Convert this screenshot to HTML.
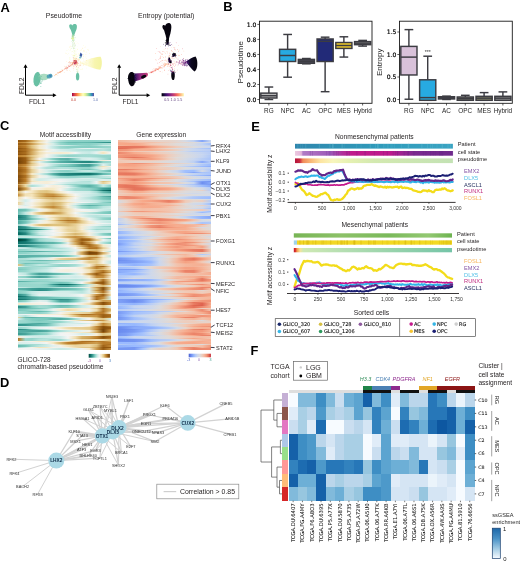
<!DOCTYPE html>
<html lang="en"><head><meta charset="utf-8"><title>Figure</title>
<style>html,body{margin:0;padding:0;background:#fff}svg{display:block}text{font-family:'Liberation Sans', Arial, Helvetica, sans-serif}text.dv{font-family:'DejaVu Sans','Liberation Sans',sans-serif}</style></head>
<body>
<svg width="520" height="563" viewBox="0 0 520 563">
<defs>
<linearGradient id="gFan" x1="0" y1="0" x2="1" y2="0"><stop offset="0" stop-color="#fdf3b0" stop-opacity="0.05"/><stop offset="0.4" stop-color="#fbf4a6" stop-opacity="0.35"/><stop offset="0.7" stop-color="#f6f3a0" stop-opacity="0.85"/><stop offset="1" stop-color="#f3f39c" stop-opacity="0.95"/></linearGradient>
<linearGradient id="gSpec" x1="0" y1="0" x2="1" y2="0"><stop offset="0" stop-color="#9e0142"/><stop offset="0.1" stop-color="#d53e4f"/><stop offset="0.2" stop-color="#f46d43"/><stop offset="0.3" stop-color="#fdae61"/><stop offset="0.4" stop-color="#fee08b"/><stop offset="0.5" stop-color="#ffffbf"/><stop offset="0.6" stop-color="#e6f598"/><stop offset="0.7" stop-color="#abdda4"/><stop offset="0.8" stop-color="#66c2a5"/><stop offset="0.9" stop-color="#3288bd"/><stop offset="1" stop-color="#5e4fa2"/></linearGradient>
<linearGradient id="gRightE"><stop offset="0" stop-color="#2a1760"/><stop offset="0.45" stop-color="#0c0820"/><stop offset="1" stop-color="#05030c"/></linearGradient>
<linearGradient id="gLeftE" x1="0" y1="0" x2="1" y2="0"><stop offset="0" stop-color="#2a115c"/><stop offset="0.4" stop-color="#8c2981"/><stop offset="1" stop-color="#c43c75"/></linearGradient>
<linearGradient id="gMag" x1="0" y1="0" x2="1" y2="0"><stop offset="0" stop-color="#000004"/><stop offset="0.1" stop-color="#160e37"/><stop offset="0.2" stop-color="#3b0f6b"/><stop offset="0.3" stop-color="#641a7e"/><stop offset="0.4" stop-color="#8c2980"/><stop offset="0.5" stop-color="#b63878"/><stop offset="0.6" stop-color="#db4d69"/><stop offset="0.7" stop-color="#f57060"/><stop offset="0.8" stop-color="#fda06f"/><stop offset="0.9" stop-color="#fecf92"/><stop offset="1" stop-color="#fcfdbf"/></linearGradient>
<linearGradient id="m0"><stop offset="0" stop-color="#92560e"/><stop offset="0.08" stop-color="#a5691b"/><stop offset="0.15" stop-color="#ce9f52"/><stop offset="0.23" stop-color="#eedbaa"/><stop offset="0.31" stop-color="#f5f2e9"/><stop offset="0.38" stop-color="#d4edea"/><stop offset="0.46" stop-color="#aaded6"/><stop offset="0.54" stop-color="#92d4ca"/><stop offset="0.62" stop-color="#8bd2c7"/><stop offset="0.69" stop-color="#8bd1c7"/><stop offset="0.77" stop-color="#88d0c5"/><stop offset="0.85" stop-color="#89d1c6"/><stop offset="0.92" stop-color="#8fd3c9"/><stop offset="1" stop-color="#91d4ca"/></linearGradient>
<linearGradient id="m1"><stop offset="0" stop-color="#c0822f"/><stop offset="0.08" stop-color="#ca9748"/><stop offset="0.15" stop-color="#e2c786"/><stop offset="0.23" stop-color="#f6eaca"/><stop offset="0.31" stop-color="#edf3f2"/><stop offset="0.38" stop-color="#bde6e0"/><stop offset="0.46" stop-color="#87d0c5"/><stop offset="0.54" stop-color="#6bbeb3"/><stop offset="0.62" stop-color="#65b9af"/><stop offset="0.69" stop-color="#66baaf"/><stop offset="0.77" stop-color="#61b7ad"/><stop offset="0.85" stop-color="#4ea9a0"/><stop offset="0.92" stop-color="#35978f"/><stop offset="1" stop-color="#2c8e86"/></linearGradient>
<linearGradient id="m2"><stop offset="0" stop-color="#985c12"/><stop offset="0.08" stop-color="#a86c1d"/><stop offset="0.15" stop-color="#cc9b4e"/><stop offset="0.23" stop-color="#e9d39b"/><stop offset="0.31" stop-color="#f5efde"/><stop offset="0.38" stop-color="#d4ede9"/><stop offset="0.46" stop-color="#99d7cd"/><stop offset="0.54" stop-color="#7fcdc1"/><stop offset="0.62" stop-color="#80cdc1"/><stop offset="0.69" stop-color="#88d0c5"/><stop offset="0.77" stop-color="#88d0c5"/><stop offset="0.85" stop-color="#93d5cb"/><stop offset="0.92" stop-color="#a6dcd4"/><stop offset="1" stop-color="#aee0d8"/></linearGradient>
<linearGradient id="m3"><stop offset="0" stop-color="#b27524"/><stop offset="0.08" stop-color="#c48b39"/><stop offset="0.15" stop-color="#e2c887"/><stop offset="0.23" stop-color="#f6ecd2"/><stop offset="0.31" stop-color="#ebf3f1"/><stop offset="0.38" stop-color="#d7eeeb"/><stop offset="0.46" stop-color="#d0ece8"/><stop offset="0.54" stop-color="#c7eae5"/><stop offset="0.62" stop-color="#b0e0d9"/><stop offset="0.69" stop-color="#98d7cd"/><stop offset="0.77" stop-color="#90d3c9"/><stop offset="0.85" stop-color="#a7ddd5"/><stop offset="0.92" stop-color="#caebe6"/><stop offset="1" stop-color="#d5edea"/></linearGradient>
<linearGradient id="m4"><stop offset="0" stop-color="#a26619"/><stop offset="0.08" stop-color="#ba7c29"/><stop offset="0.15" stop-color="#dec07b"/><stop offset="0.23" stop-color="#f6eaca"/><stop offset="0.31" stop-color="#ebf3f2"/><stop offset="0.38" stop-color="#c3e8e3"/><stop offset="0.46" stop-color="#9cd8cf"/><stop offset="0.54" stop-color="#8cd2c7"/><stop offset="0.62" stop-color="#88d0c5"/><stop offset="0.69" stop-color="#87d0c5"/><stop offset="0.77" stop-color="#85cfc4"/><stop offset="0.85" stop-color="#8ad1c6"/><stop offset="0.92" stop-color="#94d5cb"/><stop offset="1" stop-color="#98d7cd"/></linearGradient>
<linearGradient id="m5"><stop offset="0" stop-color="#8b500a"/><stop offset="0.08" stop-color="#a4681b"/><stop offset="0.15" stop-color="#d7b168"/><stop offset="0.23" stop-color="#f6eacb"/><stop offset="0.31" stop-color="#edf3f2"/><stop offset="0.38" stop-color="#c9ebe6"/><stop offset="0.46" stop-color="#a7ddd5"/><stop offset="0.54" stop-color="#9ed9d0"/><stop offset="0.62" stop-color="#c2e8e3"/><stop offset="0.69" stop-color="#e1f0ee"/><stop offset="0.77" stop-color="#e8f2f1"/><stop offset="0.85" stop-color="#d9eeeb"/><stop offset="0.92" stop-color="#bfe7e1"/><stop offset="1" stop-color="#afe0d9"/></linearGradient>
<linearGradient id="m6"><stop offset="0" stop-color="#9a5e13"/><stop offset="0.08" stop-color="#ab6e1f"/><stop offset="0.15" stop-color="#ce9f52"/><stop offset="0.23" stop-color="#ebd6a2"/><stop offset="0.31" stop-color="#f5efdc"/><stop offset="0.38" stop-color="#ebf3f1"/><stop offset="0.46" stop-color="#d5edea"/><stop offset="0.54" stop-color="#c9eae6"/><stop offset="0.62" stop-color="#bde6e0"/><stop offset="0.69" stop-color="#b4e2dc"/><stop offset="0.77" stop-color="#afe0d9"/><stop offset="0.85" stop-color="#b0e0d9"/><stop offset="0.92" stop-color="#b9e4de"/><stop offset="1" stop-color="#a5dcd4"/></linearGradient>
<linearGradient id="m7"><stop offset="0" stop-color="#8a500a"/><stop offset="0.08" stop-color="#a16519"/><stop offset="0.15" stop-color="#d2a85d"/><stop offset="0.23" stop-color="#f6e8c2"/><stop offset="0.31" stop-color="#f5f4f3"/><stop offset="0.38" stop-color="#e5f1ef"/><stop offset="0.46" stop-color="#e0f0ee"/><stop offset="0.54" stop-color="#d6eeea"/><stop offset="0.62" stop-color="#cdebe7"/><stop offset="0.69" stop-color="#c6e9e4"/><stop offset="0.77" stop-color="#c2e8e3"/><stop offset="0.85" stop-color="#daeeeb"/><stop offset="0.92" stop-color="#f6eeda"/><stop offset="1" stop-color="#d5edea"/></linearGradient>
<linearGradient id="m8"><stop offset="0" stop-color="#975b12"/><stop offset="0.08" stop-color="#aa6e1f"/><stop offset="0.15" stop-color="#d2a85d"/><stop offset="0.23" stop-color="#f0deb0"/><stop offset="0.31" stop-color="#f6eeda"/><stop offset="0.38" stop-color="#f6eeda"/><stop offset="0.46" stop-color="#f6ebce"/><stop offset="0.54" stop-color="#f6edd6"/><stop offset="0.62" stop-color="#f2f4f4"/><stop offset="0.69" stop-color="#d1ece8"/><stop offset="0.77" stop-color="#c7eae5"/><stop offset="0.85" stop-color="#e6f1f0"/><stop offset="0.92" stop-color="#f5e6bf"/><stop offset="1" stop-color="#f3f5f4"/></linearGradient>
<linearGradient id="m9"><stop offset="0" stop-color="#8c510a"/><stop offset="0.08" stop-color="#9d6116"/><stop offset="0.15" stop-color="#d0a458"/><stop offset="0.23" stop-color="#f2e2b8"/><stop offset="0.31" stop-color="#f5f3ee"/><stop offset="0.38" stop-color="#d9eeeb"/><stop offset="0.46" stop-color="#c3e8e3"/><stop offset="0.54" stop-color="#b3e2db"/><stop offset="0.62" stop-color="#acdfd7"/><stop offset="0.69" stop-color="#a8ded5"/><stop offset="0.77" stop-color="#a6ddd4"/><stop offset="0.85" stop-color="#b1e1da"/><stop offset="0.92" stop-color="#c8eae5"/><stop offset="1" stop-color="#bce6e0"/></linearGradient>
<linearGradient id="m10"><stop offset="0" stop-color="#bd7f2b"/><stop offset="0.08" stop-color="#c79241"/><stop offset="0.15" stop-color="#e2c685"/><stop offset="0.23" stop-color="#f6e8c4"/><stop offset="0.31" stop-color="#f5f3ee"/><stop offset="0.38" stop-color="#d1ece9"/><stop offset="0.46" stop-color="#a4dcd3"/><stop offset="0.54" stop-color="#92d4ca"/><stop offset="0.62" stop-color="#98d7cd"/><stop offset="0.69" stop-color="#a3dbd3"/><stop offset="0.77" stop-color="#a4dcd4"/><stop offset="0.85" stop-color="#9ed9d0"/><stop offset="0.92" stop-color="#97d6cc"/><stop offset="1" stop-color="#93d5cb"/></linearGradient>
<linearGradient id="m11"><stop offset="0" stop-color="#8a500a"/><stop offset="0.08" stop-color="#a26619"/><stop offset="0.15" stop-color="#d7b269"/><stop offset="0.23" stop-color="#f6ecd1"/><stop offset="0.31" stop-color="#e7f2f0"/><stop offset="0.38" stop-color="#dcefec"/><stop offset="0.46" stop-color="#def0ed"/><stop offset="0.54" stop-color="#d8eeeb"/><stop offset="0.62" stop-color="#d0ece8"/><stop offset="0.69" stop-color="#caebe6"/><stop offset="0.77" stop-color="#c6eae5"/><stop offset="0.85" stop-color="#b5e3dc"/><stop offset="0.92" stop-color="#9ed9d0"/><stop offset="1" stop-color="#93d5ca"/></linearGradient>
<linearGradient id="m12"><stop offset="0" stop-color="#774408"/><stop offset="0.08" stop-color="#995d13"/><stop offset="0.15" stop-color="#dec07a"/><stop offset="0.23" stop-color="#f5f3ef"/><stop offset="0.31" stop-color="#bee7e1"/><stop offset="0.38" stop-color="#83cec2"/><stop offset="0.46" stop-color="#5db4a9"/><stop offset="0.54" stop-color="#56aea5"/><stop offset="0.62" stop-color="#91d4c9"/><stop offset="0.69" stop-color="#d1ece9"/><stop offset="0.77" stop-color="#ddefed"/><stop offset="0.85" stop-color="#ccebe7"/><stop offset="0.92" stop-color="#afe0d9"/><stop offset="1" stop-color="#88d0c5"/></linearGradient>
<linearGradient id="m13"><stop offset="0" stop-color="#7b4709"/><stop offset="0.08" stop-color="#965a11"/><stop offset="0.15" stop-color="#cea054"/><stop offset="0.23" stop-color="#efddaf"/><stop offset="0.31" stop-color="#f5f2e9"/><stop offset="0.38" stop-color="#c3e8e3"/><stop offset="0.46" stop-color="#78c7bc"/><stop offset="0.54" stop-color="#66bbb0"/><stop offset="0.62" stop-color="#83cec3"/><stop offset="0.69" stop-color="#a7ddd5"/><stop offset="0.77" stop-color="#b3e2db"/><stop offset="0.85" stop-color="#d8eeeb"/><stop offset="0.92" stop-color="#f6ecd2"/><stop offset="1" stop-color="#f0f4f3"/></linearGradient>
<linearGradient id="m14"><stop offset="0" stop-color="#734208"/><stop offset="0.08" stop-color="#975b11"/><stop offset="0.15" stop-color="#e7cf95"/><stop offset="0.23" stop-color="#e5f1ef"/><stop offset="0.31" stop-color="#a8ddd5"/><stop offset="0.38" stop-color="#77c6bb"/><stop offset="0.46" stop-color="#56afa5"/><stop offset="0.54" stop-color="#47a49b"/><stop offset="0.62" stop-color="#34968e"/><stop offset="0.69" stop-color="#288a82"/><stop offset="0.77" stop-color="#258880"/><stop offset="0.85" stop-color="#4ba79d"/><stop offset="0.92" stop-color="#93d5cb"/><stop offset="1" stop-color="#9cd8cf"/></linearGradient>
<linearGradient id="m15"><stop offset="0" stop-color="#7b4708"/><stop offset="0.08" stop-color="#9a5e13"/><stop offset="0.15" stop-color="#dec07a"/><stop offset="0.23" stop-color="#f5f0e0"/><stop offset="0.31" stop-color="#e1f0ee"/><stop offset="0.38" stop-color="#d3ede9"/><stop offset="0.46" stop-color="#cfece8"/><stop offset="0.54" stop-color="#caebe6"/><stop offset="0.62" stop-color="#c5e9e4"/><stop offset="0.69" stop-color="#c0e7e1"/><stop offset="0.77" stop-color="#bee6e0"/><stop offset="0.85" stop-color="#c0e7e1"/><stop offset="0.92" stop-color="#c9eae6"/><stop offset="1" stop-color="#b6e3dc"/></linearGradient>
<linearGradient id="m16"><stop offset="0" stop-color="#a86b1d"/><stop offset="0.08" stop-color="#c38836"/><stop offset="0.15" stop-color="#e7cf95"/><stop offset="0.23" stop-color="#f6edd8"/><stop offset="0.31" stop-color="#e4f1ef"/><stop offset="0.38" stop-color="#b9e4de"/><stop offset="0.46" stop-color="#91d4c9"/><stop offset="0.54" stop-color="#80cdc1"/><stop offset="0.62" stop-color="#62b8ad"/><stop offset="0.69" stop-color="#44a299"/><stop offset="0.77" stop-color="#3d9c94"/><stop offset="0.85" stop-color="#7ac9bd"/><stop offset="0.92" stop-color="#e1f0ee"/><stop offset="1" stop-color="#a9ded6"/></linearGradient>
<linearGradient id="m17"><stop offset="0" stop-color="#b07323"/><stop offset="0.08" stop-color="#cfa154"/><stop offset="0.15" stop-color="#f6e7c2"/><stop offset="0.23" stop-color="#f4f5f5"/><stop offset="0.31" stop-color="#d0ece8"/><stop offset="0.38" stop-color="#a2dbd2"/><stop offset="0.46" stop-color="#7bc9be"/><stop offset="0.54" stop-color="#6ec0b5"/><stop offset="0.62" stop-color="#5cb3a9"/><stop offset="0.69" stop-color="#4aa69d"/><stop offset="0.77" stop-color="#4aa69d"/><stop offset="0.85" stop-color="#aee0d8"/><stop offset="0.92" stop-color="#f2e1b6"/><stop offset="1" stop-color="#f5f1e7"/></linearGradient>
<linearGradient id="m18"><stop offset="0" stop-color="#975b11"/><stop offset="0.08" stop-color="#bf812d"/><stop offset="0.15" stop-color="#f2e2b7"/><stop offset="0.23" stop-color="#dff0ed"/><stop offset="0.31" stop-color="#b2e1da"/><stop offset="0.38" stop-color="#addfd8"/><stop offset="0.46" stop-color="#b5e3dc"/><stop offset="0.54" stop-color="#afe0d9"/><stop offset="0.62" stop-color="#a0dad1"/><stop offset="0.69" stop-color="#92d4ca"/><stop offset="0.77" stop-color="#90d3c9"/><stop offset="0.85" stop-color="#c5e9e4"/><stop offset="0.92" stop-color="#f6edd8"/><stop offset="1" stop-color="#d2ede9"/></linearGradient>
<linearGradient id="m19"><stop offset="0" stop-color="#8f530c"/><stop offset="0.08" stop-color="#b17323"/><stop offset="0.15" stop-color="#e7cf94"/><stop offset="0.23" stop-color="#f5f2ea"/><stop offset="0.31" stop-color="#d9eeeb"/><stop offset="0.38" stop-color="#d8eeeb"/><stop offset="0.46" stop-color="#e0f0ee"/><stop offset="0.54" stop-color="#daefec"/><stop offset="0.62" stop-color="#b5e3dc"/><stop offset="0.69" stop-color="#81cdc1"/><stop offset="0.77" stop-color="#72c3b8"/><stop offset="0.85" stop-color="#a1dbd2"/><stop offset="0.92" stop-color="#eef3f3"/><stop offset="1" stop-color="#b4e2dc"/></linearGradient>
<linearGradient id="m20"><stop offset="0" stop-color="#8e530b"/><stop offset="0.08" stop-color="#b47726"/><stop offset="0.15" stop-color="#e7cf94"/><stop offset="0.23" stop-color="#f5f0e2"/><stop offset="0.31" stop-color="#d8eeeb"/><stop offset="0.38" stop-color="#aee0d9"/><stop offset="0.46" stop-color="#8fd3c8"/><stop offset="0.54" stop-color="#87d0c5"/><stop offset="0.62" stop-color="#a0dad1"/><stop offset="0.69" stop-color="#bfe7e1"/><stop offset="0.77" stop-color="#c6eae5"/><stop offset="0.85" stop-color="#aee0d8"/><stop offset="0.92" stop-color="#8fd3c9"/><stop offset="1" stop-color="#67bbb1"/></linearGradient>
<linearGradient id="m21"><stop offset="0" stop-color="#975c12"/><stop offset="0.08" stop-color="#bb7d2a"/><stop offset="0.15" stop-color="#e7cf95"/><stop offset="0.23" stop-color="#f5efde"/><stop offset="0.31" stop-color="#e3f1ef"/><stop offset="0.38" stop-color="#c1e7e2"/><stop offset="0.46" stop-color="#9ed9d0"/><stop offset="0.54" stop-color="#92d5ca"/><stop offset="0.62" stop-color="#8ad1c6"/><stop offset="0.69" stop-color="#84cfc3"/><stop offset="0.77" stop-color="#82cec2"/><stop offset="0.85" stop-color="#90d4c9"/><stop offset="0.92" stop-color="#a6ddd4"/><stop offset="1" stop-color="#b1e1da"/></linearGradient>
<linearGradient id="m22"><stop offset="0" stop-color="#975b12"/><stop offset="0.08" stop-color="#c48b39"/><stop offset="0.15" stop-color="#f6e9c7"/><stop offset="0.23" stop-color="#dcefec"/><stop offset="0.31" stop-color="#a1dad2"/><stop offset="0.38" stop-color="#5cb3a9"/><stop offset="0.46" stop-color="#2c8e86"/><stop offset="0.54" stop-color="#21847c"/><stop offset="0.62" stop-color="#197d75"/><stop offset="0.69" stop-color="#12766e"/><stop offset="0.77" stop-color="#11756d"/><stop offset="0.85" stop-color="#2d8f87"/><stop offset="0.92" stop-color="#64b9af"/><stop offset="1" stop-color="#80cdc1"/></linearGradient>
<linearGradient id="m23"><stop offset="0" stop-color="#844d09"/><stop offset="0.08" stop-color="#ad7021"/><stop offset="0.15" stop-color="#e5cc90"/><stop offset="0.23" stop-color="#f5f0e0"/><stop offset="0.31" stop-color="#d9eeeb"/><stop offset="0.38" stop-color="#8bd2c7"/><stop offset="0.46" stop-color="#43a198"/><stop offset="0.54" stop-color="#34968e"/><stop offset="0.62" stop-color="#46a39a"/><stop offset="0.69" stop-color="#5db4aa"/><stop offset="0.77" stop-color="#65baaf"/><stop offset="0.85" stop-color="#95d6cc"/><stop offset="0.92" stop-color="#d4edea"/><stop offset="1" stop-color="#e9f2f1"/></linearGradient>
<linearGradient id="m24"><stop offset="0" stop-color="#814a09"/><stop offset="0.08" stop-color="#ae7122"/><stop offset="0.15" stop-color="#e8d199"/><stop offset="0.23" stop-color="#f5f1e6"/><stop offset="0.31" stop-color="#e6f1f0"/><stop offset="0.38" stop-color="#c5e9e4"/><stop offset="0.46" stop-color="#9ed9d0"/><stop offset="0.54" stop-color="#93d5cb"/><stop offset="0.62" stop-color="#97d6cd"/><stop offset="0.69" stop-color="#9ed9d0"/><stop offset="0.77" stop-color="#a1dad1"/><stop offset="0.85" stop-color="#abdfd7"/><stop offset="0.92" stop-color="#bce5df"/><stop offset="1" stop-color="#c4e9e3"/></linearGradient>
<linearGradient id="m25"><stop offset="0" stop-color="#8b500a"/><stop offset="0.08" stop-color="#c18532"/><stop offset="0.15" stop-color="#f6eacc"/><stop offset="0.23" stop-color="#d7eeea"/><stop offset="0.31" stop-color="#d5edea"/><stop offset="0.38" stop-color="#d5edea"/><stop offset="0.46" stop-color="#cdece7"/><stop offset="0.54" stop-color="#c4e9e4"/><stop offset="0.62" stop-color="#ccebe7"/><stop offset="0.69" stop-color="#d8eeeb"/><stop offset="0.77" stop-color="#daefec"/><stop offset="0.85" stop-color="#c8eae5"/><stop offset="0.92" stop-color="#a1dbd2"/><stop offset="1" stop-color="#8fd3c8"/></linearGradient>
<linearGradient id="m26"><stop offset="0" stop-color="#804a09"/><stop offset="0.08" stop-color="#ba7c29"/><stop offset="0.15" stop-color="#f6ebcd"/><stop offset="0.23" stop-color="#cfece8"/><stop offset="0.31" stop-color="#dbefec"/><stop offset="0.38" stop-color="#ebf3f2"/><stop offset="0.46" stop-color="#eff3f3"/><stop offset="0.54" stop-color="#e2f0ee"/><stop offset="0.62" stop-color="#d6edea"/><stop offset="0.69" stop-color="#ceece7"/><stop offset="0.77" stop-color="#cbebe6"/><stop offset="0.85" stop-color="#d2ede9"/><stop offset="0.92" stop-color="#e2f0ee"/><stop offset="1" stop-color="#daeeeb"/></linearGradient>
<linearGradient id="m27"><stop offset="0" stop-color="#7c4809"/><stop offset="0.08" stop-color="#b87a28"/><stop offset="0.15" stop-color="#f3e3ba"/><stop offset="0.23" stop-color="#f6eed9"/><stop offset="0.31" stop-color="#f6edd5"/><stop offset="0.38" stop-color="#f5efdf"/><stop offset="0.46" stop-color="#f5f4f2"/><stop offset="0.54" stop-color="#e4f1ef"/><stop offset="0.62" stop-color="#ceece8"/><stop offset="0.69" stop-color="#b7e3dd"/><stop offset="0.77" stop-color="#b0e1d9"/><stop offset="0.85" stop-color="#eef3f3"/><stop offset="0.92" stop-color="#debf7a"/><stop offset="1" stop-color="#efdcae"/></linearGradient>
<linearGradient id="m28"><stop offset="0" stop-color="#93580f"/><stop offset="0.08" stop-color="#cb9a4c"/><stop offset="0.15" stop-color="#f5f0e3"/><stop offset="0.23" stop-color="#f5efdf"/><stop offset="0.31" stop-color="#f6edd7"/><stop offset="0.38" stop-color="#f5f2ea"/><stop offset="0.46" stop-color="#e1f0ee"/><stop offset="0.54" stop-color="#c9eae6"/><stop offset="0.62" stop-color="#bbe5df"/><stop offset="0.69" stop-color="#b9e4de"/><stop offset="0.77" stop-color="#b9e4de"/><stop offset="0.85" stop-color="#eaf2f1"/><stop offset="0.92" stop-color="#e7d097"/><stop offset="1" stop-color="#f6ebcf"/></linearGradient>
<linearGradient id="m29"><stop offset="0" stop-color="#cfa154"/><stop offset="0.08" stop-color="#edd9a8"/><stop offset="0.15" stop-color="#d7eeeb"/><stop offset="0.23" stop-color="#dff0ed"/><stop offset="0.31" stop-color="#e9f2f1"/><stop offset="0.38" stop-color="#e0f0ee"/><stop offset="0.46" stop-color="#c8eae5"/><stop offset="0.54" stop-color="#a2dbd2"/><stop offset="0.62" stop-color="#8ed3c8"/><stop offset="0.69" stop-color="#89d0c5"/><stop offset="0.77" stop-color="#85cfc4"/><stop offset="0.85" stop-color="#9ed9d0"/><stop offset="0.92" stop-color="#ceece7"/><stop offset="1" stop-color="#b9e4de"/></linearGradient>
<linearGradient id="m30"><stop offset="0" stop-color="#a76b1d"/><stop offset="0.08" stop-color="#ead59f"/><stop offset="0.15" stop-color="#addfd8"/><stop offset="0.23" stop-color="#ceece7"/><stop offset="0.31" stop-color="#f5f4f1"/><stop offset="0.38" stop-color="#f6edd8"/><stop offset="0.46" stop-color="#f5f2e8"/><stop offset="0.54" stop-color="#d3ede9"/><stop offset="0.62" stop-color="#96d6cc"/><stop offset="0.69" stop-color="#6bbeb3"/><stop offset="0.77" stop-color="#59b1a7"/><stop offset="0.85" stop-color="#7ac9bd"/><stop offset="0.92" stop-color="#c8eae5"/><stop offset="1" stop-color="#86cfc4"/></linearGradient>
<linearGradient id="m31"><stop offset="0" stop-color="#965a11"/><stop offset="0.08" stop-color="#d5ae64"/><stop offset="0.15" stop-color="#f5f4f1"/><stop offset="0.23" stop-color="#f5f2e9"/><stop offset="0.31" stop-color="#f6eeda"/><stop offset="0.38" stop-color="#f6edd6"/><stop offset="0.46" stop-color="#f5f0e0"/><stop offset="0.54" stop-color="#e8f2f1"/><stop offset="0.62" stop-color="#b9e4de"/><stop offset="0.69" stop-color="#84cfc3"/><stop offset="0.77" stop-color="#6fc1b6"/><stop offset="0.85" stop-color="#6dc0b5"/><stop offset="0.92" stop-color="#76c6ba"/><stop offset="1" stop-color="#60b6ab"/></linearGradient>
<linearGradient id="m32"><stop offset="0" stop-color="#7c4809"/><stop offset="0.08" stop-color="#ca9849"/><stop offset="0.15" stop-color="#f5f0e3"/><stop offset="0.23" stop-color="#f5efdd"/><stop offset="0.31" stop-color="#f6e8c2"/><stop offset="0.38" stop-color="#f6e9c6"/><stop offset="0.46" stop-color="#f5f3ed"/><stop offset="0.54" stop-color="#cbebe6"/><stop offset="0.62" stop-color="#a4dcd3"/><stop offset="0.69" stop-color="#9cd8cf"/><stop offset="0.77" stop-color="#93d5cb"/><stop offset="0.85" stop-color="#71c2b7"/><stop offset="0.92" stop-color="#42a198"/><stop offset="1" stop-color="#2e9088"/></linearGradient>
<linearGradient id="m33"><stop offset="0" stop-color="#92570e"/><stop offset="0.08" stop-color="#e7d097"/><stop offset="0.15" stop-color="#f6e9c9"/><stop offset="0.23" stop-color="#e8d198"/><stop offset="0.31" stop-color="#e3c889"/><stop offset="0.38" stop-color="#f0dfb2"/><stop offset="0.46" stop-color="#f5f5f5"/><stop offset="0.54" stop-color="#c4e9e3"/><stop offset="0.62" stop-color="#a2dbd2"/><stop offset="0.69" stop-color="#9cd8cf"/><stop offset="0.77" stop-color="#93d5cb"/><stop offset="0.85" stop-color="#58b0a6"/><stop offset="0.92" stop-color="#12766e"/><stop offset="1" stop-color="#015c53"/></linearGradient>
<linearGradient id="m34"><stop offset="0" stop-color="#ddbd77"/><stop offset="0.08" stop-color="#f5f2e9"/><stop offset="0.15" stop-color="#f6e8c4"/><stop offset="0.23" stop-color="#e4cb8d"/><stop offset="0.31" stop-color="#e0c480"/><stop offset="0.38" stop-color="#e9d29b"/><stop offset="0.46" stop-color="#f6ecd1"/><stop offset="0.54" stop-color="#f1f4f3"/><stop offset="0.62" stop-color="#ddefed"/><stop offset="0.69" stop-color="#d7eeea"/><stop offset="0.77" stop-color="#d0ece8"/><stop offset="0.85" stop-color="#a7ddd5"/><stop offset="0.92" stop-color="#66baaf"/><stop offset="1" stop-color="#43a199"/></linearGradient>
<linearGradient id="m35"><stop offset="0" stop-color="#d4ac62"/><stop offset="0.08" stop-color="#f4e5be"/><stop offset="0.15" stop-color="#eddaa9"/><stop offset="0.23" stop-color="#dab870"/><stop offset="0.31" stop-color="#cfa154"/><stop offset="0.38" stop-color="#d6b067"/><stop offset="0.46" stop-color="#ecd8a6"/><stop offset="0.54" stop-color="#f5efdf"/><stop offset="0.62" stop-color="#ecf3f2"/><stop offset="0.69" stop-color="#dff0ed"/><stop offset="0.77" stop-color="#d6eeea"/><stop offset="0.85" stop-color="#bfe7e1"/><stop offset="0.92" stop-color="#95d6cc"/><stop offset="1" stop-color="#80cdc1"/></linearGradient>
<linearGradient id="m36"><stop offset="0" stop-color="#c6903f"/><stop offset="0.08" stop-color="#f1e0b5"/><stop offset="0.15" stop-color="#f4e4bc"/><stop offset="0.23" stop-color="#ddbf79"/><stop offset="0.31" stop-color="#c99646"/><stop offset="0.38" stop-color="#c68f3e"/><stop offset="0.46" stop-color="#dab871"/><stop offset="0.54" stop-color="#f4e5bd"/><stop offset="0.62" stop-color="#f5f4f0"/><stop offset="0.69" stop-color="#dbefec"/><stop offset="0.77" stop-color="#ccebe7"/><stop offset="0.85" stop-color="#bbe5df"/><stop offset="0.92" stop-color="#a7ddd5"/><stop offset="1" stop-color="#9dd9cf"/></linearGradient>
<linearGradient id="m37"><stop offset="0" stop-color="#d9b76f"/><stop offset="0.08" stop-color="#f6ebcd"/><stop offset="0.15" stop-color="#f4e5be"/><stop offset="0.23" stop-color="#d9b76f"/><stop offset="0.31" stop-color="#c38937"/><stop offset="0.38" stop-color="#b77a28"/><stop offset="0.46" stop-color="#c99445"/><stop offset="0.54" stop-color="#e6ce94"/><stop offset="0.62" stop-color="#f5efdd"/><stop offset="0.69" stop-color="#dff0ed"/><stop offset="0.77" stop-color="#c9eae6"/><stop offset="0.85" stop-color="#9dd9d0"/><stop offset="0.92" stop-color="#62b8ad"/><stop offset="1" stop-color="#43a198"/></linearGradient>
<linearGradient id="m38"><stop offset="0" stop-color="#f2e1b7"/><stop offset="0.08" stop-color="#f5f5f3"/><stop offset="0.15" stop-color="#f6eacc"/><stop offset="0.23" stop-color="#e7cf95"/><stop offset="0.31" stop-color="#dab871"/><stop offset="0.38" stop-color="#d5ae65"/><stop offset="0.46" stop-color="#e1c583"/><stop offset="0.54" stop-color="#f4e4bc"/><stop offset="0.62" stop-color="#f5f4f1"/><stop offset="0.69" stop-color="#d1ece8"/><stop offset="0.77" stop-color="#b7e3dd"/><stop offset="0.85" stop-color="#99d7ce"/><stop offset="0.92" stop-color="#77c7bb"/><stop offset="1" stop-color="#64b9ae"/></linearGradient>
<linearGradient id="m39"><stop offset="0" stop-color="#f6e9c6"/><stop offset="0.08" stop-color="#dbefec"/><stop offset="0.15" stop-color="#e9f2f1"/><stop offset="0.23" stop-color="#f6eeda"/><stop offset="0.31" stop-color="#ecd7a4"/><stop offset="0.38" stop-color="#e0c481"/><stop offset="0.46" stop-color="#e6cd91"/><stop offset="0.54" stop-color="#f6ecd2"/><stop offset="0.62" stop-color="#eaf2f1"/><stop offset="0.69" stop-color="#d3ede9"/><stop offset="0.77" stop-color="#c4e9e4"/><stop offset="0.85" stop-color="#a5dcd4"/><stop offset="0.92" stop-color="#81cec2"/><stop offset="1" stop-color="#6dc0b5"/></linearGradient>
<linearGradient id="m40"><stop offset="0" stop-color="#f6ecd4"/><stop offset="0.08" stop-color="#d4edea"/><stop offset="0.15" stop-color="#f3f4f4"/><stop offset="0.23" stop-color="#f6ecd1"/><stop offset="0.31" stop-color="#eedaa9"/><stop offset="0.38" stop-color="#e7d097"/><stop offset="0.46" stop-color="#efddaf"/><stop offset="0.54" stop-color="#f5efdd"/><stop offset="0.62" stop-color="#ecf3f2"/><stop offset="0.69" stop-color="#deefed"/><stop offset="0.77" stop-color="#d4edea"/><stop offset="0.85" stop-color="#c3e8e3"/><stop offset="0.92" stop-color="#a5dcd4"/><stop offset="1" stop-color="#96d6cc"/></linearGradient>
<linearGradient id="m41"><stop offset="0" stop-color="#e9d29a"/><stop offset="0.08" stop-color="#e3f1ef"/><stop offset="0.15" stop-color="#f5f1e5"/><stop offset="0.23" stop-color="#f3e4bb"/><stop offset="0.31" stop-color="#e3c989"/><stop offset="0.38" stop-color="#d8b36b"/><stop offset="0.46" stop-color="#debf7a"/><stop offset="0.54" stop-color="#f0deb1"/><stop offset="0.62" stop-color="#f5efde"/><stop offset="0.69" stop-color="#f2f4f4"/><stop offset="0.77" stop-color="#e4f1ef"/><stop offset="0.85" stop-color="#c8eae5"/><stop offset="0.92" stop-color="#8fd3c9"/><stop offset="1" stop-color="#71c2b7"/></linearGradient>
<linearGradient id="m42"><stop offset="0" stop-color="#ebd6a3"/><stop offset="0.08" stop-color="#e3f1ef"/><stop offset="0.15" stop-color="#f5f0e3"/><stop offset="0.23" stop-color="#f0dfb2"/><stop offset="0.31" stop-color="#dec17c"/><stop offset="0.38" stop-color="#d4ac62"/><stop offset="0.46" stop-color="#e0c481"/><stop offset="0.54" stop-color="#f6ecd1"/><stop offset="0.62" stop-color="#deefed"/><stop offset="0.69" stop-color="#b5e3dc"/><stop offset="0.77" stop-color="#9cd9cf"/><stop offset="0.85" stop-color="#96d6cc"/><stop offset="0.92" stop-color="#97d6cd"/><stop offset="1" stop-color="#97d6cc"/></linearGradient>
<linearGradient id="m43"><stop offset="0" stop-color="#f5f0e4"/><stop offset="0.08" stop-color="#d8eeeb"/><stop offset="0.15" stop-color="#f5f3ef"/><stop offset="0.23" stop-color="#f4e5bd"/><stop offset="0.31" stop-color="#e0c480"/><stop offset="0.38" stop-color="#d5ae64"/><stop offset="0.46" stop-color="#e4cb8d"/><stop offset="0.54" stop-color="#f5f1e4"/><stop offset="0.62" stop-color="#bde6e0"/><stop offset="0.69" stop-color="#76c5ba"/><stop offset="0.77" stop-color="#57b0a6"/><stop offset="0.85" stop-color="#67bbb0"/><stop offset="0.92" stop-color="#8ad1c6"/><stop offset="1" stop-color="#99d7ce"/></linearGradient>
<linearGradient id="m44"><stop offset="0" stop-color="#f5f1e6"/><stop offset="0.08" stop-color="#ebf3f2"/><stop offset="0.15" stop-color="#f6eedb"/><stop offset="0.23" stop-color="#e9d39c"/><stop offset="0.31" stop-color="#cea053"/><stop offset="0.38" stop-color="#c28835"/><stop offset="0.46" stop-color="#d7b26a"/><stop offset="0.54" stop-color="#f6ecd2"/><stop offset="0.62" stop-color="#d3ede9"/><stop offset="0.69" stop-color="#9ed9d0"/><stop offset="0.77" stop-color="#84cfc3"/><stop offset="0.85" stop-color="#95d6cc"/><stop offset="0.92" stop-color="#bbe5df"/><stop offset="1" stop-color="#caebe6"/></linearGradient>
<linearGradient id="m45"><stop offset="0" stop-color="#caebe6"/><stop offset="0.08" stop-color="#bde6e0"/><stop offset="0.15" stop-color="#deefed"/><stop offset="0.23" stop-color="#f6eedb"/><stop offset="0.31" stop-color="#e7d096"/><stop offset="0.38" stop-color="#d3a95f"/><stop offset="0.46" stop-color="#d7b168"/><stop offset="0.54" stop-color="#f2e2b8"/><stop offset="0.62" stop-color="#e9f2f1"/><stop offset="0.69" stop-color="#b0e1d9"/><stop offset="0.77" stop-color="#92d4ca"/><stop offset="0.85" stop-color="#a2dbd2"/><stop offset="0.92" stop-color="#c7eae5"/><stop offset="1" stop-color="#d2ede9"/></linearGradient>
<linearGradient id="m46"><stop offset="0" stop-color="#64b9ae"/><stop offset="0.08" stop-color="#76c6ba"/><stop offset="0.15" stop-color="#b5e3dc"/><stop offset="0.23" stop-color="#ecf3f2"/><stop offset="0.31" stop-color="#f6eacb"/><stop offset="0.38" stop-color="#e8d097"/><stop offset="0.46" stop-color="#e1c684"/><stop offset="0.54" stop-color="#f1dfb2"/><stop offset="0.62" stop-color="#f5f1e7"/><stop offset="0.69" stop-color="#f3f5f4"/><stop offset="0.77" stop-color="#ebf3f1"/><stop offset="0.85" stop-color="#dcefec"/><stop offset="0.92" stop-color="#ccebe7"/><stop offset="1" stop-color="#c2e8e3"/></linearGradient>
<linearGradient id="m47"><stop offset="0" stop-color="#6cbeb4"/><stop offset="0.08" stop-color="#94d5cb"/><stop offset="0.15" stop-color="#d0ece8"/><stop offset="0.23" stop-color="#f5f2e9"/><stop offset="0.31" stop-color="#f1e0b4"/><stop offset="0.38" stop-color="#e3c989"/><stop offset="0.46" stop-color="#e0c481"/><stop offset="0.54" stop-color="#f2e1b7"/><stop offset="0.62" stop-color="#f5f0e0"/><stop offset="0.69" stop-color="#f5f0e1"/><stop offset="0.77" stop-color="#f5f2e9"/><stop offset="0.85" stop-color="#ddefed"/><stop offset="0.92" stop-color="#a0dad1"/><stop offset="1" stop-color="#7bcabe"/></linearGradient>
<linearGradient id="m48"><stop offset="0" stop-color="#71c2b7"/><stop offset="0.08" stop-color="#c1e7e2"/><stop offset="0.15" stop-color="#f6edd6"/><stop offset="0.23" stop-color="#e0c37f"/><stop offset="0.31" stop-color="#cc9b4d"/><stop offset="0.38" stop-color="#c89445"/><stop offset="0.46" stop-color="#d4ab61"/><stop offset="0.54" stop-color="#f1e0b4"/><stop offset="0.62" stop-color="#f3f5f4"/><stop offset="0.69" stop-color="#d2ede9"/><stop offset="0.77" stop-color="#b8e4dd"/><stop offset="0.85" stop-color="#9cd9cf"/><stop offset="0.92" stop-color="#84cec3"/><stop offset="1" stop-color="#75c5ba"/></linearGradient>
<linearGradient id="m49"><stop offset="0" stop-color="#70c2b7"/><stop offset="0.08" stop-color="#b8e4dd"/><stop offset="0.15" stop-color="#f5efdf"/><stop offset="0.23" stop-color="#e8d29a"/><stop offset="0.31" stop-color="#e0c37f"/><stop offset="0.38" stop-color="#debf7a"/><stop offset="0.46" stop-color="#e1c582"/><stop offset="0.54" stop-color="#eedaa9"/><stop offset="0.62" stop-color="#f5efdf"/><stop offset="0.69" stop-color="#e8f2f0"/><stop offset="0.77" stop-color="#d7eeea"/><stop offset="0.85" stop-color="#d6eeea"/><stop offset="0.92" stop-color="#def0ed"/><stop offset="1" stop-color="#e1f0ee"/></linearGradient>
<linearGradient id="m50"><stop offset="0" stop-color="#197d75"/><stop offset="0.08" stop-color="#3d9d94"/><stop offset="0.15" stop-color="#94d5cb"/><stop offset="0.23" stop-color="#d8eeeb"/><stop offset="0.31" stop-color="#f5f3ec"/><stop offset="0.38" stop-color="#f6eacb"/><stop offset="0.46" stop-color="#eddaa9"/><stop offset="0.54" stop-color="#eddaa9"/><stop offset="0.62" stop-color="#f5efdd"/><stop offset="0.69" stop-color="#e0f0ee"/><stop offset="0.77" stop-color="#c3e8e3"/><stop offset="0.85" stop-color="#b7e3dd"/><stop offset="0.92" stop-color="#bce6e0"/><stop offset="1" stop-color="#bee6e1"/></linearGradient>
<linearGradient id="m51"><stop offset="0" stop-color="#12766e"/><stop offset="0.08" stop-color="#389991"/><stop offset="0.15" stop-color="#99d7ce"/><stop offset="0.23" stop-color="#e0f0ee"/><stop offset="0.31" stop-color="#f5efdf"/><stop offset="0.38" stop-color="#eedbab"/><stop offset="0.46" stop-color="#debf7a"/><stop offset="0.54" stop-color="#d6b067"/><stop offset="0.62" stop-color="#e6cd92"/><stop offset="0.69" stop-color="#f5efde"/><stop offset="0.77" stop-color="#d6eeea"/><stop offset="0.85" stop-color="#b2e1da"/><stop offset="0.92" stop-color="#9fd9d0"/><stop offset="1" stop-color="#95d5cc"/></linearGradient>
<linearGradient id="m52"><stop offset="0" stop-color="#24877f"/><stop offset="0.08" stop-color="#3b9b93"/><stop offset="0.15" stop-color="#71c2b7"/><stop offset="0.23" stop-color="#acdfd7"/><stop offset="0.31" stop-color="#e4f1ef"/><stop offset="0.38" stop-color="#f6e8c4"/><stop offset="0.46" stop-color="#dec07b"/><stop offset="0.54" stop-color="#d1a559"/><stop offset="0.62" stop-color="#d8b36b"/><stop offset="0.69" stop-color="#f4e4bd"/><stop offset="0.77" stop-color="#ecf3f2"/><stop offset="0.85" stop-color="#bfe7e1"/><stop offset="0.92" stop-color="#94d5cb"/><stop offset="1" stop-color="#7fccc1"/></linearGradient>
<linearGradient id="m53"><stop offset="0" stop-color="#5db4aa"/><stop offset="0.08" stop-color="#80cdc1"/><stop offset="0.15" stop-color="#bde6e0"/><stop offset="0.23" stop-color="#ebf3f2"/><stop offset="0.31" stop-color="#f6ebd0"/><stop offset="0.38" stop-color="#e3c889"/><stop offset="0.46" stop-color="#c58d3c"/><stop offset="0.54" stop-color="#ae7121"/><stop offset="0.62" stop-color="#bc7e2b"/><stop offset="0.69" stop-color="#e7d097"/><stop offset="0.77" stop-color="#f5f3ee"/><stop offset="0.85" stop-color="#d9eeeb"/><stop offset="0.92" stop-color="#d0ece8"/><stop offset="1" stop-color="#ccebe7"/></linearGradient>
<linearGradient id="m54"><stop offset="0" stop-color="#4da99f"/><stop offset="0.08" stop-color="#72c3b8"/><stop offset="0.15" stop-color="#b4e2db"/><stop offset="0.23" stop-color="#e7f2f0"/><stop offset="0.31" stop-color="#f5efdc"/><stop offset="0.38" stop-color="#f2e1b6"/><stop offset="0.46" stop-color="#e0c480"/><stop offset="0.54" stop-color="#cd9d4f"/><stop offset="0.62" stop-color="#cb9a4c"/><stop offset="0.69" stop-color="#e4ca8b"/><stop offset="0.77" stop-color="#f6ecd3"/><stop offset="0.85" stop-color="#ebf3f2"/><stop offset="0.92" stop-color="#d2ede9"/><stop offset="1" stop-color="#c4e9e3"/></linearGradient>
<linearGradient id="m55"><stop offset="0" stop-color="#4da89f"/><stop offset="0.08" stop-color="#81cdc2"/><stop offset="0.15" stop-color="#d6eeea"/><stop offset="0.23" stop-color="#f5efe0"/><stop offset="0.31" stop-color="#f6e8c4"/><stop offset="0.38" stop-color="#eedbab"/><stop offset="0.46" stop-color="#e3c98a"/><stop offset="0.54" stop-color="#dab770"/><stop offset="0.62" stop-color="#dec07b"/><stop offset="0.69" stop-color="#ead49f"/><stop offset="0.77" stop-color="#f6e9c8"/><stop offset="0.85" stop-color="#f5f1e5"/><stop offset="0.92" stop-color="#f0f4f3"/><stop offset="1" stop-color="#e5f1ef"/></linearGradient>
<linearGradient id="m56"><stop offset="0" stop-color="#99d7ce"/><stop offset="0.08" stop-color="#d1ece8"/><stop offset="0.15" stop-color="#f6ebcd"/><stop offset="0.23" stop-color="#e1c582"/><stop offset="0.31" stop-color="#dab971"/><stop offset="0.38" stop-color="#dfc37e"/><stop offset="0.46" stop-color="#dec07b"/><stop offset="0.54" stop-color="#dcbc76"/><stop offset="0.62" stop-color="#e7cf96"/><stop offset="0.69" stop-color="#f6e9c8"/><stop offset="0.77" stop-color="#f5f1e7"/><stop offset="0.85" stop-color="#e8f2f0"/><stop offset="0.92" stop-color="#d1ece9"/><stop offset="1" stop-color="#c5e9e4"/></linearGradient>
<linearGradient id="m57"><stop offset="0" stop-color="#187c74"/><stop offset="0.08" stop-color="#53aca3"/><stop offset="0.15" stop-color="#d2ede9"/><stop offset="0.23" stop-color="#f6edd5"/><stop offset="0.31" stop-color="#f6e8c4"/><stop offset="0.38" stop-color="#f6eacb"/><stop offset="0.46" stop-color="#f3e2b8"/><stop offset="0.54" stop-color="#e6ce93"/><stop offset="0.62" stop-color="#e9d29b"/><stop offset="0.69" stop-color="#f6edd6"/><stop offset="0.77" stop-color="#dff0ed"/><stop offset="0.85" stop-color="#b9e4de"/><stop offset="0.92" stop-color="#9cd8cf"/><stop offset="1" stop-color="#8dd2c8"/></linearGradient>
<linearGradient id="m58"><stop offset="0" stop-color="#1c7f77"/><stop offset="0.08" stop-color="#32948c"/><stop offset="0.15" stop-color="#70c2b6"/><stop offset="0.23" stop-color="#abdfd7"/><stop offset="0.31" stop-color="#d3ede9"/><stop offset="0.38" stop-color="#f3f5f4"/><stop offset="0.46" stop-color="#f6ebcf"/><stop offset="0.54" stop-color="#ecd7a4"/><stop offset="0.62" stop-color="#e9d39b"/><stop offset="0.69" stop-color="#f6ecd1"/><stop offset="0.77" stop-color="#ddefed"/><stop offset="0.85" stop-color="#bbe5df"/><stop offset="0.92" stop-color="#b2e2db"/><stop offset="1" stop-color="#b0e0d9"/></linearGradient>
<linearGradient id="m59"><stop offset="0" stop-color="#01645c"/><stop offset="0.08" stop-color="#086c64"/><stop offset="0.15" stop-color="#177b73"/><stop offset="0.23" stop-color="#34968e"/><stop offset="0.31" stop-color="#84cfc3"/><stop offset="0.38" stop-color="#e2f0ee"/><stop offset="0.46" stop-color="#f6e9c8"/><stop offset="0.54" stop-color="#e8d097"/><stop offset="0.62" stop-color="#e8d097"/><stop offset="0.69" stop-color="#f6eeda"/><stop offset="0.77" stop-color="#caebe6"/><stop offset="0.85" stop-color="#9cd8cf"/><stop offset="0.92" stop-color="#a0dad1"/><stop offset="1" stop-color="#a4dcd3"/></linearGradient>
<linearGradient id="m60"><stop offset="0" stop-color="#2d8f87"/><stop offset="0.08" stop-color="#48a59c"/><stop offset="0.15" stop-color="#84cfc3"/><stop offset="0.23" stop-color="#bfe7e1"/><stop offset="0.31" stop-color="#dff0ed"/><stop offset="0.38" stop-color="#f5f5f5"/><stop offset="0.46" stop-color="#f6ecd1"/><stop offset="0.54" stop-color="#ead59f"/><stop offset="0.62" stop-color="#e4cb8e"/><stop offset="0.69" stop-color="#f5e6bf"/><stop offset="0.77" stop-color="#ecf3f2"/><stop offset="0.85" stop-color="#cdebe7"/><stop offset="0.92" stop-color="#d1ece8"/><stop offset="1" stop-color="#d4edea"/></linearGradient>
<linearGradient id="m61"><stop offset="0" stop-color="#10746c"/><stop offset="0.08" stop-color="#31938b"/><stop offset="0.15" stop-color="#8cd2c7"/><stop offset="0.23" stop-color="#d2ede9"/><stop offset="0.31" stop-color="#e6f1f0"/><stop offset="0.38" stop-color="#eaf2f1"/><stop offset="0.46" stop-color="#f5f3ed"/><stop offset="0.54" stop-color="#f6e9c5"/><stop offset="0.62" stop-color="#ecd7a4"/><stop offset="0.69" stop-color="#f0deb0"/><stop offset="0.77" stop-color="#f5f0e3"/><stop offset="0.85" stop-color="#deefed"/><stop offset="0.92" stop-color="#d0ece8"/><stop offset="1" stop-color="#caebe6"/></linearGradient>
<linearGradient id="m62"><stop offset="0" stop-color="#046961"/><stop offset="0.08" stop-color="#24877f"/><stop offset="0.15" stop-color="#77c6bb"/><stop offset="0.23" stop-color="#c4e9e4"/><stop offset="0.31" stop-color="#e1f0ee"/><stop offset="0.38" stop-color="#f1f4f4"/><stop offset="0.46" stop-color="#f6edd5"/><stop offset="0.54" stop-color="#e7cf94"/><stop offset="0.62" stop-color="#d9b66e"/><stop offset="0.69" stop-color="#e5cc8f"/><stop offset="0.77" stop-color="#f5f0e1"/><stop offset="0.85" stop-color="#c8eae5"/><stop offset="0.92" stop-color="#8cd2c7"/><stop offset="1" stop-color="#6cbfb4"/></linearGradient>
<linearGradient id="m63"><stop offset="0" stop-color="#8cd2c7"/><stop offset="0.08" stop-color="#8ed3c8"/><stop offset="0.15" stop-color="#90d3c9"/><stop offset="0.23" stop-color="#a5dcd4"/><stop offset="0.31" stop-color="#cdebe7"/><stop offset="0.38" stop-color="#e9f2f1"/><stop offset="0.46" stop-color="#f6eed9"/><stop offset="0.54" stop-color="#ecd8a5"/><stop offset="0.62" stop-color="#e3c889"/><stop offset="0.69" stop-color="#ecd8a6"/><stop offset="0.77" stop-color="#f5f1e7"/><stop offset="0.85" stop-color="#cfece8"/><stop offset="0.92" stop-color="#a5dcd4"/><stop offset="1" stop-color="#8dd2c8"/></linearGradient>
<linearGradient id="m64"><stop offset="0" stop-color="#b7e4dd"/><stop offset="0.08" stop-color="#c0e7e1"/><stop offset="0.15" stop-color="#ccebe7"/><stop offset="0.23" stop-color="#dbefec"/><stop offset="0.31" stop-color="#f4f5f5"/><stop offset="0.38" stop-color="#f6ecd1"/><stop offset="0.46" stop-color="#e9d29a"/><stop offset="0.54" stop-color="#d4ab61"/><stop offset="0.62" stop-color="#c68e3d"/><stop offset="0.69" stop-color="#cb9a4c"/><stop offset="0.77" stop-color="#e7d097"/><stop offset="0.85" stop-color="#f6eed9"/><stop offset="0.92" stop-color="#f5f5f4"/><stop offset="1" stop-color="#ebf3f1"/></linearGradient>
<linearGradient id="m65"><stop offset="0" stop-color="#2d9088"/><stop offset="0.08" stop-color="#3f9e96"/><stop offset="0.15" stop-color="#6dbfb4"/><stop offset="0.23" stop-color="#96d6cc"/><stop offset="0.31" stop-color="#b7e3dd"/><stop offset="0.38" stop-color="#daefec"/><stop offset="0.46" stop-color="#f5f3ec"/><stop offset="0.54" stop-color="#f2e2b8"/><stop offset="0.62" stop-color="#d2a85d"/><stop offset="0.69" stop-color="#ac6f20"/><stop offset="0.77" stop-color="#c48b39"/><stop offset="0.85" stop-color="#f6ebcf"/><stop offset="0.92" stop-color="#b5e3dc"/><stop offset="1" stop-color="#6ec0b5"/></linearGradient>
<linearGradient id="m66"><stop offset="0" stop-color="#004338"/><stop offset="0.08" stop-color="#015f56"/><stop offset="0.15" stop-color="#45a299"/><stop offset="0.23" stop-color="#97d6cd"/><stop offset="0.31" stop-color="#b2e1da"/><stop offset="0.38" stop-color="#bbe5df"/><stop offset="0.46" stop-color="#d4edea"/><stop offset="0.54" stop-color="#f6edd8"/><stop offset="0.62" stop-color="#cfa255"/><stop offset="0.69" stop-color="#975c12"/><stop offset="0.77" stop-color="#aa6d1e"/><stop offset="0.85" stop-color="#e7cf95"/><stop offset="0.92" stop-color="#eef3f3"/><stop offset="1" stop-color="#bde6e0"/></linearGradient>
<linearGradient id="m67"><stop offset="0" stop-color="#01635a"/><stop offset="0.08" stop-color="#147870"/><stop offset="0.15" stop-color="#49a69d"/><stop offset="0.23" stop-color="#86cfc4"/><stop offset="0.31" stop-color="#a3dbd3"/><stop offset="0.38" stop-color="#b3e2db"/><stop offset="0.46" stop-color="#d9eeeb"/><stop offset="0.54" stop-color="#f6e9c7"/><stop offset="0.62" stop-color="#c99545"/><stop offset="0.69" stop-color="#ac6f20"/><stop offset="0.77" stop-color="#d8b46b"/><stop offset="0.85" stop-color="#f5f0e1"/><stop offset="0.92" stop-color="#d3ede9"/><stop offset="1" stop-color="#b3e2db"/></linearGradient>
<linearGradient id="m68"><stop offset="0" stop-color="#0f736b"/><stop offset="0.08" stop-color="#177b73"/><stop offset="0.15" stop-color="#288b83"/><stop offset="0.23" stop-color="#42a098"/><stop offset="0.31" stop-color="#5ab2a8"/><stop offset="0.38" stop-color="#5eb5aa"/><stop offset="0.46" stop-color="#80cdc1"/><stop offset="0.54" stop-color="#e6f1f0"/><stop offset="0.62" stop-color="#d4ac61"/><stop offset="0.69" stop-color="#955910"/><stop offset="0.77" stop-color="#c89343"/><stop offset="0.85" stop-color="#f5f0e1"/><stop offset="0.92" stop-color="#b5e3dc"/><stop offset="1" stop-color="#81cdc1"/></linearGradient>
<linearGradient id="m69"><stop offset="0" stop-color="#75c5ba"/><stop offset="0.08" stop-color="#76c6ba"/><stop offset="0.15" stop-color="#79c8bd"/><stop offset="0.23" stop-color="#86d0c4"/><stop offset="0.31" stop-color="#9ed9d0"/><stop offset="0.38" stop-color="#b6e3dc"/><stop offset="0.46" stop-color="#d5edea"/><stop offset="0.54" stop-color="#f5efde"/><stop offset="0.62" stop-color="#d4ac62"/><stop offset="0.69" stop-color="#9a5e14"/><stop offset="0.77" stop-color="#a16518"/><stop offset="0.85" stop-color="#d9b76f"/><stop offset="0.92" stop-color="#f6ecd4"/><stop offset="1" stop-color="#ebf3f1"/></linearGradient>
<linearGradient id="m70"><stop offset="0" stop-color="#187c74"/><stop offset="0.08" stop-color="#24877f"/><stop offset="0.15" stop-color="#419f97"/><stop offset="0.23" stop-color="#64b9ae"/><stop offset="0.31" stop-color="#85cfc4"/><stop offset="0.38" stop-color="#b5e3dc"/><stop offset="0.46" stop-color="#dbefec"/><stop offset="0.54" stop-color="#f5f4f2"/><stop offset="0.62" stop-color="#f6e9c5"/><stop offset="0.69" stop-color="#d1a559"/><stop offset="0.77" stop-color="#a86b1d"/><stop offset="0.85" stop-color="#c99546"/><stop offset="0.92" stop-color="#f6e8c3"/><stop offset="1" stop-color="#e6f1f0"/></linearGradient>
<linearGradient id="m71"><stop offset="0" stop-color="#c8eae5"/><stop offset="0.08" stop-color="#b3e2db"/><stop offset="0.15" stop-color="#88d0c5"/><stop offset="0.23" stop-color="#71c3b7"/><stop offset="0.31" stop-color="#87d0c4"/><stop offset="0.38" stop-color="#aaded7"/><stop offset="0.46" stop-color="#cbebe6"/><stop offset="0.54" stop-color="#dbefec"/><stop offset="0.62" stop-color="#f5f4f0"/><stop offset="0.69" stop-color="#ead49e"/><stop offset="0.77" stop-color="#ba7c2a"/><stop offset="0.85" stop-color="#b87a28"/><stop offset="0.92" stop-color="#e9d29b"/><stop offset="1" stop-color="#f3f4f4"/></linearGradient>
<linearGradient id="m72"><stop offset="0" stop-color="#ceece8"/><stop offset="0.08" stop-color="#c6eae5"/><stop offset="0.15" stop-color="#aee0d8"/><stop offset="0.23" stop-color="#a3dbd3"/><stop offset="0.31" stop-color="#acdfd7"/><stop offset="0.38" stop-color="#abdfd7"/><stop offset="0.46" stop-color="#afe0d9"/><stop offset="0.54" stop-color="#c9ebe6"/><stop offset="0.62" stop-color="#f5f3ee"/><stop offset="0.69" stop-color="#e1c583"/><stop offset="0.77" stop-color="#ac6f20"/><stop offset="0.85" stop-color="#b47725"/><stop offset="0.92" stop-color="#e6ce93"/><stop offset="1" stop-color="#f5f1e6"/></linearGradient>
<linearGradient id="m73"><stop offset="0" stop-color="#92d5ca"/><stop offset="0.08" stop-color="#9bd8cf"/><stop offset="0.15" stop-color="#afe0d9"/><stop offset="0.23" stop-color="#c1e7e2"/><stop offset="0.31" stop-color="#c8eae5"/><stop offset="0.38" stop-color="#c4e9e4"/><stop offset="0.46" stop-color="#c3e8e3"/><stop offset="0.54" stop-color="#ceece7"/><stop offset="0.62" stop-color="#e4f1ef"/><stop offset="0.69" stop-color="#f6ebcf"/><stop offset="0.77" stop-color="#dcbd77"/><stop offset="0.85" stop-color="#d8b36b"/><stop offset="0.92" stop-color="#f4e5bd"/><stop offset="1" stop-color="#ecf3f2"/></linearGradient>
<linearGradient id="m74"><stop offset="0" stop-color="#70c1b6"/><stop offset="0.08" stop-color="#68bcb1"/><stop offset="0.15" stop-color="#5ab2a8"/><stop offset="0.23" stop-color="#58b0a6"/><stop offset="0.31" stop-color="#69bdb2"/><stop offset="0.38" stop-color="#7dcbbf"/><stop offset="0.46" stop-color="#93d5ca"/><stop offset="0.54" stop-color="#b2e1da"/><stop offset="0.62" stop-color="#e7f2f0"/><stop offset="0.69" stop-color="#e2c685"/><stop offset="0.77" stop-color="#9f6317"/><stop offset="0.85" stop-color="#ca9849"/><stop offset="0.92" stop-color="#f5efdf"/><stop offset="1" stop-color="#bce6e0"/></linearGradient>
<linearGradient id="m75"><stop offset="0" stop-color="#8ad1c6"/><stop offset="0.08" stop-color="#91d4ca"/><stop offset="0.15" stop-color="#a0dad1"/><stop offset="0.23" stop-color="#b1e1da"/><stop offset="0.31" stop-color="#bbe5df"/><stop offset="0.38" stop-color="#b5e3dc"/><stop offset="0.46" stop-color="#b5e3dc"/><stop offset="0.54" stop-color="#ceece7"/><stop offset="0.62" stop-color="#f5f1e6"/><stop offset="0.69" stop-color="#d2a75c"/><stop offset="0.77" stop-color="#774408"/><stop offset="0.85" stop-color="#874e0a"/><stop offset="0.92" stop-color="#d6af66"/><stop offset="1" stop-color="#f5f2ea"/></linearGradient>
<linearGradient id="m76"><stop offset="0" stop-color="#b2e1da"/><stop offset="0.08" stop-color="#afe0d9"/><stop offset="0.15" stop-color="#aaded6"/><stop offset="0.23" stop-color="#acdfd7"/><stop offset="0.31" stop-color="#b6e3dc"/><stop offset="0.38" stop-color="#bce5df"/><stop offset="0.46" stop-color="#c5e9e4"/><stop offset="0.54" stop-color="#d6eeea"/><stop offset="0.62" stop-color="#f5f0e3"/><stop offset="0.69" stop-color="#d7b169"/><stop offset="0.77" stop-color="#8f540c"/><stop offset="0.85" stop-color="#9d6115"/><stop offset="0.92" stop-color="#e7cf94"/><stop offset="1" stop-color="#f1f4f4"/></linearGradient>
<linearGradient id="m77"><stop offset="0" stop-color="#59b1a7"/><stop offset="0.08" stop-color="#59b1a7"/><stop offset="0.15" stop-color="#5ab2a8"/><stop offset="0.23" stop-color="#5fb5ab"/><stop offset="0.31" stop-color="#67bbb0"/><stop offset="0.38" stop-color="#65b9af"/><stop offset="0.46" stop-color="#68bcb1"/><stop offset="0.54" stop-color="#80cdc1"/><stop offset="0.62" stop-color="#b8e4dd"/><stop offset="0.69" stop-color="#f5f1e4"/><stop offset="0.77" stop-color="#dfc37e"/><stop offset="0.85" stop-color="#ddbe79"/><stop offset="0.92" stop-color="#f5efdd"/><stop offset="1" stop-color="#c2e8e2"/></linearGradient>
<linearGradient id="m78"><stop offset="0" stop-color="#52aca3"/><stop offset="0.08" stop-color="#63b8ad"/><stop offset="0.15" stop-color="#86cfc4"/><stop offset="0.23" stop-color="#a0dad1"/><stop offset="0.31" stop-color="#b7e3dd"/><stop offset="0.38" stop-color="#e3f1ef"/><stop offset="0.46" stop-color="#f5f0e3"/><stop offset="0.54" stop-color="#f6edd7"/><stop offset="0.62" stop-color="#f6ecd1"/><stop offset="0.69" stop-color="#e9d29a"/><stop offset="0.77" stop-color="#c18532"/><stop offset="0.85" stop-color="#c48c3b"/><stop offset="0.92" stop-color="#f4e5be"/><stop offset="1" stop-color="#def0ed"/></linearGradient>
<linearGradient id="m79"><stop offset="0" stop-color="#abdfd7"/><stop offset="0.08" stop-color="#b2e1da"/><stop offset="0.15" stop-color="#c1e8e2"/><stop offset="0.23" stop-color="#cbebe7"/><stop offset="0.31" stop-color="#ddefed"/><stop offset="0.38" stop-color="#f6edd7"/><stop offset="0.46" stop-color="#e8d29a"/><stop offset="0.54" stop-color="#e2c786"/><stop offset="0.62" stop-color="#e0c37f"/><stop offset="0.69" stop-color="#cd9d50"/><stop offset="0.77" stop-color="#c38937"/><stop offset="0.85" stop-color="#ddbe78"/><stop offset="0.92" stop-color="#f6ebd0"/><stop offset="1" stop-color="#f0f4f3"/></linearGradient>
<linearGradient id="m80"><stop offset="0" stop-color="#a0dad1"/><stop offset="0.08" stop-color="#94d5cb"/><stop offset="0.15" stop-color="#79c8bc"/><stop offset="0.23" stop-color="#68bcb1"/><stop offset="0.31" stop-color="#6ec0b5"/><stop offset="0.38" stop-color="#7fccc0"/><stop offset="0.46" stop-color="#91d4c9"/><stop offset="0.54" stop-color="#9ed9d0"/><stop offset="0.62" stop-color="#b4e2db"/><stop offset="0.69" stop-color="#e9f2f1"/><stop offset="0.77" stop-color="#eedbac"/><stop offset="0.85" stop-color="#e6ce93"/><stop offset="0.92" stop-color="#f5efdf"/><stop offset="1" stop-color="#d9eeeb"/></linearGradient>
<linearGradient id="m81"><stop offset="0" stop-color="#a2dbd2"/><stop offset="0.08" stop-color="#a1dbd2"/><stop offset="0.15" stop-color="#9fdad1"/><stop offset="0.23" stop-color="#9fdad1"/><stop offset="0.31" stop-color="#a3dbd3"/><stop offset="0.38" stop-color="#afe0d9"/><stop offset="0.46" stop-color="#bce6e0"/><stop offset="0.54" stop-color="#c9eae6"/><stop offset="0.62" stop-color="#def0ed"/><stop offset="0.69" stop-color="#f6eedb"/><stop offset="0.77" stop-color="#e5cc8f"/><stop offset="0.85" stop-color="#e5cc8f"/><stop offset="0.92" stop-color="#f5f2e8"/><stop offset="1" stop-color="#c7eae5"/></linearGradient>
<linearGradient id="m82"><stop offset="0" stop-color="#aee0d8"/><stop offset="0.08" stop-color="#71c2b7"/><stop offset="0.15" stop-color="#78c7bc"/><stop offset="0.23" stop-color="#82cec2"/><stop offset="0.31" stop-color="#94d5cb"/><stop offset="0.38" stop-color="#cbebe6"/><stop offset="0.46" stop-color="#edf3f2"/><stop offset="0.54" stop-color="#f3f5f4"/><stop offset="0.62" stop-color="#eef3f3"/><stop offset="0.69" stop-color="#f5f3ed"/><stop offset="0.77" stop-color="#f1e0b4"/><stop offset="0.85" stop-color="#e9d39c"/><stop offset="0.92" stop-color="#f5f0e2"/><stop offset="1" stop-color="#cdebe7"/></linearGradient>
<linearGradient id="m83"><stop offset="0" stop-color="#e0c37f"/><stop offset="0.08" stop-color="#93d5ca"/><stop offset="0.15" stop-color="#a2dbd2"/><stop offset="0.23" stop-color="#bfe7e1"/><stop offset="0.31" stop-color="#bae5df"/><stop offset="0.38" stop-color="#a3dbd3"/><stop offset="0.46" stop-color="#92d4ca"/><stop offset="0.54" stop-color="#96d6cc"/><stop offset="0.62" stop-color="#a7ddd5"/><stop offset="0.69" stop-color="#cdebe7"/><stop offset="0.77" stop-color="#f6eeda"/><stop offset="0.85" stop-color="#d9b56e"/><stop offset="0.92" stop-color="#e3c888"/><stop offset="1" stop-color="#eef3f2"/></linearGradient>
<linearGradient id="m84"><stop offset="0" stop-color="#ecf3f2"/><stop offset="0.08" stop-color="#b7e4dd"/><stop offset="0.15" stop-color="#a3dbd3"/><stop offset="0.23" stop-color="#9ad8ce"/><stop offset="0.31" stop-color="#98d7cd"/><stop offset="0.38" stop-color="#94d5cb"/><stop offset="0.46" stop-color="#92d4ca"/><stop offset="0.54" stop-color="#9ad8ce"/><stop offset="0.62" stop-color="#b4e2db"/><stop offset="0.69" stop-color="#daefec"/><stop offset="0.77" stop-color="#f6eacb"/><stop offset="0.85" stop-color="#b47725"/><stop offset="0.92" stop-color="#a4671a"/><stop offset="1" stop-color="#f1e0b5"/></linearGradient>
<linearGradient id="m85"><stop offset="0" stop-color="#86d0c4"/><stop offset="0.08" stop-color="#8fd3c8"/><stop offset="0.15" stop-color="#a1dad2"/><stop offset="0.23" stop-color="#ade0d8"/><stop offset="0.31" stop-color="#bbe5df"/><stop offset="0.38" stop-color="#daefec"/><stop offset="0.46" stop-color="#f4f5f5"/><stop offset="0.54" stop-color="#f5f3ef"/><stop offset="0.62" stop-color="#f5f3ee"/><stop offset="0.69" stop-color="#f6edd6"/><stop offset="0.77" stop-color="#e1c582"/><stop offset="0.85" stop-color="#bd802c"/><stop offset="0.92" stop-color="#d3a95e"/><stop offset="1" stop-color="#f6edd5"/></linearGradient>
<linearGradient id="m86"><stop offset="0" stop-color="#79c8bc"/><stop offset="0.08" stop-color="#87d0c4"/><stop offset="0.15" stop-color="#a3dbd3"/><stop offset="0.23" stop-color="#b7e3dd"/><stop offset="0.31" stop-color="#c7eae5"/><stop offset="0.38" stop-color="#e7f2f0"/><stop offset="0.46" stop-color="#f5f1e4"/><stop offset="0.54" stop-color="#f5efdf"/><stop offset="0.62" stop-color="#f5f2e9"/><stop offset="0.69" stop-color="#f5f1e4"/><stop offset="0.77" stop-color="#f0dfb2"/><stop offset="0.85" stop-color="#dab971"/><stop offset="0.92" stop-color="#e0c37f"/><stop offset="1" stop-color="#f6e8c4"/></linearGradient>
<linearGradient id="m87"><stop offset="0" stop-color="#8bd2c7"/><stop offset="0.08" stop-color="#96d6cc"/><stop offset="0.15" stop-color="#addfd8"/><stop offset="0.23" stop-color="#bce6e0"/><stop offset="0.31" stop-color="#caebe6"/><stop offset="0.38" stop-color="#e9f2f1"/><stop offset="0.46" stop-color="#f5f0e3"/><stop offset="0.54" stop-color="#f5efde"/><stop offset="0.62" stop-color="#f5f2e8"/><stop offset="0.69" stop-color="#f5f2e9"/><stop offset="0.77" stop-color="#f4e5bd"/><stop offset="0.85" stop-color="#cc9b4d"/><stop offset="0.92" stop-color="#b27524"/><stop offset="1" stop-color="#debf79"/></linearGradient>
<linearGradient id="m88"><stop offset="0" stop-color="#bce5df"/><stop offset="0.08" stop-color="#b2e1da"/><stop offset="0.15" stop-color="#9dd9d0"/><stop offset="0.23" stop-color="#90d3c9"/><stop offset="0.31" stop-color="#9bd8cf"/><stop offset="0.38" stop-color="#c7eae5"/><stop offset="0.46" stop-color="#e1f0ee"/><stop offset="0.54" stop-color="#e8f2f0"/><stop offset="0.62" stop-color="#eaf2f1"/><stop offset="0.69" stop-color="#f5f4f2"/><stop offset="0.77" stop-color="#f4e5bd"/><stop offset="0.85" stop-color="#c38937"/><stop offset="0.92" stop-color="#9b5f14"/><stop offset="1" stop-color="#d1a65a"/></linearGradient>
<linearGradient id="m89"><stop offset="0" stop-color="#d7eeeb"/><stop offset="0.08" stop-color="#bee6e1"/><stop offset="0.15" stop-color="#75c5ba"/><stop offset="0.23" stop-color="#43a198"/><stop offset="0.31" stop-color="#47a49b"/><stop offset="0.38" stop-color="#5cb3a9"/><stop offset="0.46" stop-color="#73c4b9"/><stop offset="0.54" stop-color="#8ad1c6"/><stop offset="0.62" stop-color="#cbebe7"/><stop offset="0.69" stop-color="#f6edd6"/><stop offset="0.77" stop-color="#ce9f52"/><stop offset="0.85" stop-color="#975b12"/><stop offset="0.92" stop-color="#c68f3e"/><stop offset="1" stop-color="#f6e9c7"/></linearGradient>
<linearGradient id="m90"><stop offset="0" stop-color="#ebf3f1"/><stop offset="0.08" stop-color="#daefec"/><stop offset="0.15" stop-color="#afe0d9"/><stop offset="0.23" stop-color="#8bd1c6"/><stop offset="0.31" stop-color="#94d5cb"/><stop offset="0.38" stop-color="#bbe5df"/><stop offset="0.46" stop-color="#d7eeea"/><stop offset="0.54" stop-color="#ddefed"/><stop offset="0.62" stop-color="#daefec"/><stop offset="0.69" stop-color="#ebf3f1"/><stop offset="0.77" stop-color="#edd9a8"/><stop offset="0.85" stop-color="#b17424"/><stop offset="0.92" stop-color="#b97c29"/><stop offset="1" stop-color="#ecd7a4"/></linearGradient>
<linearGradient id="m91"><stop offset="0" stop-color="#9bd8cf"/><stop offset="0.08" stop-color="#89d1c5"/><stop offset="0.15" stop-color="#60b6ab"/><stop offset="0.23" stop-color="#44a299"/><stop offset="0.31" stop-color="#56afa5"/><stop offset="0.38" stop-color="#96d6cc"/><stop offset="0.46" stop-color="#ccebe7"/><stop offset="0.54" stop-color="#d4ede9"/><stop offset="0.62" stop-color="#cfece8"/><stop offset="0.69" stop-color="#daeeec"/><stop offset="0.77" stop-color="#f6eaca"/><stop offset="0.85" stop-color="#c58c3b"/><stop offset="0.92" stop-color="#c58d3c"/><stop offset="1" stop-color="#f6eacc"/></linearGradient>
<linearGradient id="m92"><stop offset="0" stop-color="#ddefed"/><stop offset="0.08" stop-color="#d9eeeb"/><stop offset="0.15" stop-color="#d0ece8"/><stop offset="0.23" stop-color="#c9ebe6"/><stop offset="0.31" stop-color="#cbebe7"/><stop offset="0.38" stop-color="#d3ede9"/><stop offset="0.46" stop-color="#daefec"/><stop offset="0.54" stop-color="#ddefed"/><stop offset="0.62" stop-color="#daefec"/><stop offset="0.69" stop-color="#dff0ed"/><stop offset="0.77" stop-color="#f5f2e8"/><stop offset="0.85" stop-color="#ead59f"/><stop offset="0.92" stop-color="#e3c98a"/><stop offset="1" stop-color="#f5efdf"/></linearGradient>
<linearGradient id="m93"><stop offset="0" stop-color="#a8ddd5"/><stop offset="0.08" stop-color="#a5dcd4"/><stop offset="0.15" stop-color="#9dd9d0"/><stop offset="0.23" stop-color="#98d7cd"/><stop offset="0.31" stop-color="#9cd8cf"/><stop offset="0.38" stop-color="#a9ded6"/><stop offset="0.46" stop-color="#b6e3dc"/><stop offset="0.54" stop-color="#b9e4de"/><stop offset="0.62" stop-color="#b5e3dc"/><stop offset="0.69" stop-color="#bae5df"/><stop offset="0.77" stop-color="#ddefed"/><stop offset="0.85" stop-color="#ead49e"/><stop offset="0.92" stop-color="#ae7122"/><stop offset="1" stop-color="#eedbaa"/></linearGradient>
<linearGradient id="m94"><stop offset="0" stop-color="#55aea4"/><stop offset="0.08" stop-color="#61b7ac"/><stop offset="0.15" stop-color="#7ac9bd"/><stop offset="0.23" stop-color="#8bd1c6"/><stop offset="0.31" stop-color="#8fd3c9"/><stop offset="0.38" stop-color="#9bd8cf"/><stop offset="0.46" stop-color="#a7ddd5"/><stop offset="0.54" stop-color="#b0e0d9"/><stop offset="0.62" stop-color="#caebe6"/><stop offset="0.69" stop-color="#e4f1ef"/><stop offset="0.77" stop-color="#f6eedb"/><stop offset="0.85" stop-color="#d5ae64"/><stop offset="0.92" stop-color="#9b5f14"/><stop offset="1" stop-color="#e6ce93"/></linearGradient>
<linearGradient id="m95"><stop offset="0" stop-color="#95d6cc"/><stop offset="0.08" stop-color="#98d7cd"/><stop offset="0.15" stop-color="#9ed9d0"/><stop offset="0.23" stop-color="#a2dbd2"/><stop offset="0.31" stop-color="#9cd8cf"/><stop offset="0.38" stop-color="#85cfc4"/><stop offset="0.46" stop-color="#72c3b8"/><stop offset="0.54" stop-color="#7fccc0"/><stop offset="0.62" stop-color="#bbe5df"/><stop offset="0.69" stop-color="#f5f5f3"/><stop offset="0.77" stop-color="#e8d199"/><stop offset="0.85" stop-color="#a96c1e"/><stop offset="0.92" stop-color="#8e530b"/><stop offset="1" stop-color="#e6ce94"/></linearGradient>
<linearGradient id="m96"><stop offset="0" stop-color="#94d5cb"/><stop offset="0.08" stop-color="#95d6cc"/><stop offset="0.15" stop-color="#97d7cd"/><stop offset="0.23" stop-color="#99d7ce"/><stop offset="0.31" stop-color="#84cfc3"/><stop offset="0.38" stop-color="#379991"/><stop offset="0.46" stop-color="#096d65"/><stop offset="0.54" stop-color="#0a6e66"/><stop offset="0.62" stop-color="#30928a"/><stop offset="0.69" stop-color="#75c5ba"/><stop offset="0.77" stop-color="#bfe7e1"/><stop offset="0.85" stop-color="#f2e1b6"/><stop offset="0.92" stop-color="#af7222"/><stop offset="1" stop-color="#ddbe78"/></linearGradient>
<linearGradient id="m97"><stop offset="0" stop-color="#98d7cd"/><stop offset="0.08" stop-color="#98d7cd"/><stop offset="0.15" stop-color="#98d7cd"/><stop offset="0.23" stop-color="#97d7cd"/><stop offset="0.31" stop-color="#8dd2c8"/><stop offset="0.38" stop-color="#69bdb2"/><stop offset="0.46" stop-color="#4aa69d"/><stop offset="0.54" stop-color="#4ca89f"/><stop offset="0.62" stop-color="#6ec0b5"/><stop offset="0.69" stop-color="#9bd8cf"/><stop offset="0.77" stop-color="#d5edea"/><stop offset="0.85" stop-color="#ecd7a4"/><stop offset="0.92" stop-color="#dab972"/><stop offset="1" stop-color="#e5f1ef"/></linearGradient>
<linearGradient id="m98"><stop offset="0" stop-color="#c5e9e4"/><stop offset="0.08" stop-color="#bae5df"/><stop offset="0.15" stop-color="#a3dbd3"/><stop offset="0.23" stop-color="#93d5cb"/><stop offset="0.31" stop-color="#97d7cd"/><stop offset="0.38" stop-color="#aaded6"/><stop offset="0.46" stop-color="#bce5df"/><stop offset="0.54" stop-color="#c4e9e4"/><stop offset="0.62" stop-color="#d2ede9"/><stop offset="0.69" stop-color="#e6f2f0"/><stop offset="0.77" stop-color="#f6edd5"/><stop offset="0.85" stop-color="#c79242"/><stop offset="0.92" stop-color="#90540c"/><stop offset="1" stop-color="#e3c888"/></linearGradient>
<linearGradient id="m99"><stop offset="0" stop-color="#5ab2a8"/><stop offset="0.08" stop-color="#51aba2"/><stop offset="0.15" stop-color="#3f9e96"/><stop offset="0.23" stop-color="#34968e"/><stop offset="0.31" stop-color="#389991"/><stop offset="0.38" stop-color="#4da89f"/><stop offset="0.46" stop-color="#60b6ac"/><stop offset="0.54" stop-color="#68bcb1"/><stop offset="0.62" stop-color="#78c7bc"/><stop offset="0.69" stop-color="#95d5cb"/><stop offset="0.77" stop-color="#d6eeea"/><stop offset="0.85" stop-color="#d9b66e"/><stop offset="0.92" stop-color="#854d09"/><stop offset="1" stop-color="#e9d39d"/></linearGradient>
<linearGradient id="m100"><stop offset="0" stop-color="#8bd1c6"/><stop offset="0.08" stop-color="#75c5ba"/><stop offset="0.15" stop-color="#44a299"/><stop offset="0.23" stop-color="#298c84"/><stop offset="0.31" stop-color="#33958d"/><stop offset="0.38" stop-color="#66bab0"/><stop offset="0.46" stop-color="#94d5cb"/><stop offset="0.54" stop-color="#9cd8cf"/><stop offset="0.62" stop-color="#9bd8cf"/><stop offset="0.69" stop-color="#a8ddd5"/><stop offset="0.77" stop-color="#e0f0ee"/><stop offset="0.85" stop-color="#c99647"/><stop offset="0.92" stop-color="#9d6116"/><stop offset="1" stop-color="#dff0ee"/></linearGradient>
<linearGradient id="m101"><stop offset="0" stop-color="#8ad1c6"/><stop offset="0.08" stop-color="#9cd9cf"/><stop offset="0.15" stop-color="#c2e8e3"/><stop offset="0.23" stop-color="#d5edea"/><stop offset="0.31" stop-color="#d5edea"/><stop offset="0.38" stop-color="#d4ede9"/><stop offset="0.46" stop-color="#d3ede9"/><stop offset="0.54" stop-color="#d2ede9"/><stop offset="0.62" stop-color="#c4e9e4"/><stop offset="0.69" stop-color="#b9e4de"/><stop offset="0.77" stop-color="#dff0ed"/><stop offset="0.85" stop-color="#ddbd77"/><stop offset="0.92" stop-color="#ab6e1f"/><stop offset="1" stop-color="#f6ebd0"/></linearGradient>
<linearGradient id="m102"><stop offset="0" stop-color="#77c7bb"/><stop offset="0.08" stop-color="#91d4c9"/><stop offset="0.15" stop-color="#c5e9e4"/><stop offset="0.23" stop-color="#ddefec"/><stop offset="0.31" stop-color="#ddefed"/><stop offset="0.38" stop-color="#daeeeb"/><stop offset="0.46" stop-color="#d7eeeb"/><stop offset="0.54" stop-color="#d6eeea"/><stop offset="0.62" stop-color="#cdece7"/><stop offset="0.69" stop-color="#c7eae5"/><stop offset="0.77" stop-color="#d8eeeb"/><stop offset="0.85" stop-color="#f6ebcf"/><stop offset="0.92" stop-color="#d8b36a"/><stop offset="1" stop-color="#f6eaca"/></linearGradient>
<linearGradient id="m103"><stop offset="0" stop-color="#2b8e86"/><stop offset="0.08" stop-color="#55aea5"/><stop offset="0.15" stop-color="#b6e3dd"/><stop offset="0.23" stop-color="#e5f1f0"/><stop offset="0.31" stop-color="#e5f1ef"/><stop offset="0.38" stop-color="#ddefec"/><stop offset="0.46" stop-color="#d6eeea"/><stop offset="0.54" stop-color="#d8eeeb"/><stop offset="0.62" stop-color="#e5f1ef"/><stop offset="0.69" stop-color="#f5f4f1"/><stop offset="0.77" stop-color="#f6e9c7"/><stop offset="0.85" stop-color="#c68f3e"/><stop offset="0.92" stop-color="#9c6015"/><stop offset="1" stop-color="#efdcae"/></linearGradient>
<linearGradient id="m104"><stop offset="0" stop-color="#076c64"/><stop offset="0.08" stop-color="#21847c"/><stop offset="0.15" stop-color="#67bbb1"/><stop offset="0.23" stop-color="#9bd8cf"/><stop offset="0.31" stop-color="#a3dbd3"/><stop offset="0.38" stop-color="#b7e3dd"/><stop offset="0.46" stop-color="#c8eae5"/><stop offset="0.54" stop-color="#ceece7"/><stop offset="0.62" stop-color="#d9eeeb"/><stop offset="0.69" stop-color="#eff4f3"/><stop offset="0.77" stop-color="#f3e3ba"/><stop offset="0.85" stop-color="#9f6317"/><stop offset="0.92" stop-color="#b57726"/><stop offset="1" stop-color="#def0ed"/></linearGradient>
<linearGradient id="m105"><stop offset="0" stop-color="#288b83"/><stop offset="0.08" stop-color="#32948c"/><stop offset="0.15" stop-color="#4ea9a0"/><stop offset="0.23" stop-color="#62b7ad"/><stop offset="0.31" stop-color="#67bbb0"/><stop offset="0.38" stop-color="#74c4b9"/><stop offset="0.46" stop-color="#80cdc1"/><stop offset="0.54" stop-color="#87d0c5"/><stop offset="0.62" stop-color="#9ed9d0"/><stop offset="0.69" stop-color="#c5e9e4"/><stop offset="0.77" stop-color="#f5f0e2"/><stop offset="0.85" stop-color="#b07222"/><stop offset="0.92" stop-color="#c58d3b"/><stop offset="1" stop-color="#d1ede9"/></linearGradient>
<linearGradient id="m106"><stop offset="0" stop-color="#0b7068"/><stop offset="0.08" stop-color="#1c7f77"/><stop offset="0.15" stop-color="#43a198"/><stop offset="0.23" stop-color="#65b9af"/><stop offset="0.31" stop-color="#5eb4aa"/><stop offset="0.38" stop-color="#419f97"/><stop offset="0.46" stop-color="#2d8f87"/><stop offset="0.54" stop-color="#32948c"/><stop offset="0.62" stop-color="#67bbb0"/><stop offset="0.69" stop-color="#b4e2dc"/><stop offset="0.77" stop-color="#f6ebcd"/><stop offset="0.85" stop-color="#a26619"/><stop offset="0.92" stop-color="#dfc17c"/><stop offset="1" stop-color="#d0ece8"/></linearGradient>
<linearGradient id="m107"><stop offset="0" stop-color="#74c4b9"/><stop offset="0.08" stop-color="#90d4c9"/><stop offset="0.15" stop-color="#c9ebe6"/><stop offset="0.23" stop-color="#e3f1ef"/><stop offset="0.31" stop-color="#d5edea"/><stop offset="0.38" stop-color="#8ed3c8"/><stop offset="0.46" stop-color="#47a49b"/><stop offset="0.54" stop-color="#47a49b"/><stop offset="0.62" stop-color="#7dcbbf"/><stop offset="0.69" stop-color="#bee6e0"/><stop offset="0.77" stop-color="#edf3f2"/><stop offset="0.85" stop-color="#ecd8a6"/><stop offset="0.92" stop-color="#cb994b"/><stop offset="1" stop-color="#cfa154"/></linearGradient>
<linearGradient id="m108"><stop offset="0" stop-color="#c1e8e2"/><stop offset="0.08" stop-color="#d0ece8"/><stop offset="0.15" stop-color="#ebf3f2"/><stop offset="0.23" stop-color="#f5f3ec"/><stop offset="0.31" stop-color="#f1f4f4"/><stop offset="0.38" stop-color="#c1e7e2"/><stop offset="0.46" stop-color="#83cec3"/><stop offset="0.54" stop-color="#84cfc3"/><stop offset="0.62" stop-color="#b5e3dc"/><stop offset="0.69" stop-color="#e4f1ef"/><stop offset="0.77" stop-color="#f6eed9"/><stop offset="0.85" stop-color="#ca9748"/><stop offset="0.92" stop-color="#834c09"/><stop offset="1" stop-color="#be802c"/></linearGradient>
<linearGradient id="m109"><stop offset="0" stop-color="#f6eacb"/><stop offset="0.08" stop-color="#f6ecd1"/><stop offset="0.15" stop-color="#f5efde"/><stop offset="0.23" stop-color="#f5f1e7"/><stop offset="0.31" stop-color="#f5f3ee"/><stop offset="0.38" stop-color="#e5f1ef"/><stop offset="0.46" stop-color="#d2ede9"/><stop offset="0.54" stop-color="#d5edea"/><stop offset="0.62" stop-color="#edf3f2"/><stop offset="0.69" stop-color="#f6eedb"/><stop offset="0.77" stop-color="#f0deb1"/><stop offset="0.85" stop-color="#c28835"/><stop offset="0.92" stop-color="#8b500a"/><stop offset="1" stop-color="#b97c29"/></linearGradient>
<linearGradient id="m110"><stop offset="0" stop-color="#7ccabe"/><stop offset="0.08" stop-color="#85cfc3"/><stop offset="0.15" stop-color="#96d6cc"/><stop offset="0.23" stop-color="#a2dbd2"/><stop offset="0.31" stop-color="#9bd8cf"/><stop offset="0.38" stop-color="#80cdc1"/><stop offset="0.46" stop-color="#67bbb0"/><stop offset="0.54" stop-color="#6bbeb3"/><stop offset="0.62" stop-color="#95d5cc"/><stop offset="0.69" stop-color="#c7eae5"/><stop offset="0.77" stop-color="#e1f0ee"/><stop offset="0.85" stop-color="#f6eac9"/><stop offset="0.92" stop-color="#e0c37f"/><stop offset="1" stop-color="#f5f0e4"/></linearGradient>
<linearGradient id="m111"><stop offset="0" stop-color="#2b8d85"/><stop offset="0.08" stop-color="#42a098"/><stop offset="0.15" stop-color="#7dcbbf"/><stop offset="0.23" stop-color="#a3dbd3"/><stop offset="0.31" stop-color="#9fdad1"/><stop offset="0.38" stop-color="#87d0c4"/><stop offset="0.46" stop-color="#74c4b9"/><stop offset="0.54" stop-color="#7ecbc0"/><stop offset="0.62" stop-color="#a3dbd3"/><stop offset="0.69" stop-color="#caebe6"/><stop offset="0.77" stop-color="#e0f0ee"/><stop offset="0.85" stop-color="#f6ecd1"/><stop offset="0.92" stop-color="#e1c684"/><stop offset="1" stop-color="#dbefec"/></linearGradient>
<linearGradient id="m112"><stop offset="0" stop-color="#62b7ad"/><stop offset="0.08" stop-color="#66bab0"/><stop offset="0.15" stop-color="#70c2b6"/><stop offset="0.23" stop-color="#7bcabe"/><stop offset="0.31" stop-color="#96d6cc"/><stop offset="0.38" stop-color="#d3ede9"/><stop offset="0.46" stop-color="#f5f1e5"/><stop offset="0.54" stop-color="#f6e9c5"/><stop offset="0.62" stop-color="#f6e9c7"/><stop offset="0.69" stop-color="#f6eed8"/><stop offset="0.77" stop-color="#f6edd6"/><stop offset="0.85" stop-color="#e3c98a"/><stop offset="0.92" stop-color="#a76a1c"/><stop offset="1" stop-color="#e5cc8f"/></linearGradient>
<linearGradient id="m113"><stop offset="0" stop-color="#7ac9bd"/><stop offset="0.08" stop-color="#83cec3"/><stop offset="0.15" stop-color="#97d6cd"/><stop offset="0.23" stop-color="#a9ded6"/><stop offset="0.31" stop-color="#c2e8e2"/><stop offset="0.38" stop-color="#e9f2f1"/><stop offset="0.46" stop-color="#f6ecd1"/><stop offset="0.54" stop-color="#eedaa9"/><stop offset="0.62" stop-color="#f4e4bc"/><stop offset="0.69" stop-color="#f5f0e1"/><stop offset="0.77" stop-color="#f5f2e9"/><stop offset="0.85" stop-color="#f0deb1"/><stop offset="0.92" stop-color="#b77927"/><stop offset="1" stop-color="#d7b269"/></linearGradient>
<linearGradient id="m114"><stop offset="0" stop-color="#9bd8cf"/><stop offset="0.08" stop-color="#8fd3c9"/><stop offset="0.15" stop-color="#74c5b9"/><stop offset="0.23" stop-color="#64b9ae"/><stop offset="0.31" stop-color="#76c6bb"/><stop offset="0.38" stop-color="#acdfd7"/><stop offset="0.46" stop-color="#d9eeeb"/><stop offset="0.54" stop-color="#e7f2f0"/><stop offset="0.62" stop-color="#dcefec"/><stop offset="0.69" stop-color="#cdebe7"/><stop offset="0.77" stop-color="#e7f2f0"/><stop offset="0.85" stop-color="#e2c786"/><stop offset="0.92" stop-color="#ad7021"/><stop offset="1" stop-color="#e3c888"/></linearGradient>
<linearGradient id="m115"><stop offset="0" stop-color="#97d6cd"/><stop offset="0.08" stop-color="#94d5cb"/><stop offset="0.15" stop-color="#8ed3c8"/><stop offset="0.23" stop-color="#8fd3c9"/><stop offset="0.31" stop-color="#a5dcd4"/><stop offset="0.38" stop-color="#d4edea"/><stop offset="0.46" stop-color="#f5f2eb"/><stop offset="0.54" stop-color="#f6e9c6"/><stop offset="0.62" stop-color="#eedaa9"/><stop offset="0.69" stop-color="#ebd6a1"/><stop offset="0.77" stop-color="#e5cb8e"/><stop offset="0.85" stop-color="#c48b39"/><stop offset="0.92" stop-color="#ba7c29"/><stop offset="1" stop-color="#f3e4bb"/></linearGradient>
<linearGradient id="m116"><stop offset="0" stop-color="#e4f1ef"/><stop offset="0.08" stop-color="#ecf3f2"/><stop offset="0.15" stop-color="#f5f2ea"/><stop offset="0.23" stop-color="#f6eed9"/><stop offset="0.31" stop-color="#f6edd5"/><stop offset="0.38" stop-color="#f6eeda"/><stop offset="0.46" stop-color="#f6ecd1"/><stop offset="0.54" stop-color="#ebd6a1"/><stop offset="0.62" stop-color="#cc9c4e"/><stop offset="0.69" stop-color="#ad7021"/><stop offset="0.77" stop-color="#ac6f20"/><stop offset="0.85" stop-color="#bb7d2a"/><stop offset="0.92" stop-color="#9e6217"/><stop offset="1" stop-color="#b67827"/></linearGradient>
<linearGradient id="m117"><stop offset="0" stop-color="#d6eeea"/><stop offset="0.08" stop-color="#b5e3dc"/><stop offset="0.15" stop-color="#dbefec"/><stop offset="0.23" stop-color="#f5f5f3"/><stop offset="0.31" stop-color="#f5f4ef"/><stop offset="0.38" stop-color="#f3f5f4"/><stop offset="0.46" stop-color="#f5f4f1"/><stop offset="0.54" stop-color="#f6eacb"/><stop offset="0.62" stop-color="#e2c685"/><stop offset="0.69" stop-color="#cc9b4d"/><stop offset="0.77" stop-color="#cb9a4c"/><stop offset="0.85" stop-color="#c89343"/><stop offset="0.92" stop-color="#995e13"/><stop offset="1" stop-color="#aa6d1f"/></linearGradient>
<linearGradient id="m118"><stop offset="0" stop-color="#e9d39c"/><stop offset="0.08" stop-color="#66bbb0"/><stop offset="0.15" stop-color="#5ab2a8"/><stop offset="0.23" stop-color="#6bbeb3"/><stop offset="0.31" stop-color="#76c6ba"/><stop offset="0.38" stop-color="#83cec2"/><stop offset="0.46" stop-color="#9ed9d0"/><stop offset="0.54" stop-color="#ccebe7"/><stop offset="0.62" stop-color="#f5f4f1"/><stop offset="0.69" stop-color="#f6eacc"/><stop offset="0.77" stop-color="#f3e3ba"/><stop offset="0.85" stop-color="#dcbb75"/><stop offset="0.92" stop-color="#9e6216"/><stop offset="1" stop-color="#c38936"/></linearGradient>
<linearGradient id="m119"><stop offset="0" stop-color="#d3ede9"/><stop offset="0.08" stop-color="#92d4ca"/><stop offset="0.15" stop-color="#82cec2"/><stop offset="0.23" stop-color="#7ecbc0"/><stop offset="0.31" stop-color="#79c8bc"/><stop offset="0.38" stop-color="#5fb5ab"/><stop offset="0.46" stop-color="#4faaa0"/><stop offset="0.54" stop-color="#64b9ae"/><stop offset="0.62" stop-color="#9fdad1"/><stop offset="0.69" stop-color="#d5edea"/><stop offset="0.77" stop-color="#f5f5f5"/><stop offset="0.85" stop-color="#ead49e"/><stop offset="0.92" stop-color="#e2c685"/><stop offset="1" stop-color="#d1ece8"/></linearGradient>
<linearGradient id="m120"><stop offset="0" stop-color="#a6dcd4"/><stop offset="0.08" stop-color="#9bd8cf"/><stop offset="0.15" stop-color="#85cfc3"/><stop offset="0.23" stop-color="#7ac9bd"/><stop offset="0.31" stop-color="#89d1c6"/><stop offset="0.38" stop-color="#abdfd7"/><stop offset="0.46" stop-color="#d2ede9"/><stop offset="0.54" stop-color="#f1f4f4"/><stop offset="0.62" stop-color="#f6e9c8"/><stop offset="0.69" stop-color="#e6ce92"/><stop offset="0.77" stop-color="#dcbc75"/><stop offset="0.85" stop-color="#c28836"/><stop offset="0.92" stop-color="#c89343"/><stop offset="1" stop-color="#f6edd8"/></linearGradient>
<linearGradient id="m121"><stop offset="0" stop-color="#a0dad1"/><stop offset="0.08" stop-color="#99d7ce"/><stop offset="0.15" stop-color="#8cd2c7"/><stop offset="0.23" stop-color="#87d0c4"/><stop offset="0.31" stop-color="#8bd2c7"/><stop offset="0.38" stop-color="#8ad1c6"/><stop offset="0.46" stop-color="#97d7cd"/><stop offset="0.54" stop-color="#bde6e0"/><stop offset="0.62" stop-color="#deefed"/><stop offset="0.69" stop-color="#f1f4f3"/><stop offset="0.77" stop-color="#f5f5f4"/><stop offset="0.85" stop-color="#f6edd7"/><stop offset="0.92" stop-color="#e4ca8c"/><stop offset="1" stop-color="#eedbab"/></linearGradient>
<linearGradient id="m122"><stop offset="0" stop-color="#7bc9bd"/><stop offset="0.08" stop-color="#70c1b6"/><stop offset="0.15" stop-color="#59b1a7"/><stop offset="0.23" stop-color="#4ba79e"/><stop offset="0.31" stop-color="#5db4aa"/><stop offset="0.38" stop-color="#98d7cd"/><stop offset="0.46" stop-color="#ccebe7"/><stop offset="0.54" stop-color="#d7eeeb"/><stop offset="0.62" stop-color="#d1ece8"/><stop offset="0.69" stop-color="#c9ebe6"/><stop offset="0.77" stop-color="#dbefec"/><stop offset="0.85" stop-color="#f1dfb3"/><stop offset="0.92" stop-color="#bc7e2b"/><stop offset="1" stop-color="#dcbc76"/></linearGradient>
<linearGradient id="m123"><stop offset="0" stop-color="#30938b"/><stop offset="0.08" stop-color="#389991"/><stop offset="0.15" stop-color="#4da89f"/><stop offset="0.23" stop-color="#5eb4aa"/><stop offset="0.31" stop-color="#6fc1b6"/><stop offset="0.38" stop-color="#9cd8cf"/><stop offset="0.46" stop-color="#caebe6"/><stop offset="0.54" stop-color="#ddefed"/><stop offset="0.62" stop-color="#e5f1f0"/><stop offset="0.69" stop-color="#e9f2f1"/><stop offset="0.77" stop-color="#f5f4f2"/><stop offset="0.85" stop-color="#ebd5a0"/><stop offset="0.92" stop-color="#c28735"/><stop offset="1" stop-color="#d9b56d"/></linearGradient>
<linearGradient id="m124"><stop offset="0" stop-color="#c8eae5"/><stop offset="0.08" stop-color="#c4e9e4"/><stop offset="0.15" stop-color="#bbe5df"/><stop offset="0.23" stop-color="#b6e3dc"/><stop offset="0.31" stop-color="#bee6e1"/><stop offset="0.38" stop-color="#d1ece8"/><stop offset="0.46" stop-color="#e3f1ef"/><stop offset="0.54" stop-color="#eef3f3"/><stop offset="0.62" stop-color="#f0f4f3"/><stop offset="0.69" stop-color="#f4f5f5"/><stop offset="0.77" stop-color="#f6eaca"/><stop offset="0.85" stop-color="#c18633"/><stop offset="0.92" stop-color="#884f0a"/><stop offset="1" stop-color="#b17423"/></linearGradient>
<linearGradient id="m125"><stop offset="0" stop-color="#95d6cc"/><stop offset="0.08" stop-color="#aaded6"/><stop offset="0.15" stop-color="#d2ede9"/><stop offset="0.23" stop-color="#e8f2f1"/><stop offset="0.31" stop-color="#f2f4f4"/><stop offset="0.38" stop-color="#f5f2e8"/><stop offset="0.46" stop-color="#f6ebce"/><stop offset="0.54" stop-color="#eedbaa"/><stop offset="0.62" stop-color="#e8d097"/><stop offset="0.69" stop-color="#e8d097"/><stop offset="0.77" stop-color="#e4cb8d"/><stop offset="0.85" stop-color="#c58d3c"/><stop offset="0.92" stop-color="#844c09"/><stop offset="1" stop-color="#975c12"/></linearGradient>
<linearGradient id="m126"><stop offset="0" stop-color="#24877f"/><stop offset="0.08" stop-color="#399a91"/><stop offset="0.15" stop-color="#75c5b9"/><stop offset="0.23" stop-color="#9fdad1"/><stop offset="0.31" stop-color="#b4e2db"/><stop offset="0.38" stop-color="#d7eeeb"/><stop offset="0.46" stop-color="#f5f3ef"/><stop offset="0.54" stop-color="#f6ebcd"/><stop offset="0.62" stop-color="#f1dfb3"/><stop offset="0.69" stop-color="#edd9a7"/><stop offset="0.77" stop-color="#e7cf95"/><stop offset="0.85" stop-color="#bf812d"/><stop offset="0.92" stop-color="#754408"/><stop offset="1" stop-color="#bc7e2b"/></linearGradient>
<linearGradient id="m127"><stop offset="0" stop-color="#53ada3"/><stop offset="0.08" stop-color="#50aaa1"/><stop offset="0.15" stop-color="#48a59c"/><stop offset="0.23" stop-color="#45a39a"/><stop offset="0.31" stop-color="#54ada4"/><stop offset="0.38" stop-color="#7eccc0"/><stop offset="0.46" stop-color="#a9ded6"/><stop offset="0.54" stop-color="#c4e9e3"/><stop offset="0.62" stop-color="#d7eeea"/><stop offset="0.69" stop-color="#e8f2f0"/><stop offset="0.77" stop-color="#f5f1e4"/><stop offset="0.85" stop-color="#d5af65"/><stop offset="0.92" stop-color="#774408"/><stop offset="1" stop-color="#c58e3d"/></linearGradient>
<linearGradient id="m128"><stop offset="0" stop-color="#53aca3"/><stop offset="0.08" stop-color="#5eb4aa"/><stop offset="0.15" stop-color="#76c6ba"/><stop offset="0.23" stop-color="#8bd1c6"/><stop offset="0.31" stop-color="#9dd9cf"/><stop offset="0.38" stop-color="#c2e8e2"/><stop offset="0.46" stop-color="#e4f1ef"/><stop offset="0.54" stop-color="#f5f1e6"/><stop offset="0.62" stop-color="#f6ebd0"/><stop offset="0.69" stop-color="#f6e9c7"/><stop offset="0.77" stop-color="#f0deb0"/><stop offset="0.85" stop-color="#d0a458"/><stop offset="0.92" stop-color="#985c12"/><stop offset="1" stop-color="#d2a75c"/></linearGradient>
<linearGradient id="m129"><stop offset="0" stop-color="#3a9b92"/><stop offset="0.08" stop-color="#49a59c"/><stop offset="0.15" stop-color="#68bcb1"/><stop offset="0.23" stop-color="#7eccc0"/><stop offset="0.31" stop-color="#92d4ca"/><stop offset="0.38" stop-color="#ccebe7"/><stop offset="0.46" stop-color="#f1f4f4"/><stop offset="0.54" stop-color="#f5f4f0"/><stop offset="0.62" stop-color="#e7f2f0"/><stop offset="0.69" stop-color="#d2ede9"/><stop offset="0.77" stop-color="#ddefed"/><stop offset="0.85" stop-color="#f6edd7"/><stop offset="0.92" stop-color="#dfc27d"/><stop offset="1" stop-color="#ead49d"/></linearGradient>
<linearGradient id="m130"><stop offset="0" stop-color="#92d5ca"/><stop offset="0.08" stop-color="#9dd9d0"/><stop offset="0.15" stop-color="#b4e2db"/><stop offset="0.23" stop-color="#c4e9e3"/><stop offset="0.31" stop-color="#cbebe6"/><stop offset="0.38" stop-color="#ddefed"/><stop offset="0.46" stop-color="#eff4f3"/><stop offset="0.54" stop-color="#f5f5f4"/><stop offset="0.62" stop-color="#f2f4f4"/><stop offset="0.69" stop-color="#ebf3f2"/><stop offset="0.77" stop-color="#f1f4f3"/><stop offset="0.85" stop-color="#f6ecd3"/><stop offset="0.92" stop-color="#dfc27c"/><stop offset="1" stop-color="#d5ae65"/></linearGradient>
<linearGradient id="m131"><stop offset="0" stop-color="#f6edd5"/><stop offset="0.08" stop-color="#e2f0ee"/><stop offset="0.15" stop-color="#d2ede9"/><stop offset="0.23" stop-color="#cdebe7"/><stop offset="0.31" stop-color="#d0ece8"/><stop offset="0.38" stop-color="#caebe6"/><stop offset="0.46" stop-color="#d1ede9"/><stop offset="0.54" stop-color="#f4f5f5"/><stop offset="0.62" stop-color="#f0dfb2"/><stop offset="0.69" stop-color="#d7b269"/><stop offset="0.77" stop-color="#cfa256"/><stop offset="0.85" stop-color="#bf812d"/><stop offset="0.92" stop-color="#8b500a"/><stop offset="1" stop-color="#a66a1c"/></linearGradient>
<linearGradient id="m132"><stop offset="0" stop-color="#b37525"/><stop offset="0.08" stop-color="#9fdad1"/><stop offset="0.15" stop-color="#91d4ca"/><stop offset="0.23" stop-color="#a6ddd4"/><stop offset="0.31" stop-color="#b1e1da"/><stop offset="0.38" stop-color="#bae5de"/><stop offset="0.46" stop-color="#d1ece9"/><stop offset="0.54" stop-color="#f5f4f0"/><stop offset="0.62" stop-color="#edd9a8"/><stop offset="0.69" stop-color="#d3aa60"/><stop offset="0.77" stop-color="#cb9a4c"/><stop offset="0.85" stop-color="#b47725"/><stop offset="0.92" stop-color="#975b12"/><stop offset="1" stop-color="#bd7f2c"/></linearGradient>
<linearGradient id="m133"><stop offset="0" stop-color="#b97c29"/><stop offset="0.08" stop-color="#9bd8ce"/><stop offset="0.15" stop-color="#97d7cd"/><stop offset="0.23" stop-color="#b3e2db"/><stop offset="0.31" stop-color="#b5e3dc"/><stop offset="0.38" stop-color="#9ed9d0"/><stop offset="0.46" stop-color="#9dd9d0"/><stop offset="0.54" stop-color="#ceece8"/><stop offset="0.62" stop-color="#f5f0e1"/><stop offset="0.69" stop-color="#eedbab"/><stop offset="0.77" stop-color="#edd9a8"/><stop offset="0.85" stop-color="#f3e2b9"/><stop offset="0.92" stop-color="#eddaa9"/><stop offset="1" stop-color="#dcbb75"/></linearGradient>
<linearGradient id="m134"><stop offset="0" stop-color="#f5f1e7"/><stop offset="0.08" stop-color="#e6f1f0"/><stop offset="0.15" stop-color="#f5f1e7"/><stop offset="0.23" stop-color="#f6eacb"/><stop offset="0.31" stop-color="#f6eac9"/><stop offset="0.38" stop-color="#f6eedc"/><stop offset="0.46" stop-color="#f5efdd"/><stop offset="0.54" stop-color="#efddaf"/><stop offset="0.62" stop-color="#cfa255"/><stop offset="0.69" stop-color="#ae7121"/><stop offset="0.77" stop-color="#ad7021"/><stop offset="0.85" stop-color="#bc7e2b"/><stop offset="0.92" stop-color="#b47726"/><stop offset="1" stop-color="#d0a357"/></linearGradient>
<linearGradient id="m135"><stop offset="0" stop-color="#d9eeeb"/><stop offset="0.08" stop-color="#dbefec"/><stop offset="0.15" stop-color="#e0f0ee"/><stop offset="0.23" stop-color="#e7f2f0"/><stop offset="0.31" stop-color="#f5f4f0"/><stop offset="0.38" stop-color="#f5e6bf"/><stop offset="0.46" stop-color="#d9b56d"/><stop offset="0.54" stop-color="#bd7f2b"/><stop offset="0.62" stop-color="#af7222"/><stop offset="0.69" stop-color="#b97c29"/><stop offset="0.77" stop-color="#c68f3e"/><stop offset="0.85" stop-color="#cc9c4e"/><stop offset="0.92" stop-color="#b77a28"/><stop offset="1" stop-color="#bc7e2b"/></linearGradient>
<linearGradient id="m136"><stop offset="0" stop-color="#9ed9d0"/><stop offset="0.08" stop-color="#9fdad1"/><stop offset="0.15" stop-color="#a2dbd2"/><stop offset="0.23" stop-color="#aaded6"/><stop offset="0.31" stop-color="#c8eae6"/><stop offset="0.38" stop-color="#f5f3ee"/><stop offset="0.46" stop-color="#ecd8a5"/><stop offset="0.54" stop-color="#d6b067"/><stop offset="0.62" stop-color="#d6b067"/><stop offset="0.69" stop-color="#e5cb8e"/><stop offset="0.77" stop-color="#ebd6a2"/><stop offset="0.85" stop-color="#e1c684"/><stop offset="0.92" stop-color="#b57826"/><stop offset="1" stop-color="#ac6f20"/></linearGradient>
<linearGradient id="m137"><stop offset="0" stop-color="#66bab0"/><stop offset="0.08" stop-color="#78c7bb"/><stop offset="0.15" stop-color="#9dd9d0"/><stop offset="0.23" stop-color="#bbe5df"/><stop offset="0.31" stop-color="#ccebe7"/><stop offset="0.38" stop-color="#e1f0ee"/><stop offset="0.46" stop-color="#f5f1e7"/><stop offset="0.54" stop-color="#f4e5bd"/><stop offset="0.62" stop-color="#ebd5a0"/><stop offset="0.69" stop-color="#ebd7a3"/><stop offset="0.77" stop-color="#eedaa9"/><stop offset="0.85" stop-color="#dbba74"/><stop offset="0.92" stop-color="#a06317"/><stop offset="1" stop-color="#c18633"/></linearGradient>
<linearGradient id="m138"><stop offset="0" stop-color="#a6dcd4"/><stop offset="0.08" stop-color="#cbebe6"/><stop offset="0.15" stop-color="#f5f2e8"/><stop offset="0.23" stop-color="#f3e3ba"/><stop offset="0.31" stop-color="#f5e7c1"/><stop offset="0.38" stop-color="#f5f2ea"/><stop offset="0.46" stop-color="#eaf2f1"/><stop offset="0.54" stop-color="#f5f0e3"/><stop offset="0.62" stop-color="#f1dfb3"/><stop offset="0.69" stop-color="#e4ca8b"/><stop offset="0.77" stop-color="#e1c583"/><stop offset="0.85" stop-color="#ce9f52"/><stop offset="0.92" stop-color="#8f540c"/><stop offset="1" stop-color="#955910"/></linearGradient>
<linearGradient id="m139"><stop offset="0" stop-color="#f5f4f2"/><stop offset="0.08" stop-color="#f4f5f5"/><stop offset="0.15" stop-color="#edf3f2"/><stop offset="0.23" stop-color="#e9f2f1"/><stop offset="0.31" stop-color="#e4f1ef"/><stop offset="0.38" stop-color="#d3ede9"/><stop offset="0.46" stop-color="#c7eae5"/><stop offset="0.54" stop-color="#ceece8"/><stop offset="0.62" stop-color="#def0ed"/><stop offset="0.69" stop-color="#f1f4f4"/><stop offset="0.77" stop-color="#f6ecd1"/><stop offset="0.85" stop-color="#cb994b"/><stop offset="0.92" stop-color="#965b11"/><stop offset="1" stop-color="#c69040"/></linearGradient>
<linearGradient id="g0"><stop offset="0" stop-color="#f4b99f"/><stop offset="0.09" stop-color="#f3bea6"/><stop offset="0.18" stop-color="#f2c6b1"/><stop offset="0.27" stop-color="#efcbb9"/><stop offset="0.36" stop-color="#e9d1c5"/><stop offset="0.45" stop-color="#e6d4cb"/><stop offset="0.55" stop-color="#e7d3c9"/><stop offset="0.64" stop-color="#e2d7d2"/><stop offset="0.73" stop-color="#d5dae4"/><stop offset="0.82" stop-color="#bed1f3"/><stop offset="0.91" stop-color="#84a5f8"/><stop offset="1" stop-color="#c9d7f0"/></linearGradient>
<linearGradient id="g1"><stop offset="0" stop-color="#f7ab8d"/><stop offset="0.09" stop-color="#f5b297"/><stop offset="0.18" stop-color="#f3bfa8"/><stop offset="0.27" stop-color="#f3c0a9"/><stop offset="0.36" stop-color="#f3bfa7"/><stop offset="0.45" stop-color="#f2c7b2"/><stop offset="0.55" stop-color="#ebcfc1"/><stop offset="0.64" stop-color="#e6d4cb"/><stop offset="0.73" stop-color="#e5d5ce"/><stop offset="0.82" stop-color="#dfdad7"/><stop offset="0.91" stop-color="#d3d9e6"/><stop offset="1" stop-color="#d1d9e8"/></linearGradient>
<linearGradient id="g2"><stop offset="0" stop-color="#f7aa8b"/><stop offset="0.09" stop-color="#f7a788"/><stop offset="0.18" stop-color="#f7a889"/><stop offset="0.27" stop-color="#f5b499"/><stop offset="0.36" stop-color="#f1c9b5"/><stop offset="0.45" stop-color="#ead0c3"/><stop offset="0.55" stop-color="#e5d5cc"/><stop offset="0.64" stop-color="#dedbda"/><stop offset="0.73" stop-color="#dbdcde"/><stop offset="0.82" stop-color="#d6dae3"/><stop offset="0.91" stop-color="#c3d3f2"/><stop offset="1" stop-color="#a5c2fb"/></linearGradient>
<linearGradient id="g3"><stop offset="0" stop-color="#f4b69c"/><stop offset="0.09" stop-color="#f6ae90"/><stop offset="0.18" stop-color="#f6a586"/><stop offset="0.27" stop-color="#f6ab8d"/><stop offset="0.36" stop-color="#f4b69c"/><stop offset="0.45" stop-color="#f2c3ad"/><stop offset="0.55" stop-color="#ead0c3"/><stop offset="0.64" stop-color="#e2d8d3"/><stop offset="0.73" stop-color="#dadbdf"/><stop offset="0.82" stop-color="#d2d9e7"/><stop offset="0.91" stop-color="#cad7ef"/><stop offset="1" stop-color="#bbcff4"/></linearGradient>
<linearGradient id="g4"><stop offset="0" stop-color="#e6765d"/><stop offset="0.09" stop-color="#e5735b"/><stop offset="0.18" stop-color="#e6765e"/><stop offset="0.27" stop-color="#e87b62"/><stop offset="0.36" stop-color="#f39b7d"/><stop offset="0.45" stop-color="#f6af92"/><stop offset="0.55" stop-color="#f3bea6"/><stop offset="0.64" stop-color="#efccba"/><stop offset="0.73" stop-color="#e5d5cd"/><stop offset="0.82" stop-color="#dcdcdd"/><stop offset="0.91" stop-color="#d2d9e7"/><stop offset="1" stop-color="#cad7ef"/></linearGradient>
<linearGradient id="g5"><stop offset="0" stop-color="#e26952"/><stop offset="0.09" stop-color="#e5725a"/><stop offset="0.18" stop-color="#ef9175"/><stop offset="0.27" stop-color="#f6a485"/><stop offset="0.36" stop-color="#f5b398"/><stop offset="0.45" stop-color="#f2c6b1"/><stop offset="0.55" stop-color="#e4d6ce"/><stop offset="0.64" stop-color="#d9dbe0"/><stop offset="0.73" stop-color="#cfd9ea"/><stop offset="0.82" stop-color="#c5d4f1"/><stop offset="0.91" stop-color="#b2c9f7"/><stop offset="1" stop-color="#a2c0fc"/></linearGradient>
<linearGradient id="g6"><stop offset="0" stop-color="#ef9175"/><stop offset="0.09" stop-color="#f1977a"/><stop offset="0.18" stop-color="#f7aa8b"/><stop offset="0.27" stop-color="#f6ad90"/><stop offset="0.36" stop-color="#f6af92"/><stop offset="0.45" stop-color="#f4baa1"/><stop offset="0.55" stop-color="#f2c5b0"/><stop offset="0.64" stop-color="#e9d1c5"/><stop offset="0.73" stop-color="#d6dae3"/><stop offset="0.82" stop-color="#c8d7f0"/><stop offset="0.91" stop-color="#c1d2f3"/><stop offset="1" stop-color="#b9cdf5"/></linearGradient>
<linearGradient id="g7"><stop offset="0" stop-color="#f7ab8c"/><stop offset="0.09" stop-color="#f5b69b"/><stop offset="0.18" stop-color="#f2c6b1"/><stop offset="0.27" stop-color="#efccba"/><stop offset="0.36" stop-color="#ebcfc1"/><stop offset="0.45" stop-color="#e5d5cd"/><stop offset="0.55" stop-color="#dfdad9"/><stop offset="0.64" stop-color="#d7dbe2"/><stop offset="0.73" stop-color="#cad7ef"/><stop offset="0.82" stop-color="#b6ccf6"/><stop offset="0.91" stop-color="#b4cbf7"/><stop offset="1" stop-color="#b3caf7"/></linearGradient>
<linearGradient id="g8"><stop offset="0" stop-color="#ec876c"/><stop offset="0.09" stop-color="#f19579"/><stop offset="0.18" stop-color="#f7ab8d"/><stop offset="0.27" stop-color="#f5b59a"/><stop offset="0.36" stop-color="#f3c1aa"/><stop offset="0.45" stop-color="#efccbb"/><stop offset="0.55" stop-color="#e7d3c8"/><stop offset="0.64" stop-color="#dfdad8"/><stop offset="0.73" stop-color="#d6dae3"/><stop offset="0.82" stop-color="#ced8eb"/><stop offset="0.91" stop-color="#c4d4f2"/><stop offset="1" stop-color="#b7ccf6"/></linearGradient>
<linearGradient id="g9"><stop offset="0" stop-color="#f5a284"/><stop offset="0.09" stop-color="#f29a7c"/><stop offset="0.18" stop-color="#f29a7c"/><stop offset="0.27" stop-color="#f6a485"/><stop offset="0.36" stop-color="#f6af92"/><stop offset="0.45" stop-color="#f3bda4"/><stop offset="0.55" stop-color="#efccbb"/><stop offset="0.64" stop-color="#e4d5ce"/><stop offset="0.73" stop-color="#dadbdf"/><stop offset="0.82" stop-color="#d1d9e8"/><stop offset="0.91" stop-color="#c9d7f0"/><stop offset="1" stop-color="#b9cef5"/></linearGradient>
<linearGradient id="g10"><stop offset="0" stop-color="#f1977a"/><stop offset="0.09" stop-color="#ef9175"/><stop offset="0.18" stop-color="#f09276"/><stop offset="0.27" stop-color="#f39b7e"/><stop offset="0.36" stop-color="#f5a385"/><stop offset="0.45" stop-color="#f5b69b"/><stop offset="0.55" stop-color="#efccba"/><stop offset="0.64" stop-color="#e4d6cf"/><stop offset="0.73" stop-color="#dbdbde"/><stop offset="0.82" stop-color="#d2d9e7"/><stop offset="0.91" stop-color="#c6d5f1"/><stop offset="1" stop-color="#b1c9f8"/></linearGradient>
<linearGradient id="g11"><stop offset="0" stop-color="#f2987b"/><stop offset="0.09" stop-color="#ea8066"/><stop offset="0.18" stop-color="#e5735b"/><stop offset="0.27" stop-color="#eb8368"/><stop offset="0.36" stop-color="#f6a688"/><stop offset="0.45" stop-color="#f4bba2"/><stop offset="0.55" stop-color="#ead0c4"/><stop offset="0.64" stop-color="#dedbda"/><stop offset="0.73" stop-color="#d9dbe0"/><stop offset="0.82" stop-color="#d1d9e8"/><stop offset="0.91" stop-color="#c3d4f2"/><stop offset="1" stop-color="#afc8f8"/></linearGradient>
<linearGradient id="g12"><stop offset="0" stop-color="#f1c9b4"/><stop offset="0.09" stop-color="#f5b499"/><stop offset="0.18" stop-color="#f4a082"/><stop offset="0.27" stop-color="#f39c7f"/><stop offset="0.36" stop-color="#f49e80"/><stop offset="0.45" stop-color="#f5b297"/><stop offset="0.55" stop-color="#efccba"/><stop offset="0.64" stop-color="#e2d8d3"/><stop offset="0.73" stop-color="#d4dae5"/><stop offset="0.82" stop-color="#c9d7f0"/><stop offset="0.91" stop-color="#b8cdf5"/><stop offset="1" stop-color="#abc5fa"/></linearGradient>
<linearGradient id="g13"><stop offset="0" stop-color="#eecdbc"/><stop offset="0.09" stop-color="#f0cbb8"/><stop offset="0.18" stop-color="#f1cab6"/><stop offset="0.27" stop-color="#f0cbb8"/><stop offset="0.36" stop-color="#f1cab6"/><stop offset="0.45" stop-color="#ebd0c2"/><stop offset="0.55" stop-color="#e1d8d5"/><stop offset="0.64" stop-color="#d9dbe0"/><stop offset="0.73" stop-color="#cfd9ea"/><stop offset="0.82" stop-color="#c4d4f2"/><stop offset="0.91" stop-color="#b4caf7"/><stop offset="1" stop-color="#bacef5"/></linearGradient>
<linearGradient id="g14"><stop offset="0" stop-color="#f2c7b2"/><stop offset="0.09" stop-color="#efccba"/><stop offset="0.18" stop-color="#e9d1c5"/><stop offset="0.27" stop-color="#e7d3c9"/><stop offset="0.36" stop-color="#e7d3c9"/><stop offset="0.45" stop-color="#e1d8d4"/><stop offset="0.55" stop-color="#dadbdf"/><stop offset="0.64" stop-color="#d4dae5"/><stop offset="0.73" stop-color="#cfd9ea"/><stop offset="0.82" stop-color="#bed1f3"/><stop offset="0.91" stop-color="#87a8f9"/><stop offset="1" stop-color="#b7ccf6"/></linearGradient>
<linearGradient id="g15"><stop offset="0" stop-color="#f5b296"/><stop offset="0.09" stop-color="#f5a182"/><stop offset="0.18" stop-color="#ef8f73"/><stop offset="0.27" stop-color="#f09478"/><stop offset="0.36" stop-color="#f7a889"/><stop offset="0.45" stop-color="#f5b59a"/><stop offset="0.55" stop-color="#f2c4ae"/><stop offset="0.64" stop-color="#ead0c3"/><stop offset="0.73" stop-color="#e3d6d0"/><stop offset="0.82" stop-color="#d8dbe1"/><stop offset="0.91" stop-color="#c0d2f3"/><stop offset="1" stop-color="#afc8f8"/></linearGradient>
<linearGradient id="g16"><stop offset="0" stop-color="#f7a788"/><stop offset="0.09" stop-color="#f5a284"/><stop offset="0.18" stop-color="#f6a486"/><stop offset="0.27" stop-color="#f6ae91"/><stop offset="0.36" stop-color="#f4b79d"/><stop offset="0.45" stop-color="#f1c8b3"/><stop offset="0.55" stop-color="#e6d4cb"/><stop offset="0.64" stop-color="#dbdcde"/><stop offset="0.73" stop-color="#d2d9e7"/><stop offset="0.82" stop-color="#c9d7f0"/><stop offset="0.91" stop-color="#b0c8f8"/><stop offset="1" stop-color="#9cbcfe"/></linearGradient>
<linearGradient id="g17"><stop offset="0" stop-color="#f6ae91"/><stop offset="0.09" stop-color="#f7a98b"/><stop offset="0.18" stop-color="#f7a889"/><stop offset="0.27" stop-color="#f5b499"/><stop offset="0.36" stop-color="#f2c3ac"/><stop offset="0.45" stop-color="#ead0c3"/><stop offset="0.55" stop-color="#dbdcde"/><stop offset="0.64" stop-color="#d0d9e9"/><stop offset="0.73" stop-color="#bed0f4"/><stop offset="0.82" stop-color="#a9c4fa"/><stop offset="0.91" stop-color="#99baff"/><stop offset="1" stop-color="#8cadfa"/></linearGradient>
<linearGradient id="g18"><stop offset="0" stop-color="#f5b499"/><stop offset="0.09" stop-color="#f6af92"/><stop offset="0.18" stop-color="#f6ae91"/><stop offset="0.27" stop-color="#f5b69b"/><stop offset="0.36" stop-color="#f2c2ab"/><stop offset="0.45" stop-color="#f0cbb8"/><stop offset="0.55" stop-color="#eccebf"/><stop offset="0.64" stop-color="#e5d5cc"/><stop offset="0.73" stop-color="#dcdcdd"/><stop offset="0.82" stop-color="#d5dae4"/><stop offset="0.91" stop-color="#ccd8ed"/><stop offset="1" stop-color="#bfd1f3"/></linearGradient>
<linearGradient id="g19"><stop offset="0" stop-color="#e97d64"/><stop offset="0.09" stop-color="#e87c63"/><stop offset="0.18" stop-color="#ee8d71"/><stop offset="0.27" stop-color="#f5a384"/><stop offset="0.36" stop-color="#f5b499"/><stop offset="0.45" stop-color="#f2c4ae"/><stop offset="0.55" stop-color="#eeccbb"/><stop offset="0.64" stop-color="#e4d6cf"/><stop offset="0.73" stop-color="#d1d9e8"/><stop offset="0.82" stop-color="#c2d3f2"/><stop offset="0.91" stop-color="#c7d6f1"/><stop offset="1" stop-color="#b3caf7"/></linearGradient>
<linearGradient id="g20"><stop offset="0" stop-color="#f1977a"/><stop offset="0.09" stop-color="#f29a7d"/><stop offset="0.18" stop-color="#f6ab8d"/><stop offset="0.27" stop-color="#f4b69c"/><stop offset="0.36" stop-color="#f3bfa8"/><stop offset="0.45" stop-color="#e9d1c5"/><stop offset="0.55" stop-color="#d7dae2"/><stop offset="0.64" stop-color="#c8d6f0"/><stop offset="0.73" stop-color="#a1bffd"/><stop offset="0.82" stop-color="#9dbdfe"/><stop offset="0.91" stop-color="#d5dae4"/><stop offset="1" stop-color="#aec7f9"/></linearGradient>
<linearGradient id="g21"><stop offset="0" stop-color="#eb846a"/><stop offset="0.09" stop-color="#ec866b"/><stop offset="0.18" stop-color="#f09377"/><stop offset="0.27" stop-color="#f6ab8d"/><stop offset="0.36" stop-color="#f4bba2"/><stop offset="0.45" stop-color="#eccfc0"/><stop offset="0.55" stop-color="#dbdcde"/><stop offset="0.64" stop-color="#cdd8ec"/><stop offset="0.73" stop-color="#a0bffd"/><stop offset="0.82" stop-color="#84a5f8"/><stop offset="0.91" stop-color="#a7c3fb"/><stop offset="1" stop-color="#aac4fa"/></linearGradient>
<linearGradient id="g22"><stop offset="0" stop-color="#e87c63"/><stop offset="0.09" stop-color="#e7775e"/><stop offset="0.18" stop-color="#e87b62"/><stop offset="0.27" stop-color="#f09276"/><stop offset="0.36" stop-color="#f6b094"/><stop offset="0.45" stop-color="#f2c2ab"/><stop offset="0.55" stop-color="#eccfc0"/><stop offset="0.64" stop-color="#e0d9d5"/><stop offset="0.73" stop-color="#d2d9e7"/><stop offset="0.82" stop-color="#c4d4f1"/><stop offset="0.91" stop-color="#b6ccf6"/><stop offset="1" stop-color="#aac5fa"/></linearGradient>
<linearGradient id="g23"><stop offset="0" stop-color="#f5a384"/><stop offset="0.09" stop-color="#f09478"/><stop offset="0.18" stop-color="#ef9175"/><stop offset="0.27" stop-color="#f6a486"/><stop offset="0.36" stop-color="#f4b89f"/><stop offset="0.45" stop-color="#efccba"/><stop offset="0.55" stop-color="#dfdad8"/><stop offset="0.64" stop-color="#d2d9e7"/><stop offset="0.73" stop-color="#c1d2f3"/><stop offset="0.82" stop-color="#aac4fa"/><stop offset="0.91" stop-color="#98b9fe"/><stop offset="1" stop-color="#89aaf9"/></linearGradient>
<linearGradient id="g24"><stop offset="0" stop-color="#f3bda5"/><stop offset="0.09" stop-color="#f5b499"/><stop offset="0.18" stop-color="#f6ae91"/><stop offset="0.27" stop-color="#f6b094"/><stop offset="0.36" stop-color="#f5b69b"/><stop offset="0.45" stop-color="#f3bea6"/><stop offset="0.55" stop-color="#f2c3ac"/><stop offset="0.64" stop-color="#edcdbd"/><stop offset="0.73" stop-color="#e0d9d6"/><stop offset="0.82" stop-color="#d5dae4"/><stop offset="0.91" stop-color="#ced8eb"/><stop offset="1" stop-color="#c4d4f1"/></linearGradient>
<linearGradient id="g25"><stop offset="0" stop-color="#f5a183"/><stop offset="0.09" stop-color="#f19679"/><stop offset="0.18" stop-color="#f09477"/><stop offset="0.27" stop-color="#f09276"/><stop offset="0.36" stop-color="#f09276"/><stop offset="0.45" stop-color="#f6a586"/><stop offset="0.55" stop-color="#f5b499"/><stop offset="0.64" stop-color="#f2c5af"/><stop offset="0.73" stop-color="#e8d2c8"/><stop offset="0.82" stop-color="#dddcdc"/><stop offset="0.91" stop-color="#d4dae5"/><stop offset="1" stop-color="#ccd8ed"/></linearGradient>
<linearGradient id="g26"><stop offset="0" stop-color="#f5b499"/><stop offset="0.09" stop-color="#f39d80"/><stop offset="0.18" stop-color="#e97f65"/><stop offset="0.27" stop-color="#f09477"/><stop offset="0.36" stop-color="#f5b296"/><stop offset="0.45" stop-color="#f2c4ae"/><stop offset="0.55" stop-color="#e8d2c8"/><stop offset="0.64" stop-color="#dcdcdd"/><stop offset="0.73" stop-color="#cfd8ea"/><stop offset="0.82" stop-color="#bed1f3"/><stop offset="0.91" stop-color="#acc6f9"/><stop offset="1" stop-color="#9ebdfe"/></linearGradient>
<linearGradient id="g27"><stop offset="0" stop-color="#f4b9a0"/><stop offset="0.09" stop-color="#f6ad8f"/><stop offset="0.18" stop-color="#f5a384"/><stop offset="0.27" stop-color="#f5b59b"/><stop offset="0.36" stop-color="#edcebe"/><stop offset="0.45" stop-color="#e3d7d1"/><stop offset="0.55" stop-color="#e1d9d5"/><stop offset="0.64" stop-color="#d7dae2"/><stop offset="0.73" stop-color="#c3d4f2"/><stop offset="0.82" stop-color="#a5c1fc"/><stop offset="0.91" stop-color="#7b9cf5"/><stop offset="1" stop-color="#7697f3"/></linearGradient>
<linearGradient id="g28"><stop offset="0" stop-color="#f5b69c"/><stop offset="0.09" stop-color="#f7a88a"/><stop offset="0.18" stop-color="#f39b7d"/><stop offset="0.27" stop-color="#f6a586"/><stop offset="0.36" stop-color="#f5b59a"/><stop offset="0.45" stop-color="#f3c1aa"/><stop offset="0.55" stop-color="#f2c6b0"/><stop offset="0.64" stop-color="#ead1c4"/><stop offset="0.73" stop-color="#dbdbde"/><stop offset="0.82" stop-color="#c4d4f2"/><stop offset="0.91" stop-color="#6e8ff0"/><stop offset="1" stop-color="#88a9f9"/></linearGradient>
<linearGradient id="g29"><stop offset="0" stop-color="#eb856b"/><stop offset="0.09" stop-color="#ec876c"/><stop offset="0.18" stop-color="#f39c7e"/><stop offset="0.27" stop-color="#f5b59a"/><stop offset="0.36" stop-color="#eccebf"/><stop offset="0.45" stop-color="#dfdad8"/><stop offset="0.55" stop-color="#d6dae3"/><stop offset="0.64" stop-color="#cbd8ee"/><stop offset="0.73" stop-color="#bccff4"/><stop offset="0.82" stop-color="#a8c4fa"/><stop offset="0.91" stop-color="#83a4f7"/><stop offset="1" stop-color="#7a9bf4"/></linearGradient>
<linearGradient id="g30"><stop offset="0" stop-color="#ea8167"/><stop offset="0.09" stop-color="#e6745b"/><stop offset="0.18" stop-color="#e6765d"/><stop offset="0.27" stop-color="#ee8e72"/><stop offset="0.36" stop-color="#f6ae91"/><stop offset="0.45" stop-color="#f2c3ad"/><stop offset="0.55" stop-color="#eccfc0"/><stop offset="0.64" stop-color="#dedbd9"/><stop offset="0.73" stop-color="#d0d9e9"/><stop offset="0.82" stop-color="#bdd0f4"/><stop offset="0.91" stop-color="#9fbefd"/><stop offset="1" stop-color="#88a9f9"/></linearGradient>
<linearGradient id="g31"><stop offset="0" stop-color="#ec866b"/><stop offset="0.09" stop-color="#e6765e"/><stop offset="0.18" stop-color="#e5725a"/><stop offset="0.27" stop-color="#e97e64"/><stop offset="0.36" stop-color="#f2987b"/><stop offset="0.45" stop-color="#f6ac8e"/><stop offset="0.55" stop-color="#f5b397"/><stop offset="0.64" stop-color="#f2c5af"/><stop offset="0.73" stop-color="#e4d6d0"/><stop offset="0.82" stop-color="#d6dae3"/><stop offset="0.91" stop-color="#cad7ef"/><stop offset="1" stop-color="#b3caf7"/></linearGradient>
<linearGradient id="g32"><stop offset="0" stop-color="#f6ac8e"/><stop offset="0.09" stop-color="#ee8d71"/><stop offset="0.18" stop-color="#e5735a"/><stop offset="0.27" stop-color="#e6755c"/><stop offset="0.36" stop-color="#ec886d"/><stop offset="0.45" stop-color="#f39b7e"/><stop offset="0.55" stop-color="#f6a687"/><stop offset="0.64" stop-color="#f4baa0"/><stop offset="0.73" stop-color="#ead1c4"/><stop offset="0.82" stop-color="#dddcdc"/><stop offset="0.91" stop-color="#d4dae5"/><stop offset="1" stop-color="#b8cdf5"/></linearGradient>
<linearGradient id="g33"><stop offset="0" stop-color="#eccfc0"/><stop offset="0.09" stop-color="#f5b498"/><stop offset="0.18" stop-color="#ec876c"/><stop offset="0.27" stop-color="#ec886d"/><stop offset="0.36" stop-color="#f6ab8d"/><stop offset="0.45" stop-color="#f5b59a"/><stop offset="0.55" stop-color="#f4bba2"/><stop offset="0.64" stop-color="#efccba"/><stop offset="0.73" stop-color="#e3d6d0"/><stop offset="0.82" stop-color="#dfdad8"/><stop offset="0.91" stop-color="#ead1c4"/><stop offset="1" stop-color="#b7ccf6"/></linearGradient>
<linearGradient id="g34"><stop offset="0" stop-color="#edcdbd"/><stop offset="0.09" stop-color="#f3bda4"/><stop offset="0.18" stop-color="#f6ab8d"/><stop offset="0.27" stop-color="#f6b093"/><stop offset="0.36" stop-color="#f3c1aa"/><stop offset="0.45" stop-color="#f1cab6"/><stop offset="0.55" stop-color="#eccebf"/><stop offset="0.64" stop-color="#e4d5ce"/><stop offset="0.73" stop-color="#dedbdb"/><stop offset="0.82" stop-color="#d8dbe1"/><stop offset="0.91" stop-color="#d7dbe2"/><stop offset="1" stop-color="#ccd8ed"/></linearGradient>
<linearGradient id="g35"><stop offset="0" stop-color="#e9d1c6"/><stop offset="0.09" stop-color="#f0cbb7"/><stop offset="0.18" stop-color="#f2c2ab"/><stop offset="0.27" stop-color="#f1c9b4"/><stop offset="0.36" stop-color="#e9d1c6"/><stop offset="0.45" stop-color="#e3d7d0"/><stop offset="0.55" stop-color="#e1d8d4"/><stop offset="0.64" stop-color="#dbdcde"/><stop offset="0.73" stop-color="#d4dae5"/><stop offset="0.82" stop-color="#cfd8ea"/><stop offset="0.91" stop-color="#d2d9e7"/><stop offset="1" stop-color="#d5dae4"/></linearGradient>
<linearGradient id="g36"><stop offset="0" stop-color="#eecdbc"/><stop offset="0.09" stop-color="#f2c3ad"/><stop offset="0.18" stop-color="#f4baa0"/><stop offset="0.27" stop-color="#f4baa1"/><stop offset="0.36" stop-color="#f3c0a8"/><stop offset="0.45" stop-color="#f1c8b3"/><stop offset="0.55" stop-color="#edcebe"/><stop offset="0.64" stop-color="#e6d4ca"/><stop offset="0.73" stop-color="#e0d9d6"/><stop offset="0.82" stop-color="#dadbdf"/><stop offset="0.91" stop-color="#d8dbe1"/><stop offset="1" stop-color="#d6dae3"/></linearGradient>
<linearGradient id="g37"><stop offset="0" stop-color="#ee8d72"/><stop offset="0.09" stop-color="#ec876d"/><stop offset="0.18" stop-color="#f1977b"/><stop offset="0.27" stop-color="#f6a687"/><stop offset="0.36" stop-color="#f5b296"/><stop offset="0.45" stop-color="#f2c7b2"/><stop offset="0.55" stop-color="#e9d1c6"/><stop offset="0.64" stop-color="#dcdcdd"/><stop offset="0.73" stop-color="#ccd8ed"/><stop offset="0.82" stop-color="#b6ccf6"/><stop offset="0.91" stop-color="#acc6f9"/><stop offset="1" stop-color="#a6c2fb"/></linearGradient>
<linearGradient id="g38"><stop offset="0" stop-color="#f39c7e"/><stop offset="0.09" stop-color="#ec866b"/><stop offset="0.18" stop-color="#ec866b"/><stop offset="0.27" stop-color="#f39d7f"/><stop offset="0.36" stop-color="#f3bca3"/><stop offset="0.45" stop-color="#ead0c3"/><stop offset="0.55" stop-color="#dadbdf"/><stop offset="0.64" stop-color="#ccd8ed"/><stop offset="0.73" stop-color="#bed1f3"/><stop offset="0.82" stop-color="#afc7f8"/><stop offset="0.91" stop-color="#a4c1fc"/><stop offset="1" stop-color="#9dbdfe"/></linearGradient>
<linearGradient id="g39"><stop offset="0" stop-color="#f2c2ab"/><stop offset="0.09" stop-color="#f3bca4"/><stop offset="0.18" stop-color="#f3bda4"/><stop offset="0.27" stop-color="#f4b89e"/><stop offset="0.36" stop-color="#f4b89e"/><stop offset="0.45" stop-color="#f3bfa8"/><stop offset="0.55" stop-color="#efccba"/><stop offset="0.64" stop-color="#e7d3c9"/><stop offset="0.73" stop-color="#e3d7d1"/><stop offset="0.82" stop-color="#dedbda"/><stop offset="0.91" stop-color="#dcdcdd"/><stop offset="1" stop-color="#d0d9e9"/></linearGradient>
<linearGradient id="g40"><stop offset="0" stop-color="#d7dbe2"/><stop offset="0.09" stop-color="#e8d2c7"/><stop offset="0.18" stop-color="#f3bca4"/><stop offset="0.27" stop-color="#f7a98a"/><stop offset="0.36" stop-color="#f5a183"/><stop offset="0.45" stop-color="#f09377"/><stop offset="0.55" stop-color="#e97d63"/><stop offset="0.64" stop-color="#f2997c"/><stop offset="0.73" stop-color="#f1cab6"/><stop offset="0.82" stop-color="#e4d5ce"/><stop offset="0.91" stop-color="#eccfc0"/><stop offset="1" stop-color="#b6ccf6"/></linearGradient>
<linearGradient id="g41"><stop offset="0" stop-color="#d4dae5"/><stop offset="0.09" stop-color="#e7d3c9"/><stop offset="0.18" stop-color="#f4baa1"/><stop offset="0.27" stop-color="#f6ae91"/><stop offset="0.36" stop-color="#f4b89e"/><stop offset="0.45" stop-color="#f6ae92"/><stop offset="0.55" stop-color="#ed8b70"/><stop offset="0.64" stop-color="#f5a284"/><stop offset="0.73" stop-color="#f0cbb9"/><stop offset="0.82" stop-color="#dddcdc"/><stop offset="0.91" stop-color="#d7dae2"/><stop offset="1" stop-color="#c3d4f2"/></linearGradient>
<linearGradient id="g42"><stop offset="0" stop-color="#e5d5cd"/><stop offset="0.09" stop-color="#f2c2ab"/><stop offset="0.18" stop-color="#f7a98a"/><stop offset="0.27" stop-color="#f49f81"/><stop offset="0.36" stop-color="#f6ae90"/><stop offset="0.45" stop-color="#f5b69b"/><stop offset="0.55" stop-color="#f4baa1"/><stop offset="0.64" stop-color="#eeccbb"/><stop offset="0.73" stop-color="#dfdad8"/><stop offset="0.82" stop-color="#d2d9e7"/><stop offset="0.91" stop-color="#c9d7f0"/><stop offset="1" stop-color="#a0bffd"/></linearGradient>
<linearGradient id="g43"><stop offset="0" stop-color="#e9d2c6"/><stop offset="0.09" stop-color="#f2c2ac"/><stop offset="0.18" stop-color="#f5b195"/><stop offset="0.27" stop-color="#f7aa8b"/><stop offset="0.36" stop-color="#f6ad90"/><stop offset="0.45" stop-color="#f6b094"/><stop offset="0.55" stop-color="#f6ae91"/><stop offset="0.64" stop-color="#f3bfa7"/><stop offset="0.73" stop-color="#e3d7d1"/><stop offset="0.82" stop-color="#dadbdf"/><stop offset="0.91" stop-color="#ebd0c2"/><stop offset="1" stop-color="#c3d4f2"/></linearGradient>
<linearGradient id="g44"><stop offset="0" stop-color="#e1d9d5"/><stop offset="0.09" stop-color="#efccba"/><stop offset="0.18" stop-color="#f4b99f"/><stop offset="0.27" stop-color="#f6ac8e"/><stop offset="0.36" stop-color="#f7aa8c"/><stop offset="0.45" stop-color="#f6af92"/><stop offset="0.55" stop-color="#f3c1aa"/><stop offset="0.64" stop-color="#ebcfc1"/><stop offset="0.73" stop-color="#e4d6cf"/><stop offset="0.82" stop-color="#dadbdf"/><stop offset="0.91" stop-color="#d3d9e6"/><stop offset="1" stop-color="#b8cdf5"/></linearGradient>
<linearGradient id="g45"><stop offset="0" stop-color="#dadbdf"/><stop offset="0.09" stop-color="#e7d3c9"/><stop offset="0.18" stop-color="#f2c6b0"/><stop offset="0.27" stop-color="#f4baa1"/><stop offset="0.36" stop-color="#f3bfa8"/><stop offset="0.45" stop-color="#f3c1ab"/><stop offset="0.55" stop-color="#f2c5b0"/><stop offset="0.64" stop-color="#e9d1c5"/><stop offset="0.73" stop-color="#dcdcdd"/><stop offset="0.82" stop-color="#d0d9e9"/><stop offset="0.91" stop-color="#c7d6f1"/><stop offset="1" stop-color="#a1bffd"/></linearGradient>
<linearGradient id="g46"><stop offset="0" stop-color="#dfdad9"/><stop offset="0.09" stop-color="#e9d1c5"/><stop offset="0.18" stop-color="#f2c5af"/><stop offset="0.27" stop-color="#f3bea6"/><stop offset="0.36" stop-color="#f3c0a9"/><stop offset="0.45" stop-color="#f3c0a9"/><stop offset="0.55" stop-color="#f2c4ae"/><stop offset="0.64" stop-color="#efccba"/><stop offset="0.73" stop-color="#e9d1c6"/><stop offset="0.82" stop-color="#e9d1c5"/><stop offset="0.91" stop-color="#f1cab7"/><stop offset="1" stop-color="#c2d3f2"/></linearGradient>
<linearGradient id="g47"><stop offset="0" stop-color="#edcdbd"/><stop offset="0.09" stop-color="#f4b89e"/><stop offset="0.18" stop-color="#f39b7e"/><stop offset="0.27" stop-color="#f2987b"/><stop offset="0.36" stop-color="#f7a88a"/><stop offset="0.45" stop-color="#f5b397"/><stop offset="0.55" stop-color="#f3c1aa"/><stop offset="0.64" stop-color="#eccfc0"/><stop offset="0.73" stop-color="#dfdad9"/><stop offset="0.82" stop-color="#d4dae5"/><stop offset="0.91" stop-color="#bdd0f4"/><stop offset="1" stop-color="#9cbcfe"/></linearGradient>
<linearGradient id="g48"><stop offset="0" stop-color="#d6dae3"/><stop offset="0.09" stop-color="#e3d6d0"/><stop offset="0.18" stop-color="#f1c9b4"/><stop offset="0.27" stop-color="#f2c2ac"/><stop offset="0.36" stop-color="#f3c1ab"/><stop offset="0.45" stop-color="#f2c3ac"/><stop offset="0.55" stop-color="#f3c1aa"/><stop offset="0.64" stop-color="#f1cab7"/><stop offset="0.73" stop-color="#e3d6d0"/><stop offset="0.82" stop-color="#d2d9e7"/><stop offset="0.91" stop-color="#99baff"/><stop offset="1" stop-color="#bfd1f3"/></linearGradient>
<linearGradient id="g49"><stop offset="0" stop-color="#d6dae3"/><stop offset="0.09" stop-color="#e3d7d1"/><stop offset="0.18" stop-color="#efccba"/><stop offset="0.27" stop-color="#f1c8b4"/><stop offset="0.36" stop-color="#f1cab6"/><stop offset="0.45" stop-color="#eccebf"/><stop offset="0.55" stop-color="#e5d5ce"/><stop offset="0.64" stop-color="#dddcdc"/><stop offset="0.73" stop-color="#d5dae4"/><stop offset="0.82" stop-color="#ced8eb"/><stop offset="0.91" stop-color="#c9d7f0"/><stop offset="1" stop-color="#ced8eb"/></linearGradient>
<linearGradient id="g50"><stop offset="0" stop-color="#dddcdb"/><stop offset="0.09" stop-color="#e3d6d0"/><stop offset="0.18" stop-color="#e8d2c8"/><stop offset="0.27" stop-color="#edcebe"/><stop offset="0.36" stop-color="#eecdbc"/><stop offset="0.45" stop-color="#eecdbc"/><stop offset="0.55" stop-color="#edcebe"/><stop offset="0.64" stop-color="#e8d2c7"/><stop offset="0.73" stop-color="#e1d8d4"/><stop offset="0.82" stop-color="#dadbdf"/><stop offset="0.91" stop-color="#d7dae2"/><stop offset="1" stop-color="#d3dae6"/></linearGradient>
<linearGradient id="g51"><stop offset="0" stop-color="#e1d8d4"/><stop offset="0.09" stop-color="#f2c7b2"/><stop offset="0.18" stop-color="#f6b094"/><stop offset="0.27" stop-color="#f6af92"/><stop offset="0.36" stop-color="#f3c0a9"/><stop offset="0.45" stop-color="#edcebe"/><stop offset="0.55" stop-color="#e7d3ca"/><stop offset="0.64" stop-color="#d8dbe1"/><stop offset="0.73" stop-color="#c4d4f2"/><stop offset="0.82" stop-color="#a7c3fb"/><stop offset="0.91" stop-color="#93b4fd"/><stop offset="1" stop-color="#85a6f8"/></linearGradient>
<linearGradient id="g52"><stop offset="0" stop-color="#bbcff4"/><stop offset="0.09" stop-color="#e1d9d5"/><stop offset="0.18" stop-color="#f6af92"/><stop offset="0.27" stop-color="#ed8b70"/><stop offset="0.36" stop-color="#e97f65"/><stop offset="0.45" stop-color="#ed8b6f"/><stop offset="0.55" stop-color="#f5b397"/><stop offset="0.64" stop-color="#edcebe"/><stop offset="0.73" stop-color="#d6dae3"/><stop offset="0.82" stop-color="#b7ccf6"/><stop offset="0.91" stop-color="#95b6fd"/><stop offset="1" stop-color="#8fb0fb"/></linearGradient>
<linearGradient id="g53"><stop offset="0" stop-color="#c2d3f2"/><stop offset="0.09" stop-color="#dadbdf"/><stop offset="0.18" stop-color="#f0cbb7"/><stop offset="0.27" stop-color="#f5b195"/><stop offset="0.36" stop-color="#f1977b"/><stop offset="0.45" stop-color="#ea8167"/><stop offset="0.55" stop-color="#ed8b70"/><stop offset="0.64" stop-color="#f2997c"/><stop offset="0.73" stop-color="#f6a485"/><stop offset="0.82" stop-color="#f2c3ad"/><stop offset="0.91" stop-color="#d3dae6"/><stop offset="1" stop-color="#dddcdc"/></linearGradient>
<linearGradient id="g54"><stop offset="0" stop-color="#ccd8ed"/><stop offset="0.09" stop-color="#d7dbe2"/><stop offset="0.18" stop-color="#e3d6d0"/><stop offset="0.27" stop-color="#f2c6b0"/><stop offset="0.36" stop-color="#f6af92"/><stop offset="0.45" stop-color="#f49e80"/><stop offset="0.55" stop-color="#f7a98a"/><stop offset="0.64" stop-color="#f5b498"/><stop offset="0.73" stop-color="#f3bfa7"/><stop offset="0.82" stop-color="#e8d2c8"/><stop offset="0.91" stop-color="#d0d9e9"/><stop offset="1" stop-color="#c7d6f1"/></linearGradient>
<linearGradient id="g55"><stop offset="0" stop-color="#bdd0f4"/><stop offset="0.09" stop-color="#d6dae3"/><stop offset="0.18" stop-color="#e9d1c6"/><stop offset="0.27" stop-color="#f4b89f"/><stop offset="0.36" stop-color="#f39b7e"/><stop offset="0.45" stop-color="#f19579"/><stop offset="0.55" stop-color="#f7a889"/><stop offset="0.64" stop-color="#f3c0a9"/><stop offset="0.73" stop-color="#e3d6d0"/><stop offset="0.82" stop-color="#cdd8ec"/><stop offset="0.91" stop-color="#a9c4fa"/><stop offset="1" stop-color="#b2c9f7"/></linearGradient>
<linearGradient id="g56"><stop offset="0" stop-color="#95b6fd"/><stop offset="0.09" stop-color="#b9cdf5"/><stop offset="0.18" stop-color="#d5dae4"/><stop offset="0.27" stop-color="#e4d6cf"/><stop offset="0.36" stop-color="#f1cab7"/><stop offset="0.45" stop-color="#f4b79e"/><stop offset="0.55" stop-color="#f7ab8c"/><stop offset="0.64" stop-color="#f7aa8c"/><stop offset="0.73" stop-color="#f5b498"/><stop offset="0.82" stop-color="#f4baa1"/><stop offset="0.91" stop-color="#f6ad90"/><stop offset="1" stop-color="#e0d9d5"/></linearGradient>
<linearGradient id="g57"><stop offset="0" stop-color="#cfd9ea"/><stop offset="0.09" stop-color="#dcdcdd"/><stop offset="0.18" stop-color="#ead0c3"/><stop offset="0.27" stop-color="#f4baa1"/><stop offset="0.36" stop-color="#f09376"/><stop offset="0.45" stop-color="#eb856a"/><stop offset="0.55" stop-color="#f5a284"/><stop offset="0.64" stop-color="#f6ae91"/><stop offset="0.73" stop-color="#f7aa8b"/><stop offset="0.82" stop-color="#f5b59b"/><stop offset="0.91" stop-color="#eeccbb"/><stop offset="1" stop-color="#e0dad7"/></linearGradient>
<linearGradient id="g58"><stop offset="0" stop-color="#d9dbe0"/><stop offset="0.09" stop-color="#e3d6d0"/><stop offset="0.18" stop-color="#eecdbc"/><stop offset="0.27" stop-color="#f5b59a"/><stop offset="0.36" stop-color="#ee8e73"/><stop offset="0.45" stop-color="#e87c63"/><stop offset="0.55" stop-color="#f09276"/><stop offset="0.64" stop-color="#f5a384"/><stop offset="0.73" stop-color="#f6ab8d"/><stop offset="0.82" stop-color="#f1c8b4"/><stop offset="0.91" stop-color="#d3d9e6"/><stop offset="1" stop-color="#dfdad9"/></linearGradient>
<linearGradient id="g59"><stop offset="0" stop-color="#bcd0f4"/><stop offset="0.09" stop-color="#ced8eb"/><stop offset="0.18" stop-color="#dadbdf"/><stop offset="0.27" stop-color="#ead1c4"/><stop offset="0.36" stop-color="#f4bba2"/><stop offset="0.45" stop-color="#f7aa8c"/><stop offset="0.55" stop-color="#f7ab8d"/><stop offset="0.64" stop-color="#f6ab8d"/><stop offset="0.73" stop-color="#f6ad8f"/><stop offset="0.82" stop-color="#f3bda5"/><stop offset="0.91" stop-color="#e7d3c9"/><stop offset="1" stop-color="#dedbda"/></linearGradient>
<linearGradient id="g60"><stop offset="0" stop-color="#ccd8ed"/><stop offset="0.09" stop-color="#d2d9e7"/><stop offset="0.18" stop-color="#d8dbe1"/><stop offset="0.27" stop-color="#e4d6cf"/><stop offset="0.36" stop-color="#f1c9b5"/><stop offset="0.45" stop-color="#f3bca4"/><stop offset="0.55" stop-color="#f3bea7"/><stop offset="0.64" stop-color="#f3bea6"/><stop offset="0.73" stop-color="#f4bba2"/><stop offset="0.82" stop-color="#f2c3ad"/><stop offset="0.91" stop-color="#f0cbb8"/><stop offset="1" stop-color="#e9d2c6"/></linearGradient>
<linearGradient id="g61"><stop offset="0" stop-color="#95b6fd"/><stop offset="0.09" stop-color="#a9c4fa"/><stop offset="0.18" stop-color="#c5d5f1"/><stop offset="0.27" stop-color="#d2d9e7"/><stop offset="0.36" stop-color="#dcdcdd"/><stop offset="0.45" stop-color="#eccebf"/><stop offset="0.55" stop-color="#f4b89e"/><stop offset="0.64" stop-color="#f7a889"/><stop offset="0.73" stop-color="#f6a485"/><stop offset="0.82" stop-color="#f6b093"/><stop offset="0.91" stop-color="#f4bba3"/><stop offset="1" stop-color="#eecdbc"/></linearGradient>
<linearGradient id="g62"><stop offset="0" stop-color="#93b4fd"/><stop offset="0.09" stop-color="#a5c2fb"/><stop offset="0.18" stop-color="#c0d2f3"/><stop offset="0.27" stop-color="#cfd8ea"/><stop offset="0.36" stop-color="#dbdcde"/><stop offset="0.45" stop-color="#e9d1c5"/><stop offset="0.55" stop-color="#f2c7b2"/><stop offset="0.64" stop-color="#f5b498"/><stop offset="0.73" stop-color="#f1977b"/><stop offset="0.82" stop-color="#ed8a6f"/><stop offset="0.91" stop-color="#ef9074"/><stop offset="1" stop-color="#f6ab8d"/></linearGradient>
<linearGradient id="g63"><stop offset="0" stop-color="#b4cbf7"/><stop offset="0.09" stop-color="#c0d2f3"/><stop offset="0.18" stop-color="#cdd8ec"/><stop offset="0.27" stop-color="#d7dbe2"/><stop offset="0.36" stop-color="#e1d8d4"/><stop offset="0.45" stop-color="#eccebf"/><stop offset="0.55" stop-color="#f1cab6"/><stop offset="0.64" stop-color="#f2c7b2"/><stop offset="0.73" stop-color="#f2c3ad"/><stop offset="0.82" stop-color="#efccb9"/><stop offset="0.91" stop-color="#e9d1c5"/><stop offset="1" stop-color="#e2d8d3"/></linearGradient>
<linearGradient id="g64"><stop offset="0" stop-color="#97b8fe"/><stop offset="0.09" stop-color="#a0befd"/><stop offset="0.18" stop-color="#afc8f8"/><stop offset="0.27" stop-color="#c0d1f3"/><stop offset="0.36" stop-color="#ccd8ed"/><stop offset="0.45" stop-color="#dedbdb"/><stop offset="0.55" stop-color="#f1c8b3"/><stop offset="0.64" stop-color="#f5b499"/><stop offset="0.73" stop-color="#f5b195"/><stop offset="0.82" stop-color="#f3c1aa"/><stop offset="0.91" stop-color="#e5d5ce"/><stop offset="1" stop-color="#d1d9e8"/></linearGradient>
<linearGradient id="g65"><stop offset="0" stop-color="#89aaf9"/><stop offset="0.09" stop-color="#99baff"/><stop offset="0.18" stop-color="#afc7f8"/><stop offset="0.27" stop-color="#cbd8ee"/><stop offset="0.36" stop-color="#dbdcde"/><stop offset="0.45" stop-color="#eccebf"/><stop offset="0.55" stop-color="#f4b79d"/><stop offset="0.64" stop-color="#f7aa8c"/><stop offset="0.73" stop-color="#f4b69c"/><stop offset="0.82" stop-color="#f1cab5"/><stop offset="0.91" stop-color="#ead1c4"/><stop offset="1" stop-color="#dedbdb"/></linearGradient>
<linearGradient id="g66"><stop offset="0" stop-color="#adc6f9"/><stop offset="0.09" stop-color="#b9cdf5"/><stop offset="0.18" stop-color="#c9d7f0"/><stop offset="0.27" stop-color="#dadbdf"/><stop offset="0.36" stop-color="#eeccbb"/><stop offset="0.45" stop-color="#f5b398"/><stop offset="0.55" stop-color="#f39c7e"/><stop offset="0.64" stop-color="#ed896e"/><stop offset="0.73" stop-color="#f39d7f"/><stop offset="0.82" stop-color="#f5b397"/><stop offset="0.91" stop-color="#f3bfa7"/><stop offset="1" stop-color="#eccebf"/></linearGradient>
<linearGradient id="g67"><stop offset="0" stop-color="#8bacfa"/><stop offset="0.09" stop-color="#95b6fd"/><stop offset="0.18" stop-color="#a7c3fb"/><stop offset="0.27" stop-color="#c9d7f0"/><stop offset="0.36" stop-color="#dedbda"/><stop offset="0.45" stop-color="#f1cab6"/><stop offset="0.55" stop-color="#f5b49a"/><stop offset="0.64" stop-color="#f7a98b"/><stop offset="0.73" stop-color="#f7a889"/><stop offset="0.82" stop-color="#f4baa0"/><stop offset="0.91" stop-color="#ebcfc2"/><stop offset="1" stop-color="#dbdcde"/></linearGradient>
<linearGradient id="g68"><stop offset="0" stop-color="#89aaf9"/><stop offset="0.09" stop-color="#9cbcfe"/><stop offset="0.18" stop-color="#b9cdf5"/><stop offset="0.27" stop-color="#cad7ef"/><stop offset="0.36" stop-color="#cfd8ea"/><stop offset="0.45" stop-color="#e2d8d3"/><stop offset="0.55" stop-color="#f3c1aa"/><stop offset="0.64" stop-color="#f7aa8c"/><stop offset="0.73" stop-color="#ed8a6e"/><stop offset="0.82" stop-color="#f09477"/><stop offset="0.91" stop-color="#f3bca4"/><stop offset="1" stop-color="#e4d6cf"/></linearGradient>
<linearGradient id="g69"><stop offset="0" stop-color="#7a9bf4"/><stop offset="0.09" stop-color="#96b7fe"/><stop offset="0.18" stop-color="#bfd1f3"/><stop offset="0.27" stop-color="#d3d9e6"/><stop offset="0.36" stop-color="#e0dad7"/><stop offset="0.45" stop-color="#f2c4ae"/><stop offset="0.55" stop-color="#f6a485"/><stop offset="0.64" stop-color="#ee8d72"/><stop offset="0.73" stop-color="#f1967a"/><stop offset="0.82" stop-color="#f5b69c"/><stop offset="0.91" stop-color="#e8d2c7"/><stop offset="1" stop-color="#d3d9e6"/></linearGradient>
<linearGradient id="g70"><stop offset="0" stop-color="#88a9f9"/><stop offset="0.09" stop-color="#9abbff"/><stop offset="0.18" stop-color="#b4caf7"/><stop offset="0.27" stop-color="#cad7ef"/><stop offset="0.36" stop-color="#d5dae4"/><stop offset="0.45" stop-color="#e7d3c9"/><stop offset="0.55" stop-color="#f3bda5"/><stop offset="0.64" stop-color="#f7a98a"/><stop offset="0.73" stop-color="#ef9175"/><stop offset="0.82" stop-color="#f39b7e"/><stop offset="0.91" stop-color="#f4b79c"/><stop offset="1" stop-color="#e2d7d2"/></linearGradient>
<linearGradient id="g71"><stop offset="0" stop-color="#95b6fd"/><stop offset="0.09" stop-color="#a9c4fa"/><stop offset="0.18" stop-color="#c7d6f1"/><stop offset="0.27" stop-color="#d5dae4"/><stop offset="0.36" stop-color="#e3d6d0"/><stop offset="0.45" stop-color="#f2c2ac"/><stop offset="0.55" stop-color="#f7aa8b"/><stop offset="0.64" stop-color="#f2987b"/><stop offset="0.73" stop-color="#f7aa8c"/><stop offset="0.82" stop-color="#f5b498"/><stop offset="0.91" stop-color="#f5a183"/><stop offset="1" stop-color="#dadbdf"/></linearGradient>
<linearGradient id="g72"><stop offset="0" stop-color="#9bbcff"/><stop offset="0.09" stop-color="#a3c0fc"/><stop offset="0.18" stop-color="#b2caf7"/><stop offset="0.27" stop-color="#ced8eb"/><stop offset="0.36" stop-color="#e1d9d5"/><stop offset="0.45" stop-color="#f1c8b4"/><stop offset="0.55" stop-color="#f4b99f"/><stop offset="0.64" stop-color="#f6ab8d"/><stop offset="0.73" stop-color="#f7aa8b"/><stop offset="0.82" stop-color="#f5b296"/><stop offset="0.91" stop-color="#f4b99f"/><stop offset="1" stop-color="#e2d7d2"/></linearGradient>
<linearGradient id="g73"><stop offset="0" stop-color="#93b4fd"/><stop offset="0.09" stop-color="#a2c0fc"/><stop offset="0.18" stop-color="#bacef5"/><stop offset="0.27" stop-color="#d1d9e8"/><stop offset="0.36" stop-color="#e5d5cd"/><stop offset="0.45" stop-color="#f2c3ad"/><stop offset="0.55" stop-color="#f5b296"/><stop offset="0.64" stop-color="#f49e80"/><stop offset="0.73" stop-color="#ee8c70"/><stop offset="0.82" stop-color="#e87c63"/><stop offset="0.91" stop-color="#e6765d"/><stop offset="1" stop-color="#f0cbb7"/></linearGradient>
<linearGradient id="g74"><stop offset="0" stop-color="#7798f3"/><stop offset="0.09" stop-color="#83a4f7"/><stop offset="0.18" stop-color="#98b9fe"/><stop offset="0.27" stop-color="#a8c4fa"/><stop offset="0.36" stop-color="#bfd1f3"/><stop offset="0.45" stop-color="#d5dae4"/><stop offset="0.55" stop-color="#e7d3c8"/><stop offset="0.64" stop-color="#f3bea6"/><stop offset="0.73" stop-color="#f7a98a"/><stop offset="0.82" stop-color="#ed8b70"/><stop offset="0.91" stop-color="#e7775e"/><stop offset="1" stop-color="#efccbb"/></linearGradient>
<linearGradient id="g75"><stop offset="0" stop-color="#99baff"/><stop offset="0.09" stop-color="#a1bffd"/><stop offset="0.18" stop-color="#aec7f9"/><stop offset="0.27" stop-color="#bdd0f4"/><stop offset="0.36" stop-color="#cdd8ec"/><stop offset="0.45" stop-color="#d7dbe2"/><stop offset="0.55" stop-color="#e2d7d2"/><stop offset="0.64" stop-color="#ebcfc1"/><stop offset="0.73" stop-color="#f1c9b4"/><stop offset="0.82" stop-color="#f2c7b2"/><stop offset="0.91" stop-color="#eccfc0"/><stop offset="1" stop-color="#e5d5ce"/></linearGradient>
<linearGradient id="g76"><stop offset="0" stop-color="#a5c1fc"/><stop offset="0.09" stop-color="#abc5f9"/><stop offset="0.18" stop-color="#bacef5"/><stop offset="0.27" stop-color="#ced8eb"/><stop offset="0.36" stop-color="#dcdcdd"/><stop offset="0.45" stop-color="#eccebf"/><stop offset="0.55" stop-color="#f3bea6"/><stop offset="0.64" stop-color="#f4b79c"/><stop offset="0.73" stop-color="#f5b499"/><stop offset="0.82" stop-color="#ebcfc0"/><stop offset="0.91" stop-color="#b0c8f8"/><stop offset="1" stop-color="#c9d7f0"/></linearGradient>
<linearGradient id="g77"><stop offset="0" stop-color="#b2caf7"/><stop offset="0.09" stop-color="#bed1f3"/><stop offset="0.18" stop-color="#ccd8ed"/><stop offset="0.27" stop-color="#cdd8ec"/><stop offset="0.36" stop-color="#cdd8ec"/><stop offset="0.45" stop-color="#d7dae2"/><stop offset="0.55" stop-color="#e3d7d1"/><stop offset="0.64" stop-color="#efccba"/><stop offset="0.73" stop-color="#f4bba2"/><stop offset="0.82" stop-color="#f2c6b1"/><stop offset="0.91" stop-color="#d5dae4"/><stop offset="1" stop-color="#e7d3ca"/></linearGradient>
<linearGradient id="g78"><stop offset="0" stop-color="#8bacfa"/><stop offset="0.09" stop-color="#97b8fe"/><stop offset="0.18" stop-color="#a8c3fa"/><stop offset="0.27" stop-color="#aac5fa"/><stop offset="0.36" stop-color="#aac5fa"/><stop offset="0.45" stop-color="#c8d7f0"/><stop offset="0.55" stop-color="#dfdad9"/><stop offset="0.64" stop-color="#f2c7b2"/><stop offset="0.73" stop-color="#f7aa8b"/><stop offset="0.82" stop-color="#f2997c"/><stop offset="0.91" stop-color="#f5b397"/><stop offset="1" stop-color="#f2c5b0"/></linearGradient>
<linearGradient id="g79"><stop offset="0" stop-color="#7495f2"/><stop offset="0.09" stop-color="#7e9ff6"/><stop offset="0.18" stop-color="#90b1fc"/><stop offset="0.27" stop-color="#9ebefe"/><stop offset="0.36" stop-color="#b0c8f8"/><stop offset="0.45" stop-color="#d0d9e9"/><stop offset="0.55" stop-color="#e7d3c9"/><stop offset="0.64" stop-color="#f4b89f"/><stop offset="0.73" stop-color="#ed896e"/><stop offset="0.82" stop-color="#e7775e"/><stop offset="0.91" stop-color="#f39c7e"/><stop offset="1" stop-color="#f2c2ab"/></linearGradient>
<linearGradient id="g80"><stop offset="0" stop-color="#6d8ef0"/><stop offset="0.09" stop-color="#7495f2"/><stop offset="0.18" stop-color="#82a3f7"/><stop offset="0.27" stop-color="#90b1fc"/><stop offset="0.36" stop-color="#a6c2fb"/><stop offset="0.45" stop-color="#cdd8ec"/><stop offset="0.55" stop-color="#e5d5cd"/><stop offset="0.64" stop-color="#f4b89e"/><stop offset="0.73" stop-color="#ee8c71"/><stop offset="0.82" stop-color="#ed8a6e"/><stop offset="0.91" stop-color="#f5b397"/><stop offset="1" stop-color="#e7d3c8"/></linearGradient>
<linearGradient id="g81"><stop offset="0" stop-color="#7899f4"/><stop offset="0.09" stop-color="#799af4"/><stop offset="0.18" stop-color="#7e9ff6"/><stop offset="0.27" stop-color="#89aaf9"/><stop offset="0.36" stop-color="#98b9fe"/><stop offset="0.45" stop-color="#c9d7f0"/><stop offset="0.55" stop-color="#e7d3c8"/><stop offset="0.64" stop-color="#f5b69b"/><stop offset="0.73" stop-color="#f5a283"/><stop offset="0.82" stop-color="#f6ab8d"/><stop offset="0.91" stop-color="#f1c9b5"/><stop offset="1" stop-color="#dadbdf"/></linearGradient>
<linearGradient id="g82"><stop offset="0" stop-color="#89aaf9"/><stop offset="0.09" stop-color="#8bacfa"/><stop offset="0.18" stop-color="#92b3fc"/><stop offset="0.27" stop-color="#9bbcff"/><stop offset="0.36" stop-color="#a1bffd"/><stop offset="0.45" stop-color="#cad7ef"/><stop offset="0.55" stop-color="#e3d6d0"/><stop offset="0.64" stop-color="#f3c0a9"/><stop offset="0.73" stop-color="#f6af92"/><stop offset="0.82" stop-color="#f6b093"/><stop offset="0.91" stop-color="#f4b9a0"/><stop offset="1" stop-color="#edcebe"/></linearGradient>
<linearGradient id="g83"><stop offset="0" stop-color="#a5c2fb"/><stop offset="0.09" stop-color="#9cbcfe"/><stop offset="0.18" stop-color="#91b2fc"/><stop offset="0.27" stop-color="#9abbff"/><stop offset="0.36" stop-color="#a9c4fa"/><stop offset="0.45" stop-color="#cad7ef"/><stop offset="0.55" stop-color="#e1d8d4"/><stop offset="0.64" stop-color="#f2c3ad"/><stop offset="0.73" stop-color="#f4b79d"/><stop offset="0.82" stop-color="#f5b195"/><stop offset="0.91" stop-color="#f5b195"/><stop offset="1" stop-color="#f2c3ac"/></linearGradient>
<linearGradient id="g84"><stop offset="0" stop-color="#c4d4f2"/><stop offset="0.09" stop-color="#c4d4f2"/><stop offset="0.18" stop-color="#c5d5f1"/><stop offset="0.27" stop-color="#d1d9e8"/><stop offset="0.36" stop-color="#e1d9d5"/><stop offset="0.45" stop-color="#ead1c4"/><stop offset="0.55" stop-color="#edcebd"/><stop offset="0.64" stop-color="#f2c4ae"/><stop offset="0.73" stop-color="#f4b69c"/><stop offset="0.82" stop-color="#f5b398"/><stop offset="0.91" stop-color="#f4baa1"/><stop offset="1" stop-color="#f1c9b5"/></linearGradient>
<linearGradient id="g85"><stop offset="0" stop-color="#a0befd"/><stop offset="0.09" stop-color="#a6c2fb"/><stop offset="0.18" stop-color="#b2c9f7"/><stop offset="0.27" stop-color="#cdd8ec"/><stop offset="0.36" stop-color="#e2d7d2"/><stop offset="0.45" stop-color="#f0cbb8"/><stop offset="0.55" stop-color="#f3c1ab"/><stop offset="0.64" stop-color="#f5b397"/><stop offset="0.73" stop-color="#f5a183"/><stop offset="0.82" stop-color="#f5a284"/><stop offset="0.91" stop-color="#f5b397"/><stop offset="1" stop-color="#f1c8b3"/></linearGradient>
<linearGradient id="g86"><stop offset="0" stop-color="#7c9df5"/><stop offset="0.09" stop-color="#7b9cf5"/><stop offset="0.18" stop-color="#7c9df5"/><stop offset="0.27" stop-color="#9abbff"/><stop offset="0.36" stop-color="#c7d6f1"/><stop offset="0.45" stop-color="#d9dbe0"/><stop offset="0.55" stop-color="#ead1c4"/><stop offset="0.64" stop-color="#f4bca3"/><stop offset="0.73" stop-color="#f7a98a"/><stop offset="0.82" stop-color="#f4a082"/><stop offset="0.91" stop-color="#f6ae91"/><stop offset="1" stop-color="#f2c5af"/></linearGradient>
<linearGradient id="g87"><stop offset="0" stop-color="#8cadfa"/><stop offset="0.09" stop-color="#90b1fc"/><stop offset="0.18" stop-color="#9abbff"/><stop offset="0.27" stop-color="#b4caf7"/><stop offset="0.36" stop-color="#cdd8ec"/><stop offset="0.45" stop-color="#e0d9d6"/><stop offset="0.55" stop-color="#f1c7b3"/><stop offset="0.64" stop-color="#f6ac8f"/><stop offset="0.73" stop-color="#ea8167"/><stop offset="0.82" stop-color="#ea8167"/><stop offset="0.91" stop-color="#f5b59a"/><stop offset="1" stop-color="#eecdbb"/></linearGradient>
<linearGradient id="g88"><stop offset="0" stop-color="#86a7f8"/><stop offset="0.09" stop-color="#94b5fd"/><stop offset="0.18" stop-color="#a9c4fa"/><stop offset="0.27" stop-color="#bfd1f3"/><stop offset="0.36" stop-color="#d0d9e9"/><stop offset="0.45" stop-color="#dedbda"/><stop offset="0.55" stop-color="#e8d3c8"/><stop offset="0.64" stop-color="#f3c0a9"/><stop offset="0.73" stop-color="#ef8f73"/><stop offset="0.82" stop-color="#eb856b"/><stop offset="0.91" stop-color="#f3c1ab"/><stop offset="1" stop-color="#f6ac8f"/></linearGradient>
<linearGradient id="g89"><stop offset="0" stop-color="#9cbcfe"/><stop offset="0.09" stop-color="#99baff"/><stop offset="0.18" stop-color="#96b7fe"/><stop offset="0.27" stop-color="#aec7f9"/><stop offset="0.36" stop-color="#cfd8ea"/><stop offset="0.45" stop-color="#dbdbde"/><stop offset="0.55" stop-color="#e4d6cf"/><stop offset="0.64" stop-color="#f0cbb8"/><stop offset="0.73" stop-color="#f2c2ab"/><stop offset="0.82" stop-color="#f3bca4"/><stop offset="0.91" stop-color="#f4b89f"/><stop offset="1" stop-color="#f6b094"/></linearGradient>
<linearGradient id="g90"><stop offset="0" stop-color="#aec7f9"/><stop offset="0.09" stop-color="#afc8f8"/><stop offset="0.18" stop-color="#b4cbf7"/><stop offset="0.27" stop-color="#c3d3f2"/><stop offset="0.36" stop-color="#d1d9e8"/><stop offset="0.45" stop-color="#dbdbde"/><stop offset="0.55" stop-color="#e2d8d3"/><stop offset="0.64" stop-color="#ebcfc1"/><stop offset="0.73" stop-color="#f2c3ad"/><stop offset="0.82" stop-color="#f3c0a9"/><stop offset="0.91" stop-color="#f2c5af"/><stop offset="1" stop-color="#eecdbc"/></linearGradient>
<linearGradient id="g91"><stop offset="0" stop-color="#acc6f9"/><stop offset="0.09" stop-color="#b8cdf6"/><stop offset="0.18" stop-color="#c9d7f0"/><stop offset="0.27" stop-color="#ccd8ed"/><stop offset="0.36" stop-color="#cdd8ec"/><stop offset="0.45" stop-color="#d9dbe0"/><stop offset="0.55" stop-color="#ebcfc1"/><stop offset="0.64" stop-color="#f3bca4"/><stop offset="0.73" stop-color="#f5b69b"/><stop offset="0.82" stop-color="#f6ae92"/><stop offset="0.91" stop-color="#f39d80"/><stop offset="1" stop-color="#f5b59a"/></linearGradient>
<linearGradient id="g92"><stop offset="0" stop-color="#b4cbf7"/><stop offset="0.09" stop-color="#cad7ef"/><stop offset="0.18" stop-color="#d7dae2"/><stop offset="0.27" stop-color="#d6dae3"/><stop offset="0.36" stop-color="#cfd9ea"/><stop offset="0.45" stop-color="#dadbdf"/><stop offset="0.55" stop-color="#f1c9b4"/><stop offset="0.64" stop-color="#f5b69c"/><stop offset="0.73" stop-color="#f3c1a9"/><stop offset="0.82" stop-color="#f4b89e"/><stop offset="0.91" stop-color="#e7785f"/><stop offset="1" stop-color="#f1c8b4"/></linearGradient>
<linearGradient id="g93"><stop offset="0" stop-color="#80a1f6"/><stop offset="0.09" stop-color="#87a8f9"/><stop offset="0.18" stop-color="#90b1fc"/><stop offset="0.27" stop-color="#90b1fc"/><stop offset="0.36" stop-color="#9abbff"/><stop offset="0.45" stop-color="#b9cdf5"/><stop offset="0.55" stop-color="#d7dbe2"/><stop offset="0.64" stop-color="#edcebe"/><stop offset="0.73" stop-color="#f4bca3"/><stop offset="0.82" stop-color="#f5a284"/><stop offset="0.91" stop-color="#e6755c"/><stop offset="1" stop-color="#f2997c"/></linearGradient>
<linearGradient id="g94"><stop offset="0" stop-color="#a4c1fc"/><stop offset="0.09" stop-color="#acc6f9"/><stop offset="0.18" stop-color="#b9cdf5"/><stop offset="0.27" stop-color="#b9cef5"/><stop offset="0.36" stop-color="#b8cdf5"/><stop offset="0.45" stop-color="#d3d9e6"/><stop offset="0.55" stop-color="#f1c9b5"/><stop offset="0.64" stop-color="#f5a183"/><stop offset="0.73" stop-color="#f2987b"/><stop offset="0.82" stop-color="#f19679"/><stop offset="0.91" stop-color="#ef8f73"/><stop offset="1" stop-color="#f7aa8b"/></linearGradient>
<linearGradient id="g95"><stop offset="0" stop-color="#bfd1f3"/><stop offset="0.09" stop-color="#bfd1f3"/><stop offset="0.18" stop-color="#c2d3f2"/><stop offset="0.27" stop-color="#c5d5f1"/><stop offset="0.36" stop-color="#c4d4f2"/><stop offset="0.45" stop-color="#d3d9e6"/><stop offset="0.55" stop-color="#edcdbd"/><stop offset="0.64" stop-color="#f4baa1"/><stop offset="0.73" stop-color="#f2c6b1"/><stop offset="0.82" stop-color="#f2c6b0"/><stop offset="0.91" stop-color="#f3bda5"/><stop offset="1" stop-color="#f2c5af"/></linearGradient>
<linearGradient id="g96"><stop offset="0" stop-color="#7899f4"/><stop offset="0.09" stop-color="#80a1f6"/><stop offset="0.18" stop-color="#94b5fd"/><stop offset="0.27" stop-color="#a0befd"/><stop offset="0.36" stop-color="#abc5fa"/><stop offset="0.45" stop-color="#cad7ef"/><stop offset="0.55" stop-color="#e1d8d5"/><stop offset="0.64" stop-color="#f1cab6"/><stop offset="0.73" stop-color="#f4baa1"/><stop offset="0.82" stop-color="#f39c7e"/><stop offset="0.91" stop-color="#ed8b70"/><stop offset="1" stop-color="#f4baa0"/></linearGradient>
<linearGradient id="g97"><stop offset="0" stop-color="#6889ee"/><stop offset="0.09" stop-color="#6a8bef"/><stop offset="0.18" stop-color="#7091f1"/><stop offset="0.27" stop-color="#7a9bf4"/><stop offset="0.36" stop-color="#8cadfa"/><stop offset="0.45" stop-color="#a7c3fb"/><stop offset="0.55" stop-color="#cad7ef"/><stop offset="0.64" stop-color="#d9dbe0"/><stop offset="0.73" stop-color="#e3d7d1"/><stop offset="0.82" stop-color="#efcbb9"/><stop offset="0.91" stop-color="#f5b397"/><stop offset="1" stop-color="#f7aa8c"/></linearGradient>
<linearGradient id="g98"><stop offset="0" stop-color="#7899f4"/><stop offset="0.09" stop-color="#7b9cf5"/><stop offset="0.18" stop-color="#81a2f7"/><stop offset="0.27" stop-color="#96b7fe"/><stop offset="0.36" stop-color="#b4caf7"/><stop offset="0.45" stop-color="#cdd8ec"/><stop offset="0.55" stop-color="#d9dbe0"/><stop offset="0.64" stop-color="#e8d2c6"/><stop offset="0.73" stop-color="#f3bca3"/><stop offset="0.82" stop-color="#f6a687"/><stop offset="0.91" stop-color="#ea8167"/><stop offset="1" stop-color="#ee8c70"/></linearGradient>
<linearGradient id="g99"><stop offset="0" stop-color="#9dbdfe"/><stop offset="0.09" stop-color="#a9c4fa"/><stop offset="0.18" stop-color="#bacef5"/><stop offset="0.27" stop-color="#cfd8ea"/><stop offset="0.36" stop-color="#dfdad8"/><stop offset="0.45" stop-color="#edcdbd"/><stop offset="0.55" stop-color="#f3bfa8"/><stop offset="0.64" stop-color="#f6af92"/><stop offset="0.73" stop-color="#f6a485"/><stop offset="0.82" stop-color="#ef9074"/><stop offset="0.91" stop-color="#ec876c"/><stop offset="1" stop-color="#f3c1aa"/></linearGradient>
<linearGradient id="g100"><stop offset="0" stop-color="#8eaffb"/><stop offset="0.09" stop-color="#a2c0fd"/><stop offset="0.18" stop-color="#bbcff5"/><stop offset="0.27" stop-color="#cad7ef"/><stop offset="0.36" stop-color="#d5dae4"/><stop offset="0.45" stop-color="#dddcdc"/><stop offset="0.55" stop-color="#e7d3c9"/><stop offset="0.64" stop-color="#f0cbb7"/><stop offset="0.73" stop-color="#f2c3ad"/><stop offset="0.82" stop-color="#f2c6b0"/><stop offset="0.91" stop-color="#e2d7d2"/><stop offset="1" stop-color="#f1cab6"/></linearGradient>
<linearGradient id="g101"><stop offset="0" stop-color="#95b6fd"/><stop offset="0.09" stop-color="#9dbdfe"/><stop offset="0.18" stop-color="#a9c4fa"/><stop offset="0.27" stop-color="#b4caf7"/><stop offset="0.36" stop-color="#c8d6f0"/><stop offset="0.45" stop-color="#d1d9e8"/><stop offset="0.55" stop-color="#dcdcdd"/><stop offset="0.64" stop-color="#e7d3c8"/><stop offset="0.73" stop-color="#f1cab7"/><stop offset="0.82" stop-color="#f2c5b0"/><stop offset="0.91" stop-color="#edcebf"/><stop offset="1" stop-color="#f1c8b3"/></linearGradient>
<linearGradient id="g102"><stop offset="0" stop-color="#799af4"/><stop offset="0.09" stop-color="#7e9ff6"/><stop offset="0.18" stop-color="#87a8f9"/><stop offset="0.27" stop-color="#a7c3fb"/><stop offset="0.36" stop-color="#d0d9e9"/><stop offset="0.45" stop-color="#dfdad8"/><stop offset="0.55" stop-color="#f0cbb7"/><stop offset="0.64" stop-color="#f5b296"/><stop offset="0.73" stop-color="#f7a889"/><stop offset="0.82" stop-color="#f6ad8f"/><stop offset="0.91" stop-color="#f2c7b2"/><stop offset="1" stop-color="#f5a183"/></linearGradient>
<linearGradient id="g103"><stop offset="0" stop-color="#7394f2"/><stop offset="0.09" stop-color="#7899f4"/><stop offset="0.18" stop-color="#83a4f7"/><stop offset="0.27" stop-color="#93b4fd"/><stop offset="0.36" stop-color="#abc5fa"/><stop offset="0.45" stop-color="#c9d7f0"/><stop offset="0.55" stop-color="#d8dbe1"/><stop offset="0.64" stop-color="#eccebf"/><stop offset="0.73" stop-color="#f6af92"/><stop offset="0.82" stop-color="#ef8f73"/><stop offset="0.91" stop-color="#f19679"/><stop offset="1" stop-color="#f5a384"/></linearGradient>
<linearGradient id="g104"><stop offset="0" stop-color="#a3c0fc"/><stop offset="0.09" stop-color="#adc7f9"/><stop offset="0.18" stop-color="#bdd0f4"/><stop offset="0.27" stop-color="#cdd8ec"/><stop offset="0.36" stop-color="#d9dbe0"/><stop offset="0.45" stop-color="#e4d6ce"/><stop offset="0.55" stop-color="#edcdbd"/><stop offset="0.64" stop-color="#f3bca4"/><stop offset="0.73" stop-color="#f49e80"/><stop offset="0.82" stop-color="#ec866b"/><stop offset="0.91" stop-color="#f39b7d"/><stop offset="1" stop-color="#f5b397"/></linearGradient>
<linearGradient id="g105"><stop offset="0" stop-color="#a7c3fb"/><stop offset="0.09" stop-color="#a9c4fa"/><stop offset="0.18" stop-color="#adc6f9"/><stop offset="0.27" stop-color="#b5cbf6"/><stop offset="0.36" stop-color="#c2d3f2"/><stop offset="0.45" stop-color="#ced8eb"/><stop offset="0.55" stop-color="#dbdcde"/><stop offset="0.64" stop-color="#e5d4cc"/><stop offset="0.73" stop-color="#eecdbc"/><stop offset="0.82" stop-color="#f3c1aa"/><stop offset="0.91" stop-color="#f4baa1"/><stop offset="1" stop-color="#f4b79d"/></linearGradient>
<linearGradient id="g106"><stop offset="0" stop-color="#7a9bf4"/><stop offset="0.09" stop-color="#7798f3"/><stop offset="0.18" stop-color="#7394f2"/><stop offset="0.27" stop-color="#799af4"/><stop offset="0.36" stop-color="#86a7f8"/><stop offset="0.45" stop-color="#93b4fd"/><stop offset="0.55" stop-color="#a8c3fb"/><stop offset="0.64" stop-color="#c6d5f1"/><stop offset="0.73" stop-color="#d9dbe0"/><stop offset="0.82" stop-color="#edcebe"/><stop offset="0.91" stop-color="#f4baa0"/><stop offset="1" stop-color="#f6ab8d"/></linearGradient>
<linearGradient id="g107"><stop offset="0" stop-color="#81a2f7"/><stop offset="0.09" stop-color="#7697f3"/><stop offset="0.18" stop-color="#6a8bef"/><stop offset="0.27" stop-color="#7b9cf5"/><stop offset="0.36" stop-color="#9cbcfe"/><stop offset="0.45" stop-color="#b5cbf7"/><stop offset="0.55" stop-color="#ccd8ed"/><stop offset="0.64" stop-color="#dcdcdd"/><stop offset="0.73" stop-color="#f1c9b5"/><stop offset="0.82" stop-color="#f6ac8e"/><stop offset="0.91" stop-color="#f19679"/><stop offset="1" stop-color="#f09376"/></linearGradient>
<linearGradient id="g108"><stop offset="0" stop-color="#81a2f7"/><stop offset="0.09" stop-color="#7a9bf4"/><stop offset="0.18" stop-color="#7293f2"/><stop offset="0.27" stop-color="#80a1f6"/><stop offset="0.36" stop-color="#9cbcfe"/><stop offset="0.45" stop-color="#bed1f3"/><stop offset="0.55" stop-color="#d9dbe0"/><stop offset="0.64" stop-color="#f1cab6"/><stop offset="0.73" stop-color="#f5a283"/><stop offset="0.82" stop-color="#e5735a"/><stop offset="0.91" stop-color="#e87a61"/><stop offset="1" stop-color="#f6ad8f"/></linearGradient>
<linearGradient id="g109"><stop offset="0" stop-color="#9fbefd"/><stop offset="0.09" stop-color="#98b9fe"/><stop offset="0.18" stop-color="#92b3fc"/><stop offset="0.27" stop-color="#a0bffd"/><stop offset="0.36" stop-color="#bacef5"/><stop offset="0.45" stop-color="#d0d9e9"/><stop offset="0.55" stop-color="#e3d6d0"/><stop offset="0.64" stop-color="#f2c3ad"/><stop offset="0.73" stop-color="#f6ae92"/><stop offset="0.82" stop-color="#e87c62"/><stop offset="0.91" stop-color="#df634f"/><stop offset="1" stop-color="#f7a788"/></linearGradient>
<linearGradient id="g110"><stop offset="0" stop-color="#a9c4fa"/><stop offset="0.09" stop-color="#b0c8f8"/><stop offset="0.18" stop-color="#bdd0f4"/><stop offset="0.27" stop-color="#c6d5f1"/><stop offset="0.36" stop-color="#cad7ef"/><stop offset="0.45" stop-color="#d8dbe1"/><stop offset="0.55" stop-color="#edcdbd"/><stop offset="0.64" stop-color="#f5b59a"/><stop offset="0.73" stop-color="#f2997c"/><stop offset="0.82" stop-color="#e16751"/><stop offset="0.91" stop-color="#de604e"/><stop offset="1" stop-color="#f5b498"/></linearGradient>
<linearGradient id="g111"><stop offset="0" stop-color="#96b7fe"/><stop offset="0.09" stop-color="#a9c4fa"/><stop offset="0.18" stop-color="#c4d4f2"/><stop offset="0.27" stop-color="#cbd7ee"/><stop offset="0.36" stop-color="#ced8eb"/><stop offset="0.45" stop-color="#dcdcdd"/><stop offset="0.55" stop-color="#edcebe"/><stop offset="0.64" stop-color="#f5b397"/><stop offset="0.73" stop-color="#ed8a6f"/><stop offset="0.82" stop-color="#e57159"/><stop offset="0.91" stop-color="#ed8a6f"/><stop offset="1" stop-color="#f7aa8c"/></linearGradient>
<linearGradient id="g112"><stop offset="0" stop-color="#91b2fc"/><stop offset="0.09" stop-color="#9fbefd"/><stop offset="0.18" stop-color="#b4cbf7"/><stop offset="0.27" stop-color="#c0d2f3"/><stop offset="0.36" stop-color="#ccd8ed"/><stop offset="0.45" stop-color="#dbdbde"/><stop offset="0.55" stop-color="#efccba"/><stop offset="0.64" stop-color="#f5b195"/><stop offset="0.73" stop-color="#f49e80"/><stop offset="0.82" stop-color="#f7a98a"/><stop offset="0.91" stop-color="#ebcfc1"/><stop offset="1" stop-color="#eecdbc"/></linearGradient>
<linearGradient id="g113"><stop offset="0" stop-color="#b6ccf6"/><stop offset="0.09" stop-color="#bed0f4"/><stop offset="0.18" stop-color="#c8d6f0"/><stop offset="0.27" stop-color="#d0d9e9"/><stop offset="0.36" stop-color="#d9dbe0"/><stop offset="0.45" stop-color="#e1d9d5"/><stop offset="0.55" stop-color="#e6d4cb"/><stop offset="0.64" stop-color="#eecdbc"/><stop offset="0.73" stop-color="#f2c2ac"/><stop offset="0.82" stop-color="#f5b194"/><stop offset="0.91" stop-color="#ed8b70"/><stop offset="1" stop-color="#f2c2ab"/></linearGradient>
<linearGradient id="g114"><stop offset="0" stop-color="#7e9ff6"/><stop offset="0.09" stop-color="#87a8f9"/><stop offset="0.18" stop-color="#95b6fd"/><stop offset="0.27" stop-color="#9dbdfe"/><stop offset="0.36" stop-color="#a7c3fb"/><stop offset="0.45" stop-color="#b5cbf6"/><stop offset="0.55" stop-color="#bacef5"/><stop offset="0.64" stop-color="#cfd9ea"/><stop offset="0.73" stop-color="#e3d7d1"/><stop offset="0.82" stop-color="#f2c2ac"/><stop offset="0.91" stop-color="#f19679"/><stop offset="1" stop-color="#ed896e"/></linearGradient>
<linearGradient id="g115"><stop offset="0" stop-color="#7899f4"/><stop offset="0.09" stop-color="#8bacfa"/><stop offset="0.18" stop-color="#a3c1fc"/><stop offset="0.27" stop-color="#abc5fa"/><stop offset="0.36" stop-color="#b4caf7"/><stop offset="0.45" stop-color="#ccd8ed"/><stop offset="0.55" stop-color="#e1d8d3"/><stop offset="0.64" stop-color="#f1c9b5"/><stop offset="0.73" stop-color="#f1cab6"/><stop offset="0.82" stop-color="#f3c0a9"/><stop offset="0.91" stop-color="#f6ae90"/><stop offset="1" stop-color="#ed8b70"/></linearGradient>
<linearGradient id="g116"><stop offset="0" stop-color="#84a5f8"/><stop offset="0.09" stop-color="#95b6fd"/><stop offset="0.18" stop-color="#acc6f9"/><stop offset="0.27" stop-color="#bdd0f4"/><stop offset="0.36" stop-color="#cbd7ee"/><stop offset="0.45" stop-color="#d8dbe1"/><stop offset="0.55" stop-color="#e7d3c9"/><stop offset="0.64" stop-color="#f2c4ae"/><stop offset="0.73" stop-color="#f5b498"/><stop offset="0.82" stop-color="#f5b499"/><stop offset="0.91" stop-color="#eecdbd"/><stop offset="1" stop-color="#f5b398"/></linearGradient>
<linearGradient id="g117"><stop offset="0" stop-color="#7c9df5"/><stop offset="0.09" stop-color="#9abbff"/><stop offset="0.18" stop-color="#bfd1f3"/><stop offset="0.27" stop-color="#cbd8ee"/><stop offset="0.36" stop-color="#d0d9e9"/><stop offset="0.45" stop-color="#dedbda"/><stop offset="0.55" stop-color="#f1c8b3"/><stop offset="0.64" stop-color="#f5b195"/><stop offset="0.73" stop-color="#f6ae91"/><stop offset="0.82" stop-color="#f39d7f"/><stop offset="0.91" stop-color="#f09276"/><stop offset="1" stop-color="#f39d7f"/></linearGradient>
<linearGradient id="g118"><stop offset="0" stop-color="#7192f1"/><stop offset="0.09" stop-color="#85a6f8"/><stop offset="0.18" stop-color="#a2c0fc"/><stop offset="0.27" stop-color="#bbcff4"/><stop offset="0.36" stop-color="#d1d9e8"/><stop offset="0.45" stop-color="#e2d8d3"/><stop offset="0.55" stop-color="#f1c9b5"/><stop offset="0.64" stop-color="#f6ae90"/><stop offset="0.73" stop-color="#eb8369"/><stop offset="0.82" stop-color="#ea8167"/><stop offset="0.91" stop-color="#f4bba2"/><stop offset="1" stop-color="#f7aa8c"/></linearGradient>
<linearGradient id="g119"><stop offset="0" stop-color="#7495f2"/><stop offset="0.09" stop-color="#86a7f8"/><stop offset="0.18" stop-color="#a0befd"/><stop offset="0.27" stop-color="#b0c8f8"/><stop offset="0.36" stop-color="#c6d5f1"/><stop offset="0.45" stop-color="#d3dae6"/><stop offset="0.55" stop-color="#dfdad8"/><stop offset="0.64" stop-color="#eccebf"/><stop offset="0.73" stop-color="#f3bda4"/><stop offset="0.82" stop-color="#f5b397"/><stop offset="0.91" stop-color="#f2c2ab"/><stop offset="1" stop-color="#f4b89e"/></linearGradient>
<linearGradient id="g120"><stop offset="0" stop-color="#aec7f8"/><stop offset="0.09" stop-color="#b6ccf6"/><stop offset="0.18" stop-color="#c2d3f2"/><stop offset="0.27" stop-color="#cad7ef"/><stop offset="0.36" stop-color="#d0d9e9"/><stop offset="0.45" stop-color="#d7dae2"/><stop offset="0.55" stop-color="#dedbd9"/><stop offset="0.64" stop-color="#e6d4cb"/><stop offset="0.73" stop-color="#ebcfc1"/><stop offset="0.82" stop-color="#e9d1c6"/><stop offset="0.91" stop-color="#d9dbe0"/><stop offset="1" stop-color="#f2c7b1"/></linearGradient>
<linearGradient id="g121"><stop offset="0" stop-color="#cad7ef"/><stop offset="0.09" stop-color="#cbd7ee"/><stop offset="0.18" stop-color="#cdd8ec"/><stop offset="0.27" stop-color="#ced8eb"/><stop offset="0.36" stop-color="#cdd8ec"/><stop offset="0.45" stop-color="#d5dae4"/><stop offset="0.55" stop-color="#e2d8d3"/><stop offset="0.64" stop-color="#ead1c4"/><stop offset="0.73" stop-color="#eecdbd"/><stop offset="0.82" stop-color="#edcdbd"/><stop offset="0.91" stop-color="#e6d3ca"/><stop offset="1" stop-color="#e7d3c9"/></linearGradient>
<linearGradient id="g122"><stop offset="0" stop-color="#90b1fc"/><stop offset="0.09" stop-color="#94b5fd"/><stop offset="0.18" stop-color="#9bbbff"/><stop offset="0.27" stop-color="#a7c3fb"/><stop offset="0.36" stop-color="#c0d2f3"/><stop offset="0.45" stop-color="#cbd7ee"/><stop offset="0.55" stop-color="#ccd8ed"/><stop offset="0.64" stop-color="#d6dae3"/><stop offset="0.73" stop-color="#e0d9d6"/><stop offset="0.82" stop-color="#eccebf"/><stop offset="0.91" stop-color="#f3bda5"/><stop offset="1" stop-color="#f5b397"/></linearGradient>
<linearGradient id="g123"><stop offset="0" stop-color="#9fbefd"/><stop offset="0.09" stop-color="#9bbcff"/><stop offset="0.18" stop-color="#97b8fe"/><stop offset="0.27" stop-color="#a5c1fc"/><stop offset="0.36" stop-color="#bccff4"/><stop offset="0.45" stop-color="#cdd8ec"/><stop offset="0.55" stop-color="#d7dae2"/><stop offset="0.64" stop-color="#e4d5ce"/><stop offset="0.73" stop-color="#f1cab5"/><stop offset="0.82" stop-color="#f4b79c"/><stop offset="0.91" stop-color="#f7a98a"/><stop offset="1" stop-color="#f7a788"/></linearGradient>
<linearGradient id="g124"><stop offset="0" stop-color="#7798f3"/><stop offset="0.09" stop-color="#7b9cf5"/><stop offset="0.18" stop-color="#82a3f7"/><stop offset="0.27" stop-color="#8daefb"/><stop offset="0.36" stop-color="#9dbdfe"/><stop offset="0.45" stop-color="#b4cbf7"/><stop offset="0.55" stop-color="#ced8eb"/><stop offset="0.64" stop-color="#dedbda"/><stop offset="0.73" stop-color="#f2c7b2"/><stop offset="0.82" stop-color="#f7aa8c"/><stop offset="0.91" stop-color="#f2987b"/><stop offset="1" stop-color="#ef9175"/></linearGradient>
<linearGradient id="g125"><stop offset="0" stop-color="#6a8bef"/><stop offset="0.09" stop-color="#7798f3"/><stop offset="0.18" stop-color="#8aabfa"/><stop offset="0.27" stop-color="#8cadfa"/><stop offset="0.36" stop-color="#8eaffb"/><stop offset="0.45" stop-color="#9fbefd"/><stop offset="0.55" stop-color="#b5cbf6"/><stop offset="0.64" stop-color="#cfd9ea"/><stop offset="0.73" stop-color="#e6d4cb"/><stop offset="0.82" stop-color="#f3bca3"/><stop offset="0.91" stop-color="#f5b195"/><stop offset="1" stop-color="#f5b296"/></linearGradient>
<linearGradient id="g126"><stop offset="0" stop-color="#6889ee"/><stop offset="0.09" stop-color="#6c8df0"/><stop offset="0.18" stop-color="#7697f3"/><stop offset="0.27" stop-color="#8aabfa"/><stop offset="0.36" stop-color="#acc6f9"/><stop offset="0.45" stop-color="#c9d7f0"/><stop offset="0.55" stop-color="#d4dae5"/><stop offset="0.64" stop-color="#e7d3ca"/><stop offset="0.73" stop-color="#f4b99f"/><stop offset="0.82" stop-color="#ec876c"/><stop offset="0.91" stop-color="#e87c63"/><stop offset="1" stop-color="#f5a384"/></linearGradient>
<linearGradient id="g127"><stop offset="0" stop-color="#6a8bef"/><stop offset="0.09" stop-color="#6f90f1"/><stop offset="0.18" stop-color="#7a9bf4"/><stop offset="0.27" stop-color="#8eaffb"/><stop offset="0.36" stop-color="#b1c8f8"/><stop offset="0.45" stop-color="#ced8eb"/><stop offset="0.55" stop-color="#e3d6d0"/><stop offset="0.64" stop-color="#f3bfa8"/><stop offset="0.73" stop-color="#f6ad90"/><stop offset="0.82" stop-color="#f29a7d"/><stop offset="0.91" stop-color="#f2987b"/><stop offset="1" stop-color="#f5b397"/></linearGradient>
<linearGradient id="g128"><stop offset="0" stop-color="#6b8cef"/><stop offset="0.09" stop-color="#7495f2"/><stop offset="0.18" stop-color="#83a4f7"/><stop offset="0.27" stop-color="#a1bffd"/><stop offset="0.36" stop-color="#ccd8ed"/><stop offset="0.45" stop-color="#dcdcdd"/><stop offset="0.55" stop-color="#ead0c4"/><stop offset="0.64" stop-color="#f4baa1"/><stop offset="0.73" stop-color="#f4a082"/><stop offset="0.82" stop-color="#ef9175"/><stop offset="0.91" stop-color="#f7a788"/><stop offset="1" stop-color="#f3c0a9"/></linearGradient>
<linearGradient id="g129"><stop offset="0" stop-color="#7394f2"/><stop offset="0.09" stop-color="#7d9ef5"/><stop offset="0.18" stop-color="#93b4fd"/><stop offset="0.27" stop-color="#a7c3fb"/><stop offset="0.36" stop-color="#c6d5f1"/><stop offset="0.45" stop-color="#d7dbe2"/><stop offset="0.55" stop-color="#e9d1c5"/><stop offset="0.64" stop-color="#f4b89e"/><stop offset="0.73" stop-color="#f2997c"/><stop offset="0.82" stop-color="#eb8368"/><stop offset="0.91" stop-color="#ee8c70"/><stop offset="1" stop-color="#f6ad90"/></linearGradient>
<linearGradient id="g130"><stop offset="0" stop-color="#7697f3"/><stop offset="0.09" stop-color="#7a9bf4"/><stop offset="0.18" stop-color="#9cbcfe"/><stop offset="0.27" stop-color="#a7c3fb"/><stop offset="0.36" stop-color="#b3caf7"/><stop offset="0.45" stop-color="#cdd8ec"/><stop offset="0.55" stop-color="#e2d8d3"/><stop offset="0.64" stop-color="#f2c7b2"/><stop offset="0.73" stop-color="#f4b79d"/><stop offset="0.82" stop-color="#f7a788"/><stop offset="0.91" stop-color="#eb8369"/><stop offset="1" stop-color="#eb8369"/></linearGradient>
<linearGradient id="g131"><stop offset="0" stop-color="#a5c2fb"/><stop offset="0.09" stop-color="#b1c9f8"/><stop offset="0.18" stop-color="#c8d6f0"/><stop offset="0.27" stop-color="#cbd8ee"/><stop offset="0.36" stop-color="#cdd8ec"/><stop offset="0.45" stop-color="#d5dae4"/><stop offset="0.55" stop-color="#dfdad8"/><stop offset="0.64" stop-color="#e8d2c6"/><stop offset="0.73" stop-color="#f1c8b4"/><stop offset="0.82" stop-color="#f3bea6"/><stop offset="0.91" stop-color="#f3bca4"/><stop offset="1" stop-color="#f3c1aa"/></linearGradient>
<linearGradient id="g132"><stop offset="0" stop-color="#89aaf9"/><stop offset="0.09" stop-color="#9abbff"/><stop offset="0.18" stop-color="#b0c8f8"/><stop offset="0.27" stop-color="#bed0f4"/><stop offset="0.36" stop-color="#cad7ef"/><stop offset="0.45" stop-color="#d4dae5"/><stop offset="0.55" stop-color="#dfdad9"/><stop offset="0.64" stop-color="#ebd0c2"/><stop offset="0.73" stop-color="#f4b79d"/><stop offset="0.82" stop-color="#f6a586"/><stop offset="0.91" stop-color="#f5b59a"/><stop offset="1" stop-color="#f2c7b2"/></linearGradient>
<linearGradient id="g133"><stop offset="0" stop-color="#6d8ef0"/><stop offset="0.09" stop-color="#7091f1"/><stop offset="0.18" stop-color="#7495f2"/><stop offset="0.27" stop-color="#7e9ff6"/><stop offset="0.36" stop-color="#9dbdfe"/><stop offset="0.45" stop-color="#b0c8f8"/><stop offset="0.55" stop-color="#b9cef5"/><stop offset="0.64" stop-color="#cfd9ea"/><stop offset="0.73" stop-color="#e2d7d2"/><stop offset="0.82" stop-color="#f1c8b4"/><stop offset="0.91" stop-color="#f4b69c"/><stop offset="1" stop-color="#f6ae92"/></linearGradient>
<linearGradient id="g134"><stop offset="0" stop-color="#7596f3"/><stop offset="0.09" stop-color="#7293f2"/><stop offset="0.18" stop-color="#7293f2"/><stop offset="0.27" stop-color="#83a4f7"/><stop offset="0.36" stop-color="#a0befd"/><stop offset="0.45" stop-color="#c4d4f2"/><stop offset="0.55" stop-color="#dddcdc"/><stop offset="0.64" stop-color="#efcbb9"/><stop offset="0.73" stop-color="#f4b89e"/><stop offset="0.82" stop-color="#f7aa8b"/><stop offset="0.91" stop-color="#f7a98a"/><stop offset="1" stop-color="#f5b59b"/></linearGradient>
<linearGradient id="g135"><stop offset="0" stop-color="#9abbff"/><stop offset="0.09" stop-color="#9bbbff"/><stop offset="0.18" stop-color="#9cbcfe"/><stop offset="0.27" stop-color="#b4caf7"/><stop offset="0.36" stop-color="#cdd8ec"/><stop offset="0.45" stop-color="#dddcdc"/><stop offset="0.55" stop-color="#f2c5af"/><stop offset="0.64" stop-color="#f6ad8f"/><stop offset="0.73" stop-color="#f7a788"/><stop offset="0.82" stop-color="#f6a586"/><stop offset="0.91" stop-color="#f6af92"/><stop offset="1" stop-color="#f6b093"/></linearGradient>
<linearGradient id="g136"><stop offset="0" stop-color="#b5cbf6"/><stop offset="0.09" stop-color="#acc6f9"/><stop offset="0.18" stop-color="#a1bffd"/><stop offset="0.27" stop-color="#afc7f8"/><stop offset="0.36" stop-color="#c7d6f1"/><stop offset="0.45" stop-color="#d3dae6"/><stop offset="0.55" stop-color="#e8d2c7"/><stop offset="0.64" stop-color="#f2c6b1"/><stop offset="0.73" stop-color="#edcdbd"/><stop offset="0.82" stop-color="#e6d4cb"/><stop offset="0.91" stop-color="#dbdcde"/><stop offset="1" stop-color="#f2c2ab"/></linearGradient>
<linearGradient id="g137"><stop offset="0" stop-color="#92b3fc"/><stop offset="0.09" stop-color="#95b6fd"/><stop offset="0.18" stop-color="#9abbff"/><stop offset="0.27" stop-color="#9cbcfe"/><stop offset="0.36" stop-color="#9fbefd"/><stop offset="0.45" stop-color="#b3caf7"/><stop offset="0.55" stop-color="#d1d9e8"/><stop offset="0.64" stop-color="#e0dad7"/><stop offset="0.73" stop-color="#e8d2c8"/><stop offset="0.82" stop-color="#f0cbb9"/><stop offset="0.91" stop-color="#f3bea6"/><stop offset="1" stop-color="#f29a7d"/></linearGradient>
<linearGradient id="g138"><stop offset="0" stop-color="#8aabfa"/><stop offset="0.09" stop-color="#7fa0f6"/><stop offset="0.18" stop-color="#7596f3"/><stop offset="0.27" stop-color="#8fb0fb"/><stop offset="0.36" stop-color="#bccff4"/><stop offset="0.45" stop-color="#d2d9e7"/><stop offset="0.55" stop-color="#e1d9d5"/><stop offset="0.64" stop-color="#f2c5af"/><stop offset="0.73" stop-color="#f1977a"/><stop offset="0.82" stop-color="#eb8369"/><stop offset="0.91" stop-color="#f5b59a"/><stop offset="1" stop-color="#ee8e73"/></linearGradient>
<linearGradient id="g139"><stop offset="0" stop-color="#7697f3"/><stop offset="0.09" stop-color="#7697f3"/><stop offset="0.18" stop-color="#7899f4"/><stop offset="0.27" stop-color="#a7c3fb"/><stop offset="0.36" stop-color="#dcdcdd"/><stop offset="0.45" stop-color="#e8d2c7"/><stop offset="0.55" stop-color="#e6d4cb"/><stop offset="0.64" stop-color="#f1c8b3"/><stop offset="0.73" stop-color="#f5a183"/><stop offset="0.82" stop-color="#e97f65"/><stop offset="0.91" stop-color="#ec886d"/><stop offset="1" stop-color="#ec876c"/></linearGradient>
<linearGradient id="gBrBG" x1="0" y1="0" x2="1" y2="0"><stop offset="0" stop-color="#004d42"/><stop offset="0.1" stop-color="#12766e"/><stop offset="0.2" stop-color="#47a49b"/><stop offset="0.3" stop-color="#8bd2c7"/><stop offset="0.4" stop-color="#cbebe6"/><stop offset="0.5" stop-color="#f5f5f5"/><stop offset="0.6" stop-color="#f6e9c7"/><stop offset="0.7" stop-color="#e3c888"/><stop offset="0.8" stop-color="#c79140"/><stop offset="0.9" stop-color="#9c6015"/><stop offset="1" stop-color="#6a3d07"/></linearGradient>
<linearGradient id="gCW" x1="0" y1="0" x2="1" y2="0"><stop offset="0" stop-color="#495fcf"/><stop offset="0.1" stop-color="#6a8bef"/><stop offset="0.2" stop-color="#8fb0fb"/><stop offset="0.3" stop-color="#b3caf7"/><stop offset="0.4" stop-color="#ced8eb"/><stop offset="0.5" stop-color="#dddcdc"/><stop offset="0.6" stop-color="#eccfc0"/><stop offset="0.7" stop-color="#f4baa1"/><stop offset="0.8" stop-color="#f39b7e"/><stop offset="0.9" stop-color="#e36d55"/><stop offset="1" stop-color="#c32434"/></linearGradient>
<linearGradient id="eP1"><stop offset="0" stop-color="#2f86ad"/><stop offset="0.3" stop-color="#2e92b4"/><stop offset="0.6" stop-color="#2f9cbc"/><stop offset="1" stop-color="#3aa3c2"/></linearGradient>
<linearGradient id="eC1"><stop offset="0" stop-color="#ecc9e0"/><stop offset="0.04" stop-color="#e3b6da"/><stop offset="0.05" stop-color="#b07cc6"/><stop offset="0.14" stop-color="#a868bd"/><stop offset="0.22" stop-color="#9a5cb8"/><stop offset="0.3" stop-color="#b0309a"/><stop offset="0.36" stop-color="#c01b8c"/><stop offset="0.6" stop-color="#bd1a8c"/><stop offset="0.68" stop-color="#9a2590"/><stop offset="0.76" stop-color="#7b2a8f"/><stop offset="1" stop-color="#6f2a8c"/></linearGradient>
<linearGradient id="eT1"><stop offset="0" stop-color="#b3123c"/><stop offset="0.03" stop-color="#c8283f"/><stop offset="0.05" stop-color="#f08a5a"/><stop offset="0.1" stop-color="#f9b877"/><stop offset="0.16" stop-color="#fde4a0"/><stop offset="0.24" stop-color="#f8f6bd"/><stop offset="0.34" stop-color="#e6f1b2"/><stop offset="0.5" stop-color="#d3e9b0"/><stop offset="1" stop-color="#c3e2b4"/></linearGradient>
<linearGradient id="eP2"><stop offset="0" stop-color="#78b555"/><stop offset="0.3" stop-color="#8cc168"/><stop offset="0.6" stop-color="#7ab95a"/><stop offset="0.85" stop-color="#93c872"/><stop offset="1" stop-color="#6db350"/></linearGradient>
<linearGradient id="eC2"><stop offset="0" stop-color="#9fd3ea"/><stop offset="0.02" stop-color="#9fd3ea"/><stop offset="0.02" stop-color="#f2d624"/><stop offset="1" stop-color="#f3da22"/></linearGradient>
<linearGradient id="eT2"><stop offset="0" stop-color="#c4182f"/><stop offset="0.01" stop-color="#d7302b"/><stop offset="0.02" stop-color="#f39a50"/><stop offset="0.04" stop-color="#f5e39a"/><stop offset="0.06" stop-color="#cfe9b4"/><stop offset="0.3" stop-color="#b6dfb2"/><stop offset="0.6" stop-color="#9ad4ac"/><stop offset="1" stop-color="#74c4a8"/></linearGradient>
<linearGradient id="gBl" x1="0" y1="0" x2="0" y2="1"><stop offset="0" stop-color="#1c67a8"/><stop offset="0.35" stop-color="#4b93c7"/><stop offset="0.7" stop-color="#a9cfe6"/><stop offset="1" stop-color="#f7fbff"/></linearGradient>
</defs>
<rect width="520" height="563" fill="#fff"/>
<g id="panelA">
<text x="0.6" y="11.7" font-size="12.9" font-weight="bold" fill="#000">A</text>
<text x="64" y="17.5" font-size="6.9" text-anchor="middle" fill="#231f20">Pseudotime</text>
<text x="166.2" y="17.5" font-size="6.9" text-anchor="middle" fill="#231f20">Entropy (potential)</text>
<circle cx="75.05" cy="54.64" r="0.4" fill="#e7f599" opacity="0.55"/>
<circle cx="74" cy="59.92" r="0.4" fill="#fafdb7" opacity="0.55"/>
<circle cx="74.62" cy="60.48" r="0.4" fill="#fbfdb8" opacity="0.55"/>
<circle cx="74.4" cy="50.89" r="0.4" fill="#d4ee9c" opacity="0.55"/>
<circle cx="74.28" cy="50.55" r="0.4" fill="#d6ee9b" opacity="0.55"/>
<circle cx="72.99" cy="54.63" r="0.4" fill="#eef8a5" opacity="0.55"/>
<circle cx="71.77" cy="48.48" r="0.4" fill="#bbe3a1" opacity="0.55"/>
<circle cx="75.37" cy="60.21" r="0.4" fill="#fcfeba" opacity="0.55"/>
<circle cx="75.25" cy="58.77" r="0.4" fill="#f4fbae" opacity="0.55"/>
<circle cx="73.71" cy="41.86" r="0.4" fill="#8cd1a4" opacity="0.55"/>
<circle cx="72.81" cy="46.2" r="0.4" fill="#b0dfa3" opacity="0.55"/>
<circle cx="75.43" cy="60.59" r="0.4" fill="#fafdb8" opacity="0.55"/>
<circle cx="72.8" cy="44.65" r="0.4" fill="#a8dca4" opacity="0.55"/>
<circle cx="72.98" cy="47" r="0.4" fill="#b9e3a1" opacity="0.55"/>
<circle cx="73.04" cy="40.71" r="0.4" fill="#91d3a4" opacity="0.55"/>
<circle cx="71.92" cy="46.78" r="0.4" fill="#bbe4a1" opacity="0.55"/>
<circle cx="72.8" cy="45.48" r="0.4" fill="#9ed8a4" opacity="0.55"/>
<circle cx="73.42" cy="59.68" r="0.4" fill="#f6fbb1" opacity="0.55"/>
<circle cx="74.41" cy="58.07" r="0.4" fill="#f4faad" opacity="0.55"/>
<circle cx="73.64" cy="43.46" r="0.4" fill="#abdda4" opacity="0.55"/>
<circle cx="72.53" cy="40.52" r="0.4" fill="#80cca5" opacity="0.55"/>
<circle cx="72.82" cy="46.07" r="0.4" fill="#b8e2a1" opacity="0.55"/>
<circle cx="74.11" cy="39.81" r="0.4" fill="#87cfa5" opacity="0.55"/>
<circle cx="74.84" cy="45.25" r="0.4" fill="#abdda4" opacity="0.55"/>
<circle cx="75.25" cy="45.1" r="0.4" fill="#aedea3" opacity="0.55"/>
<circle cx="73.37" cy="55.48" r="0.4" fill="#eaf69e" opacity="0.55"/>
<circle cx="74.42" cy="61.54" r="0.4" fill="#fdfebc" opacity="0.55"/>
<circle cx="76.18" cy="59.51" r="0.4" fill="#f6fbb1" opacity="0.55"/>
<circle cx="74.73" cy="59.53" r="0.4" fill="#f5fbb0" opacity="0.55"/>
<circle cx="73.94" cy="39.82" r="0.4" fill="#81cca5" opacity="0.55"/>
<circle cx="75.03" cy="46.6" r="0.4" fill="#c0e5a0" opacity="0.55"/>
<circle cx="72.93" cy="40.45" r="0.4" fill="#82cda5" opacity="0.55"/>
<circle cx="75.9" cy="51.17" r="0.4" fill="#e1f399" opacity="0.55"/>
<circle cx="74.96" cy="58.66" r="0.4" fill="#f4faad" opacity="0.55"/>
<circle cx="73.29" cy="56.05" r="0.4" fill="#edf8a4" opacity="0.55"/>
<circle cx="75.36" cy="55.19" r="0.4" fill="#ebf7a0" opacity="0.55"/>
<circle cx="72.15" cy="51.5" r="0.4" fill="#e0f299" opacity="0.55"/>
<circle cx="72.24" cy="43.93" r="0.4" fill="#a6dba4" opacity="0.55"/>
<circle cx="75.33" cy="45.06" r="0.4" fill="#a9dca4" opacity="0.55"/>
<circle cx="74.42" cy="40.58" r="0.4" fill="#94d4a4" opacity="0.55"/>
<circle cx="73.8" cy="52.05" r="0.4" fill="#dcf19a" opacity="0.55"/>
<circle cx="73.92" cy="45.64" r="0.4" fill="#b1dfa3" opacity="0.55"/>
<circle cx="74.97" cy="57.27" r="0.4" fill="#eff9a7" opacity="0.55"/>
<circle cx="75.4" cy="60.63" r="0.4" fill="#fbfdb9" opacity="0.55"/>
<circle cx="74.64" cy="59.52" r="0.4" fill="#f7fcb3" opacity="0.55"/>
<circle cx="72.69" cy="38.93" r="0.4" fill="#80cca5" opacity="0.55"/>
<circle cx="73.95" cy="56.14" r="0.4" fill="#ecf7a1" opacity="0.55"/>
<circle cx="76.38" cy="56.5" r="0.4" fill="#f6fbb1" opacity="0.55"/>
<circle cx="73.6" cy="49.92" r="0.4" fill="#cfeb9d" opacity="0.55"/>
<circle cx="74.39" cy="59.93" r="0.4" fill="#f7fcb3" opacity="0.55"/>
<circle cx="73.28" cy="40.61" r="0.4" fill="#89d0a4" opacity="0.55"/>
<circle cx="72.41" cy="37.18" r="0.4" fill="#70c6a5" opacity="0.55"/>
<circle cx="74.89" cy="48.06" r="0.4" fill="#c1e6a0" opacity="0.55"/>
<circle cx="73.76" cy="35.51" r="0.4" fill="#6ac4a5" opacity="0.55"/>
<circle cx="74.06" cy="55.62" r="0.4" fill="#ebf7a0" opacity="0.55"/>
<circle cx="71.77" cy="41.61" r="0.4" fill="#95d4a4" opacity="0.55"/>
<circle cx="74.55" cy="55.05" r="0.4" fill="#e6f598" opacity="0.55"/>
<circle cx="73.81" cy="35.09" r="0.4" fill="#69c3a5" opacity="0.55"/>
<circle cx="73.16" cy="40.08" r="0.4" fill="#8cd1a4" opacity="0.55"/>
<circle cx="73.73" cy="48.71" r="0.4" fill="#c5e89f" opacity="0.55"/>
<circle cx="74.81" cy="61.96" r="0.4" fill="#fdfebc" opacity="0.55"/>
<circle cx="74.42" cy="43.73" r="0.4" fill="#a6dba4" opacity="0.55"/>
<circle cx="75.17" cy="37.47" r="0.4" fill="#73c7a5" opacity="0.55"/>
<circle cx="74.32" cy="53.15" r="0.4" fill="#e0f399" opacity="0.55"/>
<circle cx="74.92" cy="58.09" r="0.4" fill="#f0f9a8" opacity="0.55"/>
<circle cx="73.57" cy="37.73" r="0.4" fill="#7bcaa5" opacity="0.55"/>
<circle cx="73.68" cy="44.66" r="0.4" fill="#addea4" opacity="0.55"/>
<circle cx="74.87" cy="43.98" r="0.4" fill="#acdda4" opacity="0.55"/>
<circle cx="72.79" cy="42.57" r="0.4" fill="#9ad6a4" opacity="0.55"/>
<circle cx="72.46" cy="42.89" r="0.4" fill="#92d3a4" opacity="0.55"/>
<circle cx="72.14" cy="37.29" r="0.4" fill="#6cc4a5" opacity="0.55"/>
<circle cx="72.83" cy="36.84" r="0.4" fill="#71c6a5" opacity="0.55"/>
<circle cx="75.86" cy="60.28" r="0.4" fill="#f5fbb0" opacity="0.55"/>
<circle cx="74.25" cy="42.37" r="0.4" fill="#8ed2a4" opacity="0.55"/>
<circle cx="72.38" cy="35.81" r="0.4" fill="#6ac4a5" opacity="0.55"/>
<circle cx="73.9" cy="47.85" r="0.4" fill="#c0e5a0" opacity="0.55"/>
<circle cx="72.22" cy="35.87" r="0.4" fill="#6cc4a5" opacity="0.55"/>
<circle cx="71.28" cy="38.46" r="0.4" fill="#74c7a5" opacity="0.55"/>
<circle cx="73.35" cy="41.19" r="0.4" fill="#8ad0a4" opacity="0.55"/>
<circle cx="74.43" cy="55.58" r="0.4" fill="#e9f69d" opacity="0.55"/>
<circle cx="74.01" cy="55.49" r="0.4" fill="#ecf7a1" opacity="0.55"/>
<circle cx="72.39" cy="39.13" r="0.4" fill="#79c9a5" opacity="0.55"/>
<circle cx="74.49" cy="46.3" r="0.4" fill="#bae3a1" opacity="0.55"/>
<circle cx="71.87" cy="38.13" r="0.4" fill="#77c9a5" opacity="0.55"/>
<circle cx="74.81" cy="48.5" r="0.4" fill="#c4e79f" opacity="0.55"/>
<circle cx="76.21" cy="57.28" r="0.4" fill="#f1faaa" opacity="0.55"/>
<circle cx="73.19" cy="57.76" r="0.4" fill="#f2faab" opacity="0.55"/>
<circle cx="73.28" cy="48.5" r="0.4" fill="#bfe5a0" opacity="0.55"/>
<circle cx="73.87" cy="47.14" r="0.4" fill="#bfe5a0" opacity="0.55"/>
<circle cx="73.77" cy="48.16" r="0.4" fill="#bee5a0" opacity="0.55"/>
<circle cx="72.56" cy="41.82" r="0.35" fill="#f8fcb4" opacity="0.4"/>
<circle cx="76.1" cy="41.34" r="0.35" fill="#f9fcb5" opacity="0.4"/>
<circle cx="72.78" cy="46.01" r="0.35" fill="#fcfebb" opacity="0.4"/>
<circle cx="72.77" cy="44.57" r="0.35" fill="#fafdb7" opacity="0.4"/>
<circle cx="77.08" cy="48.68" r="0.35" fill="#fffebe" opacity="0.4"/>
<circle cx="75.72" cy="38.77" r="0.35" fill="#f6fbb0" opacity="0.4"/>
<circle cx="77.59" cy="46.38" r="0.35" fill="#fefebd" opacity="0.4"/>
<circle cx="76.18" cy="59.63" r="0.35" fill="#fff4ac" opacity="0.4"/>
<circle cx="75" cy="60.74" r="0.35" fill="#fff2a9" opacity="0.4"/>
<circle cx="75.39" cy="41.26" r="0.35" fill="#fbfdb8" opacity="0.4"/>
<circle cx="74.43" cy="55.69" r="0.35" fill="#fff4ad" opacity="0.4"/>
<circle cx="78.03" cy="55.47" r="0.35" fill="#fff4ac" opacity="0.4"/>
<circle cx="76.43" cy="55.82" r="0.35" fill="#fff6b0" opacity="0.4"/>
<circle cx="77.77" cy="49.14" r="0.35" fill="#ffffbe" opacity="0.4"/>
<circle cx="73.17" cy="58.61" r="0.35" fill="#fff5ad" opacity="0.4"/>
<circle cx="75.3" cy="54.5" r="0.35" fill="#fffab7" opacity="0.4"/>
<circle cx="76.66" cy="43.47" r="0.35" fill="#f9fdb6" opacity="0.4"/>
<circle cx="76.21" cy="50.71" r="0.35" fill="#fffdbc" opacity="0.4"/>
<circle cx="74.11" cy="45.73" r="0.35" fill="#fcfeba" opacity="0.4"/>
<circle cx="75.53" cy="32.24" r="0.35" fill="#f3faac" opacity="0.4"/>
<circle cx="74.9" cy="59.73" r="0.35" fill="#fff3aa" opacity="0.4"/>
<circle cx="74.5" cy="42.58" r="0.35" fill="#f8fcb4" opacity="0.4"/>
<circle cx="77.3" cy="49.46" r="0.35" fill="#fffdbb" opacity="0.4"/>
<circle cx="76.99" cy="58.17" r="0.35" fill="#fff8b2" opacity="0.4"/>
<circle cx="74.5" cy="46.51" r="0.35" fill="#fdfebc" opacity="0.4"/>
<circle cx="74.33" cy="58.95" r="0.35" fill="#fff1a8" opacity="0.4"/>
<circle cx="77.07" cy="59.26" r="0.35" fill="#fff2a9" opacity="0.4"/>
<circle cx="77.32" cy="42.74" r="0.35" fill="#f7fcb3" opacity="0.4"/>
<circle cx="76.11" cy="58.93" r="0.35" fill="#fff2a8" opacity="0.4"/>
<circle cx="71.37" cy="51.99" r="0.35" fill="#fffab7" opacity="0.4"/>
<circle cx="76.21" cy="56.46" r="0.35" fill="#fff8b3" opacity="0.4"/>
<circle cx="75.61" cy="56.4" r="0.35" fill="#fff7b1" opacity="0.4"/>
<circle cx="75.39" cy="62.01" r="0.35" fill="#fff1a8" opacity="0.4"/>
<circle cx="74.93" cy="52.75" r="0.35" fill="#fff9b5" opacity="0.4"/>
<circle cx="75.4" cy="50.33" r="0.35" fill="#ffffbf" opacity="0.4"/>
<circle cx="74.99" cy="61.81" r="0.35" fill="#fff0a6" opacity="0.4"/>
<circle cx="73.65" cy="42.61" r="0.35" fill="#f9fdb6" opacity="0.4"/>
<circle cx="75.46" cy="49.35" r="0.35" fill="#fffebe" opacity="0.4"/>
<circle cx="72.89" cy="41.48" r="0.35" fill="#f7fcb3" opacity="0.4"/>
<circle cx="73.09" cy="41.48" r="0.35" fill="#f7fcb2" opacity="0.4"/>
<path d="M69.2 26.2 C69.0 24.2 71.2 23.6 72.4 25.4 C73.4 23.6 76.6 23.4 76.9 26.0 C77.2 29.0 75.6 31.0 75.0 33.0 C74.6 34.6 73.6 36.0 72.6 35.0 C71.6 33.6 71.6 31.4 70.6 29.6 C69.8 28.4 69.3 27.4 69.2 26.2Z" fill="#69c0a4"/>
<circle cx="73.35" cy="38.07" r="0.5" fill="#d5ee9b" opacity="0.8"/>
<circle cx="72.57" cy="38.17" r="0.5" fill="#e7f599" opacity="0.8"/>
<circle cx="72.68" cy="36.59" r="0.5" fill="#b0dfa3" opacity="0.8"/>
<circle cx="73.69" cy="35.2" r="0.5" fill="#88cfa5" opacity="0.8"/>
<circle cx="72.93" cy="35.75" r="0.5" fill="#9bd7a4" opacity="0.8"/>
<circle cx="73.41" cy="38.4" r="0.5" fill="#e7f69a" opacity="0.8"/>
<circle cx="72.82" cy="36.19" r="0.5" fill="#9fd8a4" opacity="0.8"/>
<circle cx="73.16" cy="37.3" r="0.5" fill="#b7e2a1" opacity="0.8"/>
<circle cx="74.36" cy="35.2" r="0.5" fill="#9cd7a4" opacity="0.8"/>
<circle cx="72.85" cy="38.84" r="0.5" fill="#c3e79f" opacity="0.8"/>
<circle cx="72.78" cy="35.88" r="0.5" fill="#a3daa4" opacity="0.8"/>
<circle cx="72.1" cy="36.4" r="0.5" fill="#addea4" opacity="0.8"/>
<circle cx="72.74" cy="35.2" r="0.5" fill="#92d3a4" opacity="0.8"/>
<circle cx="73.31" cy="35.91" r="0.5" fill="#9cd7a4" opacity="0.8"/>
<circle cx="73.31" cy="34.32" r="0.5" fill="#7acaa5" opacity="0.8"/>
<circle cx="72.17" cy="35.02" r="0.5" fill="#97d5a4" opacity="0.8"/>
<circle cx="72.28" cy="37.71" r="0.5" fill="#ddf19a" opacity="0.8"/>
<circle cx="72.39" cy="39.62" r="0.5" fill="#e9f69d" opacity="0.8"/>
<circle cx="73.37" cy="40.69" r="0.5" fill="#eff9a6" opacity="0.8"/>
<circle cx="73.9" cy="38.17" r="0.5" fill="#cfec9d" opacity="0.8"/>
<circle cx="72.12" cy="38.65" r="0.5" fill="#eaf79e" opacity="0.8"/>
<circle cx="73.27" cy="39.43" r="0.5" fill="#e5f598" opacity="0.8"/>
<circle cx="73.35" cy="36.09" r="0.5" fill="#bde4a0" opacity="0.8"/>
<circle cx="71.7" cy="38.32" r="0.5" fill="#e6f599" opacity="0.8"/>
<circle cx="72.65" cy="37.69" r="0.5" fill="#d4ee9c" opacity="0.8"/>
<circle cx="73.18" cy="34.61" r="0.5" fill="#79c9a5" opacity="0.8"/>
<circle cx="73.19" cy="33.97" r="0.5" fill="#84cea5" opacity="0.8"/>
<circle cx="72.16" cy="37.12" r="0.5" fill="#cdeb9d" opacity="0.8"/>
<circle cx="73.87" cy="36.96" r="0.5" fill="#bbe4a1" opacity="0.8"/>
<circle cx="72.06" cy="38.48" r="0.5" fill="#ddf19a" opacity="0.8"/>
<path d="M78 63 L88 59.6 C92 58 98 56.4 100.6 56.8 C102.4 60 102.2 66.4 100.4 69.8 C96 69.4 91 67.4 88 66.2 Z" fill="url(#gFan)"/>
<circle cx="89.92" cy="64.19" r="0.4" fill="#fffbb8" opacity="0.6"/>
<circle cx="82.79" cy="63.64" r="0.4" fill="#feeea3" opacity="0.6"/>
<circle cx="89.03" cy="65.84" r="0.4" fill="#fffdbb" opacity="0.6"/>
<circle cx="89.89" cy="63.07" r="0.4" fill="#fbfdb8" opacity="0.6"/>
<circle cx="83.46" cy="60.19" r="0.4" fill="#fff5ae" opacity="0.6"/>
<circle cx="86.19" cy="62.44" r="0.4" fill="#fff9b5" opacity="0.6"/>
<circle cx="79.99" cy="65.97" r="0.4" fill="#feeb9d" opacity="0.6"/>
<circle cx="82" cy="62.88" r="0.4" fill="#fff0a5" opacity="0.6"/>
<circle cx="78.53" cy="65.67" r="0.4" fill="#fee899" opacity="0.6"/>
<circle cx="87.02" cy="61.67" r="0.4" fill="#fffcb9" opacity="0.6"/>
<circle cx="83.26" cy="63.44" r="0.4" fill="#fff6b0" opacity="0.6"/>
<circle cx="80.6" cy="62.26" r="0.4" fill="#feea9c" opacity="0.6"/>
<circle cx="92.01" cy="62.87" r="0.4" fill="#fbfdb8" opacity="0.6"/>
<circle cx="86.43" cy="58.72" r="0.4" fill="#fff4ad" opacity="0.6"/>
<circle cx="84.15" cy="64.23" r="0.4" fill="#fff4ad" opacity="0.6"/>
<circle cx="91.82" cy="65.3" r="0.4" fill="#fbfeb9" opacity="0.6"/>
<circle cx="75.59" cy="62.33" r="0.4" fill="#feeb9d" opacity="0.6"/>
<circle cx="80.77" cy="61.06" r="0.4" fill="#feea9c" opacity="0.6"/>
<circle cx="90.04" cy="61.75" r="0.4" fill="#fdfebc" opacity="0.6"/>
<circle cx="90.17" cy="63.04" r="0.4" fill="#fdfebb" opacity="0.6"/>
<circle cx="76.08" cy="63.1" r="0.4" fill="#fee696" opacity="0.6"/>
<circle cx="83.28" cy="64.28" r="0.4" fill="#fff0a5" opacity="0.6"/>
<circle cx="82.48" cy="62.91" r="0.4" fill="#fff0a6" opacity="0.6"/>
<circle cx="88.99" cy="62.23" r="0.4" fill="#fffdbc" opacity="0.6"/>
<circle cx="90.08" cy="59.23" r="0.4" fill="#fcfeba" opacity="0.6"/>
<circle cx="80.81" cy="64.29" r="0.4" fill="#feefa4" opacity="0.6"/>
<circle cx="90.54" cy="62.1" r="0.4" fill="#fafdb7" opacity="0.6"/>
<circle cx="83.9" cy="63.56" r="0.4" fill="#fff3ac" opacity="0.6"/>
<circle cx="80.17" cy="61.73" r="0.4" fill="#fee99b" opacity="0.6"/>
<circle cx="91.1" cy="64.41" r="0.4" fill="#fcfeba" opacity="0.6"/>
<circle cx="85.8" cy="64.62" r="0.4" fill="#fff6b0" opacity="0.6"/>
<circle cx="93.84" cy="60.81" r="0.4" fill="#fbfdb9" opacity="0.6"/>
<circle cx="90.49" cy="60.79" r="0.4" fill="#fffab6" opacity="0.6"/>
<circle cx="85.58" cy="62.44" r="0.4" fill="#fff7b2" opacity="0.6"/>
<circle cx="85.39" cy="63.91" r="0.4" fill="#fffdbb" opacity="0.6"/>
<circle cx="86.89" cy="63.56" r="0.4" fill="#fffab7" opacity="0.6"/>
<circle cx="92.39" cy="64.46" r="0.4" fill="#fcfeba" opacity="0.6"/>
<circle cx="81.94" cy="65.82" r="0.4" fill="#fff1a7" opacity="0.6"/>
<circle cx="91.5" cy="65.62" r="0.4" fill="#fbfdb8" opacity="0.6"/>
<circle cx="80.52" cy="62.36" r="0.4" fill="#fff0a5" opacity="0.6"/>
<circle cx="80.99" cy="64.04" r="0.4" fill="#feeb9e" opacity="0.6"/>
<circle cx="89.41" cy="63.02" r="0.4" fill="#fcfebb" opacity="0.6"/>
<circle cx="92.66" cy="62.96" r="0.4" fill="#fcfebb" opacity="0.6"/>
<circle cx="80.23" cy="63.73" r="0.4" fill="#feeb9d" opacity="0.6"/>
<circle cx="83.91" cy="63.72" r="0.4" fill="#fff1a7" opacity="0.6"/>
<circle cx="78.21" cy="61.41" r="0.4" fill="#feeea3" opacity="0.6"/>
<circle cx="86.91" cy="63.97" r="0.4" fill="#fffdbc" opacity="0.6"/>
<circle cx="84.17" cy="64.14" r="0.4" fill="#fff6b1" opacity="0.6"/>
<circle cx="78.06" cy="67.65" r="0.4" fill="#fee899" opacity="0.6"/>
<circle cx="77.23" cy="62.95" r="0.4" fill="#feea9c" opacity="0.6"/>
<circle cx="90.38" cy="64.4" r="0.4" fill="#fdfebd" opacity="0.6"/>
<circle cx="79.9" cy="64.15" r="0.4" fill="#feeea2" opacity="0.6"/>
<circle cx="93.48" cy="60.02" r="0.4" fill="#fbfdb9" opacity="0.6"/>
<circle cx="81.08" cy="63.57" r="0.4" fill="#fee797" opacity="0.6"/>
<circle cx="88.18" cy="63.4" r="0.4" fill="#fdfebb" opacity="0.6"/>
<circle cx="74.81" cy="65.59" r="0.4" fill="#fee695" opacity="0.6"/>
<circle cx="92.52" cy="59.2" r="0.4" fill="#feffbe" opacity="0.6"/>
<circle cx="82.29" cy="63.66" r="0.4" fill="#feeea2" opacity="0.6"/>
<circle cx="83.54" cy="59.1" r="0.4" fill="#fff6b1" opacity="0.6"/>
<circle cx="86.26" cy="60.55" r="0.4" fill="#fffdbb" opacity="0.6"/>
<circle cx="64.75" cy="68.79" r="0.36" fill="#ee6445" opacity="0.7"/>
<circle cx="58.45" cy="73.72" r="0.36" fill="#f98f53" opacity="0.7"/>
<circle cx="61.02" cy="71.34" r="0.36" fill="#f67b4a" opacity="0.7"/>
<circle cx="68.56" cy="65.83" r="0.36" fill="#e04f4b" opacity="0.7"/>
<circle cx="72.2" cy="64.79" r="0.36" fill="#d6404e" opacity="0.7"/>
<circle cx="62.13" cy="70.55" r="0.36" fill="#f57245" opacity="0.7"/>
<circle cx="62.32" cy="70.62" r="0.36" fill="#f57547" opacity="0.7"/>
<circle cx="65.34" cy="68.72" r="0.36" fill="#ee6445" opacity="0.7"/>
<circle cx="56.04" cy="74.12" r="0.36" fill="#fb9d59" opacity="0.7"/>
<circle cx="69.66" cy="66.09" r="0.36" fill="#e04e4b" opacity="0.7"/>
<circle cx="68.32" cy="67.05" r="0.36" fill="#e45449" opacity="0.7"/>
<circle cx="60.24" cy="71.64" r="0.36" fill="#f77f4c" opacity="0.7"/>
<circle cx="60.91" cy="71.28" r="0.36" fill="#f67e4b" opacity="0.7"/>
<circle cx="73.1" cy="63.97" r="0.36" fill="#ce364d" opacity="0.7"/>
<circle cx="60.58" cy="72.27" r="0.36" fill="#f7814c" opacity="0.7"/>
<circle cx="58.95" cy="72.28" r="0.36" fill="#f88950" opacity="0.7"/>
<circle cx="54.32" cy="75.82" r="0.36" fill="#fcaa5f" opacity="0.7"/>
<circle cx="69.5" cy="66.7" r="0.36" fill="#df4c4b" opacity="0.7"/>
<circle cx="68.55" cy="66.69" r="0.36" fill="#e3534a" opacity="0.7"/>
<circle cx="70.32" cy="65.91" r="0.36" fill="#dc484c" opacity="0.7"/>
<circle cx="60.91" cy="71.31" r="0.36" fill="#f67e4b" opacity="0.7"/>
<circle cx="66.38" cy="69.09" r="0.36" fill="#ea5d47" opacity="0.7"/>
<circle cx="71.3" cy="64.99" r="0.36" fill="#d8434e" opacity="0.7"/>
<circle cx="66.8" cy="67.54" r="0.36" fill="#ea5d47" opacity="0.7"/>
<circle cx="60.27" cy="72.2" r="0.36" fill="#f8884f" opacity="0.7"/>
<circle cx="67.78" cy="68.11" r="0.36" fill="#e55749" opacity="0.7"/>
<circle cx="59.65" cy="72.5" r="0.36" fill="#f88a50" opacity="0.7"/>
<circle cx="66.18" cy="68.11" r="0.36" fill="#e95c47" opacity="0.7"/>
<circle cx="70.94" cy="65.29" r="0.36" fill="#da464d" opacity="0.7"/>
<circle cx="67.17" cy="67.47" r="0.36" fill="#e75948" opacity="0.7"/>
<circle cx="54.81" cy="75.42" r="0.36" fill="#fca95f" opacity="0.7"/>
<circle cx="57.75" cy="72.92" r="0.36" fill="#f99455" opacity="0.7"/>
<circle cx="72.63" cy="63.87" r="0.36" fill="#d0384e" opacity="0.7"/>
<circle cx="55.74" cy="74.87" r="0.36" fill="#fba25c" opacity="0.7"/>
<circle cx="56.46" cy="74.31" r="0.36" fill="#fb9f5a" opacity="0.7"/>
<circle cx="57.78" cy="73.07" r="0.36" fill="#f99355" opacity="0.7"/>
<circle cx="74.13" cy="63.97" r="0.36" fill="#ce364d" opacity="0.7"/>
<circle cx="68.85" cy="65.51" r="0.36" fill="#e04f4b" opacity="0.7"/>
<circle cx="67.08" cy="68.37" r="0.36" fill="#e65848" opacity="0.7"/>
<circle cx="61.61" cy="71.42" r="0.36" fill="#f57748" opacity="0.7"/>
<circle cx="67.66" cy="67.13" r="0.36" fill="#e45549" opacity="0.7"/>
<circle cx="59.38" cy="72.21" r="0.36" fill="#f88b51" opacity="0.7"/>
<circle cx="55.42" cy="74.85" r="0.36" fill="#fca65d" opacity="0.7"/>
<circle cx="65.45" cy="68.78" r="0.36" fill="#ef6645" opacity="0.7"/>
<circle cx="66.27" cy="68.38" r="0.36" fill="#e95d47" opacity="0.7"/>
<circle cx="64.36" cy="69.16" r="0.36" fill="#f06844" opacity="0.7"/>
<circle cx="57.89" cy="72.33" r="0.36" fill="#f99254" opacity="0.7"/>
<circle cx="58.27" cy="72.48" r="0.36" fill="#f98e52" opacity="0.7"/>
<circle cx="67.16" cy="67.66" r="0.36" fill="#e55649" opacity="0.7"/>
<circle cx="72.64" cy="64.8" r="0.36" fill="#d43c4f" opacity="0.7"/>
<circle cx="69.15" cy="66.28" r="0.36" fill="#e04e4b" opacity="0.7"/>
<circle cx="62.43" cy="70.99" r="0.36" fill="#f46e43" opacity="0.7"/>
<circle cx="56.64" cy="74.04" r="0.36" fill="#fb9d59" opacity="0.7"/>
<circle cx="72.7" cy="64.5" r="0.36" fill="#d43d4f" opacity="0.7"/>
<circle cx="59.53" cy="72.03" r="0.36" fill="#f7844e" opacity="0.7"/>
<circle cx="65.23" cy="67.92" r="0.36" fill="#eb6046" opacity="0.7"/>
<circle cx="59.38" cy="71.92" r="0.36" fill="#f88a50" opacity="0.7"/>
<circle cx="71.76" cy="64.41" r="0.36" fill="#d7414e" opacity="0.7"/>
<circle cx="62.21" cy="70.64" r="0.36" fill="#f47044" opacity="0.7"/>
<circle cx="70.02" cy="65.95" r="0.36" fill="#dc494c" opacity="0.7"/>
<circle cx="72.5" cy="63.69" r="0.35" fill="#f7814c" opacity="0.5"/>
<circle cx="63.5" cy="70.25" r="0.35" fill="#fa9757" opacity="0.5"/>
<circle cx="64.19" cy="72.33" r="0.35" fill="#fdaf62" opacity="0.5"/>
<circle cx="61.68" cy="71.19" r="0.35" fill="#fdbd6e" opacity="0.5"/>
<circle cx="65.79" cy="66.26" r="0.35" fill="#fdab5f" opacity="0.5"/>
<circle cx="57" cy="74.78" r="0.35" fill="#fed784" opacity="0.5"/>
<circle cx="73.21" cy="68.66" r="0.35" fill="#f67c4a" opacity="0.5"/>
<circle cx="63.73" cy="69.72" r="0.35" fill="#fdb668" opacity="0.5"/>
<circle cx="55.5" cy="74.24" r="0.35" fill="#fed380" opacity="0.5"/>
<circle cx="59.16" cy="72.51" r="0.35" fill="#feca78" opacity="0.5"/>
<circle cx="61.26" cy="69.77" r="0.35" fill="#fdb869" opacity="0.5"/>
<circle cx="67.31" cy="68.57" r="0.35" fill="#fb9d59" opacity="0.5"/>
<circle cx="67.02" cy="64.98" r="0.35" fill="#f98e52" opacity="0.5"/>
<circle cx="71.35" cy="65.8" r="0.35" fill="#f8874f" opacity="0.5"/>
<circle cx="60.98" cy="72.81" r="0.35" fill="#fdc070" opacity="0.5"/>
<circle cx="70.5" cy="63.77" r="0.35" fill="#f8874f" opacity="0.5"/>
<circle cx="74.02" cy="64.93" r="0.35" fill="#f57547" opacity="0.5"/>
<circle cx="62.55" cy="69.43" r="0.35" fill="#fdb365" opacity="0.5"/>
<circle cx="70.17" cy="63.67" r="0.35" fill="#f7824d" opacity="0.5"/>
<circle cx="66.93" cy="70.39" r="0.35" fill="#f99254" opacity="0.5"/>
<circle cx="66.38" cy="66.43" r="0.35" fill="#fa9656" opacity="0.5"/>
<circle cx="69.22" cy="64.26" r="0.35" fill="#fba35c" opacity="0.5"/>
<circle cx="67.57" cy="70.12" r="0.35" fill="#fb9c59" opacity="0.5"/>
<circle cx="73.37" cy="65.83" r="0.35" fill="#f8874f" opacity="0.5"/>
<circle cx="66.22" cy="66.94" r="0.35" fill="#fca45c" opacity="0.5"/>
<circle cx="55.42" cy="74.29" r="0.35" fill="#fed481" opacity="0.5"/>
<circle cx="71.53" cy="62.65" r="0.35" fill="#f46f44" opacity="0.5"/>
<circle cx="57.7" cy="75.58" r="0.35" fill="#fed783" opacity="0.5"/>
<circle cx="65.68" cy="67.74" r="0.35" fill="#fb9d59" opacity="0.5"/>
<circle cx="64.72" cy="66.2" r="0.35" fill="#f99254" opacity="0.5"/>
<ellipse cx="37.0" cy="79.2" rx="3.5" ry="7.3" fill="#69c0a4" transform="rotate(6 37 79.2)"/>
<ellipse cx="43.6" cy="77.0" rx="5.4" ry="3.3" fill="#8fd0ae" opacity="0.75" transform="rotate(-6 43.6 77)"/>
<ellipse cx="49.6" cy="76.2" rx="3.0" ry="2.2" fill="#3f9bb0" opacity="0.85" transform="rotate(-20 49.6 76.2)"/>
<ellipse cx="50.4" cy="75.8" rx="1.4" ry="1.1" fill="#3b79b3" opacity="0.8"/>
<circle cx="40.98" cy="83.12" r="0.45" fill="#69c0a4"/>
<circle cx="38.96" cy="82.09" r="0.45" fill="#69c0a4"/>
<circle cx="37.59" cy="80.15" r="0.45" fill="#69c0a4"/>
<circle cx="40.94" cy="78.12" r="0.45" fill="#69c0a4"/>
<circle cx="41.65" cy="76.65" r="0.45" fill="#69c0a4"/>
<circle cx="39.23" cy="77.76" r="0.45" fill="#69c0a4"/>
<circle cx="38.94" cy="77.06" r="0.45" fill="#69c0a4"/>
<circle cx="34.11" cy="84.65" r="0.45" fill="#69c0a4"/>
<circle cx="39.33" cy="77.63" r="0.45" fill="#69c0a4"/>
<circle cx="39.05" cy="84.21" r="0.45" fill="#69c0a4"/>
<circle cx="35.81" cy="79.53" r="0.45" fill="#69c0a4"/>
<circle cx="39.98" cy="82.24" r="0.45" fill="#69c0a4"/>
<circle cx="41.92" cy="81.4" r="0.45" fill="#69c0a4"/>
<circle cx="38.54" cy="78.82" r="0.45" fill="#69c0a4"/>
<circle cx="39.22" cy="78.19" r="0.45" fill="#69c0a4"/>
<circle cx="35.68" cy="76.86" r="0.45" fill="#69c0a4"/>
<circle cx="36.86" cy="77.4" r="0.45" fill="#69c0a4"/>
<circle cx="35.31" cy="82.7" r="0.45" fill="#69c0a4"/>
<circle cx="34.9" cy="82.8" r="0.45" fill="#69c0a4"/>
<circle cx="35.71" cy="81.5" r="0.45" fill="#69c0a4"/>
<circle cx="42.28" cy="80.86" r="0.45" fill="#69c0a4"/>
<circle cx="36.49" cy="80.21" r="0.45" fill="#69c0a4"/>
<circle cx="38.91" cy="72.63" r="0.45" fill="#69c0a4"/>
<circle cx="36.83" cy="80.69" r="0.45" fill="#69c0a4"/>
<circle cx="37.21" cy="80.34" r="0.45" fill="#69c0a4"/>
<circle cx="40.52" cy="83.26" r="0.45" fill="#69c0a4"/>
<circle cx="40.99" cy="82.5" r="0.45" fill="#69c0a4"/>
<circle cx="37.71" cy="79.92" r="0.45" fill="#69c0a4"/>
<circle cx="37.75" cy="78.67" r="0.45" fill="#69c0a4"/>
<circle cx="38.01" cy="72.67" r="0.45" fill="#69c0a4"/>
<circle cx="37.58" cy="79.9" r="0.45" fill="#69c0a4"/>
<circle cx="35.82" cy="79.9" r="0.45" fill="#69c0a4"/>
<circle cx="39.92" cy="79.3" r="0.45" fill="#69c0a4"/>
<circle cx="37.93" cy="72.24" r="0.45" fill="#69c0a4"/>
<circle cx="39.93" cy="78.71" r="0.45" fill="#69c0a4"/>
<circle cx="40.84" cy="81.58" r="0.45" fill="#69c0a4"/>
<circle cx="38.56" cy="77.5" r="0.45" fill="#69c0a4"/>
<circle cx="40.26" cy="77.94" r="0.45" fill="#69c0a4"/>
<circle cx="39.11" cy="77.83" r="0.45" fill="#69c0a4"/>
<circle cx="39.06" cy="83.21" r="0.45" fill="#69c0a4"/>
<circle cx="36.09" cy="79.86" r="0.45" fill="#69c0a4"/>
<circle cx="40.2" cy="80.62" r="0.45" fill="#69c0a4"/>
<circle cx="40.86" cy="86.5" r="0.45" fill="#69c0a4"/>
<circle cx="41.04" cy="83.46" r="0.45" fill="#69c0a4"/>
<circle cx="36.8" cy="76.97" r="0.45" fill="#69c0a4"/>
<circle cx="40.94" cy="76.13" r="0.45" fill="#69c0a4"/>
<circle cx="36.61" cy="76.9" r="0.45" fill="#69c0a4"/>
<circle cx="39.14" cy="76.82" r="0.45" fill="#69c0a4"/>
<circle cx="42.1" cy="79.67" r="0.45" fill="#69c0a4"/>
<circle cx="35.51" cy="85.56" r="0.45" fill="#69c0a4"/>
<ellipse cx="77.6" cy="76.6" rx="1.7" ry="3.9" fill="#69c0a4"/>
<circle cx="77.34" cy="68.87" r="0.4" fill="#eaf79f" opacity="0.6"/>
<circle cx="76.74" cy="64.02" r="0.4" fill="#fff4ad" opacity="0.6"/>
<circle cx="77.87" cy="69.67" r="0.4" fill="#cdeb9d" opacity="0.6"/>
<circle cx="77.08" cy="70.01" r="0.4" fill="#c9e99e" opacity="0.6"/>
<circle cx="77.02" cy="64.97" r="0.4" fill="#fff3aa" opacity="0.6"/>
<circle cx="75.62" cy="67.79" r="0.4" fill="#ebf7a0" opacity="0.6"/>
<circle cx="76.74" cy="66.05" r="0.4" fill="#fffcba" opacity="0.6"/>
<circle cx="77.08" cy="64.21" r="0.4" fill="#fff2a8" opacity="0.6"/>
<circle cx="76.33" cy="65.29" r="0.4" fill="#fff9b6" opacity="0.6"/>
<circle cx="76.68" cy="69.04" r="0.4" fill="#d7ef9b" opacity="0.6"/>
<circle cx="76.74" cy="69.67" r="0.4" fill="#d0ec9c" opacity="0.6"/>
<circle cx="77.36" cy="72.77" r="0.4" fill="#96d5a4" opacity="0.6"/>
<circle cx="75.8" cy="63.93" r="0.4" fill="#fff8b4" opacity="0.6"/>
<circle cx="76.82" cy="71.31" r="0.4" fill="#b4e1a2" opacity="0.6"/>
<circle cx="76.04" cy="63.49" r="0.4" fill="#fff1a7" opacity="0.6"/>
<circle cx="76.42" cy="66.64" r="0.4" fill="#f1f9aa" opacity="0.6"/>
<circle cx="77.3" cy="71.98" r="0.4" fill="#96d5a4" opacity="0.6"/>
<circle cx="78.02" cy="72.33" r="0.4" fill="#9cd7a4" opacity="0.6"/>
<circle cx="76.88" cy="67.86" r="0.4" fill="#edf8a3" opacity="0.6"/>
<circle cx="77.96" cy="71.07" r="0.4" fill="#b5e1a2" opacity="0.6"/>
<circle cx="77.6" cy="72.78" r="0.4" fill="#95d4a4" opacity="0.6"/>
<circle cx="76.19" cy="69.44" r="0.4" fill="#d3ed9c" opacity="0.6"/>
<circle cx="77.47" cy="71.78" r="0.4" fill="#afdea3" opacity="0.6"/>
<circle cx="77.97" cy="67.08" r="0.4" fill="#f5fbaf" opacity="0.6"/>
<circle cx="77.19" cy="70.98" r="0.4" fill="#b4e1a2" opacity="0.6"/>
<path d="M80.6 52.4 L82.4 54.6 L81.2 57.6 L79.4 55.6Z" fill="#3b5aa6"/>
<ellipse cx="80.2" cy="57.6" rx="1.1" ry="1.0" fill="#4aa6b0" opacity="0.8"/>
<circle cx="76.11" cy="60.75" r="0.48" fill="#c82f4c"/>
<circle cx="73.07" cy="62.83" r="0.48" fill="#d8434e"/>
<circle cx="74.18" cy="62.65" r="0.48" fill="#c1284a"/>
<circle cx="75.69" cy="62.94" r="0.48" fill="#be254a"/>
<circle cx="76.05" cy="62.66" r="0.48" fill="#c72e4c"/>
<circle cx="75" cy="60.55" r="0.48" fill="#af1346"/>
<circle cx="76.07" cy="60.84" r="0.48" fill="#c72e4c"/>
<circle cx="74.85" cy="63.92" r="0.48" fill="#b21747"/>
<circle cx="73.05" cy="63.23" r="0.48" fill="#d8434e"/>
<circle cx="74.07" cy="62.26" r="0.48" fill="#c42b4b"/>
<circle cx="75.93" cy="62.49" r="0.48" fill="#c42b4b"/>
<circle cx="75.17" cy="64.37" r="0.48" fill="#b21847"/>
<circle cx="76.87" cy="61.72" r="0.48" fill="#d7424e"/>
<circle cx="74.58" cy="63.18" r="0.48" fill="#b81e48"/>
<circle cx="76.42" cy="61.47" r="0.48" fill="#cf374e"/>
<circle cx="74.38" cy="60.74" r="0.48" fill="#bd2349"/>
<circle cx="76.34" cy="62.22" r="0.48" fill="#cd354d"/>
<circle cx="75.99" cy="60.83" r="0.48" fill="#c52d4b"/>
<circle cx="75.8" cy="61.4" r="0.48" fill="#c1284a"/>
<circle cx="74.75" cy="60.86" r="0.48" fill="#b41a47"/>
<circle cx="74.71" cy="63.17" r="0.48" fill="#b51b47"/>
<circle cx="74.65" cy="62.06" r="0.48" fill="#b61c48"/>
<circle cx="75.57" cy="62.04" r="0.48" fill="#bc2249"/>
<circle cx="75.56" cy="62.5" r="0.48" fill="#bb2249"/>
<circle cx="76" cy="61.92" r="0.48" fill="#c52d4b"/>
<circle cx="75.18" cy="62.63" r="0.48" fill="#b31847"/>
<circle cx="76.78" cy="62.88" r="0.48" fill="#d6404e"/>
<circle cx="73.76" cy="61.02" r="0.48" fill="#cb334d"/>
<circle cx="74.96" cy="61.96" r="0.48" fill="#af1446"/>
<circle cx="74.04" cy="61.79" r="0.48" fill="#c52c4b"/>
<circle cx="75.91" cy="60.38" r="0.48" fill="#c32b4b"/>
<circle cx="75.34" cy="62.12" r="0.48" fill="#b61c48"/>
<circle cx="75.54" cy="62.2" r="0.48" fill="#bb2149"/>
<circle cx="75.16" cy="62.96" r="0.48" fill="#b21747"/>
<circle cx="77.27" cy="62.9" r="0.48" fill="#dd4a4c"/>
<circle cx="75.65" cy="60.83" r="0.48" fill="#bd2449"/>
<circle cx="75.77" cy="60.89" r="0.48" fill="#c0274a"/>
<circle cx="74.87" cy="62.94" r="0.48" fill="#b11747"/>
<circle cx="76.65" cy="63.57" r="0.48" fill="#d43d4f"/>
<circle cx="75.29" cy="63.41" r="0.48" fill="#b51b47"/>
<circle cx="74.41" cy="62.86" r="0.33" fill="#e95c47"/>
<circle cx="73.95" cy="66.87" r="0.33" fill="#f26944"/>
<circle cx="68.66" cy="62.47" r="0.33" fill="#f99053"/>
<circle cx="78.29" cy="63.15" r="0.33" fill="#f57346"/>
<circle cx="75.43" cy="60.09" r="0.33" fill="#fb9f5a"/>
<circle cx="72.79" cy="62.15" r="0.33" fill="#fdb668"/>
<circle cx="80.06" cy="65.35" r="0.33" fill="#e2524a"/>
<circle cx="77.18" cy="62.62" r="0.33" fill="#fca85e"/>
<circle cx="75.3" cy="62.56" r="0.33" fill="#f67c4a"/>
<circle cx="69.21" cy="62.86" r="0.33" fill="#e35449"/>
<circle cx="72" cy="62.69" r="0.33" fill="#fdb264"/>
<circle cx="74.52" cy="64.47" r="0.33" fill="#fb9e59"/>
<circle cx="73.43" cy="62.61" r="0.33" fill="#f99355"/>
<circle cx="80" cy="64.96" r="0.33" fill="#fb9d59"/>
<circle cx="76.05" cy="58.84" r="0.33" fill="#f16844"/>
<circle cx="72.35" cy="64.2" r="0.33" fill="#fdb96a"/>
<circle cx="77.18" cy="62.89" r="0.33" fill="#e95d47"/>
<circle cx="78.12" cy="60.71" r="0.33" fill="#f26b44"/>
<circle cx="76.77" cy="61.26" r="0.33" fill="#f57748"/>
<circle cx="69.66" cy="61.69" r="0.33" fill="#fca65d"/>
<circle cx="73.18" cy="60.58" r="0.33" fill="#ee6445"/>
<circle cx="78.51" cy="66.98" r="0.33" fill="#fa9857"/>
<circle cx="74.9" cy="60.93" r="0.33" fill="#f57346"/>
<circle cx="75.63" cy="59.02" r="0.33" fill="#df4d4b"/>
<circle cx="75.16" cy="64.39" r="0.33" fill="#ec6146"/>
<circle cx="73.18" cy="57.53" r="0.33" fill="#e1504a"/>
<circle cx="76.37" cy="64.32" r="0.33" fill="#ee6445"/>
<circle cx="73.09" cy="62.37" r="0.33" fill="#ee6545"/>
<circle cx="74.8" cy="61.34" r="0.33" fill="#fdc272"/>
<circle cx="77.57" cy="64.21" r="0.33" fill="#fdc574"/>
<circle cx="76.47" cy="58.31" r="0.33" fill="#f57346"/>
<circle cx="76.54" cy="66.3" r="0.33" fill="#dd4b4c"/>
<circle cx="75.87" cy="65.23" r="0.33" fill="#d8424e"/>
<circle cx="70.37" cy="65.48" r="0.33" fill="#fb9d59"/>
<circle cx="70.4" cy="62.59" r="0.33" fill="#f57748"/>
<circle cx="77.78" cy="65.51" r="0.33" fill="#f46e43"/>
<circle cx="71.16" cy="64.13" r="0.33" fill="#fca65d"/>
<circle cx="72.94" cy="63.54" r="0.33" fill="#fba15b"/>
<circle cx="79.09" cy="59.35" r="0.33" fill="#fb9e5a"/>
<circle cx="77.94" cy="59.28" r="0.33" fill="#f99455"/>
<circle cx="72.3" cy="63.28" r="0.33" fill="#f99254"/>
<circle cx="77.77" cy="64.25" r="0.33" fill="#fdab60"/>
<circle cx="73.95" cy="58.83" r="0.33" fill="#e85b47"/>
<circle cx="71.82" cy="64" r="0.33" fill="#f99154"/>
<circle cx="70.9" cy="64.82" r="0.33" fill="#fdbe6f"/>
<circle cx="82.17" cy="68.65" r="0.3" fill="#f6fbb1"/>
<circle cx="71.78" cy="63.97" r="0.3" fill="#ecf8a2"/>
<circle cx="86.51" cy="60.38" r="0.3" fill="#fee491"/>
<circle cx="74.79" cy="57.56" r="0.3" fill="#fffdbc"/>
<circle cx="67.24" cy="54.76" r="0.3" fill="#fffab6"/>
<circle cx="69.57" cy="46.46" r="0.3" fill="#fffab7"/>
<circle cx="80.64" cy="69.77" r="0.3" fill="#fff2a9"/>
<circle cx="78.29" cy="53.93" r="0.3" fill="#ecf7a1"/>
<circle cx="76.53" cy="60.15" r="0.3" fill="#feeb9d"/>
<circle cx="77.07" cy="58.77" r="0.3" fill="#fff4ac"/>
<circle cx="68.49" cy="63.93" r="0.3" fill="#fff0a5"/>
<circle cx="77.53" cy="63.68" r="0.3" fill="#f8fcb4"/>
<circle cx="85.96" cy="54.39" r="0.3" fill="#fee797"/>
<circle cx="80.22" cy="50.43" r="0.3" fill="#fee797"/>
<circle cx="86.34" cy="68.06" r="0.3" fill="#f5fbaf"/>
<circle cx="72.76" cy="51.27" r="0.3" fill="#fffdbb"/>
<circle cx="71.97" cy="67.1" r="0.3" fill="#f4fbae"/>
<circle cx="81.18" cy="49.78" r="0.3" fill="#feec9f"/>
<circle cx="74.55" cy="56.76" r="0.3" fill="#f3faad"/>
<circle cx="69.65" cy="70.34" r="0.3" fill="#feea9c"/>
<circle cx="74.19" cy="62.29" r="0.3" fill="#fff4ad"/>
<circle cx="78.2" cy="58.54" r="0.3" fill="#f9fdb6"/>
<circle cx="76.98" cy="63.88" r="0.3" fill="#feeda0"/>
<circle cx="70.66" cy="59.08" r="0.3" fill="#fdfebc"/>
<circle cx="74.42" cy="51.61" r="0.3" fill="#eff8a5"/>
<circle cx="79.46" cy="55.83" r="0.3" fill="#f4faad"/>
<circle cx="88.17" cy="50.19" r="0.3" fill="#fee38f"/>
<circle cx="82.85" cy="48.12" r="0.3" fill="#fed784"/>
<circle cx="75.04" cy="52.96" r="0.3" fill="#fee08b"/>
<circle cx="81.19" cy="62.56" r="0.3" fill="#f6fbb1"/>
<circle cx="75.71" cy="61.79" r="0.3" fill="#f0f9a7"/>
<circle cx="79.1" cy="53.31" r="0.3" fill="#f0f9a8"/>
<circle cx="68.52" cy="49.22" r="0.3" fill="#fcfeba"/>
<circle cx="87.69" cy="49.29" r="0.3" fill="#f3faac"/>
<circle cx="81.49" cy="69.63" r="0.3" fill="#fffbb8"/>
<circle cx="77.62" cy="49.41" r="0.3" fill="#f1f9a9"/>
<circle cx="72.84" cy="55.87" r="0.3" fill="#fee899"/>
<circle cx="83.23" cy="65.16" r="0.3" fill="#fedc88"/>
<circle cx="74.17" cy="58.92" r="0.3" fill="#fff8b4"/>
<circle cx="69.28" cy="58.11" r="0.3" fill="#f2faaa"/>
<circle cx="91.41" cy="58.64" r="0.3" fill="#fff7b1"/>
<circle cx="68.43" cy="53.47" r="0.3" fill="#f3faac"/>
<circle cx="72.84" cy="63.89" r="0.3" fill="#edf8a3"/>
<circle cx="86.87" cy="63.2" r="0.3" fill="#fdfebc"/>
<circle cx="87.45" cy="59.96" r="0.3" fill="#fbfdb9"/>
<circle cx="83.7" cy="55.01" r="0.3" fill="#ecf7a1"/>
<circle cx="69.96" cy="57.39" r="0.3" fill="#f0f9a8"/>
<circle cx="88.89" cy="60.69" r="0.3" fill="#fefebd"/>
<circle cx="70.64" cy="71.51" r="0.3" fill="#fff1a7"/>
<circle cx="69.56" cy="59.56" r="0.3" fill="#f6fcb2"/>
<circle cx="79.83" cy="66.29" r="0.3" fill="#fff4ad"/>
<circle cx="65.64" cy="53.01" r="0.3" fill="#feec9f"/>
<circle cx="81.34" cy="50.82" r="0.3" fill="#fff9b5"/>
<circle cx="76.87" cy="67.42" r="0.3" fill="#ecf8a2"/>
<circle cx="71" cy="46.3" r="0.3" fill="#feeea3"/>
<circle cx="75.58" cy="64.16" r="0.3" fill="#fffebe"/>
<circle cx="69.88" cy="47.5" r="0.3" fill="#feda86"/>
<circle cx="75.86" cy="57.28" r="0.3" fill="#feeca0"/>
<circle cx="82.54" cy="58.2" r="0.3" fill="#eff9a6"/>
<circle cx="70.05" cy="50.6" r="0.3" fill="#f6fbb0"/>
<circle cx="86.12" cy="52.09" r="0.3" fill="#feffbe"/>
<circle cx="70.44" cy="49.17" r="0.3" fill="#ffffbf"/>
<circle cx="75.97" cy="52.98" r="0.3" fill="#fcfeba"/>
<circle cx="66.54" cy="61.55" r="0.3" fill="#fee08b"/>
<circle cx="78.8" cy="59.99" r="0.3" fill="#f6fcb1"/>
<circle cx="86.77" cy="52" r="0.3" fill="#fff1a7"/>
<circle cx="83.42" cy="45.38" r="0.3" fill="#fffdbb"/>
<circle cx="77.7" cy="64.78" r="0.3" fill="#fff4ac"/>
<circle cx="74.9" cy="65.72" r="0.3" fill="#fdfebc"/>
<circle cx="80.15" cy="56.92" r="0.3" fill="#fffdbc"/>
<circle cx="81.41" cy="58.99" r="0.3" fill="#f4fbaf"/>
<circle cx="76.89" cy="58.45" r="0.3" fill="#fff2a9"/>
<circle cx="85.89" cy="56.91" r="0.3" fill="#fff3ab"/>
<circle cx="86.07" cy="64.88" r="0.3" fill="#fee797"/>
<circle cx="78.72" cy="59.15" r="0.3" fill="#fed683"/>
<circle cx="76.56" cy="54.27" r="0.3" fill="#edf8a2"/>
<circle cx="78.91" cy="59.1" r="0.3" fill="#f9fdb6"/>
<circle cx="78.55" cy="71" r="0.3" fill="#fee594"/>
<circle cx="89.48" cy="62.28" r="0.3" fill="#f9fdb6"/>
<circle cx="84.97" cy="47.8" r="0.3" fill="#fede8a"/>
<circle cx="70.4" cy="48.91" r="0.3" fill="#fff6b1"/>
<circle cx="82.88" cy="55.47" r="0.3" fill="#edf8a3"/>
<circle cx="77.78" cy="56.81" r="0.3" fill="#fed784"/>
<circle cx="70.46" cy="46.03" r="0.3" fill="#fede89"/>
<circle cx="73.76" cy="70" r="0.3" fill="#fee492"/>
<circle cx="83.19" cy="50.92" r="0.3" fill="#fedc88"/>
<circle cx="71.83" cy="65.74" r="0.3" fill="#fff5ae"/>
<circle cx="76.26" cy="53.99" r="0.3" fill="#f5fbb0"/>
<circle cx="71.42" cy="66.72" r="0.3" fill="#fefebd"/>
<circle cx="71.99" cy="61.89" r="0.3" fill="#f6fbb0"/>
<circle cx="89.54" cy="53.24" r="0.3" fill="#fffdbc"/>
<circle cx="77.35" cy="60.73" r="0.3" fill="#ecf8a2"/>
<circle cx="74.2" cy="43.65" r="0.3" fill="#feeea3"/>
<circle cx="82.64" cy="48.54" r="0.3" fill="#feeda1"/>
<circle cx="70.4" cy="66.51" r="0.3" fill="#ffffbf"/>
<circle cx="88.09" cy="49.18" r="0.3" fill="#feeb9e"/>
<circle cx="83.47" cy="58.07" r="0.3" fill="#fff4ad"/>
<circle cx="66.98" cy="50.38" r="0.3" fill="#f1f9a9"/>
<circle cx="90.78" cy="61.98" r="0.3" fill="#f4fbae"/>
<circle cx="84.12" cy="50.28" r="0.3" fill="#feeb9d"/>
<circle cx="85.54" cy="46.32" r="0.3" fill="#fbfdb8"/>
<circle cx="83.54" cy="54.19" r="0.3" fill="#fedf8a"/>
<circle cx="66.2" cy="53.27" r="0.3" fill="#fee695"/>
<circle cx="78.96" cy="68.88" r="0.3" fill="#fbfdb9"/>
<circle cx="73.35" cy="59.18" r="0.3" fill="#feea9b"/>
<circle cx="78.09" cy="43.83" r="0.3" fill="#fff6b0"/>
<circle cx="88.81" cy="65.59" r="0.3" fill="#f6fcb2"/>
<circle cx="78.99" cy="68.47" r="0.3" fill="#f0f9a8"/>
<circle cx="84.38" cy="51.58" r="0.3" fill="#fff7b2"/>
<circle cx="74.16" cy="55.24" r="0.3" fill="#fee695"/>
<circle cx="82.59" cy="69.27" r="0.3" fill="#fff0a6"/>
<circle cx="71.47" cy="54.8" r="0.3" fill="#fffab6"/>
<circle cx="79.25" cy="59.95" r="0.3" fill="#ebf7a0"/>
<circle cx="75.67" cy="60.7" r="0.3" fill="#fdfebc"/>
<circle cx="78.95" cy="53.47" r="0.3" fill="#ffffbf"/>
<circle cx="73.24" cy="66.01" r="0.3" fill="#fed884"/>
<circle cx="83.38" cy="51.12" r="0.3" fill="#fffdbc"/>
<circle cx="77.11" cy="71.87" r="0.3" fill="#fff4ad"/>
<circle cx="89.28" cy="53.49" r="0.3" fill="#f4fbae"/>
<circle cx="83.22" cy="56.61" r="0.3" fill="#feda86"/>
<path d="M25.5 66.7 V95.2 H54" fill="none" stroke="#000" stroke-width="1"/>
<path d="M25.5 64.2 l-2 3.6 h4z" fill="#000"/>
<path d="M56.5 95.2 l-3.6 -2 v4z" fill="#000"/>
<text x="23.5" y="94" font-size="6.7" fill="#231f20" transform="rotate(-90 23.5 94)">FDL2</text>
<text x="29" y="103.6" font-size="6.6" fill="#231f20">FDL1</text>
<rect x="72" y="93" width="22" height="3.2" fill="url(#gSpec)"/>
<text x="73.6" y="101.2" font-size="3.6" text-anchor="middle" fill="#c0392b">0.0</text>
<text x="95.4" y="101.2" font-size="3.6" text-anchor="middle" fill="#5a6fb0">1.0</text>
<circle cx="171.53" cy="63.11" r="0.3" fill="#e45564"/>
<circle cx="179.69" cy="61.42" r="0.3" fill="#fec58a"/>
<circle cx="172.46" cy="56.34" r="0.3" fill="#fd9c6d"/>
<circle cx="166.77" cy="60.58" r="0.3" fill="#fed295"/>
<circle cx="169.53" cy="68.95" r="0.3" fill="#fda371"/>
<circle cx="181.46" cy="54.58" r="0.3" fill="#f77d63"/>
<circle cx="165.53" cy="59.6" r="0.3" fill="#fed396"/>
<circle cx="175.66" cy="57.69" r="0.3" fill="#df5067"/>
<circle cx="169.73" cy="65.91" r="0.3" fill="#feca8d"/>
<circle cx="182.58" cy="48.86" r="0.3" fill="#e05166"/>
<circle cx="172.85" cy="44.98" r="0.3" fill="#fda472"/>
<circle cx="172.7" cy="57.74" r="0.3" fill="#ea5a61"/>
<circle cx="167.01" cy="51.58" r="0.3" fill="#fd9b6c"/>
<circle cx="170.19" cy="53.99" r="0.3" fill="#f57261"/>
<circle cx="169.82" cy="62.37" r="0.3" fill="#fa8a66"/>
<circle cx="172.89" cy="63.47" r="0.3" fill="#ea5a61"/>
<circle cx="169.44" cy="56.78" r="0.3" fill="#fdae79"/>
<circle cx="170.73" cy="60.17" r="0.3" fill="#fece91"/>
<circle cx="175.56" cy="65.12" r="0.3" fill="#e55663"/>
<circle cx="183.86" cy="50.93" r="0.3" fill="#fda170"/>
<circle cx="163.03" cy="60.29" r="0.3" fill="#febe85"/>
<circle cx="158.86" cy="59.68" r="0.3" fill="#ea5a61"/>
<circle cx="170.48" cy="60.86" r="0.3" fill="#fdae79"/>
<circle cx="165.78" cy="56.44" r="0.3" fill="#fec58a"/>
<circle cx="169.15" cy="66.71" r="0.3" fill="#ec5b60"/>
<circle cx="167.98" cy="74.12" r="0.3" fill="#f57461"/>
<circle cx="174.59" cy="66.59" r="0.3" fill="#f57160"/>
<circle cx="173.23" cy="55.61" r="0.3" fill="#fed598"/>
<circle cx="167.29" cy="52.9" r="0.3" fill="#fa8a66"/>
<circle cx="168.61" cy="64.39" r="0.3" fill="#f05f5d"/>
<circle cx="175.41" cy="62.04" r="0.3" fill="#fec98c"/>
<circle cx="182.05" cy="62.84" r="0.3" fill="#f46d60"/>
<circle cx="171.43" cy="57.8" r="0.3" fill="#febc83"/>
<circle cx="167.62" cy="61.93" r="0.3" fill="#dc4d69"/>
<circle cx="174.83" cy="48.96" r="0.3" fill="#ef5e5e"/>
<circle cx="172.06" cy="68.84" r="0.3" fill="#ea5a61"/>
<circle cx="175.83" cy="71.2" r="0.3" fill="#fdad79"/>
<circle cx="171.07" cy="61.26" r="0.3" fill="#e45564"/>
<circle cx="162.74" cy="51.73" r="0.3" fill="#f36a5f"/>
<circle cx="173" cy="69.26" r="0.3" fill="#fdad78"/>
<circle cx="173.99" cy="47.59" r="0.3" fill="#f05f5d"/>
<circle cx="181.9" cy="63.54" r="0.3" fill="#f87f63"/>
<circle cx="169.52" cy="55.18" r="0.3" fill="#febc83"/>
<circle cx="162.16" cy="72.04" r="0.3" fill="#fec489"/>
<circle cx="168.59" cy="58.07" r="0.3" fill="#fecb8e"/>
<circle cx="169.48" cy="63.43" r="0.3" fill="#febf85"/>
<circle cx="166.79" cy="61.77" r="0.3" fill="#f77962"/>
<circle cx="169.36" cy="57.54" r="0.3" fill="#fc9067"/>
<circle cx="160.92" cy="61.42" r="0.3" fill="#e85862"/>
<circle cx="166.75" cy="42.73" r="0.3" fill="#fec489"/>
<circle cx="164.56" cy="70.09" r="0.3" fill="#f77b62"/>
<circle cx="170.02" cy="54.98" r="0.3" fill="#fec68a"/>
<circle cx="178.96" cy="55.17" r="0.3" fill="#fc8f67"/>
<circle cx="160.25" cy="55.99" r="0.3" fill="#de4f68"/>
<circle cx="175.57" cy="56.77" r="0.3" fill="#ee5e5e"/>
<circle cx="174.85" cy="61.88" r="0.3" fill="#febd84"/>
<circle cx="173.54" cy="58.72" r="0.3" fill="#fdab77"/>
<circle cx="170.51" cy="59.51" r="0.3" fill="#fd9d6d"/>
<circle cx="161.37" cy="53.22" r="0.3" fill="#fdac78"/>
<circle cx="169.5" cy="55.47" r="0.3" fill="#e85862"/>
<circle cx="160.58" cy="58.4" r="0.3" fill="#f36b5f"/>
<circle cx="175.88" cy="64.02" r="0.3" fill="#ea5961"/>
<circle cx="156.68" cy="48.79" r="0.3" fill="#eb5a61"/>
<circle cx="158.11" cy="51.78" r="0.3" fill="#ec5c60"/>
<circle cx="163.6" cy="63.71" r="0.3" fill="#fec186"/>
<circle cx="162.08" cy="56.63" r="0.3" fill="#fed093"/>
<circle cx="171.22" cy="50.38" r="0.3" fill="#f2655e"/>
<circle cx="165.64" cy="65.82" r="0.3" fill="#fed698"/>
<circle cx="176.17" cy="42.87" r="0.3" fill="#e15266"/>
<circle cx="175.55" cy="55.42" r="0.3" fill="#f88164"/>
<circle cx="164.88" cy="52.01" r="0.3" fill="#fc9267"/>
<circle cx="177.73" cy="61.82" r="0.3" fill="#fb8e66"/>
<circle cx="174.35" cy="58.61" r="0.3" fill="#fed497"/>
<circle cx="160.25" cy="46.51" r="0.3" fill="#fec78b"/>
<circle cx="171.58" cy="56.51" r="0.3" fill="#fda371"/>
<circle cx="168.81" cy="70.74" r="0.3" fill="#f36a5f"/>
<circle cx="165.6" cy="53.54" r="0.3" fill="#fc9167"/>
<circle cx="168.4" cy="65.06" r="0.3" fill="#fda472"/>
<circle cx="177.82" cy="65.84" r="0.3" fill="#fed295"/>
<circle cx="163.7" cy="57.42" r="0.3" fill="#fa8865"/>
<circle cx="165.57" cy="56.98" r="0.3" fill="#e85862"/>
<circle cx="174.52" cy="63.21" r="0.3" fill="#f87f63"/>
<circle cx="168.58" cy="64.17" r="0.3" fill="#e55564"/>
<circle cx="155.33" cy="53.33" r="0.3" fill="#fd9e6e"/>
<circle cx="159.51" cy="52.74" r="0.3" fill="#f05f5d"/>
<circle cx="167.81" cy="48.84" r="0.3" fill="#fd9568"/>
<circle cx="163.17" cy="51.78" r="0.3" fill="#f57060"/>
<circle cx="170.28" cy="64.01" r="0.3" fill="#fc8f67"/>
<circle cx="162.12" cy="65.56" r="0.3" fill="#dd4e68"/>
<circle cx="160.43" cy="71.52" r="0.3" fill="#f2655e"/>
<circle cx="161.28" cy="54.56" r="0.3" fill="#f46c5f"/>
<circle cx="176.68" cy="57.44" r="0.3" fill="#feb67f"/>
<circle cx="171.62" cy="60.65" r="0.3" fill="#fec58a"/>
<circle cx="167.34" cy="59.12" r="0.3" fill="#f77c63"/>
<circle cx="157.87" cy="63.11" r="0.3" fill="#e75763"/>
<circle cx="169.67" cy="53.09" r="0.3" fill="#f57461"/>
<circle cx="162.8" cy="68.2" r="0.3" fill="#fd9f6e"/>
<circle cx="178.72" cy="45.24" r="0.3" fill="#fc9067"/>
<circle cx="169.07" cy="44.02" r="0.3" fill="#feb57e"/>
<circle cx="156.14" cy="60.31" r="0.3" fill="#fdad78"/>
<circle cx="173.59" cy="55.74" r="0.3" fill="#fec58a"/>
<circle cx="183.62" cy="58.39" r="0.3" fill="#fd9b6b"/>
<circle cx="162.51" cy="54.14" r="0.3" fill="#feb880"/>
<circle cx="177.63" cy="49.67" r="0.3" fill="#f77b62"/>
<circle cx="161.54" cy="60.78" r="0.3" fill="#fdaf7a"/>
<circle cx="167.88" cy="66.16" r="0.3" fill="#fd9668"/>
<circle cx="164.72" cy="62.97" r="0.3" fill="#feb981"/>
<circle cx="175.51" cy="49.89" r="0.3" fill="#f98564"/>
<circle cx="172.74" cy="64.63" r="0.3" fill="#ea5a61"/>
<circle cx="160.6" cy="52.88" r="0.3" fill="#e55564"/>
<circle cx="176.21" cy="54.38" r="0.3" fill="#fec187"/>
<circle cx="172.39" cy="66.6" r="0.3" fill="#fecb8e"/>
<circle cx="172.49" cy="58.18" r="0.3" fill="#fd9769"/>
<circle cx="171.46" cy="47.54" r="0.3" fill="#fdd89b"/>
<circle cx="160.4" cy="56.88" r="0.3" fill="#fda976"/>
<circle cx="164.21" cy="63.12" r="0.3" fill="#fd9c6c"/>
<circle cx="165.65" cy="48.71" r="0.3" fill="#e65663"/>
<circle cx="164.29" cy="64.11" r="0.3" fill="#fd9769"/>
<circle cx="179.01" cy="55.83" r="0.3" fill="#f98464"/>
<circle cx="164.56" cy="66.7" r="0.3" fill="#febd84"/>
<circle cx="173.34" cy="64.53" r="0.3" fill="#fed598"/>
<circle cx="174.41" cy="48.95" r="0.3" fill="#e75763"/>
<circle cx="179.65" cy="50" r="0.3" fill="#febe84"/>
<circle cx="165.9" cy="60.36" r="0.3" fill="#f46d60"/>
<circle cx="160.54" cy="57.27" r="0.3" fill="#ef5e5e"/>
<circle cx="174.65" cy="68.92" r="0.3" fill="#fd9d6d"/>
<circle cx="168.46" cy="56.11" r="0.3" fill="#f88063"/>
<circle cx="171.6" cy="50.93" r="0.3" fill="#fdaa76"/>
<circle cx="176.81" cy="58.18" r="0.3" fill="#fec187"/>
<circle cx="159.82" cy="51.49" r="0.3" fill="#f05f5e"/>
<circle cx="159.85" cy="58.14" r="0.3" fill="#f3695f"/>
<circle cx="164.05" cy="49.66" r="0.3" fill="#fdd89b"/>
<circle cx="162.65" cy="54.05" r="0.3" fill="#e85862"/>
<circle cx="177.47" cy="69.96" r="0.3" fill="#e65763"/>
<circle cx="173.96" cy="61.06" r="0.3" fill="#fc9167"/>
<circle cx="174.89" cy="47.5" r="0.3" fill="#febc83"/>
<circle cx="171.17" cy="58.51" r="0.3" fill="#feb67f"/>
<circle cx="164.4" cy="70.09" r="0.3" fill="#f67762"/>
<circle cx="173.06" cy="63.85" r="0.3" fill="#e65663"/>
<circle cx="178.7" cy="51.62" r="0.3" fill="#f67661"/>
<circle cx="162.49" cy="60.6" r="0.3" fill="#e15266"/>
<circle cx="178.17" cy="50.87" r="0.3" fill="#fed295"/>
<circle cx="159.66" cy="62.38" r="0.3" fill="#f2665e"/>
<circle cx="174.25" cy="52.15" r="0.3" fill="#fec98d"/>
<circle cx="172.74" cy="51.38" r="0.3" fill="#fd9d6d"/>
<circle cx="179.07" cy="55.53" r="0.3" fill="#fed194"/>
<circle cx="170.35" cy="66.44" r="0.3" fill="#fdae79"/>
<circle cx="171.23" cy="65.19" r="0.3" fill="#fec68a"/>
<circle cx="155.87" cy="59.48" r="0.3" fill="#f2655e"/>
<circle cx="173.49" cy="65.1" r="0.3" fill="#ef5e5e"/>
<path d="M162.4 26.6 C162.4 24.8 164.2 24.6 165.2 25.8 C165.6 23.8 168.0 22.6 169.8 23.2 C171.4 23.8 171.6 26.6 171.2 29.0 C170.8 31.4 170.6 33.4 169.8 35.4 C169.2 37.0 168.8 39.0 168.8 41.0 C168.8 42.6 168.4 44.2 167.6 44.8 C166.6 44.4 166.4 42.6 166.4 40.8 C166.4 38.8 166.2 37.0 165.6 35.2 C165.0 33.4 164.6 31.8 164.2 30.4 C163.4 29.4 162.4 28.2 162.4 26.6Z" fill="#07050f"/>
<circle cx="168.38" cy="40.67" r="0.42" fill="#07050f"/>
<circle cx="166.85" cy="40.58" r="0.42" fill="#07050f"/>
<circle cx="166.24" cy="40.53" r="0.42" fill="#07050f"/>
<circle cx="167.04" cy="41.47" r="0.42" fill="#07050f"/>
<circle cx="169" cy="43.94" r="0.42" fill="#07050f"/>
<circle cx="166.87" cy="42.36" r="0.42" fill="#07050f"/>
<circle cx="167.75" cy="42.71" r="0.42" fill="#07050f"/>
<circle cx="167.43" cy="41.6" r="0.42" fill="#07050f"/>
<circle cx="166.84" cy="39.23" r="0.42" fill="#07050f"/>
<circle cx="168.45" cy="43.92" r="0.42" fill="#07050f"/>
<circle cx="168.19" cy="41.98" r="0.42" fill="#07050f"/>
<circle cx="167.72" cy="39.99" r="0.42" fill="#07050f"/>
<circle cx="165.26" cy="42.49" r="0.42" fill="#07050f"/>
<circle cx="167.64" cy="39.75" r="0.42" fill="#07050f"/>
<circle cx="166.24" cy="43.88" r="0.42" fill="#07050f"/>
<circle cx="166.54" cy="40.95" r="0.42" fill="#07050f"/>
<circle cx="166.79" cy="41.35" r="0.42" fill="#07050f"/>
<circle cx="167.15" cy="39.32" r="0.42" fill="#07050f"/>
<circle cx="168.69" cy="39.23" r="0.42" fill="#07050f"/>
<circle cx="166.79" cy="42.25" r="0.42" fill="#07050f"/>
<circle cx="166.75" cy="40.02" r="0.42" fill="#07050f"/>
<circle cx="167.83" cy="40.17" r="0.42" fill="#07050f"/>
<circle cx="165.9" cy="40.77" r="0.42" fill="#07050f"/>
<circle cx="167.14" cy="44.84" r="0.42" fill="#07050f"/>
<circle cx="166.08" cy="43.18" r="0.42" fill="#07050f"/>
<circle cx="166.46" cy="40.2" r="0.42" fill="#07050f"/>
<circle cx="167.01" cy="41.61" r="0.42" fill="#07050f"/>
<circle cx="168.44" cy="44.94" r="0.42" fill="#07050f"/>
<circle cx="166.64" cy="43.99" r="0.42" fill="#07050f"/>
<circle cx="168.59" cy="42.83" r="0.42" fill="#07050f"/>
<ellipse cx="174" cy="54.8" rx="1.9" ry="1.7" fill="#07050f"/>
<circle cx="172.86" cy="56.17" r="0.4" fill="#100a2a"/>
<circle cx="175.19" cy="55.45" r="0.4" fill="#0c0821"/>
<circle cx="175.67" cy="56.47" r="0.4" fill="#0f0a28"/>
<circle cx="174.51" cy="54.47" r="0.4" fill="#0f0927"/>
<circle cx="176.22" cy="55.36" r="0.4" fill="#2e0f59"/>
<circle cx="173.08" cy="56.08" r="0.4" fill="#2d0f59"/>
<circle cx="173.64" cy="54.07" r="0.4" fill="#400f71"/>
<circle cx="172.74" cy="56.47" r="0.4" fill="#0a061b"/>
<circle cx="173.76" cy="52.96" r="0.4" fill="#020109"/>
<circle cx="174.86" cy="55.19" r="0.4" fill="#0b071d"/>
<circle cx="173.52" cy="56.2" r="0.4" fill="#020109"/>
<circle cx="173.2" cy="56.72" r="0.4" fill="#0a061b"/>
<circle cx="175.04" cy="53.57" r="0.4" fill="#330f60"/>
<circle cx="173.95" cy="56.39" r="0.4" fill="#300f5c"/>
<circle cx="173.96" cy="55.05" r="0.4" fill="#3f0f6f"/>
<circle cx="174.2" cy="53.95" r="0.4" fill="#02010a"/>
<circle cx="175.25" cy="53.59" r="0.4" fill="#03020a"/>
<circle cx="174.03" cy="55.63" r="0.4" fill="#3a0f6a"/>
<circle cx="174" cy="54.45" r="0.4" fill="#310f5d"/>
<circle cx="172.05" cy="56.34" r="0.4" fill="#3e0f6e"/>
<path d="M168.6 57.2 l1.4 0.6 l0.4 3 l1.6 1.2 l-1.2 1.4 l-2 -1.4z" fill="#07050f"/>
<circle cx="169.49" cy="61.24" r="0.42" fill="#5e187c"/>
<circle cx="168.84" cy="58.31" r="0.42" fill="#4f1379"/>
<circle cx="168.61" cy="59.41" r="0.42" fill="#04020c"/>
<circle cx="169.16" cy="59.1" r="0.42" fill="#290f53"/>
<circle cx="170.21" cy="60.26" r="0.42" fill="#471077"/>
<circle cx="171.55" cy="61.23" r="0.42" fill="#4c1278"/>
<circle cx="169.49" cy="62.48" r="0.42" fill="#60197d"/>
<circle cx="168.54" cy="59.17" r="0.42" fill="#100a2a"/>
<circle cx="170.74" cy="61.11" r="0.42" fill="#1d0f43"/>
<circle cx="169.94" cy="61.83" r="0.42" fill="#090619"/>
<circle cx="169.08" cy="58.45" r="0.42" fill="#0f0a29"/>
<circle cx="169.68" cy="62.4" r="0.42" fill="#210f48"/>
<circle cx="170.71" cy="60.05" r="0.42" fill="#130c32"/>
<circle cx="170.14" cy="60.05" r="0.42" fill="#2f0f5b"/>
<circle cx="168.4" cy="62.99" r="0.42" fill="#2d0f58"/>
<circle cx="169.65" cy="59.69" r="0.42" fill="#3b0f6b"/>
<circle cx="168.42" cy="59.63" r="0.42" fill="#471077"/>
<circle cx="169.91" cy="59.95" r="0.42" fill="#130c31"/>
<circle cx="169.03" cy="61.38" r="0.42" fill="#04020d"/>
<circle cx="169.43" cy="61.58" r="0.42" fill="#3f0f70"/>
<circle cx="169" cy="60.84" r="0.42" fill="#150d36"/>
<circle cx="168.39" cy="60.88" r="0.42" fill="#0b071e"/>
<circle cx="169.77" cy="60.7" r="0.42" fill="#631a7d"/>
<circle cx="169.6" cy="59.97" r="0.42" fill="#410f72"/>
<circle cx="171.26" cy="60.36" r="0.42" fill="#070415"/>
<circle cx="168.22" cy="60.71" r="0.42" fill="#0c0821"/>
<circle cx="159.26" cy="68.71" r="0.4" fill="#f87f63" opacity="0.75"/>
<circle cx="155.3" cy="68.86" r="0.4" fill="#f67661" opacity="0.75"/>
<circle cx="155.94" cy="70.16" r="0.4" fill="#f67561" opacity="0.75"/>
<circle cx="167.08" cy="64.59" r="0.4" fill="#fda673" opacity="0.75"/>
<circle cx="152.12" cy="72.04" r="0.4" fill="#f2635e" opacity="0.75"/>
<circle cx="156.88" cy="68.69" r="0.4" fill="#f67662" opacity="0.75"/>
<circle cx="165.83" cy="63.83" r="0.4" fill="#fda372" opacity="0.75"/>
<circle cx="154.01" cy="71" r="0.4" fill="#f46c5f" opacity="0.75"/>
<circle cx="152.29" cy="72.02" r="0.4" fill="#f2645e" opacity="0.75"/>
<circle cx="157.33" cy="69.42" r="0.4" fill="#f87f63" opacity="0.75"/>
<circle cx="164.84" cy="65.66" r="0.4" fill="#fd9d6d" opacity="0.75"/>
<circle cx="156.77" cy="68.83" r="0.4" fill="#f67762" opacity="0.75"/>
<circle cx="151.45" cy="72.22" r="0.4" fill="#ef5e5e" opacity="0.75"/>
<circle cx="159.24" cy="68.55" r="0.4" fill="#f98464" opacity="0.75"/>
<circle cx="158.05" cy="69.41" r="0.4" fill="#f77c63" opacity="0.75"/>
<circle cx="164.49" cy="65.16" r="0.4" fill="#fda472" opacity="0.75"/>
<circle cx="167.73" cy="64.07" r="0.4" fill="#fdab77" opacity="0.75"/>
<circle cx="165.18" cy="64.95" r="0.4" fill="#fda170" opacity="0.75"/>
<circle cx="152.72" cy="71.05" r="0.4" fill="#f2635e" opacity="0.75"/>
<circle cx="160.34" cy="68.14" r="0.4" fill="#fb8b66" opacity="0.75"/>
<circle cx="158.31" cy="68.57" r="0.4" fill="#f98264" opacity="0.75"/>
<circle cx="159.76" cy="66.75" r="0.4" fill="#fa8a65" opacity="0.75"/>
<circle cx="151.13" cy="72.76" r="0.4" fill="#ef5e5e" opacity="0.75"/>
<circle cx="159.71" cy="67.43" r="0.4" fill="#fa8965" opacity="0.75"/>
<circle cx="165.47" cy="65.26" r="0.4" fill="#fda170" opacity="0.75"/>
<circle cx="160.87" cy="67.59" r="0.4" fill="#fa8765" opacity="0.75"/>
<circle cx="152.95" cy="71.8" r="0.4" fill="#f1605d" opacity="0.75"/>
<circle cx="156.67" cy="69.28" r="0.4" fill="#f67862" opacity="0.75"/>
<circle cx="155.15" cy="69.77" r="0.4" fill="#f57261" opacity="0.75"/>
<circle cx="158.12" cy="68.77" r="0.4" fill="#f77d63" opacity="0.75"/>
<circle cx="155.91" cy="70.17" r="0.4" fill="#f67561" opacity="0.75"/>
<circle cx="151.62" cy="72.26" r="0.4" fill="#f05f5e" opacity="0.75"/>
<circle cx="155.23" cy="70.13" r="0.4" fill="#f57261" opacity="0.75"/>
<circle cx="155.33" cy="70.34" r="0.4" fill="#f57461" opacity="0.75"/>
<circle cx="160.04" cy="67.21" r="0.4" fill="#fb8c66" opacity="0.75"/>
<circle cx="161.31" cy="67.33" r="0.4" fill="#fb8e66" opacity="0.75"/>
<circle cx="150.97" cy="72.18" r="0.4" fill="#ef5f5e" opacity="0.75"/>
<circle cx="151.75" cy="72.19" r="0.4" fill="#f1605d" opacity="0.75"/>
<circle cx="158.38" cy="69.1" r="0.4" fill="#f88164" opacity="0.75"/>
<circle cx="158.02" cy="69.41" r="0.4" fill="#f87e63" opacity="0.75"/>
<circle cx="166.08" cy="64.12" r="0.4" fill="#fda975" opacity="0.75"/>
<circle cx="167.23" cy="63.94" r="0.4" fill="#fdac77" opacity="0.75"/>
<circle cx="160.62" cy="67.09" r="0.4" fill="#fa8a65" opacity="0.75"/>
<circle cx="154.72" cy="70.19" r="0.4" fill="#f46f60" opacity="0.75"/>
<circle cx="149.15" cy="73.07" r="0.4" fill="#e95961" opacity="0.75"/>
<circle cx="152.16" cy="71.83" r="0.4" fill="#f2645e" opacity="0.75"/>
<circle cx="149" cy="72.65" r="0.4" fill="#eb5b60" opacity="0.75"/>
<circle cx="166.29" cy="64.25" r="0.4" fill="#fda674" opacity="0.75"/>
<circle cx="164.2" cy="65.53" r="0.4" fill="#fd9d6d" opacity="0.75"/>
<circle cx="157.21" cy="69.59" r="0.4" fill="#f77a62" opacity="0.75"/>
<circle cx="153.92" cy="70.83" r="0.4" fill="#f46f60" opacity="0.75"/>
<circle cx="157.02" cy="69" r="0.4" fill="#f67862" opacity="0.75"/>
<circle cx="150.86" cy="72.32" r="0.4" fill="#ee5d5f" opacity="0.75"/>
<circle cx="153.63" cy="71.47" r="0.4" fill="#f46c5f" opacity="0.75"/>
<circle cx="155.51" cy="69.85" r="0.4" fill="#f57261" opacity="0.75"/>
<circle cx="161.44" cy="65.67" r="0.4" fill="#fc9067" opacity="0.75"/>
<circle cx="155.22" cy="70.69" r="0.4" fill="#f46e60" opacity="0.75"/>
<circle cx="166.15" cy="63.76" r="0.4" fill="#fdaa76" opacity="0.75"/>
<circle cx="167.41" cy="63.84" r="0.4" fill="#fda975" opacity="0.75"/>
<circle cx="164.1" cy="66.16" r="0.4" fill="#fd9b6c" opacity="0.75"/>
<circle cx="152.02" cy="71.6" r="0.4" fill="#f2635e" opacity="0.75"/>
<circle cx="169.27" cy="63.79" r="0.4" fill="#feb17b" opacity="0.75"/>
<circle cx="164.9" cy="64.79" r="0.4" fill="#fda270" opacity="0.75"/>
<circle cx="155.05" cy="70.34" r="0.4" fill="#f57161" opacity="0.75"/>
<circle cx="150.75" cy="71.92" r="0.4" fill="#f05f5d" opacity="0.75"/>
<circle cx="152.92" cy="71.38" r="0.4" fill="#f2665e" opacity="0.75"/>
<circle cx="162.5" cy="67.04" r="0.4" fill="#fc9367" opacity="0.75"/>
<circle cx="151.58" cy="71.95" r="0.4" fill="#f1605d" opacity="0.75"/>
<circle cx="165.67" cy="64.21" r="0.4" fill="#fda271" opacity="0.75"/>
<circle cx="160.86" cy="67.13" r="0.4" fill="#fb8e66" opacity="0.75"/>
<circle cx="151.3" cy="72.42" r="0.4" fill="#f1625d" opacity="0.75"/>
<circle cx="157.18" cy="69.56" r="0.4" fill="#f77962" opacity="0.75"/>
<circle cx="165.2" cy="64.84" r="0.4" fill="#fd9f6e" opacity="0.75"/>
<circle cx="168.36" cy="63.87" r="0.4" fill="#fdaf7a" opacity="0.75"/>
<circle cx="159.21" cy="67.63" r="0.4" fill="#fa8765" opacity="0.75"/>
<circle cx="164.29" cy="66.77" r="0.32" fill="#f57060" opacity="0.6"/>
<circle cx="163.48" cy="64.54" r="0.32" fill="#e05167" opacity="0.6"/>
<circle cx="165.4" cy="63.25" r="0.32" fill="#f3675f" opacity="0.6"/>
<circle cx="158.82" cy="70.53" r="0.32" fill="#fb8d66" opacity="0.6"/>
<circle cx="150.33" cy="72.93" r="0.32" fill="#fc9167" opacity="0.6"/>
<circle cx="155.74" cy="68.79" r="0.32" fill="#fd9c6c" opacity="0.6"/>
<circle cx="155.35" cy="70.71" r="0.32" fill="#feb27c" opacity="0.6"/>
<circle cx="154.07" cy="71.05" r="0.32" fill="#f46c5f" opacity="0.6"/>
<circle cx="153.59" cy="68.8" r="0.32" fill="#fd9c6c" opacity="0.6"/>
<circle cx="160.25" cy="66.07" r="0.32" fill="#e15266" opacity="0.6"/>
<circle cx="159.87" cy="71.32" r="0.32" fill="#f98665" opacity="0.6"/>
<circle cx="161.71" cy="68.14" r="0.32" fill="#f57361" opacity="0.6"/>
<circle cx="169.93" cy="64.58" r="0.32" fill="#f88264" opacity="0.6"/>
<circle cx="158.7" cy="66.99" r="0.32" fill="#ec5b60" opacity="0.6"/>
<circle cx="167.18" cy="65.16" r="0.32" fill="#fda975" opacity="0.6"/>
<circle cx="159.49" cy="68.1" r="0.32" fill="#fec489" opacity="0.6"/>
<circle cx="158.32" cy="69.61" r="0.32" fill="#fd9468" opacity="0.6"/>
<circle cx="147.32" cy="75.7" r="0.32" fill="#f87e63" opacity="0.6"/>
<circle cx="153.52" cy="72.89" r="0.32" fill="#fec187" opacity="0.6"/>
<circle cx="163.46" cy="66.26" r="0.32" fill="#eb5b60" opacity="0.6"/>
<circle cx="163.28" cy="64.58" r="0.32" fill="#f77a62" opacity="0.6"/>
<circle cx="162.12" cy="62.92" r="0.32" fill="#fd9e6e" opacity="0.6"/>
<circle cx="164.6" cy="60.44" r="0.32" fill="#fd9769" opacity="0.6"/>
<circle cx="168.76" cy="60.4" r="0.32" fill="#f57161" opacity="0.6"/>
<circle cx="167.11" cy="66.49" r="0.32" fill="#febe84" opacity="0.6"/>
<circle cx="157.3" cy="69.08" r="0.32" fill="#f46f60" opacity="0.6"/>
<circle cx="152.92" cy="69.32" r="0.32" fill="#fda271" opacity="0.6"/>
<circle cx="163.99" cy="67.17" r="0.32" fill="#e05167" opacity="0.6"/>
<circle cx="155.41" cy="71.33" r="0.32" fill="#fd9769" opacity="0.6"/>
<circle cx="163.57" cy="65.74" r="0.32" fill="#fec589" opacity="0.6"/>
<circle cx="158.33" cy="68.82" r="0.32" fill="#fd996a" opacity="0.6"/>
<circle cx="154.14" cy="71.23" r="0.32" fill="#eb5a61" opacity="0.6"/>
<circle cx="166.23" cy="63.71" r="0.32" fill="#feb57e" opacity="0.6"/>
<circle cx="158.21" cy="66.82" r="0.32" fill="#fc9167" opacity="0.6"/>
<circle cx="154.56" cy="68.88" r="0.32" fill="#fdab77" opacity="0.6"/>
<path d="M186.2 61.8 C188.6 59.4 192.4 56.8 195.6 56.4 C197.2 58.6 197.6 62.4 197.2 66.0 C196.8 68.8 195.8 71.0 194.4 71.4 C191.6 69.4 188.4 65.2 186.2 61.8Z" fill="url(#gRightE)"/>
<circle cx="184.83" cy="65.65" r="0.42" fill="#752081"/>
<circle cx="185.31" cy="60.8" r="0.42" fill="#762081"/>
<circle cx="187.45" cy="62.19" r="0.42" fill="#430f75"/>
<circle cx="185.2" cy="62.7" r="0.42" fill="#57167b"/>
<circle cx="182.83" cy="59.64" r="0.42" fill="#4c1278"/>
<circle cx="186.62" cy="62.41" r="0.42" fill="#742081"/>
<circle cx="185.45" cy="62.75" r="0.42" fill="#350f62"/>
<circle cx="187.47" cy="63.37" r="0.42" fill="#60197d"/>
<circle cx="184.15" cy="63.35" r="0.42" fill="#390f68"/>
<circle cx="185.29" cy="62.91" r="0.42" fill="#762181"/>
<circle cx="181.8" cy="62.52" r="0.42" fill="#4a1177"/>
<circle cx="185.78" cy="60.39" r="0.42" fill="#481077"/>
<circle cx="185.88" cy="61.96" r="0.42" fill="#721f81"/>
<circle cx="187.97" cy="63.65" r="0.42" fill="#501379"/>
<circle cx="185.52" cy="61.97" r="0.42" fill="#60197d"/>
<circle cx="187.97" cy="61.55" r="0.42" fill="#3e0f6e"/>
<circle cx="184.98" cy="64.06" r="0.42" fill="#53147a"/>
<circle cx="185.18" cy="63.84" r="0.42" fill="#752081"/>
<circle cx="183.82" cy="61.18" r="0.42" fill="#8c2880"/>
<circle cx="185.61" cy="65.04" r="0.42" fill="#370f65"/>
<circle cx="184.59" cy="65.82" r="0.42" fill="#7b2281"/>
<circle cx="184.59" cy="64.26" r="0.42" fill="#58167b"/>
<circle cx="186.03" cy="61.75" r="0.42" fill="#6d1d80"/>
<circle cx="182.98" cy="61.24" r="0.42" fill="#62197d"/>
<circle cx="186.14" cy="61.58" r="0.42" fill="#812480"/>
<circle cx="182.5" cy="65.18" r="0.42" fill="#7f2480"/>
<circle cx="186.85" cy="66.14" r="0.42" fill="#8c2880"/>
<circle cx="184.85" cy="62.93" r="0.42" fill="#320f5f"/>
<circle cx="185.31" cy="62.46" r="0.42" fill="#842580"/>
<circle cx="187.14" cy="65.15" r="0.42" fill="#310f5d"/>
<circle cx="186.67" cy="65.14" r="0.42" fill="#300f5d"/>
<circle cx="185.58" cy="62.43" r="0.42" fill="#3f0f6f"/>
<circle cx="185.9" cy="59.55" r="0.42" fill="#2b0f56"/>
<circle cx="183.37" cy="62.46" r="0.42" fill="#53147a"/>
<circle cx="185.36" cy="62.75" r="0.42" fill="#8b2880"/>
<circle cx="186.89" cy="64.09" r="0.42" fill="#350f62"/>
<circle cx="183.73" cy="63.05" r="0.42" fill="#6d1d80"/>
<circle cx="187.2" cy="65.12" r="0.42" fill="#5a177b"/>
<circle cx="186.6" cy="63.71" r="0.42" fill="#59167b"/>
<circle cx="186.82" cy="61.59" r="0.42" fill="#3d0f6d"/>
<circle cx="184.79" cy="60.91" r="0.42" fill="#390f68"/>
<circle cx="184.92" cy="63.25" r="0.42" fill="#2c0f56"/>
<circle cx="182.7" cy="62.39" r="0.42" fill="#60197d"/>
<circle cx="184.79" cy="62.72" r="0.42" fill="#6d1d80"/>
<circle cx="183.39" cy="60.44" r="0.42" fill="#5f187c"/>
<circle cx="187.52" cy="60.24" r="0.42" fill="#4f1379"/>
<circle cx="184.02" cy="64.4" r="0.42" fill="#8a2880"/>
<circle cx="183.32" cy="63.79" r="0.42" fill="#511379"/>
<circle cx="188.08" cy="62.59" r="0.42" fill="#852680"/>
<circle cx="184.91" cy="65.25" r="0.42" fill="#4d1278"/>
<circle cx="185.09" cy="63.83" r="0.42" fill="#330f60"/>
<circle cx="187.17" cy="59.58" r="0.42" fill="#832580"/>
<circle cx="188.3" cy="63.44" r="0.42" fill="#481077"/>
<circle cx="183.28" cy="60.49" r="0.42" fill="#471077"/>
<circle cx="185.1" cy="62.48" r="0.42" fill="#731f81"/>
<circle cx="182.81" cy="60.1" r="0.35" fill="#ac347b"/>
<circle cx="182.83" cy="61.95" r="0.35" fill="#b13679"/>
<circle cx="180.9" cy="60.05" r="0.35" fill="#bb3a76"/>
<circle cx="178.6" cy="63.52" r="0.35" fill="#af357a"/>
<circle cx="180.03" cy="60.42" r="0.35" fill="#b13679"/>
<circle cx="179.29" cy="61.62" r="0.35" fill="#af357a"/>
<circle cx="177.06" cy="62.53" r="0.35" fill="#a3317d"/>
<circle cx="179.25" cy="62.21" r="0.35" fill="#762081"/>
<circle cx="183.75" cy="60.92" r="0.35" fill="#a3317d"/>
<circle cx="176.49" cy="61.37" r="0.35" fill="#812580"/>
<circle cx="183.18" cy="65.28" r="0.35" fill="#9b2e7f"/>
<circle cx="178.02" cy="59.1" r="0.35" fill="#d1446f"/>
<circle cx="181.5" cy="61.56" r="0.35" fill="#922b80"/>
<circle cx="183.28" cy="58.79" r="0.35" fill="#732081"/>
<circle cx="182.08" cy="63.25" r="0.35" fill="#711f81"/>
<circle cx="178.2" cy="64.83" r="0.35" fill="#a3317d"/>
<circle cx="179.97" cy="62.25" r="0.35" fill="#942b7f"/>
<circle cx="184.85" cy="61.94" r="0.35" fill="#9a2e7f"/>
<circle cx="176.57" cy="62.49" r="0.35" fill="#c13c75"/>
<circle cx="183.22" cy="64.44" r="0.35" fill="#902a80"/>
<circle cx="179.17" cy="61.81" r="0.35" fill="#912a80"/>
<circle cx="179.69" cy="63.65" r="0.35" fill="#661b7e"/>
<circle cx="181.99" cy="64.48" r="0.35" fill="#6b1d7f"/>
<circle cx="182.73" cy="64.87" r="0.35" fill="#852680"/>
<circle cx="180.17" cy="63.33" r="0.35" fill="#cb3f72"/>
<circle cx="183.99" cy="63.54" r="0.35" fill="#ce4171"/>
<circle cx="181.78" cy="64" r="0.35" fill="#c53d73"/>
<circle cx="179.22" cy="60.7" r="0.35" fill="#6a1c7f"/>
<circle cx="178.76" cy="62.68" r="0.35" fill="#bb3a76"/>
<circle cx="180.28" cy="63.97" r="0.35" fill="#b33779"/>
<path d="M128.0 78.6 C127.8 75.4 129.0 72.4 131.2 72.0 C133.2 71.8 134.6 73.4 135.0 75.6 C135.4 78.2 135.2 81.4 134.6 83.8 C134.0 86.0 132.2 87.0 130.6 85.8 C129.0 84.4 128.2 81.4 128.0 78.6Z" fill="#07050f"/>
<path d="M134.4 73.6 L147.0 72.8 C148.4 73.6 148.2 75.4 147.0 76.6 C144.4 78.6 138.6 80.4 134.6 81.6Z" fill="url(#gLeftE)"/>
<ellipse cx="143.6" cy="76.6" rx="2.8" ry="1.5" fill="#07050f" transform="rotate(-25 143.6 76.6)"/>
<circle cx="132.78" cy="75.54" r="0.42" fill="#07050f"/>
<circle cx="129.78" cy="82.47" r="0.42" fill="#07050f"/>
<circle cx="133.31" cy="77.81" r="0.42" fill="#07050f"/>
<circle cx="135.49" cy="77.87" r="0.42" fill="#07050f"/>
<circle cx="129.68" cy="83.26" r="0.42" fill="#07050f"/>
<circle cx="131.59" cy="80.35" r="0.42" fill="#07050f"/>
<circle cx="132.08" cy="75.1" r="0.42" fill="#07050f"/>
<circle cx="129.4" cy="78.24" r="0.42" fill="#07050f"/>
<circle cx="135.08" cy="75.09" r="0.42" fill="#07050f"/>
<circle cx="134.98" cy="79.86" r="0.42" fill="#07050f"/>
<circle cx="129.56" cy="80.04" r="0.42" fill="#07050f"/>
<circle cx="133.24" cy="75.5" r="0.42" fill="#07050f"/>
<circle cx="129.57" cy="80.72" r="0.42" fill="#07050f"/>
<circle cx="127.81" cy="78.45" r="0.42" fill="#07050f"/>
<circle cx="130.23" cy="73.24" r="0.42" fill="#07050f"/>
<circle cx="131.47" cy="79.67" r="0.42" fill="#07050f"/>
<circle cx="130.78" cy="74.4" r="0.42" fill="#07050f"/>
<circle cx="132.46" cy="72.19" r="0.42" fill="#07050f"/>
<circle cx="133.17" cy="80.91" r="0.42" fill="#07050f"/>
<circle cx="135.67" cy="82.44" r="0.42" fill="#07050f"/>
<circle cx="132.78" cy="80.03" r="0.42" fill="#07050f"/>
<circle cx="132.06" cy="73.84" r="0.42" fill="#07050f"/>
<circle cx="135.2" cy="81.05" r="0.42" fill="#07050f"/>
<circle cx="131.37" cy="74.54" r="0.42" fill="#07050f"/>
<circle cx="135.25" cy="81.07" r="0.42" fill="#07050f"/>
<circle cx="129.41" cy="81.61" r="0.42" fill="#07050f"/>
<circle cx="136.15" cy="78.91" r="0.42" fill="#07050f"/>
<circle cx="132.87" cy="77.38" r="0.42" fill="#07050f"/>
<circle cx="130.63" cy="83.17" r="0.42" fill="#07050f"/>
<circle cx="131.73" cy="82.08" r="0.42" fill="#07050f"/>
<circle cx="131.33" cy="81.83" r="0.42" fill="#07050f"/>
<circle cx="133.81" cy="75.05" r="0.42" fill="#07050f"/>
<circle cx="129.66" cy="78.71" r="0.42" fill="#07050f"/>
<circle cx="133.82" cy="80.08" r="0.42" fill="#07050f"/>
<circle cx="134.71" cy="73.65" r="0.42" fill="#07050f"/>
<circle cx="133.08" cy="76.58" r="0.42" fill="#07050f"/>
<circle cx="132.22" cy="80.25" r="0.42" fill="#07050f"/>
<circle cx="129.88" cy="78.11" r="0.42" fill="#07050f"/>
<circle cx="129.46" cy="80.03" r="0.42" fill="#07050f"/>
<circle cx="130.14" cy="77.08" r="0.42" fill="#07050f"/>
<path d="M171.6 72.4 C172.4 71.2 174.2 71.6 174.6 73.2 C175.0 75.4 174.8 78.0 174.0 79.8 C173.2 80.6 172.0 79.8 171.6 78.2 C171.2 76.2 171.0 74.0 171.6 72.4Z" fill="#07050f"/>
<circle cx="173.05" cy="71.24" r="0.4" fill="#5a177b"/>
<circle cx="172.44" cy="71.87" r="0.4" fill="#140d34"/>
<circle cx="171.6" cy="71.75" r="0.4" fill="#2f0f5b"/>
<circle cx="172.37" cy="72.86" r="0.4" fill="#4b1178"/>
<circle cx="172.31" cy="73.83" r="0.4" fill="#4c1278"/>
<circle cx="171.69" cy="71.28" r="0.4" fill="#5c177c"/>
<circle cx="174" cy="72.45" r="0.4" fill="#380f66"/>
<circle cx="175.08" cy="72.72" r="0.4" fill="#05030f"/>
<circle cx="172.18" cy="71.57" r="0.4" fill="#5b177b"/>
<circle cx="170.8" cy="71.19" r="0.4" fill="#270f51"/>
<circle cx="171.97" cy="70.4" r="0.4" fill="#130c31"/>
<circle cx="173.36" cy="74.22" r="0.4" fill="#09061a"/>
<circle cx="173.51" cy="71.6" r="0.4" fill="#070414"/>
<circle cx="174.54" cy="73.18" r="0.4" fill="#5e187c"/>
<circle cx="171.29" cy="72.9" r="0.4" fill="#110a2c"/>
<circle cx="174.32" cy="70.98" r="0.4" fill="#0a061c"/>
<circle cx="170.44" cy="64.26" r="0.38" fill="#d1446f"/>
<circle cx="171.09" cy="67.27" r="0.38" fill="#681c7f"/>
<circle cx="172.4" cy="69.76" r="0.38" fill="#691c7f"/>
<circle cx="172.81" cy="71.75" r="0.38" fill="#e85862"/>
<circle cx="171.85" cy="67.27" r="0.38" fill="#a9337c"/>
<circle cx="170.55" cy="65.7" r="0.38" fill="#852680"/>
<circle cx="170.9" cy="70.28" r="0.38" fill="#3e0f6e"/>
<circle cx="173.2" cy="71.73" r="0.38" fill="#eb5b60"/>
<circle cx="171.71" cy="71.42" r="0.38" fill="#6e1e80"/>
<circle cx="170.29" cy="70.04" r="0.38" fill="#3a0f69"/>
<circle cx="171.99" cy="67.17" r="0.38" fill="#942c7f"/>
<circle cx="170.93" cy="65.14" r="0.38" fill="#da4c6a"/>
<circle cx="172.32" cy="72.34" r="0.38" fill="#2e0f59"/>
<circle cx="172.23" cy="68.66" r="0.38" fill="#e35365"/>
<circle cx="172.31" cy="69.45" r="0.38" fill="#822580"/>
<circle cx="170.87" cy="65.54" r="0.38" fill="#c83e72"/>
<circle cx="167.72" cy="44.54" r="0.35" fill="#2e0f5a"/>
<circle cx="170.61" cy="45.07" r="0.35" fill="#4a1177"/>
<circle cx="165.71" cy="43.06" r="0.35" fill="#020109"/>
<circle cx="166.87" cy="43.94" r="0.35" fill="#390f68"/>
<circle cx="170.22" cy="45.45" r="0.35" fill="#170e3a"/>
<circle cx="165.4" cy="45.57" r="0.35" fill="#0b071d"/>
<circle cx="165.64" cy="46.51" r="0.35" fill="#54157a"/>
<circle cx="166.59" cy="44.11" r="0.35" fill="#060412"/>
<circle cx="168.9" cy="43.48" r="0.35" fill="#270f50"/>
<circle cx="166.78" cy="43.83" r="0.35" fill="#240f4c"/>
<circle cx="169.59" cy="45.59" r="0.35" fill="#280f52"/>
<circle cx="166.89" cy="44.74" r="0.35" fill="#1c0f42"/>
<circle cx="168.38" cy="44.75" r="0.35" fill="#100a29"/>
<circle cx="170.04" cy="42.72" r="0.35" fill="#57157a"/>
<circle cx="163.59" cy="44.19" r="0.35" fill="#300f5c"/>
<circle cx="167.32" cy="43" r="0.35" fill="#450f76"/>
<circle cx="169.11" cy="44.97" r="0.35" fill="#020109"/>
<circle cx="165.63" cy="45.13" r="0.35" fill="#130c31"/>
<circle cx="168.81" cy="43.6" r="0.35" fill="#310f5d"/>
<circle cx="168.34" cy="46.01" r="0.35" fill="#491177"/>
<circle cx="167.78" cy="43.48" r="0.35" fill="#100a2a"/>
<circle cx="171.35" cy="44.53" r="0.35" fill="#3e0f6e"/>
<circle cx="168.9" cy="42.74" r="0.35" fill="#4d1278"/>
<circle cx="165.82" cy="44.81" r="0.35" fill="#060412"/>
<path d="M119.2 66.7 V95.2 H147.7" fill="none" stroke="#000" stroke-width="1"/>
<path d="M119.2 64.2 l-2 3.6 h4z" fill="#000"/>
<path d="M150.2 95.2 l-3.6 -2 v4z" fill="#000"/>
<text x="117.3" y="94" font-size="6.7" fill="#231f20" transform="rotate(-90 117.3 94)">FDL2</text>
<text x="122.4" y="103.6" font-size="6.6" fill="#231f20">FDL1</text>
<rect x="161.6" y="93.2" width="22.4" height="3.1" fill="url(#gMag)"/>
<text x="173.2" y="101" font-size="3.6" text-anchor="middle" fill="#5b3a7a" letter-spacing="0.1">0.5 1.0 1.5</text>
</g>
<g id="panelB">
<text x="223.2" y="11.2" font-size="12.9" font-weight="bold" fill="#000">B</text>
<rect x="259.5" y="21.2" width="112.5" height="82.1" fill="none" stroke="#1a1a1a" stroke-width="0.9"/>
<line x1="257.3" y1="99.5" x2="259.5" y2="99.5" stroke="#1a1a1a" stroke-width="0.7"/>
<text x="256.5" y="101.7" font-size="6.1" text-anchor="end" fill="#000" class="dv" stroke="#000" stroke-width="0.18">0.0</text>
<line x1="257.3" y1="84.48" x2="259.5" y2="84.48" stroke="#1a1a1a" stroke-width="0.7"/>
<text x="256.5" y="86.68" font-size="6.1" text-anchor="end" fill="#000" class="dv" stroke="#000" stroke-width="0.18">0.2</text>
<line x1="257.3" y1="69.46" x2="259.5" y2="69.46" stroke="#1a1a1a" stroke-width="0.7"/>
<text x="256.5" y="71.66" font-size="6.1" text-anchor="end" fill="#000" class="dv" stroke="#000" stroke-width="0.18">0.4</text>
<line x1="257.3" y1="54.44" x2="259.5" y2="54.44" stroke="#1a1a1a" stroke-width="0.7"/>
<text x="256.5" y="56.64" font-size="6.1" text-anchor="end" fill="#000" class="dv" stroke="#000" stroke-width="0.18">0.6</text>
<line x1="257.3" y1="39.42" x2="259.5" y2="39.42" stroke="#1a1a1a" stroke-width="0.7"/>
<text x="256.5" y="41.62" font-size="6.1" text-anchor="end" fill="#000" class="dv" stroke="#000" stroke-width="0.18">0.8</text>
<line x1="257.3" y1="24.4" x2="259.5" y2="24.4" stroke="#1a1a1a" stroke-width="0.7"/>
<text x="256.5" y="26.6" font-size="6.1" text-anchor="end" fill="#000" class="dv" stroke="#000" stroke-width="0.18">1.0</text>
<line x1="268.88" y1="103.3" x2="268.88" y2="105.5" stroke="#1a1a1a" stroke-width="0.7"/>
<text x="268.88" y="113.2" font-size="6.4" text-anchor="middle" fill="#1f1f1f">RG</text>
<line x1="287.62" y1="103.3" x2="287.62" y2="105.5" stroke="#1a1a1a" stroke-width="0.7"/>
<text x="287.62" y="113.2" font-size="6.4" text-anchor="middle" fill="#1f1f1f">NPC</text>
<line x1="306.38" y1="103.3" x2="306.38" y2="105.5" stroke="#1a1a1a" stroke-width="0.7"/>
<text x="306.38" y="113.2" font-size="6.4" text-anchor="middle" fill="#1f1f1f">AC</text>
<line x1="325.12" y1="103.3" x2="325.12" y2="105.5" stroke="#1a1a1a" stroke-width="0.7"/>
<text x="325.12" y="113.2" font-size="6.4" text-anchor="middle" fill="#1f1f1f">OPC</text>
<line x1="343.88" y1="103.3" x2="343.88" y2="105.5" stroke="#1a1a1a" stroke-width="0.7"/>
<text x="343.88" y="113.2" font-size="6.4" text-anchor="middle" fill="#1f1f1f">MES</text>
<line x1="362.62" y1="103.3" x2="362.62" y2="105.5" stroke="#1a1a1a" stroke-width="0.7"/>
<text x="362.62" y="113.2" font-size="6.4" text-anchor="middle" fill="#1f1f1f">Hybrid</text>
<line x1="268.88" y1="93.12" x2="268.88" y2="87.03" stroke="#3c3c42" stroke-width="1.45"/>
<line x1="268.88" y1="98" x2="268.88" y2="99.5" stroke="#3c3c42" stroke-width="1.45"/>
<line x1="264.52" y1="87.03" x2="273.23" y2="87.03" stroke="#3c3c42" stroke-width="1.45"/>
<line x1="264.52" y1="99.5" x2="273.23" y2="99.5" stroke="#3c3c42" stroke-width="1.45"/>
<rect x="260.81" y="93.12" width="16.12" height="4.88" fill="#b9b9b9" stroke="#3c3c42" stroke-width="1.45"/>
<line x1="260.81" y1="95.75" x2="276.94" y2="95.75" stroke="#3c3c42" stroke-width="1.45"/>
<line x1="287.62" y1="49.33" x2="287.62" y2="34.46" stroke="#3c3c42" stroke-width="1.45"/>
<line x1="287.62" y1="61.5" x2="287.62" y2="77.2" stroke="#3c3c42" stroke-width="1.45"/>
<line x1="283.27" y1="34.46" x2="291.98" y2="34.46" stroke="#3c3c42" stroke-width="1.45"/>
<line x1="283.27" y1="77.2" x2="291.98" y2="77.2" stroke="#3c3c42" stroke-width="1.45"/>
<rect x="279.56" y="49.33" width="16.12" height="12.17" fill="#27aae1" stroke="#3c3c42" stroke-width="1.45"/>
<line x1="279.56" y1="55.49" x2="295.69" y2="55.49" stroke="#3c3c42" stroke-width="1.45"/>
<line x1="306.38" y1="59.4" x2="306.38" y2="58.5" stroke="#3c3c42" stroke-width="1.45"/>
<line x1="306.38" y1="63.3" x2="306.38" y2="63.83" stroke="#3c3c42" stroke-width="1.45"/>
<line x1="302.02" y1="58.5" x2="310.73" y2="58.5" stroke="#3c3c42" stroke-width="1.45"/>
<line x1="302.02" y1="63.83" x2="310.73" y2="63.83" stroke="#3c3c42" stroke-width="1.45"/>
<rect x="298.31" y="59.4" width="16.12" height="3.91" fill="#4c4a56" stroke="#3c3c42" stroke-width="1.45"/>
<line x1="298.31" y1="61.35" x2="314.44" y2="61.35" stroke="#3c3c42" stroke-width="1.45"/>
<line x1="325.12" y1="38.97" x2="325.12" y2="37.17" stroke="#3c3c42" stroke-width="1.45"/>
<line x1="325.12" y1="61.5" x2="325.12" y2="91.69" stroke="#3c3c42" stroke-width="1.45"/>
<line x1="320.77" y1="37.17" x2="329.48" y2="37.17" stroke="#3c3c42" stroke-width="1.45"/>
<line x1="320.77" y1="91.69" x2="329.48" y2="91.69" stroke="#3c3c42" stroke-width="1.45"/>
<rect x="317.06" y="38.97" width="16.12" height="22.53" fill="#222a78" stroke="#3c3c42" stroke-width="1.45"/>
<line x1="317.06" y1="41.3" x2="333.19" y2="41.3" stroke="#3c3c42" stroke-width="1.45"/>
<line x1="343.88" y1="42.5" x2="343.88" y2="36.79" stroke="#3c3c42" stroke-width="1.45"/>
<line x1="343.88" y1="48.43" x2="343.88" y2="57.07" stroke="#3c3c42" stroke-width="1.45"/>
<line x1="339.52" y1="36.79" x2="348.23" y2="36.79" stroke="#3c3c42" stroke-width="1.45"/>
<line x1="339.52" y1="57.07" x2="348.23" y2="57.07" stroke="#3c3c42" stroke-width="1.45"/>
<rect x="335.81" y="42.5" width="16.12" height="5.93" fill="#e9c72b" stroke="#3c3c42" stroke-width="1.45"/>
<line x1="335.81" y1="45.5" x2="351.94" y2="45.5" stroke="#3c3c42" stroke-width="1.45"/>
<line x1="362.62" y1="41.6" x2="362.62" y2="40.4" stroke="#3c3c42" stroke-width="1.45"/>
<line x1="362.62" y1="44.68" x2="362.62" y2="46.1" stroke="#3c3c42" stroke-width="1.45"/>
<line x1="358.27" y1="40.4" x2="366.98" y2="40.4" stroke="#3c3c42" stroke-width="1.45"/>
<line x1="358.27" y1="46.1" x2="366.98" y2="46.1" stroke="#3c3c42" stroke-width="1.45"/>
<rect x="354.56" y="41.6" width="16.12" height="3.08" fill="#9a9a9a" stroke="#3c3c42" stroke-width="1.45"/>
<line x1="354.56" y1="43.18" x2="370.69" y2="43.18" stroke="#3c3c42" stroke-width="1.45"/>
<text x="242.6" y="62.25" font-size="8" text-anchor="middle" fill="#2a2a2a" transform="rotate(-90 242.6 62.25)">Pseudotime</text>
<rect x="399.5" y="21.2" width="112.8" height="82.1" fill="none" stroke="#1a1a1a" stroke-width="0.9"/>
<line x1="397.3" y1="99.5" x2="399.5" y2="99.5" stroke="#1a1a1a" stroke-width="0.7"/>
<text x="396.5" y="101.7" font-size="6.1" text-anchor="end" fill="#000" class="dv" stroke="#000" stroke-width="0.18">0.0</text>
<line x1="397.3" y1="77" x2="399.5" y2="77" stroke="#1a1a1a" stroke-width="0.7"/>
<text x="396.5" y="79.2" font-size="6.1" text-anchor="end" fill="#000" class="dv" stroke="#000" stroke-width="0.18">0.5</text>
<line x1="397.3" y1="54.5" x2="399.5" y2="54.5" stroke="#1a1a1a" stroke-width="0.7"/>
<text x="396.5" y="56.7" font-size="6.1" text-anchor="end" fill="#000" class="dv" stroke="#000" stroke-width="0.18">1.0</text>
<line x1="397.3" y1="32" x2="399.5" y2="32" stroke="#1a1a1a" stroke-width="0.7"/>
<text x="396.5" y="34.2" font-size="6.1" text-anchor="end" fill="#000" class="dv" stroke="#000" stroke-width="0.18">1.5</text>
<line x1="408.9" y1="103.3" x2="408.9" y2="105.5" stroke="#1a1a1a" stroke-width="0.7"/>
<text x="408.9" y="113.2" font-size="6.4" text-anchor="middle" fill="#1f1f1f">RG</text>
<line x1="427.7" y1="103.3" x2="427.7" y2="105.5" stroke="#1a1a1a" stroke-width="0.7"/>
<text x="427.7" y="113.2" font-size="6.4" text-anchor="middle" fill="#1f1f1f">NPC</text>
<line x1="446.5" y1="103.3" x2="446.5" y2="105.5" stroke="#1a1a1a" stroke-width="0.7"/>
<text x="446.5" y="113.2" font-size="6.4" text-anchor="middle" fill="#1f1f1f">AC</text>
<line x1="465.3" y1="103.3" x2="465.3" y2="105.5" stroke="#1a1a1a" stroke-width="0.7"/>
<text x="465.3" y="113.2" font-size="6.4" text-anchor="middle" fill="#1f1f1f">OPC</text>
<line x1="484.1" y1="103.3" x2="484.1" y2="105.5" stroke="#1a1a1a" stroke-width="0.7"/>
<text x="484.1" y="113.2" font-size="6.4" text-anchor="middle" fill="#1f1f1f">MES</text>
<line x1="502.9" y1="103.3" x2="502.9" y2="105.5" stroke="#1a1a1a" stroke-width="0.7"/>
<text x="502.9" y="113.2" font-size="6.4" text-anchor="middle" fill="#1f1f1f">Hybrid</text>
<line x1="408.9" y1="46.4" x2="408.9" y2="29.62" stroke="#3c3c42" stroke-width="1.45"/>
<line x1="408.9" y1="74.97" x2="408.9" y2="99.23" stroke="#3c3c42" stroke-width="1.45"/>
<line x1="404.53" y1="29.62" x2="413.27" y2="29.62" stroke="#3c3c42" stroke-width="1.45"/>
<line x1="404.53" y1="99.23" x2="413.27" y2="99.23" stroke="#3c3c42" stroke-width="1.45"/>
<rect x="400.82" y="46.4" width="16.17" height="28.57" fill="#d9c2da" stroke="#3c3c42" stroke-width="1.45"/>
<line x1="400.82" y1="57.11" x2="416.98" y2="57.11" stroke="#3c3c42" stroke-width="1.45"/>
<line x1="427.7" y1="79.79" x2="427.7" y2="56.21" stroke="#3c3c42" stroke-width="1.45"/>
<line x1="427.7" y1="100.31" x2="427.7" y2="100.31" stroke="#3c3c42" stroke-width="1.45"/>
<line x1="423.33" y1="56.21" x2="432.07" y2="56.21" stroke="#3c3c42" stroke-width="1.45"/>
<line x1="423.33" y1="100.31" x2="432.07" y2="100.31" stroke="#3c3c42" stroke-width="1.45"/>
<rect x="419.62" y="79.79" width="16.17" height="20.52" fill="#27aae1" stroke="#3c3c42" stroke-width="1.45"/>
<line x1="419.62" y1="97.61" x2="435.78" y2="97.61" stroke="#3c3c42" stroke-width="1.45"/>
<line x1="446.5" y1="96.71" x2="446.5" y2="96.12" stroke="#3c3c42" stroke-width="1.45"/>
<line x1="446.5" y1="98.96" x2="446.5" y2="99.5" stroke="#3c3c42" stroke-width="1.45"/>
<line x1="442.13" y1="96.12" x2="450.87" y2="96.12" stroke="#3c3c42" stroke-width="1.45"/>
<line x1="442.13" y1="99.5" x2="450.87" y2="99.5" stroke="#3c3c42" stroke-width="1.45"/>
<rect x="438.42" y="96.71" width="16.17" height="2.25" fill="#4c4a56" stroke="#3c3c42" stroke-width="1.45"/>
<line x1="438.42" y1="97.92" x2="454.58" y2="97.92" stroke="#3c3c42" stroke-width="1.45"/>
<line x1="465.3" y1="96.98" x2="465.3" y2="95.31" stroke="#3c3c42" stroke-width="1.45"/>
<line x1="465.3" y1="100.31" x2="465.3" y2="100.31" stroke="#3c3c42" stroke-width="1.45"/>
<line x1="460.93" y1="95.31" x2="469.67" y2="95.31" stroke="#3c3c42" stroke-width="1.45"/>
<line x1="460.93" y1="100.31" x2="469.67" y2="100.31" stroke="#3c3c42" stroke-width="1.45"/>
<rect x="457.22" y="96.98" width="16.17" height="3.33" fill="#77776b" stroke="#3c3c42" stroke-width="1.45"/>
<line x1="457.22" y1="98.6" x2="473.38" y2="98.6" stroke="#3c3c42" stroke-width="1.45"/>
<line x1="484.1" y1="96.31" x2="484.1" y2="92.61" stroke="#3c3c42" stroke-width="1.45"/>
<line x1="484.1" y1="100.31" x2="484.1" y2="100.31" stroke="#3c3c42" stroke-width="1.45"/>
<line x1="479.73" y1="92.61" x2="488.47" y2="92.61" stroke="#3c3c42" stroke-width="1.45"/>
<line x1="479.73" y1="100.31" x2="488.47" y2="100.31" stroke="#3c3c42" stroke-width="1.45"/>
<rect x="476.02" y="96.31" width="16.17" height="4" fill="#8a8a6a" stroke="#3c3c42" stroke-width="1.45"/>
<line x1="476.02" y1="98.15" x2="492.18" y2="98.15" stroke="#3c3c42" stroke-width="1.45"/>
<line x1="502.9" y1="96.31" x2="502.9" y2="91.89" stroke="#3c3c42" stroke-width="1.45"/>
<line x1="502.9" y1="100.31" x2="502.9" y2="100.31" stroke="#3c3c42" stroke-width="1.45"/>
<line x1="498.53" y1="91.89" x2="507.27" y2="91.89" stroke="#3c3c42" stroke-width="1.45"/>
<line x1="498.53" y1="100.31" x2="507.27" y2="100.31" stroke="#3c3c42" stroke-width="1.45"/>
<rect x="494.82" y="96.31" width="16.17" height="4" fill="#9a9a9a" stroke="#3c3c42" stroke-width="1.45"/>
<line x1="494.82" y1="98.15" x2="510.98" y2="98.15" stroke="#3c3c42" stroke-width="1.45"/>
<text x="382" y="62.25" font-size="8" text-anchor="middle" fill="#2a2a2a" transform="rotate(-90 382 62.25)">Entropy</text>
<text x="427.8" y="54.2" font-size="5.2" text-anchor="middle" fill="#333">***</text>
</g>
<g id="panelC">
<text x="0" y="129.9" font-size="12.9" font-weight="bold" fill="#000">C</text>
<text x="65.4" y="137.4" font-size="6.6" text-anchor="middle" fill="#231f20">Motif accessibility</text>
<text x="161.3" y="137.2" font-size="6.6" text-anchor="middle" fill="#231f20">Gene expression</text>
<g shape-rendering="crispEdges">
<rect x="18.1" y="140.2" width="92.5" height="1.85" fill="url(#m0)"/>
<rect x="18.1" y="141.7" width="92.5" height="1.85" fill="url(#m1)"/>
<rect x="18.1" y="143.19" width="92.5" height="1.85" fill="url(#m2)"/>
<rect x="18.1" y="144.69" width="92.5" height="1.85" fill="url(#m3)"/>
<rect x="18.1" y="146.19" width="92.5" height="1.85" fill="url(#m4)"/>
<rect x="18.1" y="147.69" width="92.5" height="1.85" fill="url(#m5)"/>
<rect x="18.1" y="149.18" width="92.5" height="1.85" fill="url(#m6)"/>
<rect x="18.1" y="150.68" width="92.5" height="1.85" fill="url(#m7)"/>
<rect x="18.1" y="152.18" width="92.5" height="1.85" fill="url(#m8)"/>
<rect x="18.1" y="153.67" width="92.5" height="1.85" fill="url(#m9)"/>
<rect x="18.1" y="155.17" width="92.5" height="1.85" fill="url(#m10)"/>
<rect x="18.1" y="156.67" width="92.5" height="1.85" fill="url(#m11)"/>
<rect x="18.1" y="158.17" width="92.5" height="1.85" fill="url(#m12)"/>
<rect x="18.1" y="159.66" width="92.5" height="1.85" fill="url(#m13)"/>
<rect x="18.1" y="161.16" width="92.5" height="1.85" fill="url(#m14)"/>
<rect x="18.1" y="162.66" width="92.5" height="1.85" fill="url(#m15)"/>
<rect x="18.1" y="164.15" width="92.5" height="1.85" fill="url(#m16)"/>
<rect x="18.1" y="165.65" width="92.5" height="1.85" fill="url(#m17)"/>
<rect x="18.1" y="167.15" width="92.5" height="1.85" fill="url(#m18)"/>
<rect x="18.1" y="168.65" width="92.5" height="1.85" fill="url(#m19)"/>
<rect x="18.1" y="170.14" width="92.5" height="1.85" fill="url(#m20)"/>
<rect x="18.1" y="171.64" width="92.5" height="1.85" fill="url(#m21)"/>
<rect x="18.1" y="173.14" width="92.5" height="1.85" fill="url(#m22)"/>
<rect x="18.1" y="174.63" width="92.5" height="1.85" fill="url(#m23)"/>
<rect x="18.1" y="176.13" width="92.5" height="1.85" fill="url(#m24)"/>
<rect x="18.1" y="177.63" width="92.5" height="1.85" fill="url(#m25)"/>
<rect x="18.1" y="179.13" width="92.5" height="1.85" fill="url(#m26)"/>
<rect x="18.1" y="180.62" width="92.5" height="1.85" fill="url(#m27)"/>
<rect x="18.1" y="182.12" width="92.5" height="1.85" fill="url(#m28)"/>
<rect x="18.1" y="183.62" width="92.5" height="1.85" fill="url(#m29)"/>
<rect x="18.1" y="185.11" width="92.5" height="1.85" fill="url(#m30)"/>
<rect x="18.1" y="186.61" width="92.5" height="1.85" fill="url(#m31)"/>
<rect x="18.1" y="188.11" width="92.5" height="1.85" fill="url(#m32)"/>
<rect x="18.1" y="189.61" width="92.5" height="1.85" fill="url(#m33)"/>
<rect x="18.1" y="191.1" width="92.5" height="1.85" fill="url(#m34)"/>
<rect x="18.1" y="192.6" width="92.5" height="1.85" fill="url(#m35)"/>
<rect x="18.1" y="194.1" width="92.5" height="1.85" fill="url(#m36)"/>
<rect x="18.1" y="195.59" width="92.5" height="1.85" fill="url(#m37)"/>
<rect x="18.1" y="197.09" width="92.5" height="1.85" fill="url(#m38)"/>
<rect x="18.1" y="198.59" width="92.5" height="1.85" fill="url(#m39)"/>
<rect x="18.1" y="200.09" width="92.5" height="1.85" fill="url(#m40)"/>
<rect x="18.1" y="201.58" width="92.5" height="1.85" fill="url(#m41)"/>
<rect x="18.1" y="203.08" width="92.5" height="1.85" fill="url(#m42)"/>
<rect x="18.1" y="204.58" width="92.5" height="1.85" fill="url(#m43)"/>
<rect x="18.1" y="206.07" width="92.5" height="1.85" fill="url(#m44)"/>
<rect x="18.1" y="207.57" width="92.5" height="1.85" fill="url(#m45)"/>
<rect x="18.1" y="209.07" width="92.5" height="1.85" fill="url(#m46)"/>
<rect x="18.1" y="210.57" width="92.5" height="1.85" fill="url(#m47)"/>
<rect x="18.1" y="212.06" width="92.5" height="1.85" fill="url(#m48)"/>
<rect x="18.1" y="213.56" width="92.5" height="1.85" fill="url(#m49)"/>
<rect x="18.1" y="215.06" width="92.5" height="1.85" fill="url(#m50)"/>
<rect x="18.1" y="216.55" width="92.5" height="1.85" fill="url(#m51)"/>
<rect x="18.1" y="218.05" width="92.5" height="1.85" fill="url(#m52)"/>
<rect x="18.1" y="219.55" width="92.5" height="1.85" fill="url(#m53)"/>
<rect x="18.1" y="221.05" width="92.5" height="1.85" fill="url(#m54)"/>
<rect x="18.1" y="222.54" width="92.5" height="1.85" fill="url(#m55)"/>
<rect x="18.1" y="224.04" width="92.5" height="1.85" fill="url(#m56)"/>
<rect x="18.1" y="225.54" width="92.5" height="1.85" fill="url(#m57)"/>
<rect x="18.1" y="227.03" width="92.5" height="1.85" fill="url(#m58)"/>
<rect x="18.1" y="228.53" width="92.5" height="1.85" fill="url(#m59)"/>
<rect x="18.1" y="230.03" width="92.5" height="1.85" fill="url(#m60)"/>
<rect x="18.1" y="231.53" width="92.5" height="1.85" fill="url(#m61)"/>
<rect x="18.1" y="233.02" width="92.5" height="1.85" fill="url(#m62)"/>
<rect x="18.1" y="234.52" width="92.5" height="1.85" fill="url(#m63)"/>
<rect x="18.1" y="236.02" width="92.5" height="1.85" fill="url(#m64)"/>
<rect x="18.1" y="237.51" width="92.5" height="1.85" fill="url(#m65)"/>
<rect x="18.1" y="239.01" width="92.5" height="1.85" fill="url(#m66)"/>
<rect x="18.1" y="240.51" width="92.5" height="1.85" fill="url(#m67)"/>
<rect x="18.1" y="242.01" width="92.5" height="1.85" fill="url(#m68)"/>
<rect x="18.1" y="243.5" width="92.5" height="1.85" fill="url(#m69)"/>
<rect x="18.1" y="245" width="92.5" height="1.85" fill="url(#m70)"/>
<rect x="18.1" y="246.5" width="92.5" height="1.85" fill="url(#m71)"/>
<rect x="18.1" y="247.99" width="92.5" height="1.85" fill="url(#m72)"/>
<rect x="18.1" y="249.49" width="92.5" height="1.85" fill="url(#m73)"/>
<rect x="18.1" y="250.99" width="92.5" height="1.85" fill="url(#m74)"/>
<rect x="18.1" y="252.49" width="92.5" height="1.85" fill="url(#m75)"/>
<rect x="18.1" y="253.98" width="92.5" height="1.85" fill="url(#m76)"/>
<rect x="18.1" y="255.48" width="92.5" height="1.85" fill="url(#m77)"/>
<rect x="18.1" y="256.98" width="92.5" height="1.85" fill="url(#m78)"/>
<rect x="18.1" y="258.47" width="92.5" height="1.85" fill="url(#m79)"/>
<rect x="18.1" y="259.97" width="92.5" height="1.85" fill="url(#m80)"/>
<rect x="18.1" y="261.47" width="92.5" height="1.85" fill="url(#m81)"/>
<rect x="18.1" y="262.97" width="92.5" height="1.85" fill="url(#m82)"/>
<rect x="18.1" y="264.46" width="92.5" height="1.85" fill="url(#m83)"/>
<rect x="18.1" y="265.96" width="92.5" height="1.85" fill="url(#m84)"/>
<rect x="18.1" y="267.46" width="92.5" height="1.85" fill="url(#m85)"/>
<rect x="18.1" y="268.95" width="92.5" height="1.85" fill="url(#m86)"/>
<rect x="18.1" y="270.45" width="92.5" height="1.85" fill="url(#m87)"/>
<rect x="18.1" y="271.95" width="92.5" height="1.85" fill="url(#m88)"/>
<rect x="18.1" y="273.45" width="92.5" height="1.85" fill="url(#m89)"/>
<rect x="18.1" y="274.94" width="92.5" height="1.85" fill="url(#m90)"/>
<rect x="18.1" y="276.44" width="92.5" height="1.85" fill="url(#m91)"/>
<rect x="18.1" y="277.94" width="92.5" height="1.85" fill="url(#m92)"/>
<rect x="18.1" y="279.43" width="92.5" height="1.85" fill="url(#m93)"/>
<rect x="18.1" y="280.93" width="92.5" height="1.85" fill="url(#m94)"/>
<rect x="18.1" y="282.43" width="92.5" height="1.85" fill="url(#m95)"/>
<rect x="18.1" y="283.93" width="92.5" height="1.85" fill="url(#m96)"/>
<rect x="18.1" y="285.42" width="92.5" height="1.85" fill="url(#m97)"/>
<rect x="18.1" y="286.92" width="92.5" height="1.85" fill="url(#m98)"/>
<rect x="18.1" y="288.42" width="92.5" height="1.85" fill="url(#m99)"/>
<rect x="18.1" y="289.91" width="92.5" height="1.85" fill="url(#m100)"/>
<rect x="18.1" y="291.41" width="92.5" height="1.85" fill="url(#m101)"/>
<rect x="18.1" y="292.91" width="92.5" height="1.85" fill="url(#m102)"/>
<rect x="18.1" y="294.41" width="92.5" height="1.85" fill="url(#m103)"/>
<rect x="18.1" y="295.9" width="92.5" height="1.85" fill="url(#m104)"/>
<rect x="18.1" y="297.4" width="92.5" height="1.85" fill="url(#m105)"/>
<rect x="18.1" y="298.9" width="92.5" height="1.85" fill="url(#m106)"/>
<rect x="18.1" y="300.39" width="92.5" height="1.85" fill="url(#m107)"/>
<rect x="18.1" y="301.89" width="92.5" height="1.85" fill="url(#m108)"/>
<rect x="18.1" y="303.39" width="92.5" height="1.85" fill="url(#m109)"/>
<rect x="18.1" y="304.89" width="92.5" height="1.85" fill="url(#m110)"/>
<rect x="18.1" y="306.38" width="92.5" height="1.85" fill="url(#m111)"/>
<rect x="18.1" y="307.88" width="92.5" height="1.85" fill="url(#m112)"/>
<rect x="18.1" y="309.38" width="92.5" height="1.85" fill="url(#m113)"/>
<rect x="18.1" y="310.87" width="92.5" height="1.85" fill="url(#m114)"/>
<rect x="18.1" y="312.37" width="92.5" height="1.85" fill="url(#m115)"/>
<rect x="18.1" y="313.87" width="92.5" height="1.85" fill="url(#m116)"/>
<rect x="18.1" y="315.37" width="92.5" height="1.85" fill="url(#m117)"/>
<rect x="18.1" y="316.86" width="92.5" height="1.85" fill="url(#m118)"/>
<rect x="18.1" y="318.36" width="92.5" height="1.85" fill="url(#m119)"/>
<rect x="18.1" y="319.86" width="92.5" height="1.85" fill="url(#m120)"/>
<rect x="18.1" y="321.35" width="92.5" height="1.85" fill="url(#m121)"/>
<rect x="18.1" y="322.85" width="92.5" height="1.85" fill="url(#m122)"/>
<rect x="18.1" y="324.35" width="92.5" height="1.85" fill="url(#m123)"/>
<rect x="18.1" y="325.85" width="92.5" height="1.85" fill="url(#m124)"/>
<rect x="18.1" y="327.34" width="92.5" height="1.85" fill="url(#m125)"/>
<rect x="18.1" y="328.84" width="92.5" height="1.85" fill="url(#m126)"/>
<rect x="18.1" y="330.34" width="92.5" height="1.85" fill="url(#m127)"/>
<rect x="18.1" y="331.83" width="92.5" height="1.85" fill="url(#m128)"/>
<rect x="18.1" y="333.33" width="92.5" height="1.85" fill="url(#m129)"/>
<rect x="18.1" y="334.83" width="92.5" height="1.85" fill="url(#m130)"/>
<rect x="18.1" y="336.33" width="92.5" height="1.85" fill="url(#m131)"/>
<rect x="18.1" y="337.82" width="92.5" height="1.85" fill="url(#m132)"/>
<rect x="18.1" y="339.32" width="92.5" height="1.85" fill="url(#m133)"/>
<rect x="18.1" y="340.82" width="92.5" height="1.85" fill="url(#m134)"/>
<rect x="18.1" y="342.31" width="92.5" height="1.85" fill="url(#m135)"/>
<rect x="18.1" y="343.81" width="92.5" height="1.85" fill="url(#m136)"/>
<rect x="18.1" y="345.31" width="92.5" height="1.85" fill="url(#m137)"/>
<rect x="18.1" y="346.81" width="92.5" height="1.85" fill="url(#m138)"/>
<rect x="18.1" y="348.3" width="92.5" height="1.5" fill="url(#m139)"/>
</g>
<g shape-rendering="crispEdges">
<rect x="117.6" y="140.2" width="93" height="1.85" fill="url(#g0)"/>
<rect x="117.6" y="141.7" width="93" height="1.85" fill="url(#g1)"/>
<rect x="117.6" y="143.19" width="93" height="1.85" fill="url(#g2)"/>
<rect x="117.6" y="144.69" width="93" height="1.85" fill="url(#g3)"/>
<rect x="117.6" y="146.18" width="93" height="1.85" fill="url(#g4)"/>
<rect x="117.6" y="147.68" width="93" height="1.85" fill="url(#g5)"/>
<rect x="117.6" y="149.17" width="93" height="1.85" fill="url(#g6)"/>
<rect x="117.6" y="150.67" width="93" height="1.85" fill="url(#g7)"/>
<rect x="117.6" y="152.17" width="93" height="1.85" fill="url(#g8)"/>
<rect x="117.6" y="153.66" width="93" height="1.85" fill="url(#g9)"/>
<rect x="117.6" y="155.16" width="93" height="1.85" fill="url(#g10)"/>
<rect x="117.6" y="156.65" width="93" height="1.85" fill="url(#g11)"/>
<rect x="117.6" y="158.15" width="93" height="1.85" fill="url(#g12)"/>
<rect x="117.6" y="159.64" width="93" height="1.85" fill="url(#g13)"/>
<rect x="117.6" y="161.14" width="93" height="1.85" fill="url(#g14)"/>
<rect x="117.6" y="162.64" width="93" height="1.85" fill="url(#g15)"/>
<rect x="117.6" y="164.13" width="93" height="1.85" fill="url(#g16)"/>
<rect x="117.6" y="165.63" width="93" height="1.85" fill="url(#g17)"/>
<rect x="117.6" y="167.12" width="93" height="1.85" fill="url(#g18)"/>
<rect x="117.6" y="168.62" width="93" height="1.85" fill="url(#g19)"/>
<rect x="117.6" y="170.11" width="93" height="1.85" fill="url(#g20)"/>
<rect x="117.6" y="171.61" width="93" height="1.85" fill="url(#g21)"/>
<rect x="117.6" y="173.11" width="93" height="1.85" fill="url(#g22)"/>
<rect x="117.6" y="174.6" width="93" height="1.85" fill="url(#g23)"/>
<rect x="117.6" y="176.1" width="93" height="1.85" fill="url(#g24)"/>
<rect x="117.6" y="177.59" width="93" height="1.85" fill="url(#g25)"/>
<rect x="117.6" y="179.09" width="93" height="1.85" fill="url(#g26)"/>
<rect x="117.6" y="180.58" width="93" height="1.85" fill="url(#g27)"/>
<rect x="117.6" y="182.08" width="93" height="1.85" fill="url(#g28)"/>
<rect x="117.6" y="183.58" width="93" height="1.85" fill="url(#g29)"/>
<rect x="117.6" y="185.07" width="93" height="1.85" fill="url(#g30)"/>
<rect x="117.6" y="186.57" width="93" height="1.85" fill="url(#g31)"/>
<rect x="117.6" y="188.06" width="93" height="1.85" fill="url(#g32)"/>
<rect x="117.6" y="189.56" width="93" height="1.85" fill="url(#g33)"/>
<rect x="117.6" y="191.05" width="93" height="1.85" fill="url(#g34)"/>
<rect x="117.6" y="192.55" width="93" height="1.85" fill="url(#g35)"/>
<rect x="117.6" y="194.05" width="93" height="1.85" fill="url(#g36)"/>
<rect x="117.6" y="195.54" width="93" height="1.85" fill="url(#g37)"/>
<rect x="117.6" y="197.04" width="93" height="1.85" fill="url(#g38)"/>
<rect x="117.6" y="198.53" width="93" height="1.85" fill="url(#g39)"/>
<rect x="117.6" y="200.03" width="93" height="1.85" fill="url(#g40)"/>
<rect x="117.6" y="201.52" width="93" height="1.85" fill="url(#g41)"/>
<rect x="117.6" y="203.02" width="93" height="1.85" fill="url(#g42)"/>
<rect x="117.6" y="204.52" width="93" height="1.85" fill="url(#g43)"/>
<rect x="117.6" y="206.01" width="93" height="1.85" fill="url(#g44)"/>
<rect x="117.6" y="207.51" width="93" height="1.85" fill="url(#g45)"/>
<rect x="117.6" y="209" width="93" height="1.85" fill="url(#g46)"/>
<rect x="117.6" y="210.5" width="93" height="1.85" fill="url(#g47)"/>
<rect x="117.6" y="211.99" width="93" height="1.85" fill="url(#g48)"/>
<rect x="117.6" y="213.49" width="93" height="1.85" fill="url(#g49)"/>
<rect x="117.6" y="214.99" width="93" height="1.85" fill="url(#g50)"/>
<rect x="117.6" y="216.48" width="93" height="1.85" fill="url(#g51)"/>
<rect x="117.6" y="217.98" width="93" height="1.85" fill="url(#g52)"/>
<rect x="117.6" y="219.47" width="93" height="1.85" fill="url(#g53)"/>
<rect x="117.6" y="220.97" width="93" height="1.85" fill="url(#g54)"/>
<rect x="117.6" y="222.46" width="93" height="1.85" fill="url(#g55)"/>
<rect x="117.6" y="223.96" width="93" height="1.85" fill="url(#g56)"/>
<rect x="117.6" y="225.46" width="93" height="1.85" fill="url(#g57)"/>
<rect x="117.6" y="226.95" width="93" height="1.85" fill="url(#g58)"/>
<rect x="117.6" y="228.45" width="93" height="1.85" fill="url(#g59)"/>
<rect x="117.6" y="229.94" width="93" height="1.85" fill="url(#g60)"/>
<rect x="117.6" y="231.44" width="93" height="1.85" fill="url(#g61)"/>
<rect x="117.6" y="232.93" width="93" height="1.85" fill="url(#g62)"/>
<rect x="117.6" y="234.43" width="93" height="1.85" fill="url(#g63)"/>
<rect x="117.6" y="235.93" width="93" height="1.85" fill="url(#g64)"/>
<rect x="117.6" y="237.42" width="93" height="1.85" fill="url(#g65)"/>
<rect x="117.6" y="238.92" width="93" height="1.85" fill="url(#g66)"/>
<rect x="117.6" y="240.41" width="93" height="1.85" fill="url(#g67)"/>
<rect x="117.6" y="241.91" width="93" height="1.85" fill="url(#g68)"/>
<rect x="117.6" y="243.4" width="93" height="1.85" fill="url(#g69)"/>
<rect x="117.6" y="244.9" width="93" height="1.85" fill="url(#g70)"/>
<rect x="117.6" y="246.4" width="93" height="1.85" fill="url(#g71)"/>
<rect x="117.6" y="247.89" width="93" height="1.85" fill="url(#g72)"/>
<rect x="117.6" y="249.39" width="93" height="1.85" fill="url(#g73)"/>
<rect x="117.6" y="250.88" width="93" height="1.85" fill="url(#g74)"/>
<rect x="117.6" y="252.38" width="93" height="1.85" fill="url(#g75)"/>
<rect x="117.6" y="253.87" width="93" height="1.85" fill="url(#g76)"/>
<rect x="117.6" y="255.37" width="93" height="1.85" fill="url(#g77)"/>
<rect x="117.6" y="256.87" width="93" height="1.85" fill="url(#g78)"/>
<rect x="117.6" y="258.36" width="93" height="1.85" fill="url(#g79)"/>
<rect x="117.6" y="259.86" width="93" height="1.85" fill="url(#g80)"/>
<rect x="117.6" y="261.35" width="93" height="1.85" fill="url(#g81)"/>
<rect x="117.6" y="262.85" width="93" height="1.85" fill="url(#g82)"/>
<rect x="117.6" y="264.34" width="93" height="1.85" fill="url(#g83)"/>
<rect x="117.6" y="265.84" width="93" height="1.85" fill="url(#g84)"/>
<rect x="117.6" y="267.34" width="93" height="1.85" fill="url(#g85)"/>
<rect x="117.6" y="268.83" width="93" height="1.85" fill="url(#g86)"/>
<rect x="117.6" y="270.33" width="93" height="1.85" fill="url(#g87)"/>
<rect x="117.6" y="271.82" width="93" height="1.85" fill="url(#g88)"/>
<rect x="117.6" y="273.32" width="93" height="1.85" fill="url(#g89)"/>
<rect x="117.6" y="274.81" width="93" height="1.85" fill="url(#g90)"/>
<rect x="117.6" y="276.31" width="93" height="1.85" fill="url(#g91)"/>
<rect x="117.6" y="277.81" width="93" height="1.85" fill="url(#g92)"/>
<rect x="117.6" y="279.3" width="93" height="1.85" fill="url(#g93)"/>
<rect x="117.6" y="280.8" width="93" height="1.85" fill="url(#g94)"/>
<rect x="117.6" y="282.29" width="93" height="1.85" fill="url(#g95)"/>
<rect x="117.6" y="283.79" width="93" height="1.85" fill="url(#g96)"/>
<rect x="117.6" y="285.28" width="93" height="1.85" fill="url(#g97)"/>
<rect x="117.6" y="286.78" width="93" height="1.85" fill="url(#g98)"/>
<rect x="117.6" y="288.28" width="93" height="1.85" fill="url(#g99)"/>
<rect x="117.6" y="289.77" width="93" height="1.85" fill="url(#g100)"/>
<rect x="117.6" y="291.27" width="93" height="1.85" fill="url(#g101)"/>
<rect x="117.6" y="292.76" width="93" height="1.85" fill="url(#g102)"/>
<rect x="117.6" y="294.26" width="93" height="1.85" fill="url(#g103)"/>
<rect x="117.6" y="295.75" width="93" height="1.85" fill="url(#g104)"/>
<rect x="117.6" y="297.25" width="93" height="1.85" fill="url(#g105)"/>
<rect x="117.6" y="298.75" width="93" height="1.85" fill="url(#g106)"/>
<rect x="117.6" y="300.24" width="93" height="1.85" fill="url(#g107)"/>
<rect x="117.6" y="301.74" width="93" height="1.85" fill="url(#g108)"/>
<rect x="117.6" y="303.23" width="93" height="1.85" fill="url(#g109)"/>
<rect x="117.6" y="304.73" width="93" height="1.85" fill="url(#g110)"/>
<rect x="117.6" y="306.22" width="93" height="1.85" fill="url(#g111)"/>
<rect x="117.6" y="307.72" width="93" height="1.85" fill="url(#g112)"/>
<rect x="117.6" y="309.22" width="93" height="1.85" fill="url(#g113)"/>
<rect x="117.6" y="310.71" width="93" height="1.85" fill="url(#g114)"/>
<rect x="117.6" y="312.21" width="93" height="1.85" fill="url(#g115)"/>
<rect x="117.6" y="313.7" width="93" height="1.85" fill="url(#g116)"/>
<rect x="117.6" y="315.2" width="93" height="1.85" fill="url(#g117)"/>
<rect x="117.6" y="316.69" width="93" height="1.85" fill="url(#g118)"/>
<rect x="117.6" y="318.19" width="93" height="1.85" fill="url(#g119)"/>
<rect x="117.6" y="319.69" width="93" height="1.85" fill="url(#g120)"/>
<rect x="117.6" y="321.18" width="93" height="1.85" fill="url(#g121)"/>
<rect x="117.6" y="322.68" width="93" height="1.85" fill="url(#g122)"/>
<rect x="117.6" y="324.17" width="93" height="1.85" fill="url(#g123)"/>
<rect x="117.6" y="325.67" width="93" height="1.85" fill="url(#g124)"/>
<rect x="117.6" y="327.16" width="93" height="1.85" fill="url(#g125)"/>
<rect x="117.6" y="328.66" width="93" height="1.85" fill="url(#g126)"/>
<rect x="117.6" y="330.16" width="93" height="1.85" fill="url(#g127)"/>
<rect x="117.6" y="331.65" width="93" height="1.85" fill="url(#g128)"/>
<rect x="117.6" y="333.15" width="93" height="1.85" fill="url(#g129)"/>
<rect x="117.6" y="334.64" width="93" height="1.85" fill="url(#g130)"/>
<rect x="117.6" y="336.14" width="93" height="1.85" fill="url(#g131)"/>
<rect x="117.6" y="337.63" width="93" height="1.85" fill="url(#g132)"/>
<rect x="117.6" y="339.13" width="93" height="1.85" fill="url(#g133)"/>
<rect x="117.6" y="340.63" width="93" height="1.85" fill="url(#g134)"/>
<rect x="117.6" y="342.12" width="93" height="1.85" fill="url(#g135)"/>
<rect x="117.6" y="343.62" width="93" height="1.85" fill="url(#g136)"/>
<rect x="117.6" y="345.11" width="93" height="1.85" fill="url(#g137)"/>
<rect x="117.6" y="346.61" width="93" height="1.85" fill="url(#g138)"/>
<rect x="117.6" y="348.1" width="93" height="1.5" fill="url(#g139)"/>
</g>
<path d="M210.8 146 L214.6 145.5" fill="none" stroke="#1a1a2a" stroke-width="0.85"/>
<text x="216.1" y="147.5" font-size="5.6" fill="#231f20">RFX4</text>
<path d="M210.8 151 L214.6 151.4" fill="none" stroke="#1a1a2a" stroke-width="0.85"/>
<text x="216.1" y="153.4" font-size="5.6" fill="#231f20">LHX2</text>
<path d="M210.8 161.3 L214.6 161.3" fill="none" stroke="#1a1a2a" stroke-width="0.85"/>
<text x="216.1" y="163.3" font-size="5.6" fill="#231f20">KLF9</text>
<path d="M210.8 170.6 L214.6 171" fill="none" stroke="#1a1a2a" stroke-width="0.85"/>
<text x="216.1" y="173" font-size="5.6" fill="#231f20">JUND</text>
<path d="M210.8 184.6 L214.6 182.6" fill="none" stroke="#1a1a2a" stroke-width="0.85"/>
<text x="216.1" y="184.6" font-size="5.6" fill="#231f20">OTX1</text>
<path d="M210.8 187.6 L214.6 189.4" fill="none" stroke="#1a1a2a" stroke-width="0.85"/>
<text x="216.1" y="191.4" font-size="5.6" fill="#231f20">DLX5</text>
<path d="M210.8 193 L214.6 194.9" fill="none" stroke="#1a1a2a" stroke-width="0.85"/>
<text x="216.1" y="196.9" font-size="5.6" fill="#231f20">DLX2</text>
<path d="M210.8 204 L214.6 204" fill="none" stroke="#1a1a2a" stroke-width="0.85"/>
<text x="216.1" y="206" font-size="5.6" fill="#231f20">CUX2</text>
<path d="M210.8 215.6 L214.6 215.6" fill="none" stroke="#1a1a2a" stroke-width="0.85"/>
<text x="216.1" y="217.6" font-size="5.6" fill="#231f20">PBX1</text>
<path d="M210.8 241 L214.6 241" fill="none" stroke="#1a1a2a" stroke-width="0.85"/>
<text x="216.1" y="243" font-size="5.6" fill="#231f20">FOXG1</text>
<path d="M210.8 262.6 L214.6 262.6" fill="none" stroke="#1a1a2a" stroke-width="0.85"/>
<text x="216.1" y="264.6" font-size="5.6" fill="#231f20">RUNX1</text>
<path d="M210.8 283.4 L214.6 283.6" fill="none" stroke="#1a1a2a" stroke-width="0.85"/>
<text x="216.1" y="285.6" font-size="5.6" fill="#231f20">MEF2C</text>
<path d="M210.8 288.6 L214.6 291" fill="none" stroke="#1a1a2a" stroke-width="0.85"/>
<text x="216.1" y="293" font-size="5.6" fill="#231f20">NFIC</text>
<path d="M210.8 310.2 L214.6 310.2" fill="none" stroke="#1a1a2a" stroke-width="0.85"/>
<text x="216.1" y="312.2" font-size="5.6" fill="#231f20">HES7</text>
<path d="M210.8 327.4 L214.6 325" fill="none" stroke="#1a1a2a" stroke-width="0.85"/>
<text x="216.1" y="327" font-size="5.6" fill="#231f20">TCF12</text>
<path d="M210.8 332.2 L214.6 332.6" fill="none" stroke="#1a1a2a" stroke-width="0.85"/>
<text x="216.1" y="334.6" font-size="5.6" fill="#231f20">MEIS2</text>
<path d="M210.8 347.4 L214.6 347.6" fill="none" stroke="#1a1a2a" stroke-width="0.85"/>
<text x="216.1" y="349.6" font-size="5.6" fill="#231f20">STAT2</text>
<text x="17.4" y="361.9" font-size="6.5" fill="#231f20">GLICO-728</text>
<text x="17.4" y="369.2" font-size="6.68" fill="#231f20">chromatin-based pseudotime</text>
<rect x="88.7" y="353.9" width="21.2" height="3.8" fill="url(#gBrBG)"/>
<text x="89.3" y="362.2" font-size="3.6" text-anchor="middle" fill="#a0509a">-3</text>
<text x="99.9" y="362.2" font-size="3.6" text-anchor="middle" fill="#8a60b0">0</text>
<text x="109.9" y="362.2" font-size="3.6" text-anchor="middle" fill="#4a80c0">3</text>
<rect x="188.7" y="353.7" width="22.2" height="3.6" fill="url(#gCW)"/>
<text x="188.6" y="361.4" font-size="3.6" text-anchor="middle" fill="#5a6fd0">-3</text>
<text x="199" y="361.4" font-size="3.6" text-anchor="middle" fill="#8a60b0">0</text>
<text x="210.5" y="361.4" font-size="3.6" text-anchor="middle" fill="#3a9a8a">3</text>
</g>
<g id="panelD">
<text x="0" y="386.6" font-size="12.9" font-weight="bold" fill="#000">D</text>
<g stroke="#d2d2d2" stroke-linecap="round">
<line x1="56.3" y1="460.6" x2="11.4" y2="459.2" stroke-width="1"/>
<line x1="56.3" y1="460.6" x2="14.4" y2="473.6" stroke-width="1"/>
<line x1="56.3" y1="460.6" x2="22.6" y2="486.6" stroke-width="1"/>
<line x1="56.3" y1="460.6" x2="37.6" y2="494.2" stroke-width="1"/>
<line x1="56.3" y1="460.6" x2="74.2" y2="431.4" stroke-width="1.2"/>
<line x1="56.3" y1="460.6" x2="82.1" y2="435.7" stroke-width="1.2"/>
<line x1="56.3" y1="460.6" x2="75.6" y2="441.2" stroke-width="1"/>
<line x1="56.3" y1="460.6" x2="87.3" y2="444.3" stroke-width="1.6"/>
<line x1="56.3" y1="460.6" x2="81.6" y2="449.9" stroke-width="1.4"/>
<line x1="56.3" y1="460.6" x2="95.5" y2="450.4" stroke-width="1.2"/>
<line x1="56.3" y1="460.6" x2="88.2" y2="455.9" stroke-width="1.8"/>
<line x1="56.3" y1="460.6" x2="99.8" y2="458.2" stroke-width="1.2"/>
<line x1="56.3" y1="460.6" x2="102.3" y2="435.9" stroke-width="1.8"/>
<line x1="102.3" y1="435.9" x2="74.2" y2="431.4" stroke-width="2.2"/>
<line x1="102.3" y1="435.9" x2="82.1" y2="435.7" stroke-width="2"/>
<line x1="102.3" y1="435.9" x2="75.6" y2="441.2" stroke-width="1.2"/>
<line x1="102.3" y1="435.9" x2="87.3" y2="444.3" stroke-width="1.4"/>
<line x1="102.3" y1="435.9" x2="81.6" y2="449.9" stroke-width="1.2"/>
<line x1="102.3" y1="435.9" x2="95.5" y2="450.4" stroke-width="1.4"/>
<line x1="102.3" y1="435.9" x2="88.2" y2="455.9" stroke-width="1.2"/>
<line x1="102.3" y1="435.9" x2="99.8" y2="458.2" stroke-width="1.2"/>
<line x1="102.3" y1="435.9" x2="82.5" y2="418.4" stroke-width="1.2"/>
<line x1="102.3" y1="435.9" x2="88.5" y2="410" stroke-width="1.2"/>
<line x1="102.3" y1="435.9" x2="100.1" y2="407" stroke-width="1.2"/>
<line x1="102.3" y1="435.9" x2="97.2" y2="417.5" stroke-width="1.4"/>
<line x1="102.3" y1="435.9" x2="110.5" y2="411" stroke-width="1"/>
<line x1="102.3" y1="435.9" x2="111.9" y2="396.8" stroke-width="1"/>
<line x1="102.3" y1="435.9" x2="118.5" y2="465.4" stroke-width="1"/>
<line x1="102.3" y1="435.9" x2="121.4" y2="452.5" stroke-width="1"/>
<line x1="112.7" y1="432.1" x2="111.9" y2="396.8" stroke-width="1.2"/>
<line x1="112.7" y1="432.1" x2="100.1" y2="407" stroke-width="1"/>
<line x1="112.7" y1="432.1" x2="88.5" y2="410" stroke-width="1"/>
<line x1="112.7" y1="432.1" x2="110.5" y2="411" stroke-width="1.2"/>
<line x1="112.7" y1="432.1" x2="82.5" y2="418.4" stroke-width="1"/>
<line x1="112.7" y1="432.1" x2="97.2" y2="417.5" stroke-width="1"/>
<line x1="112.7" y1="432.1" x2="95.5" y2="450.4" stroke-width="1"/>
<line x1="112.7" y1="432.1" x2="99.8" y2="458.2" stroke-width="1"/>
<line x1="112.7" y1="432.1" x2="121.4" y2="452.5" stroke-width="1.2"/>
<line x1="112.7" y1="432.1" x2="118.5" y2="465.4" stroke-width="1.2"/>
<line x1="112.7" y1="432.1" x2="130.9" y2="446.9" stroke-width="1"/>
<line x1="112.7" y1="432.1" x2="87.3" y2="444.3" stroke-width="1"/>
<line x1="112.7" y1="432.1" x2="155" y2="441.6" stroke-width="1"/>
<line x1="112.7" y1="432.1" x2="158" y2="432.6" stroke-width="1"/>
<line x1="112.7" y1="432.1" x2="141.4" y2="431.7" stroke-width="1.4"/>
<line x1="119" y1="427.5" x2="111.9" y2="396.8" stroke-width="1.2"/>
<line x1="119" y1="427.5" x2="128.9" y2="400.9" stroke-width="1.4"/>
<line x1="119" y1="427.5" x2="110.5" y2="411" stroke-width="1"/>
<line x1="119" y1="427.5" x2="124.9" y2="417" stroke-width="1.6"/>
<line x1="119" y1="427.5" x2="100.1" y2="407" stroke-width="1"/>
<line x1="119" y1="427.5" x2="88.5" y2="410" stroke-width="1"/>
<line x1="119" y1="427.5" x2="130.9" y2="446.9" stroke-width="1.2"/>
<line x1="119" y1="427.5" x2="121.4" y2="452.5" stroke-width="1"/>
<line x1="119" y1="427.5" x2="118.5" y2="465.4" stroke-width="1"/>
<line x1="119" y1="427.5" x2="141.4" y2="431.7" stroke-width="1.6"/>
<line x1="119" y1="427.5" x2="158" y2="432.6" stroke-width="1.4"/>
<line x1="119" y1="427.5" x2="155" y2="441.6" stroke-width="1.2"/>
<line x1="119" y1="427.5" x2="146" y2="423.6" stroke-width="2.6"/>
<line x1="119" y1="427.5" x2="170.4" y2="419" stroke-width="2.2"/>
<line x1="119" y1="427.5" x2="149.4" y2="415" stroke-width="2.6"/>
<line x1="119" y1="427.5" x2="165" y2="405.2" stroke-width="1.2"/>
<line x1="119" y1="427.5" x2="187.8" y2="422.9" stroke-width="1.4"/>
<line x1="187.8" y1="422.9" x2="226" y2="403.6" stroke-width="1.2"/>
<line x1="187.8" y1="422.9" x2="232.4" y2="418.6" stroke-width="1.2"/>
<line x1="187.8" y1="422.9" x2="230" y2="434.2" stroke-width="1.2"/>
<line x1="187.8" y1="422.9" x2="165" y2="405.2" stroke-width="1.2"/>
<line x1="187.8" y1="422.9" x2="149.4" y2="415" stroke-width="1.2"/>
<line x1="187.8" y1="422.9" x2="170.4" y2="419" stroke-width="1.4"/>
<line x1="187.8" y1="422.9" x2="146" y2="423.6" stroke-width="1.2"/>
<line x1="187.8" y1="422.9" x2="141.4" y2="431.7" stroke-width="1.2"/>
<line x1="187.8" y1="422.9" x2="158" y2="432.6" stroke-width="1.4"/>
<line x1="187.8" y1="422.9" x2="155" y2="441.6" stroke-width="1.2"/>
</g>
<circle cx="56.3" cy="460.6" r="8" fill="#abd9e6"/>
<circle cx="102.3" cy="435.9" r="7.6" fill="#abd9e6"/>
<circle cx="112.7" cy="432.1" r="7.4" fill="#abd9e6"/>
<circle cx="119" cy="427.5" r="7.5" fill="#abd9e6"/>
<circle cx="187.8" cy="422.9" r="7.8" fill="#abd9e6"/>
<text x="111.9" y="398.2" font-size="3.9" text-anchor="middle" fill="#333">NR2E3</text>
<text x="128.9" y="402.3" font-size="3.9" text-anchor="middle" fill="#333">LEF1</text>
<text x="100.1" y="408.4" font-size="3.9" text-anchor="middle" fill="#333">ZBTB7C</text>
<text x="88.5" y="411.4" font-size="3.9" text-anchor="middle" fill="#333">GLIS1</text>
<text x="110.5" y="412.4" font-size="3.9" text-anchor="middle" fill="#333">MYBL1</text>
<text x="82.5" y="419.8" font-size="3.9" text-anchor="middle" fill="#333">HMGA1</text>
<text x="97.2" y="418.9" font-size="3.9" text-anchor="middle" fill="#333">ARID1</text>
<text x="124.9" y="418.4" font-size="3.9" text-anchor="middle" fill="#333">PBX1</text>
<text x="74.2" y="432.8" font-size="3.9" text-anchor="middle" fill="#333">KLF10</text>
<text x="82.1" y="437.1" font-size="3.9" text-anchor="middle" fill="#333">STAT3</text>
<text x="75.6" y="442.6" font-size="3.9" text-anchor="middle" fill="#333">MSX1</text>
<text x="87.3" y="445.7" font-size="3.9" text-anchor="middle" fill="#333">HES1</text>
<text x="81.6" y="451.3" font-size="3.9" text-anchor="middle" fill="#333">ATF3</text>
<text x="95.5" y="451.8" font-size="3.9" text-anchor="middle" fill="#333">EGR3</text>
<text x="88.2" y="457.3" font-size="3.9" text-anchor="middle" fill="#333">BHLHE40</text>
<text x="99.8" y="459.6" font-size="3.9" text-anchor="middle" fill="#333">TCF7L1</text>
<text x="130.9" y="448.3" font-size="3.9" text-anchor="middle" fill="#333">E2F7</text>
<text x="121.4" y="453.9" font-size="3.9" text-anchor="middle" fill="#333">BRCA1</text>
<text x="118.5" y="466.8" font-size="3.9" text-anchor="middle" fill="#333">SHOX2</text>
<text x="141.4" y="433.1" font-size="3.9" text-anchor="middle" fill="#333">ONECUT2</text>
<text x="158" y="434" font-size="3.9" text-anchor="middle" fill="#333">NPAS3</text>
<text x="155" y="443" font-size="3.9" text-anchor="middle" fill="#333">SIM2</text>
<text x="146" y="425" font-size="3.9" text-anchor="middle" fill="#333">EGR1</text>
<text x="170.4" y="420.4" font-size="3.9" text-anchor="middle" fill="#333">PRDM16</text>
<text x="149.4" y="416.4" font-size="3.9" text-anchor="middle" fill="#333">PROX1</text>
<text x="165" y="406.6" font-size="3.9" text-anchor="middle" fill="#333">KLF6</text>
<text x="226" y="405" font-size="3.9" text-anchor="middle" fill="#333">CREB5</text>
<text x="232.4" y="420" font-size="3.9" text-anchor="middle" fill="#333">ARID5B</text>
<text x="230" y="435.6" font-size="3.9" text-anchor="middle" fill="#333">CPEB1</text>
<text x="11.4" y="460.6" font-size="3.9" text-anchor="middle" fill="#333">RFX2</text>
<text x="14.4" y="475" font-size="3.9" text-anchor="middle" fill="#333">RFX4</text>
<text x="22.6" y="488" font-size="3.9" text-anchor="middle" fill="#333">BACH2</text>
<text x="37.6" y="495.6" font-size="3.9" text-anchor="middle" fill="#333">RFX8</text>
<text x="56.3" y="462.2" font-size="4.8" text-anchor="middle" font-weight="bold" fill="#0f2d4a">LHX2</text>
<text x="102" y="437.5" font-size="4.8" text-anchor="middle" font-weight="bold" fill="#0f2d4a">OTX1</text>
<text x="113" y="433.6" font-size="4.8" text-anchor="middle" font-weight="bold" fill="#0f2d4a">DLX5</text>
<text x="117.5" y="429.5" font-size="4.8" text-anchor="middle" font-weight="bold" fill="#0f2d4a">DLX2</text>
<text x="187.8" y="424.5" font-size="4.8" text-anchor="middle" font-weight="bold" fill="#0f2d4a">CUX2</text>
<rect x="156.8" y="484.2" width="82" height="14.6" fill="#fff" stroke="#8a8a8a" stroke-width="0.7"/>
<line x1="163.6" y1="491.6" x2="176.2" y2="491.6" stroke="#cfcfcf" stroke-width="1.2"/>
<text x="180" y="494" font-size="6.9" fill="#231f20">Correlation &gt; 0.85</text>
</g>
<g id="panelE">
<text x="251.2" y="130.8" font-size="12.9" font-weight="bold" fill="#000">E</text>
<text x="374.3" y="139" font-size="6.7" text-anchor="middle" fill="#231f20">Nonmesenchymal patients</text>
<text x="374.8" y="227.4" font-size="6.7" text-anchor="middle" fill="#231f20">Mesenchymal patients</text>
<rect x="295" y="143.8" width="157.9" height="4.8" fill="url(#eP1)"/>
<rect x="332.57" y="143.8" width="0.99" height="4.8" fill="#7fd0e0" opacity="0.15"/>
<rect x="390.36" y="143.8" width="1.06" height="4.8" fill="#7fd0e0" opacity="0.12"/>
<rect x="297.08" y="143.8" width="1.25" height="4.8" fill="#7fd0e0" opacity="0.14"/>
<rect x="332" y="143.8" width="1.4" height="4.8" fill="#7fd0e0" opacity="0.16"/>
<rect x="427.08" y="143.8" width="0.93" height="4.8" fill="#7fd0e0" opacity="0.18"/>
<rect x="318.78" y="143.8" width="1.07" height="4.8" fill="#7fd0e0" opacity="0.21"/>
<rect x="377.61" y="143.8" width="1.17" height="4.8" fill="#7fd0e0" opacity="0.18"/>
<rect x="305.11" y="143.8" width="1.18" height="4.8" fill="#7fd0e0" opacity="0.18"/>
<rect x="342.57" y="143.8" width="0.53" height="4.8" fill="#7fd0e0" opacity="0.21"/>
<rect x="369.65" y="143.8" width="1.15" height="4.8" fill="#7fd0e0" opacity="0.21"/>
<rect x="407.76" y="143.8" width="1.33" height="4.8" fill="#7fd0e0" opacity="0.15"/>
<rect x="421.46" y="143.8" width="0.9" height="4.8" fill="#7fd0e0" opacity="0.21"/>
<rect x="433.77" y="143.8" width="0.59" height="4.8" fill="#7fd0e0" opacity="0.12"/>
<rect x="329.26" y="143.8" width="1.37" height="4.8" fill="#7fd0e0" opacity="0.16"/>
<rect x="393.95" y="143.8" width="0.77" height="4.8" fill="#7fd0e0" opacity="0.17"/>
<rect x="355.93" y="143.8" width="0.82" height="4.8" fill="#7fd0e0" opacity="0.17"/>
<rect x="387.25" y="143.8" width="1.31" height="4.8" fill="#7fd0e0" opacity="0.19"/>
<rect x="441.68" y="143.8" width="1.27" height="4.8" fill="#7fd0e0" opacity="0.22"/>
<rect x="400.99" y="143.8" width="0.65" height="4.8" fill="#7fd0e0" opacity="0.2"/>
<rect x="447.32" y="143.8" width="1.31" height="4.8" fill="#7fd0e0" opacity="0.17"/>
<rect x="407.71" y="143.8" width="0.69" height="4.8" fill="#7fd0e0" opacity="0.2"/>
<rect x="385.56" y="143.8" width="0.76" height="4.8" fill="#7fd0e0" opacity="0.12"/>
<rect x="429.84" y="143.8" width="1.39" height="4.8" fill="#7fd0e0" opacity="0.12"/>
<rect x="421.41" y="143.8" width="0.87" height="4.8" fill="#7fd0e0" opacity="0.13"/>
<rect x="341.41" y="143.8" width="1.19" height="4.8" fill="#7fd0e0" opacity="0.21"/>
<rect x="301.98" y="143.8" width="1.05" height="4.8" fill="#7fd0e0" opacity="0.11"/>
<rect x="408.44" y="143.8" width="0.8" height="4.8" fill="#7fd0e0" opacity="0.21"/>
<rect x="449.84" y="143.8" width="0.95" height="4.8" fill="#7fd0e0" opacity="0.22"/>
<rect x="343.9" y="143.8" width="0.57" height="4.8" fill="#7fd0e0" opacity="0.18"/>
<rect x="299.95" y="143.8" width="0.68" height="4.8" fill="#7fd0e0" opacity="0.15"/>
<rect x="391.39" y="143.8" width="0.64" height="4.8" fill="#7fd0e0" opacity="0.11"/>
<rect x="432.02" y="143.8" width="0.78" height="4.8" fill="#7fd0e0" opacity="0.22"/>
<rect x="436.58" y="143.8" width="0.84" height="4.8" fill="#7fd0e0" opacity="0.16"/>
<rect x="377.12" y="143.8" width="1.08" height="4.8" fill="#7fd0e0" opacity="0.18"/>
<rect x="383.31" y="143.8" width="1.06" height="4.8" fill="#7fd0e0" opacity="0.21"/>
<rect x="375.06" y="143.8" width="0.89" height="4.8" fill="#7fd0e0" opacity="0.19"/>
<rect x="332.52" y="143.8" width="0.77" height="4.8" fill="#7fd0e0" opacity="0.22"/>
<rect x="377.29" y="143.8" width="0.99" height="4.8" fill="#7fd0e0" opacity="0.11"/>
<rect x="360.56" y="143.8" width="1.02" height="4.8" fill="#7fd0e0" opacity="0.11"/>
<rect x="392.23" y="143.8" width="1.07" height="4.8" fill="#7fd0e0" opacity="0.12"/>
<rect x="295" y="151" width="157.9" height="4.7" fill="url(#eC1)"/>
<rect x="338.3" y="151" width="0.59" height="4.7" fill="#5a2080" opacity="0.21"/>
<rect x="326.14" y="151" width="0.56" height="4.7" fill="#5a2080" opacity="0.21"/>
<rect x="440.59" y="151" width="1.22" height="4.7" fill="#5a2080" opacity="0.26"/>
<rect x="336.19" y="151" width="0.98" height="4.7" fill="#5a2080" opacity="0.19"/>
<rect x="328.8" y="151" width="0.6" height="4.7" fill="#5a2080" opacity="0.18"/>
<rect x="442.02" y="151" width="1.25" height="4.7" fill="#5a2080" opacity="0.27"/>
<rect x="422.97" y="151" width="0.67" height="4.7" fill="#5a2080" opacity="0.2"/>
<rect x="396.94" y="151" width="1.16" height="4.7" fill="#5a2080" opacity="0.28"/>
<rect x="434.91" y="151" width="0.58" height="4.7" fill="#5a2080" opacity="0.24"/>
<rect x="403.65" y="151" width="0.96" height="4.7" fill="#5a2080" opacity="0.18"/>
<rect x="373.94" y="151" width="0.58" height="4.7" fill="#5a2080" opacity="0.29"/>
<rect x="432.72" y="151" width="0.99" height="4.7" fill="#5a2080" opacity="0.2"/>
<rect x="439.23" y="151" width="1.02" height="4.7" fill="#5a2080" opacity="0.28"/>
<rect x="430.11" y="151" width="0.96" height="4.7" fill="#5a2080" opacity="0.21"/>
<rect x="392.73" y="151" width="0.89" height="4.7" fill="#5a2080" opacity="0.17"/>
<rect x="348.66" y="151" width="1.23" height="4.7" fill="#5a2080" opacity="0.16"/>
<rect x="309.84" y="151" width="1.06" height="4.7" fill="#5a2080" opacity="0.19"/>
<rect x="383.09" y="151" width="0.92" height="4.7" fill="#5a2080" opacity="0.2"/>
<rect x="452.49" y="151" width="0.68" height="4.7" fill="#5a2080" opacity="0.21"/>
<rect x="333.3" y="151" width="1.07" height="4.7" fill="#5a2080" opacity="0.19"/>
<rect x="356.27" y="151" width="1.17" height="4.7" fill="#5a2080" opacity="0.2"/>
<rect x="386.68" y="151" width="1.31" height="4.7" fill="#5a2080" opacity="0.17"/>
<rect x="312.14" y="151" width="0.71" height="4.7" fill="#5a2080" opacity="0.26"/>
<rect x="395.21" y="151" width="0.71" height="4.7" fill="#5a2080" opacity="0.2"/>
<rect x="329.53" y="151" width="0.91" height="4.7" fill="#5a2080" opacity="0.16"/>
<rect x="407.49" y="151" width="1.31" height="4.7" fill="#5a2080" opacity="0.29"/>
<rect x="413.13" y="151" width="1.36" height="4.7" fill="#5a2080" opacity="0.15"/>
<rect x="346.25" y="151" width="1.37" height="4.7" fill="#5a2080" opacity="0.27"/>
<rect x="364.46" y="151" width="1.35" height="4.7" fill="#5a2080" opacity="0.24"/>
<rect x="425.59" y="151" width="0.76" height="4.7" fill="#5a2080" opacity="0.18"/>
<rect x="295" y="158.4" width="157.9" height="4.7" fill="url(#eT1)"/>
<text x="457.8" y="146.3" font-size="5.7" fill="#231f20">Patient</text>
<text x="457.8" y="153.9" font-size="5.7" fill="#231f20">cell state</text>
<text x="457.8" y="160.9" font-size="5.7" fill="#231f20">pseudotime</text>
<rect x="293.8" y="233.3" width="158.2" height="4.3" fill="url(#eP2)"/>
<rect x="293.8" y="240.4" width="158.2" height="4.3" fill="url(#eC2)"/>
<rect x="394.13" y="240.4" width="1.17" height="4.3" fill="#c9a400" opacity="0.34"/>
<rect x="443.17" y="240.4" width="1.17" height="4.3" fill="#c9a400" opacity="0.37"/>
<rect x="303" y="240.4" width="0.92" height="4.3" fill="#c9a400" opacity="0.37"/>
<rect x="398.13" y="240.4" width="1.31" height="4.3" fill="#c9a400" opacity="0.21"/>
<rect x="370.53" y="240.4" width="0.72" height="4.3" fill="#c9a400" opacity="0.29"/>
<rect x="386.62" y="240.4" width="0.51" height="4.3" fill="#c9a400" opacity="0.23"/>
<rect x="341.43" y="240.4" width="1.32" height="4.3" fill="#c9a400" opacity="0.34"/>
<rect x="323.04" y="240.4" width="1.22" height="4.3" fill="#c9a400" opacity="0.22"/>
<rect x="393.3" y="240.4" width="0.61" height="4.3" fill="#c9a400" opacity="0.19"/>
<rect x="432.27" y="240.4" width="0.69" height="4.3" fill="#c9a400" opacity="0.23"/>
<rect x="449.3" y="240.4" width="1.29" height="4.3" fill="#c9a400" opacity="0.24"/>
<rect x="446.09" y="240.4" width="0.99" height="4.3" fill="#c9a400" opacity="0.32"/>
<rect x="329.97" y="240.4" width="1.35" height="4.3" fill="#c9a400" opacity="0.32"/>
<rect x="446.87" y="240.4" width="1.3" height="4.3" fill="#c9a400" opacity="0.25"/>
<rect x="353.97" y="240.4" width="0.65" height="4.3" fill="#c9a400" opacity="0.22"/>
<rect x="308.54" y="240.4" width="0.77" height="4.3" fill="#c9a400" opacity="0.3"/>
<rect x="299.07" y="240.4" width="1.11" height="4.3" fill="#c9a400" opacity="0.25"/>
<rect x="346.11" y="240.4" width="1.24" height="4.3" fill="#c9a400" opacity="0.28"/>
<rect x="347.01" y="240.4" width="0.93" height="4.3" fill="#c9a400" opacity="0.32"/>
<rect x="307.29" y="240.4" width="1.38" height="4.3" fill="#c9a400" opacity="0.19"/>
<rect x="413.61" y="240.4" width="1.26" height="4.3" fill="#c9a400" opacity="0.19"/>
<rect x="419.43" y="240.4" width="0.83" height="4.3" fill="#c9a400" opacity="0.3"/>
<rect x="299.94" y="240.4" width="0.54" height="4.3" fill="#c9a400" opacity="0.22"/>
<rect x="445.12" y="240.4" width="0.68" height="4.3" fill="#c9a400" opacity="0.33"/>
<rect x="441.21" y="240.4" width="1.35" height="4.3" fill="#c9a400" opacity="0.26"/>
<rect x="352.99" y="240.4" width="0.97" height="4.3" fill="#c9a400" opacity="0.34"/>
<rect x="315.13" y="240.4" width="1.17" height="4.3" fill="#c9a400" opacity="0.34"/>
<rect x="430.47" y="240.4" width="0.53" height="4.3" fill="#c9a400" opacity="0.37"/>
<rect x="312.54" y="240.4" width="0.81" height="4.3" fill="#c9a400" opacity="0.31"/>
<rect x="439.43" y="240.4" width="0.81" height="4.3" fill="#c9a400" opacity="0.37"/>
<rect x="382.2" y="240.4" width="0.78" height="4.3" fill="#c9a400" opacity="0.25"/>
<rect x="325.78" y="240.4" width="0.57" height="4.3" fill="#c9a400" opacity="0.22"/>
<rect x="404.3" y="240.4" width="1.4" height="4.3" fill="#c9a400" opacity="0.22"/>
<rect x="306" y="240.4" width="1.39" height="4.3" fill="#c9a400" opacity="0.29"/>
<rect x="360.83" y="240.4" width="0.71" height="4.3" fill="#c9a400" opacity="0.3"/>
<rect x="425.34" y="240.4" width="0.91" height="4.3" fill="#c9a400" opacity="0.27"/>
<rect x="307.09" y="240.4" width="1.32" height="4.3" fill="#c9a400" opacity="0.2"/>
<rect x="374.29" y="240.4" width="1.25" height="4.3" fill="#c9a400" opacity="0.21"/>
<rect x="410.82" y="240.4" width="1.35" height="4.3" fill="#c9a400" opacity="0.31"/>
<rect x="419.47" y="240.4" width="0.6" height="4.3" fill="#c9a400" opacity="0.27"/>
<rect x="321.45" y="240.4" width="1.26" height="4.3" fill="#c9a400" opacity="0.25"/>
<rect x="368.08" y="240.4" width="1.4" height="4.3" fill="#c9a400" opacity="0.35"/>
<rect x="448.32" y="240.4" width="0.91" height="4.3" fill="#c9a400" opacity="0.28"/>
<rect x="410.49" y="240.4" width="0.93" height="4.3" fill="#c9a400" opacity="0.25"/>
<rect x="360.51" y="240.4" width="0.63" height="4.3" fill="#c9a400" opacity="0.26"/>
<rect x="450.22" y="240.4" width="1.36" height="4.3" fill="#c9a400" opacity="0.31"/>
<rect x="375.17" y="240.4" width="0.8" height="4.3" fill="#c9a400" opacity="0.21"/>
<rect x="340.33" y="240.4" width="1.2" height="4.3" fill="#c9a400" opacity="0.35"/>
<rect x="353.99" y="240.4" width="1.21" height="4.3" fill="#c9a400" opacity="0.34"/>
<rect x="405.13" y="240.4" width="1.1" height="4.3" fill="#c9a400" opacity="0.33"/>
<rect x="354.32" y="240.4" width="1.13" height="4.3" fill="#c9a400" opacity="0.24"/>
<rect x="373.08" y="240.4" width="1.19" height="4.3" fill="#c9a400" opacity="0.32"/>
<rect x="343.64" y="240.4" width="1.35" height="4.3" fill="#c9a400" opacity="0.31"/>
<rect x="387.65" y="240.4" width="0.51" height="4.3" fill="#c9a400" opacity="0.29"/>
<rect x="337.02" y="240.4" width="1.1" height="4.3" fill="#c9a400" opacity="0.28"/>
<rect x="293.8" y="248" width="158.2" height="4.3" fill="url(#eT2)"/>
<text x="457" y="235.7" font-size="5.7" fill="#231f20">Patient</text>
<text x="457" y="243.2" font-size="5.7" fill="#231f20">cell state</text>
<text x="457" y="250.5" font-size="5.7" fill="#231f20">pseudotime</text>
<path d="M295.38 184.03 L296.68 184.05 L297.98 183.15 L299.27 185.02 L300.57 187.35 L301.72 189.27 L302.88 190.25 L304.03 191.15 L305.33 193.02 L306.63 195 L307.92 194.48 L309.22 193.28 L310.37 194.03 L311.53 194.94 L312.68 195.94 L313.84 195.92 L314.99 196.46 L316.14 196.84 L317.3 196.73 L318.45 195.57 L319.6 195.35 L320.9 194.06 L322.2 194.1 L323.35 193.52 L324.5 192.93 L325.66 192.76 L326.96 194.2 L328.25 194.91 L329.55 197.53 L330.85 199.87 L332 200.19 L333.15 200.48 L334.31 199.77 L335.61 199.89 L336.9 199.11 L338.06 199.78 L339.21 199.6 L340.36 199.77 L341.66 199.24 L342.96 198.28 L344.26 196.78 L345.55 194.77 L346.85 193.57 L348.15 190.54 L349.3 190.12 L350.46 188.93 L351.61 188.46 L352.91 188.85 L354.2 189.58 L355.36 189.17 L356.51 188.6 L357.66 187.88 L358.82 189.02 L359.97 188.32 L361.12 188.67 L362.28 187.98 L363.43 186.32 L364.58 185.6 L365.74 185.55 L366.89 184.9 L368.04 184.78 L369.27 184.83 L370.5 184.75 L371.73 184.07 L373.03 185.04 L374.33 185.76 L375.62 185.5 L376.92 186.18 L378.07 186.58 L379.23 187.12 L380.38 186.33 L381.53 186.76 L382.69 187.17 L383.84 187.42 L384.99 186.7 L386.15 187.76 L387.3 186.78 L388.45 187.38 L389.61 186.88 L390.76 187.03 L391.91 187.52 L393.07 187.25 L394.22 187.11 L395.37 186.77 L396.53 186.95 L397.68 186.74 L398.84 187.99 L399.99 186.81 L401.14 186.52 L402.3 188.03 L403.45 187.96 L404.6 187.46 L405.76 188.1 L406.91 187.76 L408.06 188.07 L409.22 188.68 L410.37 188.87 L411.52 188.81 L412.82 190.17 L414.12 190.52 L415.42 190.96 L416.71 191.15 L417.87 191.78 L419.02 191.79 L420.17 192.05 L421.33 191.78 L422.48 190.73 L423.63 190.44 L424.93 190.71 L426.23 190.64 L427.53 191.4 L428.82 190.09 L429.98 191.13 L431.13 191.2 L432.28 192.05 L433.73 192.2 L435.17 190.01 L436.61 189.73 L438.05 189.88 L439.49 189.51 L440.93 189.63 L442.09 188.54 L443.24 189.19 L444.39 188.28 L445.55 188.77 L446.7 189.97 L447.85 190.51 L449.15 190.7 L450.45 191.27 L451.57 190.88 L452.7 190.34" fill="none" stroke="#f3dc1a" stroke-width="2.3" stroke-linejoin="round" stroke-linecap="round"/>
<path d="M295.38 182.38 L296.53 183.1 L297.69 183.68 L298.84 184.17 L299.99 184.81 L301.15 184.49 L302.3 184.13 L303.45 183.97 L304.61 184.06 L305.76 184.03 L306.91 183.86 L308.07 184.74 L309.22 184.72 L310.37 184.74 L311.53 185.05 L312.68 185.2 L313.84 185.27 L314.99 185.01 L316.14 185.14 L317.3 185.11 L318.45 184.65 L319.6 184.54 L320.84 184.53 L322.07 184.73 L323.31 184.71 L324.55 184.93 L325.78 185.06 L327.02 185.18 L328.25 184.92 L329.49 185.36 L330.72 185.09 L331.96 185.13 L333.2 185.05 L334.43 184.75 L335.67 185.2 L336.9 184.8 L338.06 185.28 L339.21 184.98 L340.36 185.2 L341.52 184.93 L342.67 184.86 L343.82 184.91 L345.12 184.19 L346.42 184.07 L347.72 183.31 L349.01 182.95 L350.25 182.64 L351.49 182.76 L352.72 182.66 L353.96 182.3 L355.19 182.03 L356.43 182.15 L357.66 182.12 L358.82 181.96 L359.97 181.76 L361.12 181.77 L362.28 181.83 L363.43 181.32 L364.58 181.69 L365.74 182.05 L366.89 181.47 L368.04 181.64 L369.24 182.02 L370.43 181.83 L371.62 181.87 L372.81 181.66 L374 181.42 L375.19 182.26 L376.29 181.7 L377.39 181.64 L378.49 181.87 L379.59 181.66 L380.7 181.46 L381.8 181.18 L382.9 181.33 L384 181.28 L385.1 181.13 L386.2 181.04 L387.3 180.97 L388.45 181.14 L389.61 181.05 L390.76 181.25 L391.91 181.37 L393.07 181.23 L394.22 181.17 L395.37 181.48 L396.53 181.3 L397.68 180.87 L398.84 181.02 L399.99 181.21 L401.14 180.99 L402.3 181.32 L403.45 180.82 L404.6 180.79 L405.76 181.4 L406.91 181.35 L408.06 180.95 L409.22 181.32 L410.37 181.61 L411.52 181.15 L412.68 181.17 L413.83 181.2 L414.98 181.28 L416.14 181.17 L417.29 181.45 L418.44 181.29 L419.6 181.63 L420.75 182.1 L421.9 181.48 L423.06 181.89 L424.21 181.96 L425.36 181.3 L426.52 181.8 L427.67 181.8 L428.82 181.76 L429.98 182.01 L431.13 181.78 L432.28 181.96 L433.44 181.84 L434.59 181.91 L435.74 181.81 L436.9 182.44 L438.05 182 L439.2 181.81 L440.33 182.35 L441.45 182.2 L442.58 181.78 L443.7 181.61 L444.83 181.52 L445.95 181.84 L447.08 181.46 L448.2 181.31 L449.33 181.55 L450.45 181.26 L451.57 181.23 L452.7 181.17" fill="none" stroke="#c4198c" stroke-width="1.7" stroke-linejoin="round" stroke-linecap="round"/>
<path d="M295.38 179.25 L296.53 178.3 L297.69 177.85 L298.84 176.99 L299.99 177.17 L301.15 176.55 L302.3 176.83 L303.6 176.95 L304.9 176.52 L306.19 176.31 L307.49 177.03 L308.79 176.45 L310.09 176.36 L311.38 175.59 L312.68 175.64 L314.12 175.56 L315.57 175.82 L317.01 175.39 L318.3 175.94 L319.6 177.34 L320.9 177.06 L322.2 178.12 L323.49 178.19 L324.79 179.04 L325.95 177.82 L327.1 176.76 L328.25 175.73 L329.41 175.84 L330.56 174.84 L331.71 174.5 L333.01 173.77 L334.31 172.24 L335.61 172.51 L336.9 171.52 L338.2 171.57 L339.5 171.39 L340.8 170.37 L342.09 170.68 L343.39 172.93 L344.69 175.25 L345.99 178.03 L347.28 180.06 L348.44 180.37 L349.59 180.81 L350.74 180.1 L351.9 181.52 L353.05 180.69 L354.2 181.63 L355.36 181.31 L356.51 182.02 L357.66 181.82 L358.82 181.54 L359.97 181.06 L361.12 181.79 L362.28 181.95 L363.43 182.13 L364.58 181.59 L365.76 181.71 L366.94 181.68 L368.12 182.01 L369.3 181.58 L370.48 181.8 L371.66 182.12 L372.83 181.62 L374.01 182.19 L375.19 181.79 L376.29 181.63 L377.39 182.13 L378.49 181.95 L379.59 181.71 L380.7 181.64 L381.8 181.86 L382.9 182.03 L384 182.33 L385.1 182.06 L386.2 181.79 L387.3 181.57 L388.45 182.1 L389.61 182.12 L390.76 182.36 L391.91 181.76 L393.07 181.47 L394.22 182.18 L395.37 181.81 L396.53 181.42 L397.68 182.4 L398.84 182.11 L399.99 181.8 L401.14 181.85 L402.3 181.47 L403.45 182.05 L404.6 181.54 L405.76 181.58 L406.91 181.67 L408.06 181.43 L409.22 182.23 L410.37 182.5 L411.52 182.23 L412.68 181.29 L413.83 181.95 L414.98 181.88 L416.14 182.28 L417.29 181.45 L418.44 181.49 L419.6 182.13 L420.75 182.67 L421.9 182.31 L423.06 183.15 L424.21 182.08 L425.36 182.39 L426.52 182.33 L427.67 182.09 L428.82 182.76 L429.98 181.92 L431.13 182.01 L432.28 182.25 L433.44 182.21 L434.59 182.77 L435.74 182.19 L436.9 182.55 L438.05 182.22 L439.2 182.82 L440.33 182.34 L441.45 182.41 L442.58 181.72 L443.7 182.51 L444.83 182.01 L445.95 182.51 L447.08 182.35 L448.2 182.34 L449.33 182.51 L450.45 182.22 L451.57 181.76 L452.7 182.03" fill="none" stroke="#2fb4e9" stroke-width="2" stroke-linejoin="round" stroke-linecap="round"/>
<path d="M295.38 171.71 L296.68 171.28 L297.98 170.38 L299.27 170.57 L300.57 170.43 L301.72 170.58 L302.88 171.11 L304.03 171.81 L305.18 172.32 L306.34 172.04 L307.49 172.85 L308.79 171.52 L310.09 171.23 L311.38 170.49 L312.68 169.13 L314.12 170.21 L315.57 170.46 L317.01 170.21 L318.3 172.36 L319.6 174.03 L320.9 174.54 L322.2 175.6 L323.35 175.07 L324.5 175.24 L325.66 174.73 L326.96 173.72 L328.25 173.15 L329.41 172.95 L330.56 172.55 L331.71 173.05 L332.87 172.47 L334.02 171.09 L335.17 171.13 L336.47 170.64 L337.77 170.5 L339.07 170.41 L340.36 170.03 L341.66 170.13 L342.96 169.71 L344.69 174.55 L345.99 177.36 L347.28 179.67 L348.44 179.66 L349.59 179.38 L350.74 180.18 L351.9 180.17 L353.05 179.56 L354.2 180.34 L355.36 179.33 L356.51 179.58 L357.66 179.06 L358.82 179.9 L359.97 179.29 L361.12 179.56 L362.28 180.4 L363.43 179.72 L364.58 180.11 L365.76 180.41 L366.94 180.27 L368.12 179.46 L369.3 180.2 L370.48 179.81 L371.66 180.26 L372.83 179.16 L374.01 179.95 L375.19 179.75 L376.49 179.3 L377.79 179.12 L379.08 179.22 L380.38 178.68 L381.53 178.72 L382.69 178.5 L383.84 178.73 L384.99 178.84 L386.15 177.98 L387.3 178.46 L388.45 178.49 L389.61 178.82 L390.76 177.97 L391.91 178.86 L393.07 178.47 L394.22 179 L395.37 179.11 L396.53 179.33 L397.68 179.32 L398.84 179.01 L399.99 179.78 L401.14 179.68 L402.3 179.05 L403.45 178.94 L404.6 178.84 L405.76 178.57 L406.91 178.76 L408.06 179.41 L409.22 179.71 L410.37 179.41 L411.52 179.28 L412.68 179.35 L413.83 179.63 L414.98 180.2 L416.14 180.03 L417.29 179.57 L418.44 179.72 L419.6 180.3 L420.75 180.35 L421.9 180.91 L423.14 180.8 L424.37 180.36 L425.61 180.06 L426.85 180.37 L428.08 179.91 L429.32 180.06 L430.55 180.65 L431.79 180.56 L433.03 180.72 L434.26 180.99 L435.5 180.35 L436.73 180.82 L437.97 180.62 L439.2 180.75 L440.44 180.8 L441.68 180.98 L442.91 180.39 L444.15 180.47 L445.38 181.05 L446.62 181.26 L447.85 181 L449.07 180.7 L450.28 179.81 L451.49 180.2 L452.7 179.44" fill="none" stroke="#62268a" stroke-width="2.2" stroke-linejoin="round" stroke-linecap="round"/>
<path d="M295.38 186.47 L296.68 186.29 L297.98 185.39 L299.27 184.6 L300.57 183.78 L301.87 184.01 L303.17 183.73 L304.46 183.6 L305.76 183.01 L307.06 182.94 L308.36 182.53 L309.65 182.59 L310.95 182.59 L312.25 182.09 L313.55 181.54 L314.84 181.97 L316.14 180.89 L317.3 181.68 L318.45 181.8 L319.6 181.75 L320.9 182.19 L322.2 181.76 L323.49 182.07 L324.79 182.3 L326.09 182.3 L327.39 181.99 L328.69 182.28 L329.98 181.59 L331.14 181.54 L332.29 181.21 L333.44 181.54 L334.6 181.53 L335.75 181.06 L336.9 180.85 L338.2 180.6 L339.5 181.02 L340.8 180.71 L342.09 180.37 L343.39 180.4 L344.69 180.25 L345.99 180.15 L347.28 179.55 L348.44 180.14 L349.59 180.24 L350.74 180.41 L351.9 180.42 L353.05 180.07 L354.2 180.37 L355.44 179.83 L356.68 180.41 L357.91 179.59 L359.15 179.98 L360.38 179.49 L361.62 179.36 L362.85 179.21 L364.15 179.57 L365.45 179.96 L366.75 180.36 L368.04 180.23 L369.24 180.43 L370.43 180.34 L371.62 180.55 L372.81 179.81 L374 179.94 L375.19 179.95 L376.34 179.7 L377.5 179.7 L378.65 179.27 L379.89 179.27 L381.12 179.13 L382.36 179.05 L383.59 178.92 L384.83 179.04 L386.07 178.69 L387.3 178.77 L388.54 179.13 L389.77 178.67 L391.01 178.88 L392.24 179.11 L393.48 179.02 L394.72 179.11 L395.95 179.9 L397.19 179.44 L398.42 179.17 L399.66 179.03 L400.89 178.75 L402.13 178.78 L403.37 178.41 L404.6 179.05 L405.9 178.48 L407.2 178.53 L408.49 178 L409.79 177.21 L411.09 177.74 L412.39 176.97 L413.69 176.63 L414.98 175.84 L416.14 175.92 L417.29 176.1 L418.44 176.68 L419.6 176.01 L420.75 176.14 L421.9 176.62 L423.06 175.77 L424.21 176.4 L425.36 175.51 L426.52 175.86 L427.67 175.3 L428.82 175.02 L429.98 175.05 L431.13 175.93 L432.28 175.73 L433.44 175.7 L434.59 176.42 L435.74 176.46 L436.9 176.45 L438.05 176.05 L439.2 176.06 L440.36 175.91 L441.51 175.63 L442.66 175.05 L443.96 175.58 L445.26 175.8 L446.56 175.56 L447.85 175.69 L449.07 175.22 L450.28 174.51 L451.49 174.42 L452.7 173.73" fill="none" stroke="#1b1f73" stroke-width="2" stroke-linejoin="round" stroke-linecap="round"/>
<line x1="287.6" y1="202.4" x2="455.6" y2="202.4" stroke="#231f20" stroke-width="0.9"/>
<line x1="287.6" y1="173.2" x2="289" y2="173.2" stroke="#231f20" stroke-width="0.8"/>
<text x="285.4" y="175" font-size="5" text-anchor="end" fill="#333">0.1</text>
<line x1="287.6" y1="182.2" x2="289" y2="182.2" stroke="#231f20" stroke-width="0.8"/>
<text x="285.4" y="184" font-size="5" text-anchor="end" fill="#333">0.0</text>
<line x1="287.6" y1="191" x2="289" y2="191" stroke="#231f20" stroke-width="0.8"/>
<text x="285.4" y="192.8" font-size="5" text-anchor="end" fill="#333">−0.1</text>
<line x1="287.6" y1="199.7" x2="289" y2="199.7" stroke="#231f20" stroke-width="0.8"/>
<text x="285.4" y="201.5" font-size="5" text-anchor="end" fill="#333">−0.2</text>
<line x1="295.4" y1="202.4" x2="295.4" y2="203.8" stroke="#231f20" stroke-width="0.7"/>
<text x="295.4" y="209.7" font-size="5" text-anchor="middle" fill="#333">0</text>
<line x1="322.2" y1="202.4" x2="322.2" y2="203.8" stroke="#231f20" stroke-width="0.7"/>
<text x="322.2" y="209.7" font-size="5" text-anchor="middle" fill="#333">500</text>
<line x1="349" y1="202.4" x2="349" y2="203.8" stroke="#231f20" stroke-width="0.7"/>
<text x="349" y="209.7" font-size="5" text-anchor="middle" fill="#333">1,000</text>
<line x1="375.6" y1="202.4" x2="375.6" y2="203.8" stroke="#231f20" stroke-width="0.7"/>
<text x="375.6" y="209.7" font-size="5" text-anchor="middle" fill="#333">1,500</text>
<line x1="402.2" y1="202.4" x2="402.2" y2="203.8" stroke="#231f20" stroke-width="0.7"/>
<text x="402.2" y="209.7" font-size="5" text-anchor="middle" fill="#333">2,000</text>
<line x1="428.9" y1="202.4" x2="428.9" y2="203.8" stroke="#231f20" stroke-width="0.7"/>
<text x="428.9" y="209.7" font-size="5" text-anchor="middle" fill="#333">2,500</text>
<text x="455.4" y="209.7" font-size="5" text-anchor="middle" fill="#333">3,000</text>
<text x="272" y="183.6" font-size="6.8" text-anchor="middle" fill="#231f20" transform="rotate(-90 272 183.6)">Motif accessibility z</text>
<text x="464.1" y="173" font-size="5.65" fill="#8656a6">EMX2</text>
<text x="464.1" y="179.8" font-size="5.65" fill="#4fbfe6">DLX5</text>
<text x="464.1" y="186.6" font-size="5.65" fill="#1f2a5a">ASCL1</text>
<text x="464.1" y="193.4" font-size="5.65" fill="#c02c80">RUNX1</text>
<text x="464.1" y="200.2" font-size="5.65" fill="#f7b45a">FOSL1</text>
<path d="M294.52 286.52 L296.25 281.06 L297.54 277.51 L298.84 274.85 L300.14 270.41 L301.44 266.06 L302.73 263.48 L304.03 260.88 L305.18 261.61 L306.34 261.13 L307.49 260.78 L308.79 261.04 L310.09 261.31 L311.38 261.13 L312.68 262.25 L313.98 262.36 L315.28 262.51 L316.57 262.17 L317.87 261.94 L319.03 262.77 L320.18 264 L321.33 265.58 L322.63 265.08 L323.93 264.55 L325.22 264.49 L326.52 264.39 L327.82 264.56 L329.12 265.05 L330.42 265.48 L331.71 265.64 L332.87 265.33 L334.02 265.41 L335.17 265.89 L336.47 265.68 L337.77 266.81 L339.07 267.55 L340.36 268.45 L341.66 268.93 L342.96 270 L344.26 270.25 L345.55 271.03 L346.71 270.99 L347.86 269.96 L349.01 270.54 L350.46 269.37 L351.9 267.4 L353.34 266.67 L354.78 267.31 L356.22 268.31 L357.66 269.57 L358.82 268.36 L359.97 269.01 L361.12 268.58 L362.42 268 L363.72 268.34 L365.02 266.97 L366.31 266.18 L367.45 267.4 L368.59 267.88 L369.73 268.17 L370.87 268.22 L372.31 268.87 L373.75 270.67 L375.19 270.16 L376.49 270.82 L377.79 270.27 L379.08 268.88 L380.38 269.37 L381.68 268.31 L382.98 267.26 L384.27 266.13 L385.57 264.89 L386.72 265.19 L387.88 265.87 L389.03 266.64 L390.18 267.46 L391.34 267.53 L392.49 268.06 L393.64 268.08 L394.8 266.46 L395.95 265.34 L397.39 264.49 L398.84 263.87 L400.28 263.62 L401.72 263.72 L403.16 264.01 L404.6 263.91 L405.9 264.5 L407.2 264.23 L408.49 264.21 L409.79 263.79 L411.09 263.82 L412.39 265.07 L413.69 265 L414.98 265.17 L416.28 265.5 L417.58 265.3 L418.88 265.88 L420.17 265.58 L421.47 265.76 L422.77 265.3 L424.07 264.83 L425.36 264.25 L426.81 265.02 L428.25 265.92 L429.69 266.95 L431.13 267.41 L432.57 268.68 L434.01 269.57 L435.31 269.08 L436.61 269.14 L437.91 270.05 L439.2 270.05 L440.65 271.04 L442.09 272.04 L443.53 273.24 L444.97 274.5 L446.41 276.38 L447.85 277.41 L449.3 277.65 L450.74 278.48 L452.18 278.82" fill="none" stroke="#f3dc1a" stroke-width="2.3" stroke-linejoin="round" stroke-linecap="round"/>
<path d="M294.52 275.01 L295.67 276.93 L296.82 278.47 L297.98 280.68 L299.13 281.32 L300.28 282.23 L301.44 282.87 L302.65 283.32 L303.86 283.12 L305.07 283.4 L306.28 283.78 L307.49 283.98 L308.64 284.62 L309.8 283.53 L310.95 283.36 L312.1 283.88 L313.26 283.77 L314.41 283.72 L315.71 283.27 L317.01 282.62 L318.3 282.84 L319.6 282.35 L320.9 283.07 L322.2 284 L323.49 283.59 L324.79 284.04 L325.95 284.52 L327.1 283.83 L328.25 284.7 L329.41 284.46 L330.56 284.49 L331.71 284.74 L333.01 284.31 L334.31 284.73 L335.61 284.25 L336.9 283.84 L338.06 284.46 L339.21 284.06 L340.36 283.91 L341.52 285.61 L342.67 285.24 L343.82 285.99 L344.98 285.32 L346.13 284.91 L347.28 285.06 L348.44 285.66 L349.59 285.38 L350.74 284.94 L351.9 285.29 L353.05 284.86 L354.2 284.92 L355.44 284.37 L356.68 283.83 L357.91 284.52 L359.15 284.6 L360.38 283.94 L361.62 284.67 L362.85 284.1 L364 284.53 L365.14 284.08 L366.29 284.2 L367.43 283.62 L368.58 283.12 L369.72 284.32 L370.87 283.93 L372.05 283.68 L373.24 283.07 L374.43 283.66 L375.62 282.95 L376.81 283.44 L378 283.54 L379.19 283.35 L380.38 282.79 L381.53 283.44 L382.69 283.39 L383.84 283.61 L384.99 283.95 L386.15 283.39 L387.3 283.42 L388.45 283.08 L389.61 284.42 L390.76 283.72 L391.91 284.52 L393.07 284.27 L394.22 284.63 L395.37 284.37 L396.53 284.52 L397.68 284.35 L398.84 284.66 L399.99 284.21 L401.14 285 L402.3 284.13 L403.45 284.61 L404.6 284.73 L405.76 284.86 L406.91 284.76 L408.06 284.43 L409.22 284.77 L410.37 283.78 L411.52 284.44 L412.68 284.63 L413.83 284.38 L414.98 284.93 L416.14 284.52 L417.29 284.7 L418.44 284.12 L419.54 284.86 L420.64 284.83 L421.75 284.08 L422.85 285.12 L423.95 284.26 L425.05 284.29 L426.15 285.01 L427.25 285.36 L428.35 285.02 L429.45 284.77 L430.55 284.61 L431.65 284.63 L432.76 284.98 L433.86 285.07 L434.96 284.64 L436.06 285.18 L437.16 284.28 L438.26 285.15 L439.36 284.79 L440.46 284.69 L441.56 285.89 L442.66 285.41 L443.85 284.94 L445.04 284.52 L446.23 285.23 L447.42 284.62 L448.61 284.18 L449.8 283.47 L450.99 284.45 L452.18 284.01" fill="none" stroke="#2fb4e9" stroke-width="2" stroke-linejoin="round" stroke-linecap="round"/>
<path d="M294.52 287.6 L295.96 286.98 L297.4 286.09 L298.84 285.36 L299.99 285.37 L301.15 284.51 L302.3 284.14 L303.45 283.34 L304.61 283.65 L305.76 283.7 L306.91 283.41 L308.07 283.63 L309.22 283.3 L310.37 283.37 L311.53 283.34 L312.68 283.2 L313.84 283.13 L314.99 283.16 L316.14 283.61 L317.3 283.36 L318.45 283.02 L319.6 283.51 L320.76 283.41 L321.91 283.22 L323.06 283.32 L324.22 282.99 L325.37 283.61 L326.52 282.93 L327.68 282.74 L328.83 282.88 L329.98 282.82 L331.14 282.99 L332.29 282.91 L333.44 283.03 L334.6 282.94 L335.75 282.92 L336.9 282.81 L338.06 282.91 L339.21 283.08 L340.36 282.88 L341.52 283.26 L342.67 283.01 L343.82 283.28 L344.98 283.17 L346.13 282.93 L347.28 283.56 L348.44 283.21 L349.59 282.77 L350.74 282.96 L351.9 282.72 L353.05 282.63 L354.2 282.81 L355.36 282.63 L356.51 282.84 L357.66 282.33 L358.82 282.61 L359.97 282.75 L361.12 282.49 L362.28 282.76 L363.43 282.71 L364.58 282.02 L365.84 282.19 L367.1 282.15 L368.35 282.56 L369.61 282.17 L370.87 281.85 L372.04 282.08 L373.21 282.08 L374.39 282.05 L375.56 281.98 L376.74 281.96 L377.91 281.74 L379.08 281.82 L380.26 281.68 L381.43 281.62 L382.61 281.59 L383.78 281.75 L384.95 281.57 L386.13 281.59 L387.3 281.25 L388.45 281.04 L389.61 281.32 L390.76 281.5 L391.91 281.3 L393.07 281.18 L394.22 280.95 L395.37 281.3 L396.53 281.05 L397.68 280.86 L398.84 281.24 L399.99 281.16 L401.14 281.37 L402.3 280.85 L403.45 280.8 L404.6 281.08 L405.76 281.41 L406.91 281.18 L408.06 281.32 L409.22 280.96 L410.37 281.34 L411.52 281.03 L412.68 281.01 L413.83 281.56 L414.98 281.69 L416.14 281.37 L417.29 281.59 L418.44 281.72 L419.6 281.61 L420.75 281.71 L421.9 281.82 L423.06 281.61 L424.21 281.6 L425.36 281.94 L426.52 282.34 L427.67 281.84 L428.82 281.86 L429.98 282.37 L431.13 281.89 L432.28 281.91 L433.44 282.47 L434.59 282.26 L435.74 282.31 L436.9 281.77 L438.05 282.49 L439.2 282.22 L440.38 282.51 L441.56 282.47 L442.74 282.78 L443.92 282.62 L445.1 282.87 L446.28 282.42 L447.46 282.82 L448.64 282.77 L449.82 282.59 L451 282.47 L452.18 282.8" fill="none" stroke="#c4198c" stroke-width="1.7" stroke-linejoin="round" stroke-linecap="round"/>
<path d="M294.52 269.21 L295.81 271.58 L297.11 274.32 L298.41 277.33 L299.71 280.31 L301 283.17 L302.3 285.78 L303.45 285.67 L304.61 286.03 L305.76 286.66 L306.91 286.18 L308.07 285.96 L309.22 285.57 L310.37 285.03 L311.53 285.35 L312.68 284.85 L313.84 285.35 L314.99 285.44 L316.14 285.58 L317.3 286.2 L318.45 285.78 L319.6 286.64 L320.76 286.28 L321.91 287 L323.06 285.67 L324.22 285.66 L325.37 285.95 L326.52 286 L327.68 285.48 L328.83 285.71 L329.98 285.33 L331.14 284.65 L332.29 285.11 L333.44 285.16 L334.74 285.43 L336.04 285.69 L337.34 285.85 L338.63 286.85 L339.93 287.53 L341.23 286.97 L342.53 288.11 L343.82 287.69 L344.98 288.11 L346.13 286.81 L347.28 287.4 L348.44 287.39 L349.59 286.37 L350.74 286.12 L351.9 286.49 L353.05 286.21 L354.2 286.27 L355.36 286.5 L356.51 285.46 L357.66 285.81 L358.82 285.48 L359.97 285.53 L361.12 286.68 L362.28 286.5 L363.43 288.06 L364.58 288.63 L365.84 288.15 L367.1 287.06 L368.35 287.01 L369.61 286.33 L370.87 286.52 L372.31 285.66 L373.75 285.82 L375.19 285.01 L376.49 285.07 L377.79 286.68 L379.08 286.89 L380.38 287.76 L381.53 287.18 L382.69 287.34 L383.84 286.99 L384.99 286.59 L386.15 286.51 L387.3 285.95 L388.45 286.13 L389.61 286.04 L390.76 285.85 L391.91 287.33 L393.07 287.39 L394.22 287.08 L395.37 287.9 L396.53 287.81 L397.68 287.93 L398.84 288.69 L399.99 288.54 L401.14 287.85 L402.3 288.07 L403.45 288.11 L404.6 287.86 L405.76 287.37 L406.91 286.76 L408.06 286.73 L409.22 286.17 L410.37 287.51 L411.52 287.27 L412.68 287.33 L413.83 287.5 L414.98 288.04 L416.14 287.6 L417.29 287.46 L418.44 287.38 L419.6 288.25 L420.75 287.51 L421.9 287.65 L423.06 287.45 L424.21 286.96 L425.36 287.31 L426.52 286.83 L427.67 286.48 L428.82 286.24 L429.98 286.61 L431.13 286.72 L432.28 287.51 L433.44 286.28 L434.59 287.72 L435.74 287.98 L436.9 287.87 L438.05 286.93 L439.2 286.74 L440.36 287.34 L441.51 286.98 L442.66 286.71 L443.96 286.08 L445.26 286.07 L446.56 285.53 L447.85 286.32 L449.3 285.82 L450.74 285.01 L452.18 284.87" fill="none" stroke="#62268a" stroke-width="2.1" stroke-linejoin="round" stroke-linecap="round"/>
<path d="M294.52 289.46 L295.96 289.06 L297.4 288.34 L298.84 288.82 L299.99 288.78 L301.15 289.34 L302.3 289.43 L303.45 289.58 L304.61 290.04 L305.76 290.67 L306.91 290.11 L308.07 290.16 L309.22 290.02 L310.37 290.25 L311.53 290.63 L312.68 290.59 L313.84 290.63 L314.99 290.71 L316.14 291.05 L317.3 291.14 L318.45 291.24 L319.6 290.71 L320.84 290.64 L322.07 290.88 L323.31 290.74 L324.55 290.3 L325.78 290.26 L327.02 290.42 L328.25 290.03 L329.49 290 L330.72 290.39 L331.96 290.29 L333.2 290.7 L334.43 290.74 L335.67 290.73 L336.9 290.7 L338.14 291.25 L339.37 290.86 L340.61 291.18 L341.85 291.13 L343.08 291.31 L344.32 291.28 L345.55 291.7 L346.79 291.4 L348.03 291.03 L349.26 290.91 L350.5 291.33 L351.73 291.02 L352.97 291.31 L354.2 291.05 L355.44 291.33 L356.68 290.72 L357.91 291.06 L359.15 291.54 L360.38 290.98 L361.62 291.55 L362.85 291.43 L364 291.56 L365.14 291.07 L366.29 290.82 L367.43 291.06 L368.58 291.25 L369.72 290.26 L370.87 290.48 L372.31 289.81 L373.75 289.72 L375.19 289.31 L376.34 288.44 L377.5 287.7 L378.65 287.49 L379.95 287.26 L381.25 287.26 L382.54 286.81 L383.84 286.87 L384.99 286.82 L386.15 287.27 L387.3 287.3 L388.45 286.84 L389.61 287.26 L390.76 287.58 L391.91 287.55 L393.07 287.85 L394.22 288.33 L395.37 287.83 L396.53 288.02 L397.68 288.12 L398.84 288.75 L399.99 289.19 L401.14 288.56 L402.3 289.51 L403.45 288.71 L404.6 289.24 L405.84 289.17 L407.07 289.14 L408.31 288.81 L409.55 288.62 L410.78 288.79 L412.02 289.02 L413.25 288.63 L414.49 288.86 L415.72 288.95 L416.96 289.28 L418.2 288.71 L419.43 289.46 L420.67 289.62 L421.9 288.92 L423.14 289.41 L424.37 288.6 L425.61 288.78 L426.85 288.84 L428.08 288.83 L429.32 288.3 L430.55 288.51 L431.79 288.23 L433.03 288.83 L434.26 288.31 L435.5 288.56 L436.73 288.32 L437.97 288.52 L439.2 287.7 L440.36 288.27 L441.51 287.86 L442.66 287.93 L443.82 288.2 L444.97 288.26 L446.12 287.77 L447.34 287.59 L448.55 287.93 L449.76 287.18 L450.97 287.13 L452.18 286.6" fill="none" stroke="#1b1f73" stroke-width="1.9" stroke-linejoin="round" stroke-linecap="round"/>
<line x1="287" y1="293.5" x2="459" y2="293.5" stroke="#231f20" stroke-width="0.9"/>
<line x1="287" y1="259.7" x2="288.4" y2="259.7" stroke="#231f20" stroke-width="0.8"/>
<text x="285.2" y="261.5" font-size="5" text-anchor="end" fill="#444">0.2</text>
<line x1="287" y1="272.1" x2="288.4" y2="272.1" stroke="#231f20" stroke-width="0.8"/>
<text x="285.2" y="273.9" font-size="5" text-anchor="end" fill="#444">0.1</text>
<line x1="287" y1="284.4" x2="288.4" y2="284.4" stroke="#231f20" stroke-width="0.8"/>
<text x="285.2" y="286.2" font-size="5" text-anchor="end" fill="#444">0.0</text>
<line x1="295" y1="293.5" x2="295" y2="294.9" stroke="#231f20" stroke-width="0.7"/>
<text x="295" y="301.1" font-size="5" text-anchor="middle" fill="#333">0</text>
<line x1="317.9" y1="293.5" x2="317.9" y2="294.9" stroke="#231f20" stroke-width="0.7"/>
<text x="317.9" y="301.1" font-size="5" text-anchor="middle" fill="#333">250</text>
<line x1="341.2" y1="293.5" x2="341.2" y2="294.9" stroke="#231f20" stroke-width="0.7"/>
<text x="341.2" y="301.1" font-size="5" text-anchor="middle" fill="#333">500</text>
<line x1="364.2" y1="293.5" x2="364.2" y2="294.9" stroke="#231f20" stroke-width="0.7"/>
<text x="364.2" y="301.1" font-size="5" text-anchor="middle" fill="#333">750</text>
<line x1="387.3" y1="293.5" x2="387.3" y2="294.9" stroke="#231f20" stroke-width="0.7"/>
<text x="387.3" y="301.1" font-size="5" text-anchor="middle" fill="#333">1,000</text>
<line x1="411" y1="293.5" x2="411" y2="294.9" stroke="#231f20" stroke-width="0.7"/>
<text x="411" y="301.1" font-size="5" text-anchor="middle" fill="#333">1,250</text>
<line x1="434.4" y1="293.5" x2="434.4" y2="294.9" stroke="#231f20" stroke-width="0.7"/>
<text x="434.4" y="301.1" font-size="5" text-anchor="middle" fill="#333">1,500</text>
<text x="456.6" y="301.1" font-size="5" text-anchor="middle" fill="#333">1,750</text>
<text x="272" y="276" font-size="6.8" text-anchor="middle" fill="#231f20" transform="rotate(-90 272 276)">Motif accessibility z</text>
<text x="464.1" y="263" font-size="5.65" fill="#f7b45a">FOSL1</text>
<text x="464.1" y="269.82" font-size="5.65" fill="#8656a6">EMX2</text>
<text x="464.1" y="276.64" font-size="5.65" fill="#4fbfe6">DLX5</text>
<text x="464.1" y="283.46" font-size="5.65" fill="#c02c80">RUNX1</text>
<text x="464.1" y="290.28" font-size="5.65" fill="#1f2a5a">ASCL1</text>
<text x="371.5" y="314.6" font-size="6.8" text-anchor="middle" fill="#231f20">Sorted cells</text>
<rect x="275.2" y="318.7" width="200.4" height="17.6" fill="#fff" stroke="#333" stroke-width="0.6"/>
<line x1="399.6" y1="318.7" x2="399.6" y2="336.3" stroke="#333" stroke-width="0.6"/>
<circle cx="279.4" cy="324.2" r="1.8" fill="#1b2a6b"/>
<text x="282.7" y="326" font-size="5" fill="#111" class="dv" stroke="#111" stroke-width="0.1">GLICO_320</text>
<circle cx="320.6" cy="324.2" r="1.8" fill="#d6c046"/>
<text x="323.9" y="326" font-size="5" fill="#111" class="dv" stroke="#111" stroke-width="0.1">GLICO_728</text>
<circle cx="360.4" cy="324.2" r="1.8" fill="#8e5a9e"/>
<text x="363.7" y="326" font-size="5" fill="#111" class="dv" stroke="#111" stroke-width="0.1">GLICO_810</text>
<circle cx="279.4" cy="331.5" r="1.8" fill="#35b6e6"/>
<text x="282.7" y="333.3" font-size="5" fill="#111" class="dv" stroke="#111" stroke-width="0.1">GLICO_607</text>
<circle cx="320.6" cy="331.5" r="1.8" fill="#2e9a5e"/>
<text x="323.9" y="333.3" font-size="5" fill="#111" class="dv" stroke="#111" stroke-width="0.1">GLICO_1206</text>
<circle cx="411.2" cy="324.1" r="1.8" fill="#c4198c"/>
<text x="414" y="325.9" font-size="5" fill="#111" class="dv" stroke="#111" stroke-width="0.1">AC</text>
<circle cx="434.2" cy="324.1" r="1.8" fill="#35b6e6"/>
<text x="437" y="325.9" font-size="5" fill="#111" class="dv" stroke="#111" stroke-width="0.1">NPC</text>
<circle cx="456.2" cy="324.1" r="1.8" fill="#d0d0d0"/>
<text x="459" y="325.9" font-size="5" fill="#111" class="dv" stroke="#111" stroke-width="0.1">RG</text>
<circle cx="411.2" cy="331.3" r="1.8" fill="#f7c531"/>
<text x="414" y="333.1" font-size="5" fill="#111" class="dv" stroke="#111" stroke-width="0.1">MES</text>
<circle cx="434.2" cy="331.3" r="1.8" fill="#1b1f73"/>
<text x="437" y="333.1" font-size="5" fill="#111" class="dv" stroke="#111" stroke-width="0.1">OPC</text>
</g>
<g id="panelF">
<text x="250.4" y="354.8" font-size="12.9" font-weight="bold" fill="#000">F</text>
<text x="270.4" y="369.4" font-size="6.9" fill="#231f20">TCGA</text>
<text x="270.4" y="378.2" font-size="6.9" fill="#231f20">cohort</text>
<rect x="293.6" y="361.6" width="34" height="18.6" fill="#fff" stroke="#666" stroke-width="0.7"/>
<circle cx="300.8" cy="367.4" r="1.2" fill="#cdcdcd"/>
<circle cx="300.8" cy="376" r="1.4" fill="#000"/>
<text x="306" y="369.6" font-size="7" fill="#231f20">LGG</text>
<text x="306" y="378.4" font-size="7" fill="#231f20">GBM</text>
<g shape-rendering="crispEdges">
<rect x="288.5" y="393.3" width="9.6" height="13.71" fill="#f7fbff"/>
<rect x="297.8" y="393.3" width="9.6" height="13.71" fill="#81badb"/>
<rect x="307.09" y="393.3" width="9.6" height="13.71" fill="#81badb"/>
<rect x="316.38" y="393.3" width="9.6" height="13.71" fill="#3e8ec4"/>
<rect x="325.68" y="393.3" width="9.6" height="13.71" fill="#81badb"/>
<rect x="334.98" y="393.3" width="9.6" height="13.71" fill="#cadef0"/>
<rect x="344.27" y="393.3" width="9.6" height="13.71" fill="#6dafd6"/>
<rect x="353.56" y="393.3" width="9.6" height="13.71" fill="#5ca4d0"/>
<rect x="362.86" y="393.3" width="9.6" height="13.71" fill="#1561a9"/>
<rect x="372.15" y="393.3" width="9.6" height="13.71" fill="#81badb"/>
<rect x="381.45" y="393.3" width="9.6" height="13.71" fill="#3e8ec4"/>
<rect x="390.75" y="393.3" width="9.6" height="13.71" fill="#e0ecf8"/>
<rect x="400.04" y="393.3" width="9.6" height="13.71" fill="#81badb"/>
<rect x="409.33" y="393.3" width="9.6" height="13.71" fill="#bbd6eb"/>
<rect x="418.63" y="393.3" width="9.6" height="13.71" fill="#bbd6eb"/>
<rect x="427.93" y="393.3" width="9.6" height="13.71" fill="#2777b8"/>
<rect x="437.22" y="393.3" width="9.6" height="13.71" fill="#3e8ec4"/>
<rect x="446.51" y="393.3" width="9.6" height="13.71" fill="#bbd6eb"/>
<rect x="455.81" y="393.3" width="9.6" height="13.71" fill="#ebf4fb"/>
<rect x="465.11" y="393.3" width="9.6" height="13.71" fill="#bbd6eb"/>
<rect x="288.5" y="406.71" width="9.6" height="13.71" fill="#e0ecf8"/>
<rect x="297.8" y="406.71" width="9.6" height="13.71" fill="#a9cfe5"/>
<rect x="307.09" y="406.71" width="9.6" height="13.71" fill="#bbd6eb"/>
<rect x="316.38" y="406.71" width="9.6" height="13.71" fill="#4d99ca"/>
<rect x="325.68" y="406.71" width="9.6" height="13.71" fill="#a9cfe5"/>
<rect x="334.98" y="406.71" width="9.6" height="13.71" fill="#bbd6eb"/>
<rect x="344.27" y="406.71" width="9.6" height="13.71" fill="#a9cfe5"/>
<rect x="353.56" y="406.71" width="9.6" height="13.71" fill="#5ca4d0"/>
<rect x="362.86" y="406.71" width="9.6" height="13.71" fill="#97c6df"/>
<rect x="372.15" y="406.71" width="9.6" height="13.71" fill="#3282be"/>
<rect x="381.45" y="406.71" width="9.6" height="13.71" fill="#5ca4d0"/>
<rect x="390.75" y="406.71" width="9.6" height="13.71" fill="#f7fbff"/>
<rect x="400.04" y="406.71" width="9.6" height="13.71" fill="#3282be"/>
<rect x="409.33" y="406.71" width="9.6" height="13.71" fill="#97c6df"/>
<rect x="418.63" y="406.71" width="9.6" height="13.71" fill="#81badb"/>
<rect x="427.93" y="406.71" width="9.6" height="13.71" fill="#2777b8"/>
<rect x="437.22" y="406.71" width="9.6" height="13.71" fill="#2777b8"/>
<rect x="446.51" y="406.71" width="9.6" height="13.71" fill="#1561a9"/>
<rect x="455.81" y="406.71" width="9.6" height="13.71" fill="#6dafd6"/>
<rect x="465.11" y="406.71" width="9.6" height="13.71" fill="#3e8ec4"/>
<rect x="288.5" y="420.12" width="9.6" height="13.71" fill="#cadef0"/>
<rect x="297.8" y="420.12" width="9.6" height="13.71" fill="#a9cfe5"/>
<rect x="307.09" y="420.12" width="9.6" height="13.71" fill="#e0ecf8"/>
<rect x="316.38" y="420.12" width="9.6" height="13.71" fill="#1d6cb1"/>
<rect x="325.68" y="420.12" width="9.6" height="13.71" fill="#f7fbff"/>
<rect x="334.98" y="420.12" width="9.6" height="13.71" fill="#f7fbff"/>
<rect x="344.27" y="420.12" width="9.6" height="13.71" fill="#cadef0"/>
<rect x="353.56" y="420.12" width="9.6" height="13.71" fill="#bbd6eb"/>
<rect x="362.86" y="420.12" width="9.6" height="13.71" fill="#d5e5f4"/>
<rect x="372.15" y="420.12" width="9.6" height="13.71" fill="#3282be"/>
<rect x="381.45" y="420.12" width="9.6" height="13.71" fill="#6dafd6"/>
<rect x="390.75" y="420.12" width="9.6" height="13.71" fill="#cadef0"/>
<rect x="400.04" y="420.12" width="9.6" height="13.71" fill="#1d6cb1"/>
<rect x="409.33" y="420.12" width="9.6" height="13.71" fill="#3282be"/>
<rect x="418.63" y="420.12" width="9.6" height="13.71" fill="#6dafd6"/>
<rect x="427.93" y="420.12" width="9.6" height="13.71" fill="#1d6cb1"/>
<rect x="437.22" y="420.12" width="9.6" height="13.71" fill="#0d57a1"/>
<rect x="446.51" y="420.12" width="9.6" height="13.71" fill="#1561a9"/>
<rect x="455.81" y="420.12" width="9.6" height="13.71" fill="#6dafd6"/>
<rect x="465.11" y="420.12" width="9.6" height="13.71" fill="#1561a9"/>
<rect x="288.5" y="433.53" width="9.6" height="13.71" fill="#1561a9"/>
<rect x="297.8" y="433.53" width="9.6" height="13.71" fill="#3e8ec4"/>
<rect x="307.09" y="433.53" width="9.6" height="13.71" fill="#4d99ca"/>
<rect x="316.38" y="433.53" width="9.6" height="13.71" fill="#bbd6eb"/>
<rect x="325.68" y="433.53" width="9.6" height="13.71" fill="#d5e5f4"/>
<rect x="334.98" y="433.53" width="9.6" height="13.71" fill="#bbd6eb"/>
<rect x="344.27" y="433.53" width="9.6" height="13.71" fill="#a9cfe5"/>
<rect x="353.56" y="433.53" width="9.6" height="13.71" fill="#a9cfe5"/>
<rect x="362.86" y="433.53" width="9.6" height="13.71" fill="#f7fbff"/>
<rect x="372.15" y="433.53" width="9.6" height="13.71" fill="#e0ecf8"/>
<rect x="381.45" y="433.53" width="9.6" height="13.71" fill="#5ca4d0"/>
<rect x="390.75" y="433.53" width="9.6" height="13.71" fill="#e0ecf8"/>
<rect x="400.04" y="433.53" width="9.6" height="13.71" fill="#e0ecf8"/>
<rect x="409.33" y="433.53" width="9.6" height="13.71" fill="#d5e5f4"/>
<rect x="418.63" y="433.53" width="9.6" height="13.71" fill="#d5e5f4"/>
<rect x="427.93" y="433.53" width="9.6" height="13.71" fill="#ebf4fb"/>
<rect x="437.22" y="433.53" width="9.6" height="13.71" fill="#d5e5f4"/>
<rect x="446.51" y="433.53" width="9.6" height="13.71" fill="#97c6df"/>
<rect x="455.81" y="433.53" width="9.6" height="13.71" fill="#f7fbff"/>
<rect x="465.11" y="433.53" width="9.6" height="13.71" fill="#3e8ec4"/>
<rect x="288.5" y="446.94" width="9.6" height="13.71" fill="#1561a9"/>
<rect x="297.8" y="446.94" width="9.6" height="13.71" fill="#3e8ec4"/>
<rect x="307.09" y="446.94" width="9.6" height="13.71" fill="#4d99ca"/>
<rect x="316.38" y="446.94" width="9.6" height="13.71" fill="#81badb"/>
<rect x="325.68" y="446.94" width="9.6" height="13.71" fill="#e0ecf8"/>
<rect x="334.98" y="446.94" width="9.6" height="13.71" fill="#bbd6eb"/>
<rect x="344.27" y="446.94" width="9.6" height="13.71" fill="#a9cfe5"/>
<rect x="353.56" y="446.94" width="9.6" height="13.71" fill="#a9cfe5"/>
<rect x="362.86" y="446.94" width="9.6" height="13.71" fill="#f7fbff"/>
<rect x="372.15" y="446.94" width="9.6" height="13.71" fill="#cadef0"/>
<rect x="381.45" y="446.94" width="9.6" height="13.71" fill="#5ca4d0"/>
<rect x="390.75" y="446.94" width="9.6" height="13.71" fill="#bbd6eb"/>
<rect x="400.04" y="446.94" width="9.6" height="13.71" fill="#cadef0"/>
<rect x="409.33" y="446.94" width="9.6" height="13.71" fill="#81badb"/>
<rect x="418.63" y="446.94" width="9.6" height="13.71" fill="#d5e5f4"/>
<rect x="427.93" y="446.94" width="9.6" height="13.71" fill="#d5e5f4"/>
<rect x="437.22" y="446.94" width="9.6" height="13.71" fill="#97c6df"/>
<rect x="446.51" y="446.94" width="9.6" height="13.71" fill="#81badb"/>
<rect x="455.81" y="446.94" width="9.6" height="13.71" fill="#e0ecf8"/>
<rect x="465.11" y="446.94" width="9.6" height="13.71" fill="#3e8ec4"/>
<rect x="288.5" y="460.35" width="9.6" height="13.71" fill="#3282be"/>
<rect x="297.8" y="460.35" width="9.6" height="13.71" fill="#1d6cb1"/>
<rect x="307.09" y="460.35" width="9.6" height="13.71" fill="#1561a9"/>
<rect x="316.38" y="460.35" width="9.6" height="13.71" fill="#4d99ca"/>
<rect x="325.68" y="460.35" width="9.6" height="13.71" fill="#2777b8"/>
<rect x="334.98" y="460.35" width="9.6" height="13.71" fill="#2777b8"/>
<rect x="344.27" y="460.35" width="9.6" height="13.71" fill="#3282be"/>
<rect x="353.56" y="460.35" width="9.6" height="13.71" fill="#2777b8"/>
<rect x="362.86" y="460.35" width="9.6" height="13.71" fill="#97c6df"/>
<rect x="372.15" y="460.35" width="9.6" height="13.71" fill="#3e8ec4"/>
<rect x="381.45" y="460.35" width="9.6" height="13.71" fill="#5ca4d0"/>
<rect x="390.75" y="460.35" width="9.6" height="13.71" fill="#6dafd6"/>
<rect x="400.04" y="460.35" width="9.6" height="13.71" fill="#6dafd6"/>
<rect x="409.33" y="460.35" width="9.6" height="13.71" fill="#81badb"/>
<rect x="418.63" y="460.35" width="9.6" height="13.71" fill="#2777b8"/>
<rect x="427.93" y="460.35" width="9.6" height="13.71" fill="#d5e5f4"/>
<rect x="437.22" y="460.35" width="9.6" height="13.71" fill="#cadef0"/>
<rect x="446.51" y="460.35" width="9.6" height="13.71" fill="#a9cfe5"/>
<rect x="455.81" y="460.35" width="9.6" height="13.71" fill="#f7fbff"/>
<rect x="465.11" y="460.35" width="9.6" height="13.71" fill="#5ca4d0"/>
<rect x="288.5" y="473.76" width="9.6" height="13.71" fill="#1561a9"/>
<rect x="297.8" y="473.76" width="9.6" height="13.71" fill="#6dafd6"/>
<rect x="307.09" y="473.76" width="9.6" height="13.71" fill="#6dafd6"/>
<rect x="316.38" y="473.76" width="9.6" height="13.71" fill="#1561a9"/>
<rect x="325.68" y="473.76" width="9.6" height="13.71" fill="#bbd6eb"/>
<rect x="334.98" y="473.76" width="9.6" height="13.71" fill="#a9cfe5"/>
<rect x="344.27" y="473.76" width="9.6" height="13.71" fill="#bbd6eb"/>
<rect x="353.56" y="473.76" width="9.6" height="13.71" fill="#bbd6eb"/>
<rect x="362.86" y="473.76" width="9.6" height="13.71" fill="#a9cfe5"/>
<rect x="372.15" y="473.76" width="9.6" height="13.71" fill="#5ca4d0"/>
<rect x="381.45" y="473.76" width="9.6" height="13.71" fill="#4d99ca"/>
<rect x="390.75" y="473.76" width="9.6" height="13.71" fill="#e0ecf8"/>
<rect x="400.04" y="473.76" width="9.6" height="13.71" fill="#d5e5f4"/>
<rect x="409.33" y="473.76" width="9.6" height="13.71" fill="#d5e5f4"/>
<rect x="418.63" y="473.76" width="9.6" height="13.71" fill="#d5e5f4"/>
<rect x="427.93" y="473.76" width="9.6" height="13.71" fill="#ebf4fb"/>
<rect x="437.22" y="473.76" width="9.6" height="13.71" fill="#e0ecf8"/>
<rect x="446.51" y="473.76" width="9.6" height="13.71" fill="#d5e5f4"/>
<rect x="455.81" y="473.76" width="9.6" height="13.71" fill="#f7fbff"/>
<rect x="465.11" y="473.76" width="9.6" height="13.71" fill="#6dafd6"/>
<rect x="288.5" y="487.17" width="9.6" height="13.71" fill="#81badb"/>
<rect x="297.8" y="487.17" width="9.6" height="13.71" fill="#97c6df"/>
<rect x="307.09" y="487.17" width="9.6" height="13.71" fill="#81badb"/>
<rect x="316.38" y="487.17" width="9.6" height="13.71" fill="#1561a9"/>
<rect x="325.68" y="487.17" width="9.6" height="13.71" fill="#81badb"/>
<rect x="334.98" y="487.17" width="9.6" height="13.71" fill="#6dafd6"/>
<rect x="344.27" y="487.17" width="9.6" height="13.71" fill="#a9cfe5"/>
<rect x="353.56" y="487.17" width="9.6" height="13.71" fill="#97c6df"/>
<rect x="362.86" y="487.17" width="9.6" height="13.71" fill="#3e8ec4"/>
<rect x="372.15" y="487.17" width="9.6" height="13.71" fill="#3e8ec4"/>
<rect x="381.45" y="487.17" width="9.6" height="13.71" fill="#4d99ca"/>
<rect x="390.75" y="487.17" width="9.6" height="13.71" fill="#d5e5f4"/>
<rect x="400.04" y="487.17" width="9.6" height="13.71" fill="#d5e5f4"/>
<rect x="409.33" y="487.17" width="9.6" height="13.71" fill="#cadef0"/>
<rect x="418.63" y="487.17" width="9.6" height="13.71" fill="#97c6df"/>
<rect x="427.93" y="487.17" width="9.6" height="13.71" fill="#d5e5f4"/>
<rect x="437.22" y="487.17" width="9.6" height="13.71" fill="#d5e5f4"/>
<rect x="446.51" y="487.17" width="9.6" height="13.71" fill="#e0ecf8"/>
<rect x="455.81" y="487.17" width="9.6" height="13.71" fill="#f7fbff"/>
<rect x="465.11" y="487.17" width="9.6" height="13.71" fill="#d5e5f4"/>
<rect x="282.1" y="393.3" width="6.2" height="13.71" fill="#c5b0d5"/>
<rect x="282.1" y="406.71" width="6.2" height="13.71" fill="#8c564b"/>
<rect x="282.1" y="420.12" width="6.2" height="13.71" fill="#e377c2"/>
<rect x="282.1" y="433.53" width="6.2" height="13.71" fill="#aec7e8"/>
<rect x="282.1" y="446.94" width="6.2" height="13.71" fill="#98df8a"/>
<rect x="282.1" y="460.35" width="6.2" height="13.71" fill="#ff9896"/>
<rect x="282.1" y="473.76" width="6.2" height="13.71" fill="#ffbb78"/>
<rect x="282.1" y="487.17" width="6.2" height="13.71" fill="#d62728"/>
<rect x="288.5" y="390" width="9.6" height="3" fill="#dedede"/>
<rect x="297.8" y="390" width="9.6" height="3" fill="#dedede"/>
<rect x="307.09" y="390" width="9.6" height="3" fill="#dedede"/>
<rect x="316.38" y="390" width="9.6" height="3" fill="#dedede"/>
<rect x="325.68" y="390" width="9.6" height="3" fill="#dedede"/>
<rect x="334.98" y="390" width="9.6" height="3" fill="#dedede"/>
<rect x="344.27" y="390" width="9.6" height="3" fill="#dedede"/>
<rect x="353.56" y="390" width="9.6" height="3" fill="#dedede"/>
<rect x="362.86" y="389.8" width="9.6" height="3.5" fill="#111"/>
<rect x="362.86" y="385.6" width="9.6" height="4.3" fill="#1e8449"/>
<rect x="372.15" y="389.8" width="9.6" height="3.5" fill="#111"/>
<rect x="372.15" y="385.6" width="9.6" height="4.3" fill="#4a80b4"/>
<rect x="381.45" y="389.8" width="9.6" height="3.5" fill="#111"/>
<rect x="381.45" y="385.6" width="9.6" height="4.3" fill="#4a80b4"/>
<rect x="390.75" y="390" width="9.6" height="3" fill="#dedede"/>
<rect x="390.75" y="385.6" width="9.6" height="4.3" fill="#8e2a8e"/>
<rect x="400.04" y="389.8" width="9.6" height="3.5" fill="#111"/>
<rect x="409.33" y="389.8" width="9.6" height="3.5" fill="#111"/>
<rect x="418.63" y="390" width="9.6" height="3" fill="#dedede"/>
<rect x="418.63" y="385.6" width="9.6" height="4.3" fill="#e2a626"/>
<rect x="427.93" y="389.8" width="9.6" height="3.5" fill="#111"/>
<rect x="427.93" y="385.6" width="9.6" height="4.3" fill="#e2a626"/>
<rect x="437.22" y="389.8" width="9.6" height="3.5" fill="#111"/>
<rect x="437.22" y="385.6" width="9.6" height="4.3" fill="#8c1414"/>
<rect x="446.51" y="390" width="9.6" height="3" fill="#dedede"/>
<rect x="446.51" y="385.6" width="9.6" height="4.3" fill="#8c1414"/>
<rect x="455.81" y="389.8" width="9.6" height="3.5" fill="#111"/>
<rect x="455.81" y="385.6" width="9.6" height="4.3" fill="#8c1414"/>
<rect x="465.11" y="389.8" width="9.6" height="3.5" fill="#111"/>
<rect x="465.11" y="385.6" width="9.6" height="4.3" fill="#8c1414"/>
</g>
<path d="M282 413.42 H277 V426.82 H282" fill="none" stroke="#4d4d4d" stroke-width="0.7"/>
<path d="M282 400 H273.8 V420.12 H277" fill="none" stroke="#4d4d4d" stroke-width="0.7"/>
<path d="M282 440.24 H280.4 V453.64 H282" fill="none" stroke="#4d4d4d" stroke-width="0.7"/>
<path d="M282 480.47 H279.5 V493.88 H282" fill="none" stroke="#4d4d4d" stroke-width="0.7"/>
<path d="M282 467.06 H277 V487.17 H279.5" fill="none" stroke="#4d4d4d" stroke-width="0.7"/>
<path d="M280.4 446.94 H271.6 V477.11 H277" fill="none" stroke="#4d4d4d" stroke-width="0.7"/>
<path d="M273.8 410.06 H261 V462.03 H271.6" fill="none" stroke="#4d4d4d" stroke-width="0.7"/>
<line x1="474.7" y1="400" x2="476.2" y2="400" stroke="#222" stroke-width="0.7"/>
<text x="478.2" y="401.81" font-size="4.75" fill="#1a1a1a" class="dv" stroke="#1a1a1a" stroke-width="0.06">C10</text>
<line x1="474.7" y1="413.42" x2="476.2" y2="413.42" stroke="#222" stroke-width="0.7"/>
<text x="478.2" y="415.22" font-size="4.75" fill="#1a1a1a" class="dv" stroke="#1a1a1a" stroke-width="0.06">C11</text>
<line x1="474.7" y1="426.82" x2="476.2" y2="426.82" stroke="#222" stroke-width="0.7"/>
<text x="478.2" y="428.62" font-size="4.75" fill="#1a1a1a" class="dv" stroke="#1a1a1a" stroke-width="0.06">C13</text>
<line x1="474.7" y1="440.24" x2="476.2" y2="440.24" stroke="#222" stroke-width="0.7"/>
<text x="478.2" y="442.04" font-size="4.75" fill="#1a1a1a" class="dv" stroke="#1a1a1a" stroke-width="0.06">C2</text>
<line x1="474.7" y1="453.64" x2="476.2" y2="453.64" stroke="#222" stroke-width="0.7"/>
<text x="478.2" y="455.44" font-size="4.75" fill="#1a1a1a" class="dv" stroke="#1a1a1a" stroke-width="0.06">C6</text>
<line x1="474.7" y1="467.06" x2="476.2" y2="467.06" stroke="#222" stroke-width="0.7"/>
<text x="478.2" y="468.86" font-size="4.75" fill="#1a1a1a" class="dv" stroke="#1a1a1a" stroke-width="0.06">C8</text>
<line x1="474.7" y1="480.47" x2="476.2" y2="480.47" stroke="#222" stroke-width="0.7"/>
<text x="478.2" y="482.27" font-size="4.75" fill="#1a1a1a" class="dv" stroke="#1a1a1a" stroke-width="0.06">C4</text>
<line x1="474.7" y1="493.88" x2="476.2" y2="493.88" stroke="#222" stroke-width="0.7"/>
<text x="478.2" y="495.68" font-size="4.75" fill="#1a1a1a" class="dv" stroke="#1a1a1a" stroke-width="0.06">C7</text>
<line x1="491.7" y1="394.6" x2="491.7" y2="405.3" stroke="#666" stroke-width="0.6"/>
<text x="495.4" y="399.95" font-size="5.6" text-anchor="middle" fill="#222" transform="rotate(90 495.4 399.95)">RG</text>
<line x1="491.7" y1="411" x2="491.7" y2="430.8" stroke="#666" stroke-width="0.6"/>
<text x="495.4" y="420.9" font-size="5.6" text-anchor="middle" fill="#222" transform="rotate(90 495.4 420.9)">AC</text>
<line x1="491.7" y1="436.2" x2="491.7" y2="456.4" stroke="#666" stroke-width="0.6"/>
<text x="495.4" y="446.3" font-size="5.6" text-anchor="middle" fill="#222" transform="rotate(90 495.4 446.3)">MES</text>
<line x1="491.7" y1="462.4" x2="491.7" y2="474.6" stroke="#666" stroke-width="0.6"/>
<text x="495.4" y="468.5" font-size="5.6" text-anchor="middle" fill="#222" transform="rotate(90 495.4 468.5)">OPC</text>
<line x1="491.7" y1="479.9" x2="491.7" y2="501.2" stroke="#666" stroke-width="0.6"/>
<text x="495.4" y="490.55" font-size="5.6" text-anchor="middle" fill="#222" transform="rotate(90 495.4 490.55)">NPC</text>
<text x="478.4" y="368.2" font-size="6.6" fill="#231f20">Cluster |</text>
<text x="478.4" y="376.6" font-size="6.6" fill="#231f20">cell state</text>
<text x="478.4" y="385.4" font-size="6.6" fill="#231f20">assignment</text>
<text x="359.8" y="381.4" font-size="5.5" font-style="italic" fill="#2e8b57">H3.3</text>
<text x="375.5" y="381.4" font-size="5.5" font-style="italic" fill="#4a80b4">CDK4</text>
<text x="392.5" y="381.4" font-size="5.5" font-style="italic" fill="#8e2a8e">PDGFRA</text>
<text x="422.5" y="381.4" font-size="5.5" font-style="italic" fill="#e2a626">NF1</text>
<text x="444.8" y="381.4" font-size="5.5" font-style="italic" fill="#8c1414">EGFR</text>
<line x1="293.15" y1="500.7" x2="293.15" y2="502.2" stroke="#222" stroke-width="0.6"/>
<text x="295.05" y="503.4" font-size="5.25" text-anchor="end" fill="#1a1a1a" transform="rotate(-90 295.05 503.4)" class="dv" stroke="#1a1a1a" stroke-width="0.06">TCGA.DU.6407</text>
<line x1="302.44" y1="500.7" x2="302.44" y2="502.2" stroke="#222" stroke-width="0.6"/>
<text x="304.34" y="503.4" font-size="5.25" text-anchor="end" fill="#1a1a1a" transform="rotate(-90 304.34 503.4)" class="dv" stroke="#1a1a1a" stroke-width="0.06">TCGA.FG.A4MY</text>
<line x1="311.74" y1="500.7" x2="311.74" y2="502.2" stroke="#222" stroke-width="0.6"/>
<text x="313.64" y="503.4" font-size="5.25" text-anchor="end" fill="#1a1a1a" transform="rotate(-90 313.64 503.4)" class="dv" stroke="#1a1a1a" stroke-width="0.06">TCGA.F6.A8O3</text>
<line x1="321.03" y1="500.7" x2="321.03" y2="502.2" stroke="#222" stroke-width="0.6"/>
<text x="322.93" y="503.4" font-size="5.25" text-anchor="end" fill="#1a1a1a" transform="rotate(-90 322.93 503.4)" class="dv" stroke="#1a1a1a" stroke-width="0.06">TCGA.DU.6395</text>
<line x1="330.33" y1="500.7" x2="330.33" y2="502.2" stroke="#222" stroke-width="0.6"/>
<text x="332.23" y="503.4" font-size="5.25" text-anchor="end" fill="#1a1a1a" transform="rotate(-90 332.23 503.4)" class="dv" stroke="#1a1a1a" stroke-width="0.06">TCGA.P5.A77X</text>
<line x1="339.62" y1="500.7" x2="339.62" y2="502.2" stroke="#222" stroke-width="0.6"/>
<text x="341.52" y="503.4" font-size="5.25" text-anchor="end" fill="#1a1a1a" transform="rotate(-90 341.52 503.4)" class="dv" stroke="#1a1a1a" stroke-width="0.06">TCGA.DU.5870</text>
<line x1="348.92" y1="500.7" x2="348.92" y2="502.2" stroke="#222" stroke-width="0.6"/>
<text x="350.82" y="503.4" font-size="5.25" text-anchor="end" fill="#1a1a1a" transform="rotate(-90 350.82 503.4)" class="dv" stroke="#1a1a1a" stroke-width="0.06">TCGA.P5.A735</text>
<line x1="358.21" y1="500.7" x2="358.21" y2="502.2" stroke="#222" stroke-width="0.6"/>
<text x="360.11" y="503.4" font-size="5.25" text-anchor="end" fill="#1a1a1a" transform="rotate(-90 360.11 503.4)" class="dv" stroke="#1a1a1a" stroke-width="0.06">TCGA.P5.A72W</text>
<line x1="367.51" y1="500.7" x2="367.51" y2="502.2" stroke="#222" stroke-width="0.6"/>
<text x="369.41" y="503.4" font-size="5.25" text-anchor="end" fill="#1a1a1a" transform="rotate(-90 369.41 503.4)" class="dv" stroke="#1a1a1a" stroke-width="0.06">TCGA.06.A5U0</text>
<line x1="376.8" y1="500.7" x2="376.8" y2="502.2" stroke="#222" stroke-width="0.6"/>
<text x="378.7" y="503.4" font-size="5.25" text-anchor="end" fill="#1a1a1a" transform="rotate(-90 378.7 503.4)" class="dv" stroke="#1a1a1a" stroke-width="0.06">TCGA.06.A7TK</text>
<line x1="386.1" y1="500.7" x2="386.1" y2="502.2" stroke="#222" stroke-width="0.6"/>
<text x="388" y="503.4" font-size="5.25" text-anchor="end" fill="#1a1a1a" transform="rotate(-90 388 503.4)" class="dv" stroke="#1a1a1a" stroke-width="0.06">TCGA.RR.A6KB</text>
<line x1="395.39" y1="500.7" x2="395.39" y2="502.2" stroke="#222" stroke-width="0.6"/>
<text x="397.29" y="503.4" font-size="5.25" text-anchor="end" fill="#1a1a1a" transform="rotate(-90 397.29 503.4)" class="dv" stroke="#1a1a1a" stroke-width="0.06">TCGA.E1.A7YI</text>
<line x1="404.69" y1="500.7" x2="404.69" y2="502.2" stroke="#222" stroke-width="0.6"/>
<text x="406.59" y="503.4" font-size="5.25" text-anchor="end" fill="#1a1a1a" transform="rotate(-90 406.59 503.4)" class="dv" stroke="#1a1a1a" stroke-width="0.06">TCGA.06.A7TL</text>
<line x1="413.98" y1="500.7" x2="413.98" y2="502.2" stroke="#222" stroke-width="0.6"/>
<text x="415.88" y="503.4" font-size="5.25" text-anchor="end" fill="#1a1a1a" transform="rotate(-90 415.88 503.4)" class="dv" stroke="#1a1a1a" stroke-width="0.06">TCGA.06.A6S1</text>
<line x1="423.28" y1="500.7" x2="423.28" y2="502.2" stroke="#222" stroke-width="0.6"/>
<text x="425.18" y="503.4" font-size="5.25" text-anchor="end" fill="#1a1a1a" transform="rotate(-90 425.18 503.4)" class="dv" stroke="#1a1a1a" stroke-width="0.06">TCGA.DB.A75K</text>
<line x1="432.57" y1="500.7" x2="432.57" y2="502.2" stroke="#222" stroke-width="0.6"/>
<text x="434.47" y="503.4" font-size="5.25" text-anchor="end" fill="#1a1a1a" transform="rotate(-90 434.47 503.4)" class="dv" stroke="#1a1a1a" stroke-width="0.06">TCGA.OX.A56R</text>
<line x1="441.87" y1="500.7" x2="441.87" y2="502.2" stroke="#222" stroke-width="0.6"/>
<text x="443.77" y="503.4" font-size="5.25" text-anchor="end" fill="#1a1a1a" transform="rotate(-90 443.77 503.4)" class="dv" stroke="#1a1a1a" stroke-width="0.06">TCGA.4W.AA9S</text>
<line x1="451.16" y1="500.7" x2="451.16" y2="502.2" stroke="#222" stroke-width="0.6"/>
<text x="453.06" y="503.4" font-size="5.25" text-anchor="end" fill="#1a1a1a" transform="rotate(-90 453.06 503.4)" class="dv" stroke="#1a1a1a" stroke-width="0.06">TCGA.FG.A4MU</text>
<line x1="460.46" y1="500.7" x2="460.46" y2="502.2" stroke="#222" stroke-width="0.6"/>
<text x="462.36" y="503.4" font-size="5.25" text-anchor="end" fill="#1a1a1a" transform="rotate(-90 462.36 503.4)" class="dv" stroke="#1a1a1a" stroke-width="0.06">TCGA.81.5910</text>
<line x1="469.75" y1="500.7" x2="469.75" y2="502.2" stroke="#222" stroke-width="0.6"/>
<text x="471.65" y="503.4" font-size="5.25" text-anchor="end" fill="#1a1a1a" transform="rotate(-90 471.65 503.4)" class="dv" stroke="#1a1a1a" stroke-width="0.06">TCGA.76.6656</text>
<text x="492.2" y="516.6" font-size="5.65" fill="#2a2a2a">ssGSEA</text>
<text x="492.2" y="523.5" font-size="5.65" fill="#2a2a2a">enrichment</text>
<rect x="492.3" y="528.2" width="8" height="30.4" fill="url(#gBl)" stroke="#173e6e" stroke-width="0.7"/>
<text x="503" y="531" font-size="5.9" fill="#222">1</text>
<text x="503.2" y="560.5" font-size="5.9" fill="#222">0</text>
</g>
</svg>
</body></html>
